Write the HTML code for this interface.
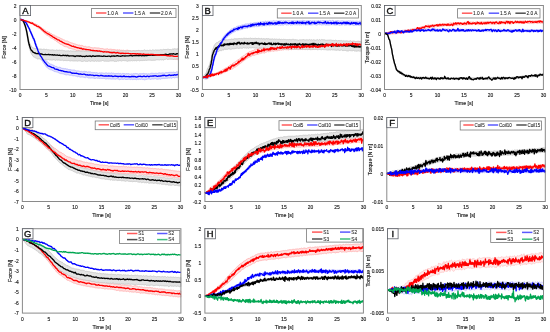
<!DOCTYPE html>
<html><head><meta charset="utf-8"><style>
html,body{margin:0;padding:0;background:#fff;}
svg{display:block;font-family:"Liberation Sans", sans-serif;will-change:transform;filter:blur(0.3px);} .t{fill:#1a1a1a;stroke:#1a1a1a;stroke-width:0.14;} .t2{fill:#1a1a1a;stroke:#1a1a1a;stroke-width:0.06;} .L{fill:#111;stroke:#111;stroke-width:0.4;}
</style></head><body>
<svg width="550" height="332" viewBox="0 0 550 332">
<rect width="550" height="332" fill="#fff"/>
<path d="M20 19.5l.5.1.5 0 .5.2.5 0 .5 0 .5.1.5.1.5.1.5 0 .5.1.5.3.5.2.5.3.5.2.5.1.5 0 .5 0 .6.3.5.2.5.3.5.1.5-.1.5.1.5.3.5.2.5.1.5.3.5.4.5.2.5.1.5.1.5.3.5.4.5.1.5.1.5.5.5.4.5.3.5.3.5.2.5.3.5.4.5.4.5.5.5.4.5.2.5.3.5.5.5.5.5.2.5.2.5.4.6.6.5.2.5-.1.5.3.5.5.5 0 .5.3.5.5.5.4.5.1.5.3.5.4.5.4.5.2.5.1.5.1.5.3.5.4.5.4.5.1.5.1.5.4.5.3.5.1.5.2.5.1.5.2.5.4.5.3.5.2.5.2.5.1.5.3.5.5.5.3.6 0 .5.3.5.4.5.2.5.1.5-.1.5 0 .5.4.5.2.5.1.5.3.5.4.5.2.5.1.5.2.5.2.5.1.5.1.5.2.5.3.5.1.5.1.5.2.5.1.5.2.5.3.5.1.5.1.5.2.5.1.5-.1.5.1.5.2.5.1.5-.1.6 0 .5.2.5.2.5.4.5.2.5 0 .5 0 .5-.1.5.2.5.3.5.3.5-.1.5-.2.5 0 .5 0 .5 0 .5.2.5.3.5.2.5 0 .5.2.5.1.5 0 .5.1.5-.1.5-.1.5 0 .5.1.5 0 .5.1.5.1.5 0 .5 0 .5 0 .5 0 .6.2.5.2.5.1.5 0 .5 0 .5-.1.5.1.5.3.5.1.5.1.5.2.5-.1.5 0 .5.1.5-.2.5-.2.5 0 .5.3.5.3.5-.1.5 0 .5 0 .5-.1.5-.1.5.2.5.1.5.1.5.2.5-.2.5-.2.5.2.5.2.5.1.5.1.5.1.6-.1.5-.2.5.2.5.2.5-.2.5-.1.5.3.5.2.5 0 .5-.1.5 0 .5.2.5-.1.5-.1.5.4.5.2.5-.3.5 0 .5.1.5-.4.5-.2.5.2.5.2.5.1.5.2.5 0 .5-.1.5.2.5.4.5 0 .5-.2.5 0 .5-.1.5-.1.5.1.6.1.5.1.5-.1.5-.2.5.2.5.1.5-.2.5-.1.5 0 .5.1.5.3.5.2.5 0 .5-.2.5 0 .5 0 .5 0 .5.2.5.1.5 0 .5-.2.5 0 .5.2.5.1.5-.2.5-.2.5.3.5.3.5 0 .5-.1.5-.3.5-.3.5 0 .5.2.5.2.6.2.5.1.5 0 .5 0 .5-.1.5 0 .5.1.5-.2.5-.3.5.3.5 0 .5-.1.5.2.5.2.5-.2.5 0 .5.2.5.2.5.3.5-.1.5-.3.5.1.5.4.5.2.5-.1.5.1.5.1.5-.2.5-.2.5-.1.5.3.5.2.5-.2.5-.1.5.1.6.2.5.2.5 0 .5.1.5 0 .5.1.5.2.5-.1.5-.2.5-.1.5 0 .5.2.5.3.5.3.5 0 .5-.3.5 0 .5.2 0 6-.5-.1-.5 0-.5-.1-.5-.2-.5-.3-.5.2-.5 0-.5-.2-.5.1-.5.1-.5-.2-.5-.3-.5 0-.5 0-.5 0-.5.1-.5-.1-.6-.1-.5.2-.5.1-.5 0-.5-.1-.5-.2-.5-.2-.5.1-.5 0-.5 0-.5 0-.5-.3-.5-.1-.5 0-.5.2-.5-.1-.5-.2-.5.2-.5.1-.5-.2-.5 0-.5-.1-.5-.2-.5-.1-.5 0-.5.3-.5 0-.5-.2-.5 0-.5-.2-.5 0-.5 0-.5-.2-.5.1-.5.3-.6.1-.5-.2-.5-.3-.5.1-.5.2-.5.1-.5-.2-.5 0-.5.2-.5-.1-.5-.2-.5-.2-.5 0-.5-.1-.5 0-.5.2-.5 0-.5-.2-.5 0-.5 0-.5-.1-.5-.2-.5-.1-.5.1-.5.4-.5.1-.5-.1-.5-.1-.5-.1-.5 0-.5.1-.5-.1-.5-.2-.5.3-.5.2-.6-.2-.5-.1-.5 0-.5-.2-.5-.1-.5 0-.5.2-.5 0-.5-.2-.5-.3-.5-.2-.5 0-.5.1-.5.3-.5.2-.5-.1-.5-.2-.5 0-.5-.1-.5-.2-.5 0-.5-.1-.5 0-.5-.1-.5-.1-.5.3-.5.1-.5-.2-.5-.3-.5.1-.5.1-.5 0-.5 0-.5-.2-.5 0-.6 0-.5-.1-.5-.1-.5.1-.5-.1-.5-.2-.5 0-.5-.1-.5-.1-.5.1-.5 0-.5 0-.5-.1-.5-.1-.5 0-.5.2-.5-.1-.5-.3-.5 0-.5.1-.5-.1-.5-.5-.5-.2-.5.3-.5 0-.5.1-.5 0-.5-.3-.5-.2-.5.3-.5.3-.5 0-.5-.4-.5-.2-.5 0-.6.1-.5 0-.5-.2-.5-.3-.5-.1-.5.1-.5.1-.5 0-.5 0-.5-.3-.5-.3-.5-.1-.5-.1-.5 0-.5 0-.5-.1-.5-.1-.5.1-.5.2-.5-.1-.5-.4-.5 0-.5.3-.5-.1-.5-.2-.5-.3-.5-.1-.5 0-.5-.1-.5-.1-.5 0-.5-.2-.5-.2-.5 0-.5-.1-.6-.1-.5.1-.5 0-.5-.3-.5-.3-.5-.2-.5-.1-.5.1-.5 0-.5-.1-.5-.3-.5-.3-.5-.3-.5-.1-.5-.2-.5-.2-.5 0-.5-.2-.5 0-.5-.2-.5-.3-.5-.2-.5 0-.5-.1-.5 0-.5-.1-.5-.4-.5-.4-.5-.4-.5-.2-.5 0-.5 0-.5-.2-.5 0-.5-.2-.6-.4-.5-.3-.5-.4-.5-.3-.5-.3-.5-.2-.5-.2-.5 0-.5-.4-.5-.5-.5-.4-.5-.6-.5-.4-.5-.1-.5-.3-.5-.4-.5-.8-.5-.4-.5 0-.5-.1-.5-.4-.5-.5-.5-.3-.5-.1-.5-.2-.5-.3-.5-.2-.5-.3-.5-.5-.5-.7-.5-.5-.5-.1-.5-.3-.5-.3-.5-.2-.6-.3-.5-.4-.5-.6-.5-.5-.5-.4-.5-.4-.5-.4-.5-.4-.5-.5-.5-.4-.5-.5-.5-.6-.5-.4-.5-.4-.5-.5-.5-.2-.5-.1-.5-.3-.5-.2-.5-.6-.5-.7-.5-.2-.5-.2-.5-.4-.5-.3-.5-.2-.5-.1-.5-.3-.5-.5-.5-.1-.5-.2-.5-.3-.5-.3-.5-.2-.5 0-.6-.1-.5-.5-.5-.5-.5-.3-.5-.1-.5 0-.5.1-.5-.2-.5-.2-.5-.2-.5-.2-.5-.2-.5-.2-.5-.2-.5-.2-.5-.1-.5-.2-.5-.1z" fill="#ffe0e0" stroke="#ffa0a0" stroke-width="0.7"/>
<path d="M20 19.5l.5-.1.5.1.5 0 .5-.1.5.1.5.1.5.2.5.3.5.5.5.6.5.4.5.7.5.7.5.5.5.7.5 1.1.5 1.2.6 1 .5.9.5 1 .5 1.3.5 1.2.5 1.2.5 1.2.5.9.5.7.5 1.2.5 1.4.5 1.4.5 1.3.5 1.5.5 1.4.5 1.3.5 1.1.5 1.3.5 1.2.5 1.1.5 1.2.5 1.1.5.7.5.6.5.7.5.7.5.7.5.8.5.7.5.7.5.8.5.6.5.5.5.4.5.3.6.4.5.7.5.7.5.3.5.1.5.4.5.5.5.3.5.2.5.1.5.1.5.3.5.3.5.2.5.1.5.2.5.5.5.4.5 0 .5 0 .5.2.5.3.5.3.5.2.5-.1.5-.1.5.1.5.1.5.2.5.5.5.1.5 0 .5.3.5 0 .5-.1.6.2.5.1.5-.1.5 0 .5.3.5.1.5-.1.5.4.5.2.5 0 .5.1.5 0 .5 0 .5.2.5.2.5-.1.5.1.5.2.5-.1.5 0 .5 0 .5.1.5.3.5.1.5.2.5.3.5-.1.5-.2.5.1.5.1.5.2.5.1.5.2.5 0 .5-.1.6 0 .5.3.5.2.5-.2.5-.4.5 0 .5.1.5.2.5 0 .5 0 .5.2.5.3.5.1.5-.3.5 0 .5 0 .5 0 .5 0 .5.3.5.2.5 0 .5 0 .5.2.5 0 .5 0 .5 0 .5 0 .5.2.5 0 .5-.2.5.1.5.2.5.3.5.1.5-.2.6-.2.5 0 .5.1.5 0 .5-.1.5 0 .5.1.5.1.5.1.5.1.5 0 .5-.1.5-.2.5-.1.5 0 .5.2.5.2.5-.2.5 0 .5.1.5 0 .5-.1.5.2.5-.1.5-.3.5.1.5.3.5 0 .5-.1.5.2.5.2.5 0 .5 0 .5 0 .5-.1.6 0 .5 0 .5-.2.5.1.5.2.5 0 .5-.2.5.1.5.4.5 0 .5-.3.5-.2.5 0 .5.2.5.1.5-.1.5.2.5.1.5-.3.5 0 .5.1.5 0 .5-.1.5 0 .5.3.5.1.5.1.5 0 .5-.2.5 0 .5.1.5 0 .5-.2.5-.1.5 0 .6 0 .5-.2.5 0 .5.1.5 0 .5.1.5.1.5.2.5.1.5-.2.5-.3.5.1.5 0 .5.1.5-.1.5-.1.5 0 .5-.1.5-.1.5.1.5.3.5.1.5-.2.5 0 .5.1.5.1.5.1.5-.2.5 0 .5.1.5 0 .5-.3.5-.2.5-.1.5 0 .6 0 .5 0 .5.1.5 0 .5 0 .5.1.5-.1.5-.2.5 0 .5.3.5 0 .5-.2.5-.2.5-.2.5-.1.5.3.5.1.5-.2.5 0 .5.1.5-.2.5 0 .5.1.5-.1.5.2.5.1.5-.4.5-.2.5 0 .5-.1.5 0 .5.3.5-.2.5-.3.5 0 .6.2.5-.1.5-.2.5.1.5.1.5 0 .5-.2.5-.1.5.2.5.1.5.2.5 0 .5-.5.5-.3.5.1.5 0 .5-.2.5-.1 0 5.7-.5.3-.5 0-.5 0-.5-.2-.5-.1-.5.4-.5.3-.5-.1-.5-.2-.5-.2-.5-.1-.5.6-.5.4-.5-.2-.5-.2-.5-.1-.5.1-.6 0-.5 0-.5 0-.5.2-.5.1-.5 0-.5 0-.5 0-.5.2-.5.1-.5-.2-.5 0-.5 0-.5.1-.5.1-.5-.1-.5.3-.5.4-.5-.1-.5-.2-.5 0-.5.1-.5.1-.5.1-.5 0-.5 0-.5-.2-.5-.2-.5-.2-.5.1-.5.2-.5.1-.5 0-.5-.1-.5.1-.6.1-.5.1-.5.2-.5-.1-.5-.2-.5-.1-.5-.1-.5.1-.5.1-.5.1-.5.2-.5.1-.5.1-.5 0-.5.2-.5-.1-.5-.2-.5.1-.5 0-.5-.3-.5-.2-.5.1-.5.2-.5 0-.5-.2-.5 0-.5.3-.5 0-.5-.2-.5.2-.5.2-.5-.2-.5-.1-.5 0-.5 0-.6-.1-.5.1-.5.2-.5 0-.5-.1-.5-.2-.5-.1-.5.3-.5.1-.5-.3-.5-.2-.5.1-.5.1-.5.1-.5.1-.5 0-.5 0-.5 0-.5-.2-.5-.3-.5 0-.5.3-.5.3-.5-.2-.5-.3-.5 0-.5.3-.5 0-.5.1-.5.2-.5-.2-.5-.3-.5-.1-.5-.2-.5 0-.6 0-.5.1-.5.2-.5 0-.5-.1-.5-.1-.5 0-.5 0-.5 0-.5 0-.5.1-.5 0-.5-.2-.5 0-.5-.1-.5-.1-.5.2-.5 0-.5-.2-.5.1-.5.1-.5.1-.5-.1-.5-.2-.5-.2-.5-.1-.5 0-.5.1-.5 0-.5-.1-.5 0-.5-.1-.5 0-.5.3-.5-.1-.6-.2-.5 0-.5.1-.5-.1-.5-.3-.5 0-.5.3-.5.2-.5 0-.5-.1-.5-.1-.5-.2-.5 0-.5-.2-.5-.1-.5.2-.5 0-.5.1-.5 0-.5-.2-.5 0-.5.1-.5-.2-.5-.3-.5-.3-.5-.1-.5.4-.5.2-.5-.1-.5-.1-.5-.2-.5-.1-.5-.2-.5.1-.5 0-.6-.1-.5.1-.5.1-.5-.2-.5-.3-.5-.2-.5.1-.5.2-.5-.1-.5-.2-.5-.4-.5-.1-.5 0-.5-.2-.5-.1-.5.1-.5-.1-.5 0-.5-.1-.5-.3-.5-.1-.5.1-.5-.1-.5 0-.5-.1-.5-.2-.5-.1-.5 0-.5-.2-.5 0-.5.4-.5-.1-.5-.3-.5-.1-.5-.2-.6-.3-.5-.1-.5-.1-.5-.1-.5 0-.5-.1-.5 0-.5-.1-.5-.2-.5-.4-.5-.2-.5-.1-.5-.3-.5-.4-.5 0-.5-.1-.5-.2-.5.2-.5-.1-.5-.4-.5-.3-.5-.2-.5-.2-.5-.4-.5-.3-.5 0-.5-.1-.5-.2-.5-.2-.5-.3-.5-.3-.5-.3-.5-.3-.5-.6-.5-.5-.6-.4-.5-.8-.5-.8-.5-.8-.5-.5-.5-.5-.5-.9-.5-.9-.5-.7-.5-.9-.5-1.2-.5-1-.5-.6-.5-1-.5-1.1-.5-.9-.5-1.1-.5-1.2-.5-1.4-.5-1.9-.5-1.5-.5-1.1-.5-1.4-.5-1.7-.5-1.5-.5-1.1-.5-1.1-.5-1.3-.5-1.3-.5-1.2-.5-1.3-.5-1.2-.5-1-.5-1.2-.5-1.2-.6-1.1-.5-1.1-.5-.9-.5-1.1-.5-1-.5-.7-.5-.5-.5-.7-.5-.7-.5-.6-.5-.5-.5-.4-.5-.1-.5-.2-.5-.1-.5-.1-.5 0-.5-.1z" fill="#e0e0ff" stroke="#a8a8ff" stroke-width="0.7"/>
<path d="M20 19.5l.5-.1.5 0 .5 0 .5.1.5.1.5.3.5.4.5.7.5 1 .5 1.3.5 1.8.5 2 .5 2.2.5 2.2.5 2.3.5 2.6.5 2.6.6 2.3.5 1.7.5 1 .5.9.5 1.2.5.8.5.4.5.1.5.3.5.4.5 0 .5.2.5.3.5-.1.5-.1.5.2.5 0 .5 0 .5.2.5.3.5.1.5-.2.5-.1.5.2.5 0 .5.1.5.2.5 0 .5-.1.5-.2.5-.1.5.3.5.3.5-.1.5-.2.6.1.5.3.5 0 .5-.1.5.2.5.1.5 0 .5 0 .5.2.5 0 .5-.2.5-.1.5.1.5.2.5 0 .5.1.5.1.5.1.5-.1.5-.3.5-.1.5.2.5.2.5 0 .5 0 .5-.1.5-.1.5.1.5.3.5 0 .5-.3.5 0 .5.2.5.3.5-.1.6 0 .5.2.5.2.5-.1.5 0 .5 0 .5 0 .5-.1.5 0 .5.1.5.2.5-.1.5-.3.5.2.5.1.5-.1.5.1.5.1.5-.1.5-.1.5.1.5.2.5.1.5-.2.5 0 .5.1.5 0 .5-.3.5-.1.5.1.5 0 .5.1.5.1.5 0 .5 0 .6 0 .5-.1.5 0 .5-.1.5 0 .5.2.5 0 .5-.1.5.1.5.1.5 0 .5 0 .5.1.5-.2.5-.1.5.1.5.3.5.1.5-.1.5-.1.5-.1.5.1.5-.1.5.1.5 0 .5-.2.5 0 .5.2.5.3.5.1.5-.4.5-.3.5-.2.5.2.5.1.6-.1.5.1.5-.2.5.1.5 0 .5 0 .5.2.5 0 .5-.3.5-.1.5.3.5-.1.5-.1.5 0 .5.1.5.1.5.1.5.1.5.2.5 0 .5-.2.5.1.5 0 .5-.2.5-.2.5.1.5.1.5.1.5-.1.5-.1.5.1.5.1.5-.2.5-.1.5 0 .6 0 .5 0 .5 0 .5.2.5.1.5-.2.5-.2.5.1.5-.1.5-.1.5-.1.5.2.5.1.5-.1.5-.1.5 0 .5.2.5.2.5-.1.5-.1.5-.1.5-.2.5 0 .5.1.5.1.5-.1.5-.1.5.3.5.1.5-.2.5 0 .5 0 .5-.1.5-.1.5.1.6.1.5 0 .5-.1.5-.2.5.1.5 0 .5-.1.5-.1.5-.1.5 0 .5.3.5.1.5-.1.5 0 .5-.2.5.1.5.2.5-.2.5-.6.5-.3.5.4.5.4.5-.1.5 0 .5 0 .5-.1.5.1.5.1.5 0 .5-.2.5-.1.5 0 .5.1.5.2.5.1.6-.5.5-.4.5.2.5.3.5.1.5-.1.5-.3.5 0 .5.1.5 0 .5 0 .5 0 .5 0 .5.1.5 0 .5-.2.5-.2.5 0 .5.1.5 0 .5.1.5-.2.5-.3.5 0 .5.1.5.1.5-.1.5.1.5 0 .5-.3.5-.1.5.2.5 0 .5-.2.5.3.6.1.5-.1.5 0 .5.2.5-.2.5-.4.5-.1.5.1.5-.3.5-.1.5.2.5 0 .5 0 .5.1.5 0 .5-.2.5-.1.5.1 0 10.2-.5-.1-.5 0-.5 0-.5 0-.5.2-.5.2-.5 0-.5-.2-.5.2-.5.1-.5-.1-.5-.1-.5 0-.5 0-.5-.1-.5 0-.5.1-.6-.1-.5 0-.5.4-.5.1-.5-.2-.5-.3-.5-.2-.5.2-.5.4-.5 0-.5.1-.5.3-.5.2-.5-.3-.5-.1-.5.1-.5 0-.5-.2-.5.2-.5.2-.5-.2-.5 0-.5 0-.5 0-.5-.1-.5 0-.5.2-.5.1-.5.2-.5.1-.5 0-.5 0-.5 0-.5.1-.5-.1-.6 0-.5.1-.5-.1-.5-.3-.5 0-.5.3-.5-.1-.5-.2-.5.1-.5.3-.5.1-.5-.2-.5-.1-.5.2-.5.1-.5-.1-.5 0-.5 0-.5.1-.5.2-.5-.1-.5-.2-.5.1-.5.2-.5.1-.5 0-.5-.2-.5-.4-.5.1-.5.5-.5.1-.5-.1-.5-.2-.5 0-.5.1-.6 0-.5-.1-.5 0-.5.2-.5 0-.5-.2-.5 0-.5.2-.5 0-.5 0-.5 0-.5.1-.5.1-.5.2-.5 0-.5-.2-.5-.2-.5-.1-.5.1-.5-.1-.5-.1-.5 0-.5-.1-.5.1-.5.4-.5.1-.5-.2-.5-.2-.5 0-.5 0-.5.1-.5.2-.5.1-.5-.2-.5.2-.6.3-.5 0-.5-.1-.5 0-.5.1-.5-.2-.5-.3-.5 0-.5 0-.5.1-.5-.1-.5-.1-.5.1-.5.2-.5 0-.5.2-.5 0-.5 0-.5-.1-.5-.1-.5.1-.5 0-.5-.1-.5.1-.5 0-.5-.1-.5-.3-.5-.2-.5-.1-.5.1-.5.4-.5.2-.5-.1-.5 0-.5.1-.6 0-.5 0-.5-.1-.5-.1-.5.3-.5 0-.5-.4-.5 0-.5.3-.5.1-.5 0-.5-.2-.5-.2-.5.1-.5 0-.5 0-.5.2-.5.2-.5-.2-.5-.3-.5 0-.5.1-.5.2-.5.2-.5-.1-.5 0-.5.2-.5-.3-.5-.3-.5 0-.5.2-.5.1-.5.1-.5.1-.5 0-.6-.1-.5-.3-.5-.1-.5-.1-.5 0-.5 0-.5.1-.5.1-.5.2-.5-.1-.5-.2-.5.1-.5-.1-.5 0-.5.1-.5 0-.5 0-.5-.1-.5-.1-.5-.1-.5.1-.5.2-.5-.1-.5-.1-.5-.1-.5-.2-.5 0-.5.1-.5 0-.5 0-.5 0-.5-.1-.5.1-.5-.1-.5 0-.6.1-.5.1-.5-.4-.5-.2-.5.2-.5-.1-.5 0-.5.2-.5-.1-.5-.3-.5-.1-.5.3-.5 0-.5-.2-.5-.1-.5.2-.5.3-.5-.2-.5-.2-.5-.2-.5-.1-.5.2-.5.1-.5 0-.5.1-.5-.3-.5 0-.5.2-.5 0-.5-.2-.5-.3-.5 0-.5.2-.5.1-.5-.3-.6-.1-.5 0-.5.2-.5.2-.5-.1-.5-.3-.5.1-.5.2-.5 0-.5 0-.5-.3-.5-.2-.5-.1-.5-.2-.5-.1-.5 0-.5.1-.5.1-.5-.2-.5-.5-.5-.3-.5-.1-.5-.3-.5-.3-.5-.2-.5-.3-.5-.4-.5-.7-.5-.8-.5-.9-.5-.8-.5-1.3-.5-1.5-.5-1.6-.5-2-.6-2.7-.5-2.8-.5-2.8-.5-2.9-.5-2.6-.5-2.2-.5-2.3-.5-2-.5-1.5-.5-1.2-.5-.9-.5-.9-.5-.7-.5-.5-.5-.4-.5-.4-.5-.3-.5-.2z" fill="#e3e3e3" stroke="#bdbdbd" stroke-width="0.7"/>
<path d="M20 19.5l.5 0 .5.2.5.2.5.2.5.3.5.4.5.7.5 1.1.5 1.4.5 1.3.5 1.5.5 1.9.5 2 .5 2.5.5 2.9.5 2.8.5 2.9.6 2.5.5 1.7.5 1.6.5 1.4.5.9.5.5.5.5.5.8.5.5.5.2.5.2.5.4.5 0 .5.2.5.4.5 0 .5.1.5-.2.5-.1.5.3.5 0 .5-.1.5.4.5.2.5-.2.5 0 .5.1.5.3.5.2.5 0 .5 0 .5 0 .5-.1.5-.1.5.2.6.1.5-.1.5 0 .5-.1.5-.1.5.3.5.1.5-.2.5.1.5.1.5 0 .5-.2.5.1.5.4.5 0 .5-.4.5.1.5.2.5.1.5.1.5-.1.5-.1.5.2.5.1.5 0 .5-.2.5 0 .5.4.5.1.5 0 .5 0 .5-.1.5-.2.5-.1.5.2.6.2.5-.2.5-.1.5.2.5.2.5 0 .5-.3.5-.1.5.4.5.3.5 0 .5-.1.5-.1.5 0 .5.1.5 0 .5-.1.5.1.5.1.5 0 .5.2.5.3.5 0 .5-.3.5-.4.5 0 .5.2.5-.1.5 0 .5.3.5.1.5-.4.5-.1.5.2.5.1.6.3.5.1.5-.1.5-.1.5.1.5.1.5 0 .5-.1.5-.3.5-.1.5.2.5.2.5 0 .5-.3.5 0 .5.1.5-.2.5 0 .5.4.5.2.5-.3.5-.3.5-.2.5.1.5.3.5.1.5-.1.5 0 .5 0 .5-.1.5-.2.5.1.5.1.5-.1.5-.1.6.1.5.1.5.1.5-.1.5 0 .5.2.5.1.5-.1.5-.3.5 0 .5.1.5 0 .5.2.5.1.5-.1.5 0 .5 0 .5-.2.5 0 .5 0 .5.1.5.2.5.1.5 0 .5-.3.5-.2.5.1.5 0 .5-.1.5 0 .5.2.5 0 .5-.1.5 0 .5-.2.6-.2.5 0 .5.1.5.2.5.1.5 0 .5.1.5.1.5-.2.5-.1.5-.2.5-.1.5.1.5 0 .5.1.5.1.5.1.5-.2.5-.1.5 0 .5 0 .5 0 .5 0 .5 0 .5 0 .5-.1.5-.1.5-.1.5 0 .5.2.5.3.5-.1.5-.3.5 0 .5.1.6-.1.5.1.5-.1.5-.2.5.1.5.1.5 0 .5-.1.5.2.5 0 .5-.3.5 0 .5.1.5.1.5.2.5-.2.5-.3.5 0 .5.3.5.2.5-.2.5-.1.5 0 .5.1.5.1.5-.2.5-.1.5 0 .5-.1.5 0 .5.1.5-.1.5-.2.5-.1.5 0 .6.3.5.1.5 0 .5 0 .5-.1.5-.1.5 0 .5-.1.5 0 .5 0 .5.1.5-.2.5-.1.5.2.5.1.5-.3.5-.2.5.1.5 0 .5-.2.5.1.5.1.5-.1.5.1.5-.1.5-.2.5-.1.5-.2.5.2.5.2.5 0 .5 0 .5 0 .5-.1.5-.3.6-.3.5.1.5.1.5-.2.5 0 .5.2.5-.2.5-.2.5.2.5.2.5 0 .5.1.5 0 .5-.2.5-.4.5 0 .5.2.5.1" fill="none" stroke="#000000" stroke-width="1.35" stroke-linejoin="round"/>
<path d="M20 19.5l.5 0 .5 0 .5 0 .5.2.5.2.5.1.5.3.5.4.5.4.5.6.5.5.5.5.5.8.5.9.5 1 .5.9.5 1 .6 1 .5 1.1.5 1.3.5 1.2.5 1.1.5 1.1.5 1.1.5 1.4.5 1.2.5.7.5 1 .5 1.5.5 1.7.5 1.5.5 1.5.5 1.3.5 1.3.5 1.3.5 1.3.5 1.2.5.9.5 1 .5 1.1.5 1 .5.5.5.6.5 1 .5 1 .5.8.5.6.5.6.5.8.5.7.5.3.5.7.6.8.5.4.5.6.5.5.5.1.5 0 .5.2.5.4.5.2.5.2.5.3.5.2.5 0 .5-.1.5.3.5.6.5.4.5.3.5 0 .5 0 .5.3.5.1.5-.1.5.4.5.4.5.2.5 0 .5 0 .5.1.5.3.5 0 .5 0 .5.1.5.2.5.3.6.1.5.1.5.1.5.1.5 0 .5 0 .5.1.5.2.5 0 .5 0 .5.1.5 0 .5 0 .5.3.5.3.5.2.5.2.5.2.5-.2.5 0 .5.2.5-.1.5 0 .5.1.5-.1.5 0 .5.3.5.1.5 0 .5.4.5 0 .5-.1.5-.1.5.1.5.2.6.2.5 0 .5-.1.5-.1.5 0 .5 0 .5.2.5.2.5.3.5 0 .5-.1.5 0 .5.2.5.2.5 0 .5-.2.5-.1.5 0 .5.2.5.1.5-.1.5 0 .5.1.5.2.5.2.5 0 .5-.1.5-.1.5 0 .5 0 .5 0 .5.1.5.1.5.1.5.2.6-.1.5-.1.5-.2.5 0 .5 0 .5 0 .5.3.5 0 .5.1.5.2.5 0 .5-.2.5-.1.5.2.5 0 .5 0 .5.1.5-.1.5-.2.5 0 .5.2.5.2.5 0 .5-.2.5-.1.5.2.5.2.5.2.5-.1.5-.1.5-.1.5-.2.5.2.5.2.5-.1.6 0 .5.2.5.2.5-.2.5-.2.5.1.5-.1.5 0 .5.2.5 0 .5 0 .5.1.5-.1.5-.4.5-.1.5.4.5.3.5-.1.5-.1.5.1.5.1.5 0 .5-.1.5-.1.5.3.5 0 .5-.1.5.2.5-.1.5-.4.5-.1.5.3.5.1.5-.3.5 0 .6.2.5 0 .5.1.5.5.5 0 .5-.3.5-.2.5-.2.5-.2.5.1.5 0 .5-.2.5.1.5.3.5 0 .5.1.5-.1.5-.2.5-.2.5 0 .5.2.5.2.5 0 .5-.1.5-.2.5-.1.5 0 .5.1.5.4.5-.1.5-.3.5-.1.5 0 .5-.1.5.1.6-.1.5-.1.5 0 .5 0 .5-.1.5-.1.5 0 .5.1.5.1.5.2.5.2.5-.1.5-.2.5-.1.5 0 .5.1.5-.1.5-.2.5.1.5-.1.5-.4.5 0 .5.1.5-.2.5 0 .5.1.5.2.5.2.5.1.5-.2.5-.1.5-.1.5-.2.5-.2.5-.2.6.2.5.3.5.1.5-.1.5-.2.5-.1.5.2.5 0 .5-.3.5-.2.5 0 .5.2.5 0 .5-.2.5 0 .5-.1.5-.2.5-.1" fill="none" stroke="#0000ff" stroke-width="1.35" stroke-linejoin="round"/>
<path d="M20 19.5l.5.1.5.1.5.1.5.2.5.1.5.1.5.2.5.2.5.1.5.2.5.1.5.1.5.1.5.2.5.3.5.2.5 0 .6.2.5.2.5.3.5.3.5.4.5 0 .5-.3.5.2.5.5.5.4.5.3.5.5.5.3.5-.1.5.3.5.6.5.3.5.1.5 0 .5.2.5.5.5.4.5.2.5.4.5.5.5.4.5.4.5.5.5.4.5.4.5.6.5.4.5.3.5.2.5.4.6.4.5.3.5.3.5.4.5.2.5.2.5.4.5.4.5.3.5.1.5.3.5.5.5.3.5.4.5.3.5.1.5.4.5.5.5.1.5.2.5.4.5.4.5.3.5 0 .5.1.5.4.5.4.5.4.5.2.5 0 .5.3.5.6.5.3.5.1.5.2.6.4.5.3.5.2.5.1.5.1.5.2.5.2.5-.1.5.3.5.2.5.1.5.3.5.3.5.2.5.2.5.3.5.2.5 0 .5-.1.5.2.5.5.5.1.5-.1.5.2.5.3.5.2.5.1.5 0 .5.1.5.1.5.2.5.3.5.1.5-.3.5 0 .6.6.5.4.5-.3.5-.1.5.2.5.1.5 0 .5.2.5.2.5 0 .5.1.5 0 .5 0 .5.1.5.1.5.1.5-.1.5.2.5.4.5 0 .5 0 .5.1.5-.1.5.1.5.2.5 0 .5-.1.5.2.5 0 .5-.2.5.1.5.3.5.2.5-.1.5-.1.6-.1.5.3.5.3.5-.1.5 0 .5.2.5.1.5.2.5.1.5-.1.5-.2.5.1.5.1.5 0 .5.1.5-.1.5 0 .5.2.5-.1.5 0 .5.4.5.2.5-.1.5-.1.5.1.5.4.5-.1.5-.4.5 0 .5.1.5 0 .5.1.5.2.5.2.5-.1.6-.4.5.1.5.2.5.2.5.2.5-.1.5 0 .5.4.5 0 .5-.3.5 0 .5 0 .5-.1.5.2.5.2.5-.1.5-.1.5.2.5-.1.5 0 .5 0 .5 0 .5 0 .5 0 .5.2.5 0 .5.1.5 0 .5.1.5 0 .5-.1.5 0 .5-.1.5.1.5.1.6-.1.5 0 .5.3.5 0 .5-.2.5-.1.5.2.5.1.5-.1.5.1.5 0 .5-.1.5.1.5.1.5 0 .5 0 .5.2.5-.1.5-.2.5.2.5.1.5 0 .5 0 .5 0 .5.1.5 0 .5 0 .5 0 .5-.1.5.2.5.1.5-.1.5 0 .5 0 .5-.2.6.1.5.1.5 0 .5.1.5.2.5.1.5-.2.5 0 .5 0 .5.1.5.4.5-.2.5-.1.5.2.5-.1.5-.1.5.3.5.1.5-.1.5 0 .5 0 .5 0 .5.1.5.1.5-.2.5 0 .5.1.5.1.5.2.5.1.5.1.5-.1.5 0 .5 0 .5.2.6.2.5-.2.5-.2.5.1.5 0 .5.1.5.1.5.1.5.2.5 0 .5 0 .5.1.5 0 .5 0 .5-.1.5-.1.5.1.5.1" fill="none" stroke="#ff0000" stroke-width="1.35" stroke-linejoin="round"/>
<rect x="20.0" y="5.5" width="158.4" height="84.0" fill="none" stroke="#8a8a8a" stroke-width="1"/>
<text x="16.4" y="7.7" font-size="4.9" text-anchor="end" class="t">2</text>
<text x="16.4" y="21.7" font-size="4.9" text-anchor="end" class="t">0</text>
<text x="16.4" y="35.7" font-size="4.9" text-anchor="end" class="t">-2</text>
<text x="16.4" y="49.7" font-size="4.9" text-anchor="end" class="t">-4</text>
<text x="16.4" y="63.7" font-size="4.9" text-anchor="end" class="t">-6</text>
<text x="16.4" y="77.7" font-size="4.9" text-anchor="end" class="t">-8</text>
<text x="16.4" y="91.7" font-size="4.9" text-anchor="end" class="t">-10</text>
<text x="20.0" y="97.1" font-size="4.9" text-anchor="middle" class="t">0</text>
<text x="46.4" y="97.1" font-size="4.9" text-anchor="middle" class="t">5</text>
<text x="72.8" y="97.1" font-size="4.9" text-anchor="middle" class="t">10</text>
<text x="99.2" y="97.1" font-size="4.9" text-anchor="middle" class="t">15</text>
<text x="125.6" y="97.1" font-size="4.9" text-anchor="middle" class="t">20</text>
<text x="152.0" y="97.1" font-size="4.9" text-anchor="middle" class="t">25</text>
<text x="178.4" y="97.1" font-size="4.9" text-anchor="middle" class="t">30</text>
<text x="99.2" y="104.9" font-size="5.3" text-anchor="middle" class="t">Time [s]</text>
<text transform="translate(6.2,47.5) rotate(-90)" font-size="5.5" text-anchor="middle" class="t">Force [N]</text>
<rect x="20.0" y="5.5" width="10.6" height="10.1" fill="#fff" stroke="#5c6068" stroke-width="0.8"/>
<text x="25.3" y="14.2" font-size="9.4" text-anchor="middle" class="L">A</text>
<rect x="91.5" y="8.6" width="84.5" height="9.0" fill="#fff" stroke="#7a7a7a" stroke-width="0.8"/>
<line x1="96.0" y1="13.0" x2="106.4" y2="13.0" stroke="#ff5a5a" stroke-width="1.5"/>
<text x="107.2" y="14.7" font-size="4.8" class="t2">1.0 A</text>
<line x1="123.0" y1="13.0" x2="133.4" y2="13.0" stroke="#5a5aff" stroke-width="1.5"/>
<text x="134.2" y="14.7" font-size="4.8" class="t2">1.5 A</text>
<line x1="149.8" y1="13.0" x2="160.2" y2="13.0" stroke="#505050" stroke-width="1.5"/>
<text x="161.0" y="14.7" font-size="4.8" class="t2">2.0 A</text>
<path d="M202.4 77.5l.3-.1.4 0 .3-.1.3-.3.4-.1.3 0 .3 0 .4 0 .3-.2.3-.1.4-.1.3-.2.3-.1.4-.1.3-.1.4-.2.3-.3.3 0 .4 0 .3 0 .3-.1.4 0 .3-.3.3-.3.4 0 .3-.1.3 0 .4.1.3-.1.3-.1.4-.2.3-.2.3-.1.4-.2.3-.2.3-.2.4-.1.3-.1.3.1.4.2.3-.1.4-.4.3-.3.3-.1.4-.3.3-.2.3-.2.4-.1.3-.1.3 0 .4-.3.3-.2.3-.1.4-.3.3-.3.3-.1.4 0 .3-.1.3-.2.4-.3.3-.2.3-.1.4-.3.3-.3.3-.2.4-.1.3 0 .3-.3.4-.3.3-.1.4-.1.3-.2.3-.1.4-.4.3-.1.3-.1.4-.3.3-.3.3-.2.4-.2.3-.3.3 0 .4-.4.3-.6.3 0 .4.3.3-.2.3-.6.4-.5.3-.1.3 0 .4-.3.3-.4.3-.3.4-.1.3-.2.3-.2.4-.1.3-.1.4-.3.3-.5.3-.3.4 0 .3-.1.3-.6.4-.5.3-.1.3.1.4 0 .3-.3.3-.3.4-.2.3-.4.3-.6.4-.4.3-.2.3-.2.4-.1.3-.3.3-.3.4-.3.3-.1.3-.1.4-.1.3-.1.4-.4.3-.5.3-.2.4-.3.3-.4.3-.1.4-.2.3-.2.3-.3.4-.2.3-.1.3-.3.4-.2.3-.2.3-.2.4-.2.3-.2.3.2.4 0 .3-.2.3-.2.4-.1.3-.1.3-.2.4-.2.3.1.3-.1.4-.3.3-.3.4-.2.3-.2.3 0 .4.1.3.1.3-.3.4-.3.3-.1.3-.1.4 0 .3-.1.3-.2.4-.1.3-.1.3 0 .4-.1.3-.2.3 0 .4.1.3.1.3-.1.4-.3.3-.3.3-.1.4.3.3.1.3-.1.4-.1.3-.3.4 0 .3 0 .3-.2.4 0 .3 0 .3 0 .4 0 .3-.3.3-.3.4-.2.3 0 .3.1.4 0 .3 0 .3 0 .4-.3.3-.1.3.2.4 0 .3-.3.3.1.4.3.3.1.3-.2.4-.1.3-.2.4-.1.3 0 .3-.1.4-.1.3-.1.3.1.4 0 .3 0 .3 0 .4-.2.3-.2.3.1.4-.2.3 0 .3-.2.4-.3.3.1.3.1.4.1.3.2.3.1.4.1.3-.1.3-.1.4-.2.3-.1.3-.2.4.1.3.2.4-.2.3-.3.3 0 .4.3.3 0 .3-.2.4-.3.3-.1.3.1.4 0 .3.1.3.1.4 0 .3-.1.3.1.4 0 .3-.2.3 0 .4.1.3.1.3-.1.4-.2.3-.1.3.1.4-.1.3 0 .3.2.4 0 .3 0 .4.2.3-.1.3-.4.4 0 .3.1.3-.3.4-.2.3.3.3.3.4.1.3-.1.3-.1.4 0 .3 0 .3-.1.4.1.3 0 .3-.1.4.2.3.1.3-.3.4-.3.3.1.3.1.4 0 .3 0 .4 0 .3.2.3 0 .4-.1.3.2.3 0 .4-.2.3-.2.3.2.4.3.3-.2.3-.2.4.3.3.1.3-.2.4-.3.3-.2.3 0 .4.2.3.1.3 0 .4-.2.3-.2.3.1.4.1.3.2.3-.1.4.1.3 0 .4-.1.3.1.3-.1.4-.2.3 0 .3.2.4 0 .3-.2.3.1.4 0 .3-.1.3.1.4 0 .3.1.3 0 .4 0 .3.2.3-.1.4-.4.3-.2.3.2.4.1.3.2.3.1.4 0 .3-.1.3-.1.4-.2.3.1.4.1.3-.1.3-.2.4 0 .3.1.3 0 .4-.1.3-.2.3.1.4-.1.3 0 .3.1.4-.2.3-.1.3.3.4.3.3.1.3-.1.4-.5.3-.2.3.2.4 0 .3-.2.3 0 .4.1.3-.2.4.1.3 0 .3 0 .4-.1.3-.2.3-.2.4 0 .3.1.3 0 .4.1.3 0 .3 0 .4-.1.3-.1.3-.1.4 0 .3.1.3 0 .4-.2.3-.1.3 0 .4.1.3.2.3 0 .4 0 .3-.2.3-.1.4 0 .3 0 .4 0 .3 0 .3.1.4.1.3-.1.3-.1.4-.1.3-.1.3-.2.4.1.3 0 .3 0 .4.1.3 0 .3-.1.4.1.3.2.3 0 .4 0 .3.3.3-.1.4-.3.3-.1.3-.1.4-.2.3.2.3.2.4-.1.3 0 .4.2.3-.1.3 0 .4.2.3-.2.3-.3.4-.1.3.1.3.2.4.1.3 0 .3-.2.4-.1.3.1.3 0 .4-.3.3 0 .3.2.4.2.3-.1.3 0 .4 0 .3-.2.3.1.4.3.3-.1.4-.2.3.1.3.2.4-.2.3-.1.3 0 .4-.1.3-.1.3 0 .4 0 .3.1.3 0 .4-.1.3.1 0 5.6-.3 0-.4-.3-.3-.1-.3.1-.4.1-.3-.1-.3-.1-.4 0-.3.1-.3.1-.4-.1-.3 0-.3.2-.4 0-.3-.2-.4 0-.3.2-.3.1-.4-.1-.3-.1-.3.1-.4 0-.3-.1-.3 0-.4-.2-.3 0-.3.1-.4.1-.3.2-.3 0-.4-.1-.3 0-.3 0-.4 0-.3 0-.3.2-.4.1-.3-.1-.3-.3-.4-.1-.3.1-.4.2-.3-.1-.3-.1-.4.2-.3.2-.3-.2-.4-.1-.3.2-.3-.1-.4-.2-.3.1-.3-.1-.4 0-.3.2-.3.2-.4-.1-.3-.2-.3-.2-.4.2-.3.1-.3 0-.4.1-.3 0-.3 0-.4.2-.3.1-.3.1-.4-.1-.3-.3-.4 0-.3.2-.3 0-.4-.1-.3.1-.3.1-.4-.1-.3-.1-.3 0-.4-.1-.3.1-.3.2-.4 0-.3.1-.3 0-.4 0-.3.1-.3 0-.4 0-.3.1-.3.1-.4-.1-.3-.2-.3.1-.4.1-.3.1-.3 0-.4 0-.3.2-.4 0-.3 0-.3 0-.4.1-.3-.1-.3.1-.4 0-.3 0-.3.2-.4.2-.3-.1-.3 0-.4.1-.3-.2-.3-.3-.4.2-.3.2-.3 0-.4.1-.3.2-.3-.1-.4-.2-.3 0-.3.2-.4-.1-.3 0-.4 0-.3-.1-.3 0-.4.1-.3.1-.3.1-.4-.2-.3 0-.3.2-.4-.1-.3-.1-.3.3-.4.1-.3-.1-.3-.2-.4-.1-.3.2-.3.2-.4.1-.3.1-.3.2-.4-.2-.3-.5-.3 0-.4.4-.3.1-.3-.3-.4-.2-.3.2-.4.4-.3 0-.3-.1-.4-.2-.3-.2-.3.1-.4.2-.3-.1-.3-.1-.4 0-.3.1-.3.3-.4.2-.3-.4-.3-.2-.4 0-.3-.1-.3-.1-.4.2-.3.4-.3.3-.4-.3-.3-.1-.3 0-.4 0-.3-.1-.3-.1-.4.1-.3.1-.4-.1-.3-.1-.3.3-.4.1-.3-.1-.3.1-.4 0-.3-.1-.3-.3-.4 0-.3.2-.3.1-.4 0-.3-.1-.3-.1-.4 0-.3 0-.3 0-.4.1-.3-.1-.3 0-.4.1-.3-.2-.3.2-.4.2-.3.1-.4 0-.3-.1-.3-.2-.4-.2-.3.1-.3.3-.4.1-.3.1-.3.3-.4-.2-.3-.3-.3 0-.4-.2-.3.2-.3.2-.4.1-.3-.1-.3-.3-.4-.2-.3.1-.3.2-.4.2-.3.1-.3 0-.4 0-.3-.1-.3 0-.4.1-.3.4-.4-.2-.3-.3-.3.1-.4.2-.3 0-.3.2-.4.2-.3 0-.3-.1-.4-.2-.3.3-.3.3-.4 0-.3-.1-.3.1-.4 0-.3-.1-.3 0-.4.2-.3.2-.3-.1-.4-.1-.3.3-.3.1-.4 0-.3-.2-.3-.1-.4 0-.3.1-.4 0-.3-.1-.3.2-.4.3-.3.1-.3 0-.4 0-.3 0-.3.1-.4 0-.3.2-.3 0-.4-.4-.3.1-.3.3-.4.2-.3 0-.3 0-.4.3-.3.2-.3.3-.4.2-.3-.1-.3-.1-.4-.1-.3 0-.4-.2-.3.2-.3.3-.4.1-.3 0-.3.1-.4.2-.3.1-.3-.1-.4 0-.3.2-.3 0-.4.1-.3.2-.3.3-.4.1-.3-.1-.3 0-.4.1-.3.2-.3 0-.4.1-.3.1-.3.3-.4 0-.3.1-.3.3-.4.2-.3-.4-.4-.1-.3 0-.3 0-.4.5-.3.4-.3-.2-.4.3-.3.5-.3 0-.4-.3-.3.2-.3.3-.4.3-.3.1-.3 0-.4 0-.3.4-.3.5-.4 0-.3.2-.3.3-.4.3-.3.4-.3.2-.4.2-.3.2-.3.2-.4.1-.3.3-.4.1-.3.1-.3.4-.4.6-.3.4-.3.2-.4.2-.3.2-.3.1-.4.2-.3.5-.3.2-.4.1-.3.4-.3.2-.4.1-.3.3-.3.4-.4.4-.3.1-.3 0-.4.3-.3.3-.3.4-.4.3-.3 0-.4.1-.3.1-.3 0-.4.3-.3.5-.3.4-.4.3-.3.1-.3 0-.4.1-.3.2-.3.1-.4.1-.3 0-.3 0-.4.3-.3.4-.3.2-.4 0-.3.3-.3.2-.4.2-.3.4-.3 0-.4-.3-.3.1-.3.3-.4.3-.3.3-.4.2-.3.2-.3.1-.4 0-.3 0-.3.1-.4.1-.3.2-.3.4-.4.4-.3 0-.3 0-.4.1-.3.1-.3.2-.4-.2-.3-.1-.3.1-.4.1-.3.3-.3.1-.4 0-.3.1-.3.1-.4.3-.3.2-.3 0-.4-.1-.3-.1-.4.1-.3.2-.3 0-.4.2-.3.3-.3.3-.4-.1-.3-.2-.3 0-.4.3-.3.2-.3.1-.4 0-.3-.2-.3 0-.4-.1-.3 0-.3.1-.4.3-.3.2-.3.2-.4.2-.3-.4-.3-.2-.4.3-.3.1-.4-.2-.3 0-.3.2-.4.2-.3.2-.3.1-.4-.1-.3 0-.3 0-.4 0-.3.1-.3 0-.4.1-.3 0z" fill="#ffe0e0" stroke="#ffa0a0" stroke-width="0.7"/>
<path d="M202.4 77.5l.3-.1.4-.2.3-.1.3-.2.4-.1.3-.2.3-.1.4-.2.3-.1.3-.2.4-.1.3-.2.3-.5.4-.3.3.1.4.1.3-.1.3-.3.4-.6.3-.5.3-.3.4-.6.3-.8.3-.7.4-.4.3-.9.3-1.3.4-1 .3-1.3.3-1.5.4-1.6.3-1.7.3-1.7.4-1.5.3-1.4.3-1.3.4-.8.3-1 .3-1.4.4-1.2.3-.7.4-.5.3-.9.3-1 .4-.9.3-.9.3-.6.4-.4.3-.7.3-.9.4-.6.3-.4.3-.5.4-.4.3-.4.3-.5.4-.5.3-.7.3-.9.4-.5.3-.2.3-.5.4-.7.3-.8.3-.4.4-.1.3-.3.3-.5.4-.6.3-.4.4-.1.3 0 .3-.3.4-.5.3-.5.3-.3.4 0 .3-.2.3-.5.4-.3.3-.3.3-.5.4-.4.3 0 .3-.1.4-.4.3-.5.3-.2.4.3.3-.1.3-.3.4-.3.3-.2.3-.2.4-.1.3-.2.3-.1.4 0 .3-.1.4-.4.3-.1.3-.2.4-.4.3-.1.3.1.4-.1.3-.1.3 0 .4-.2.3 0 .3 0 .4 0 .3-.1.3-.3.4 0 .3-.1.3-.2.4 0 .3-.1.3-.2.4 0 .3.1.3-.1.4 0 .3-.3.4-.2.3-.1.3-.2.4-.1.3 0 .3 0 .4 0 .3.2.3-.1.4-.3.3 0 .3 0 .4.1.3.2.3-.2.4-.3.3-.3.3-.2.4.1.3 0 .3 0 .4.1.3.1.3.1.4-.1.3-.2.3-.2.4 0 .3-.2.4-.1.3.1.3-.2.4-.1.3.4.3 0 .4-.4.3 0 .3.3.4-.4.3-.5.3.3.4.3.3 0 .3-.1.4 0 .3-.2.3-.3.4-.2.3.1.3 0 .4.1.3.2.3-.1.4-.2.3 0 .3.1.4-.1.3-.3.4.2.3.2.3-.1.4-.4.3-.2.3-.1.4.2.3.4.3-.2.4-.2.3 0 .3 0 .4 0 .3 0 .3 0 .4.2.3.1.3-.3.4 0 .3 0 .3-.2.4-.1.3.1.3.1.4-.1.3 0 .4 0 .3-.2.3-.3.4.1.3.2.3 0 .4.2.3.2.3-.1.4-.2.3-.1.3 0 .4-.1.3.1.3.1.4.1.3.1.3-.1.4-.2.3.2.3-.1.4-.3.3-.1.3.1.4.2.3 0 .3-.1.4-.1.3.1.4.3.3 0 .3-.3.4-.1.3.1.3.1.4.1.3.1.3-.1.4-.4.3.1.3.2.4.1.3-.1.3-.1.4-.1.3.2.3.2.4-.2.3-.3.3 0 .4.1.3.2.3.2.4.1.3-.2.3-.2.4 0 .3 0 .4-.1.3.1.3-.1.4 0 .3.1.3-.1.4 0 .3.1.3.1.4.2.3-.1.3-.2.4-.1.3.1.3.1.4-.1.3-.1.3-.1.4.1.3.3.3-.1.4 0 .3 0 .3-.2.4-.1.3.2.4.2.3-.1.3-.1.4.1.3-.1.3-.4.4-.2.3.1.3.2.4 0 .3 0 .3.1.4.2.3 0 .3.1.4.1.3-.2.3 0 .4.1.3-.3.3 0 .4.3.3.1.3 0 .4 0 .3 0 .3-.2.4-.1.3-.1.4.2.3 0 .3 0 .4.3.3.1.3-.3.4 0 .3.2.3-.1.4-.1.3.1.3 0 .4-.2.3 0 .3.1.4.1.3.2.3 0 .4-.2.3-.1.3 0 .4 0 .3 0 .3-.3.4-.1.3.1.3.3.4.2.3-.1.4-.3.3 0 .3.1.4 0 .3.1.3.1.4-.1.3-.3.3-.2.4.1.3 0 .3.2.4 0 .3-.1.3.1.4.2.3.2.3-.2.4-.3.3.2.3.1.4-.1.3 0 .3.1.4.1.3-.2.4-.1.3-.1.3-.2.4 0 .3.1.3.1.4.2.3.4.3-.2.4-.4.3-.2.3 0 .4 0 .3 0 .3.3.4.1.3.3.3.2.4-.2.3-.2.3 0 .4-.1.3-.1.3.1.4.2.3-.2.3-.3.4 0 .3.1.4.2.3.2.3.1.4 0 .3-.1.3 0 .4.1.3-.2.3-.1.4.1.3-.2.3 0 .4.2.3.2.3.1.4-.2.3-.2.3.1.4.1.3.3.3.1.4-.2.3-.2.3.1.4 0 .3-.2.3 0 .4.2.3.1.4-.2.3-.2.3 0 .4.3.3-.1.3-.2.4-.1.3.3.3.3.4-.1.3-.1.3.3.4 0 .3-.5.3-.2.4.3.3.1.3-.1.4.1.3.3.3.1.4-.1.3-.2.3 0 .4 0 .3-.1.4.1.3.1.3-.1.4.1.3.1.3.2.4 0 .3-.3.3-.2.4 0 .3.1.3.1.4-.1.3 0 0 4.2-.3-.2-.4-.1-.3.1-.3 0-.4 0-.3.2-.3-.1-.4-.1-.3 0-.3-.1-.4-.1-.3-.1-.3.1-.4.2-.3.1-.4-.2-.3 0-.3.1-.4 0-.3 0-.3.1-.4-.1-.3.1-.3.2-.4-.2-.3-.3-.3-.1-.4.1-.3-.1-.3-.3-.4.1-.3.3-.3.2-.4 0-.3-.1-.3-.1-.4-.1-.3 0-.3-.1-.4-.1-.3 0-.4 0-.3 0-.3.3-.4.3-.3-.1-.3-.1-.4-.2-.3.1-.3.2-.4-.1-.3-.3-.3-.3-.4.1-.3.3-.3.1-.4-.1-.3.1-.3 0-.4-.1-.3-.1-.3.3-.4.2-.3-.1-.3 0-.4.1-.3-.2-.3-.2-.4-.1-.3 0-.4 0-.3 0-.3.2-.4 0-.3 0-.3.1-.4-.1-.3 0-.3.1-.4-.1-.3-.2-.3-.1-.4 0-.3.2-.3-.1-.4-.1-.3.3-.3-.1-.4-.3-.3.2-.3.1-.4-.2-.3.2-.3.2-.4-.1-.3-.1-.3.1-.4 0-.3 0-.4-.1-.3.1-.3-.1-.4 0-.3 0-.3 0-.4.1-.3.1-.3 0-.4-.2-.3-.3-.3 0-.4.1-.3 0-.3.2-.4 0-.3-.1-.3.1-.4.2-.3-.1-.3-.2-.4-.1-.3-.1-.3-.1-.4 0-.3.4-.4.2-.3-.3-.3-.3-.4.1-.3.2-.3 0-.4-.1-.3.4-.3.1-.4-.2-.3-.1-.3-.1-.4-.2-.3-.3-.3.1-.4.2-.3.1-.3-.2-.4 0-.3.2-.3.1-.4-.1-.3.1-.3 0-.4 0-.3 0-.3.1-.4 0-.3-.1-.4-.1-.3 0-.3 0-.4.1-.3.2-.3 0-.4-.1-.3-.3-.3.1-.4.1-.3 0-.3.1-.4.1-.3-.1-.3-.2-.4-.1-.3 0-.3.1-.4 0-.3 0-.3-.2-.4.1-.3.2-.3.2-.4-.1-.3-.2-.3 0-.4.1-.3.1-.4 0-.3.1-.3 0-.4-.2-.3-.2-.3 0-.4.2-.3.1-.3-.1-.4-.1-.3.1-.3.1-.4-.1-.3-.1-.3 0-.4 0-.3 0-.3-.1-.4-.2-.3 0-.3.3-.4.2-.3 0-.3-.1-.4 0-.3.1-.4.1-.3.2-.3-.2-.4-.4-.3-.2-.3.1-.4.2-.3.3-.3 0-.4-.2-.3 0-.3 0-.4 0-.3.2-.3 0-.4-.4-.3-.2-.3.3-.4.1-.3-.3-.3 0-.4.3-.3.3-.3.1-.4 0-.3-.2-.3 0-.4 0-.3 0-.4-.1-.3 0-.3.2-.4.2-.3-.1-.3-.2-.4-.1-.3.1-.3.2-.4-.1-.3-.2-.3-.1-.4-.1-.3 0-.3.2-.4.1-.3.1-.3 0-.4 0-.3 0-.3.1-.4.2-.3-.1-.3-.3-.4-.2-.3.1-.3.1-.4.1-.3 0-.4.1-.3.1-.3.2-.4-.1-.3-.3-.3.2-.4.3-.3.1-.3-.3-.4-.1-.3 0-.3-.1-.4.1-.3.1-.3.2-.4.1-.3 0-.3 0-.4 0-.3-.2-.3 0-.4.2-.3 0-.3-.1-.4 0-.3.1-.4.1-.3.2-.3-.1-.4-.1-.3.1-.3 0-.4-.2-.3 0-.3.2-.4.1-.3.1-.3.3-.4.1-.3 0-.3-.1-.4-.1-.3.2-.3.1-.4 0-.3 0-.3 0-.4-.1-.3-.2-.3.1-.4.2-.3.2-.3 0-.4 0-.3-.1-.4.1-.3 0-.3 0-.4 0-.3-.1-.3.2-.4.4-.3.1-.3 0-.4.1-.3.1-.3 0-.4 0-.3-.2-.3 0-.4.2-.3.3-.3.3-.4 0-.3-.2-.3-.1-.4.1-.3.1-.3.2-.4.2-.3 0-.3 0-.4.1-.3 0-.4 0-.3.3-.3.3-.4 0-.3-.1-.3.1-.4.2-.3.3-.3 0-.4 0-.3 0-.3.1-.4 0-.3 0-.3.1-.4.3-.3.3-.3 0-.4.1-.3.1-.3-.1-.4-.1-.3.2-.3.4-.4.2-.3-.1-.4.3-.3.4-.3.2-.4.1-.3-.1-.3.1-.4.3-.3.2-.3.2-.4.3-.3.4-.3.1-.4.1-.3.3-.3.3-.4.4-.3.2-.3.2-.4.1-.3.2-.3.5-.4.5-.3.2-.3.2-.4.3-.3.2-.3.4-.4.5-.3.5-.4.3-.3.3-.3.3-.4.4-.3.6-.3.5-.4.4-.3.4-.3.5-.4.6-.3.5-.3.3-.4.3-.3.5-.3.8-.4.7-.3.8-.3.7-.4.6-.3.5-.3.6-.4.6-.3.7-.3.6-.4.6-.3 1-.3.9-.4.9-.3.9-.4 1.1-.3 1.1-.3 1-.4 1-.3 1.1-.3 1.3-.4 1.7-.3 1.7-.3 1.5-.4 1.3-.3 1.6-.3 1.7-.4 1.3-.3 1-.3.8-.4.8-.3.7-.3.6-.4.5-.3.4-.3.3-.4.2-.3.3-.3.1-.4 0-.3.2-.4 0-.3-.2-.3-.1-.4-.1-.3-.2-.3 0-.4 0-.3-.2-.3-.1-.4 0-.3-.1-.3-.1-.4-.2-.3-.1z" fill="#e0e0ff" stroke="#a8a8ff" stroke-width="0.7"/>
<path d="M202.4 77.5l.3-.3.4-.4.3-.4.3-.5.4-.4.3-.4.3-.5.4-.4.3-.4.3-.4.4-.7.3-.6.3-.9.4-1.2.3-1.3.4-.8.3-.2.3-.6.4-.8.3-.6.3-.8.4-1.1.3-1.2.3-1 .4-1 .3-1.4.3-2.2.4-2.5.3-2.4.3-1.8.4-1 .3-.7.3-.9.4-1 .3-.9.3-.6.4-.6.3-.4.3-.4.4-.5.3-.4.4-.2.3.1.3.1.4-.3.3-.4.3-.3.4-.1.3 0 .3-.4.4-.5.3-.1.3 0 .4-.2.3-.1.3-.1.4-.1.3 0 .3.1.4 0 .3-.4.3-.2.4.3.3.1.3-.1.4-.1.3 0 .3 0 .4 0 .3-.1.4-.1.3 0 .3 0 .4-.1.3.1.3.1.4-.1.3-.2.3-.1.4-.1.3.1.3-.1.4.1.3 0 .3-.3.4-.1.3 0 .3-.2.4.2.3.2.3-.1.4-.1.3.1.3 0 .4 0 .3-.4.3-.4.4.2.3.3.4-.1.3 0 .3 0 .4-.1.3 0 .3.1.4-.1.3 0 .3-.1.4-.1.3 0 .3 0 .4.1.3.1.3-.1.4-.2.3-.1.3.2.4.2.3 0 .3 0 .4-.1.3-.2.3-.1.4.1.3-.1.4 0 .3.1.3 0 .4 0 .3.1.3 0 .4-.2.3 0 .3.1.4.1.3 0 .3 0 .4-.1.3 0 .3 0 .4 0 .3 0 .3-.1.4-.2.3 0 .3.2.4.2.3-.1.3-.3.4.2.3.3.3-.1.4 0 .3 0 .4 0 .3-.1.3-.3.4-.1.3.3.3.2.4 0 .3 0 .3 0 .4 0 .3 0 .3 0 .4-.2.3.1.3.1.4 0 .3.1.3 0 .4.2.3-.1.3-.3.4-.1.3.3.3.1.4.1.3.1.3-.1.4-.1.3-.1.4 0 .3.1.3.2.4 0 .3 0 .3 0 .4-.1.3-.3.3.1.4.2.3 0 .3 0 .4 0 .3-.1.3-.1.4.2.3.2.3 0 .4.1.3 0 .3-.1.4-.1.3.1.3.1.4-.1.3-.2.4.2.3.2.3.1.4-.1.3-.1.3-.1.4-.1.3 0 .3.2.4.3.3 0 .3-.2.4 0 .3.1.3 0 .4.1.3 0 .3 0 .4-.2.3-.1.3 0 .4.1.3.1.3.2.4.1.3 0 .3-.4.4.1.3.2.4 0 .3.1.3-.1.4-.2.3.1.3 0 .4 0 .3.1.3 0 .4 0 .3-.1.3.1.4.1.3.1.3.1.4-.2.3 0 .3.1.4 0 .3-.1.3 0 .4 0 .3-.2.3 0 .4.2.3.1.3 0 .4 0 .3 0 .4-.1.3-.2.3 0 .4.2.3-.2.3 0 .4.2.3.2.3-.1.4 0 .3 0 .3 0 .4.2.3 0 .3-.2.4.1.3.1.3 0 .4.1.3.2.3.1.4-.2.3-.2.3-.1.4-.1.3.1.4.2.3-.1.3-.1.4.2.3.1.3-.3.4-.2.3.1.3-.1.4-.1.3.3.3.2.4-.3.3 0 .3.2.4 0 .3-.2.3 0 .4.2.3.1.3-.1.4-.2.3.1.3.2.4-.2.3-.1.3-.1.4-.1.3.2.4.3.3.1.3-.1.4-.1.3-.3.3.1.4.5.3.1.3-.2.4-.4.3.1.3.3.4 0 .3-.3.3.1.4.3.3 0 .3-.3.4 0 .3 0 .3-.2.4-.1.3.2.3.4.4 0 .3-.2.3-.3.4-.2.3.2.4.3.3.1.3-.2.4-.1.3-.2.3-.1.4.3.3-.1.3-.1.4.1.3.1.3 0 .4 0 .3 0 .3.2.4.2.3 0 .3 0 .4 0 .3.1.3-.1.4-.1.3.1.3-.1.4-.1.3.2.4.1.3 0 .3-.1.4-.3.3-.1.3.3.4.3.3 0 .3-.2.4-.1.3.2.3.1.4-.2.3 0 .3.2.4.1.3 0 .3.1.4-.2.3-.3.3 0 .4.3.3.1.3 0 .4.1.3.2.3 0 .4-.1.3-.1.4-.1.3 0 .3 0 .4.1.3.2.3 0 .4-.2.3-.2.3 0 .4.1.3.1.3.2.4.1.3 0 .3 0 .4-.2.3 0 .3.2.4 0 .3-.2.3.1.4.2.3.1.3-.1.4-.2.3 0 .3.1.4.1.3.1.4.1.3 0 .3 0 .4-.1.3 0 .3-.1.4-.3.3 0 .3.3.4.2.3.1.3.1.4-.1.3-.1.3 0 .4-.1.3 0 .3 0 .4.1.3 0 .3.2.4.3.3.2.3 0 .4-.3.3-.2.4-.1.3 0 .3 0 .4.1.3 0 .3-.2.4 0 .3.1.3.2.4 0 .3-.1.3.2.4.3.3.2 0 9.4-.3-.2-.4-.2-.3.1-.3.1-.4-.1-.3-.3-.3-.1-.4.1-.3-.1-.3.1-.4.1-.3.1-.3 0-.4-.1-.3.2-.4.1-.3-.3-.3 0-.4.1-.3-.1-.3 0-.4-.2-.3-.3-.3 0-.4.3-.3 0-.3-.1-.4.1-.3 0-.3-.2-.4-.1-.3.1-.3.2-.4-.1-.3-.3-.3.1-.4.3-.3.2-.3-.1-.4.1-.3 0-.4-.2-.3 0-.3 0-.4 0-.3-.1-.3-.2-.4-.1-.3-.1-.3.1-.4.2-.3.1-.3-.2-.4.1-.3.1-.3-.2-.4-.1-.3-.1-.3-.3-.4-.1-.3.2-.3.1-.4 0-.3.1-.3.2-.4-.1-.3-.2-.3-.1-.4 0-.3 0-.4-.1-.3.2-.3.1-.4 0-.3 0-.3-.1-.4-.1-.3.2-.3 0-.4-.3-.3 0-.3.1-.4-.2-.3-.2-.3.1-.4.1-.3.1-.3-.1-.4-.2-.3 0-.3.1-.4.2-.3.1-.3-.2-.4 0-.3.1-.3 0-.4 0-.3 0-.4.1-.3-.1-.3-.2-.4-.1-.3.2-.3 0-.4 0-.3-.3-.3-.2-.4.3-.3 0-.3-.3-.4.1-.3.1-.3 0-.4-.1-.3 0-.3.1-.4.1-.3.1-.3-.1-.4 0-.3-.1-.3-.1-.4-.1-.3 0-.4.1-.3.1-.3 0-.4-.1-.3.1-.3.1-.4 0-.3-.2-.3-.1-.4 0-.3-.1-.3.1-.4.1-.3.1-.3-.1-.4 0-.3 0-.3-.1-.4-.1-.3.1-.3 0-.4 0-.3.2-.3 0-.4-.1-.3.1-.3.1-.4-.2-.3 0-.4-.1-.3-.1-.3 0-.4.1-.3 0-.3.1-.4.2-.3-.1-.3-.2-.4-.1-.3 0-.3 0-.4.1-.3-.1-.3.1-.4.2-.3 0-.3-.3-.4-.1-.3.1-.3.1-.4-.2-.3.1-.3 0-.4-.1-.3.3-.3.1-.4-.2-.3-.1-.4 0-.3.2-.3 0-.4-.2-.3 0-.3.1-.4-.1-.3-.4-.3-.1-.4.3-.3.3-.3-.1-.4-.1-.3.1-.3.1-.4 0-.3-.2-.3.1-.4.2-.3-.2-.3-.2-.4.1-.3 0-.3 0-.4.2-.3-.2-.4-.1-.3.2-.3 0-.4-.2-.3.3-.3.1-.4-.3-.3-.1-.3.3-.4 0-.3-.3-.3 0-.4-.2-.3-.1-.3.2-.4 0-.3-.2-.3.2-.4.2-.3.1-.3-.2-.4-.1-.3 0-.3 0-.4.2-.3.1-.3-.1-.4 0-.3-.3-.4-.2-.3.1-.3.1-.4 0-.3.2-.3.1-.4-.2-.3 0-.3.2-.4-.1-.3-.1-.3 0-.4 0-.3 0-.3-.2-.4 0-.3.2-.3-.2-.4-.3-.3.2-.3.1-.4-.1-.3.1-.3 0-.4-.2-.3-.1-.3.1-.4 0-.3 0-.4.1-.3-.1-.3.1-.4.1-.3-.4-.3-.2-.4.1-.3.1-.3-.1-.4 0-.3.2-.3.2-.4-.1-.3-.4-.3 0-.4.3-.3 0-.3-.2-.4-.2-.3.1-.3 0-.4-.1-.3.1-.3 0-.4 0-.3.1-.4.1-.3 0-.3-.2-.4-.2-.3 0-.3.2-.4 0-.3 0-.3-.1-.4 0-.3-.2-.3-.2-.4.2-.3.3-.3.2-.4-.2-.3.1-.3 0-.4-.3-.3 0-.3 0-.4 0-.3.2-.3 0-.4-.2-.3 0-.3-.1-.4-.1-.3 0-.4.1-.3 0-.3-.2-.4-.2-.3.2-.3.3-.4 0-.3-.2-.3.1-.4 0-.3-.2-.3 0-.4.3-.3.1-.3.2-.4.1-.3-.3-.3-.2-.4 0-.3.2-.3.1-.4-.1-.3-.1-.3 0-.4-.1-.3.1-.3 0-.4-.1-.3-.2-.4-.1-.3.3-.3.4-.4-.1-.3-.1-.3.1-.4.1-.3 0-.3-.1-.4-.2-.3.2-.3.3-.4-.3-.3-.2-.3.2-.4.4-.3 0-.3-.4-.4-.1-.3 0-.3.1-.4 0-.3.2-.3.3-.4-.1-.3-.1-.4.1-.3.1-.3.1-.4 0-.3 0-.3 0-.4.1-.3-.2-.3.1-.4.3-.3.1-.3-.2-.4 0-.3.3-.3.2-.4-.3-.3-.3-.3 0-.4 0-.3 0-.3 0-.4.2-.3.3-.3-.1-.4-.1-.3.2-.3-.1-.4 0-.3.1-.4 0-.3-.2-.3.1-.4.4-.3.2-.3.1-.4-.1-.3-.1-.3.3-.4.4-.3.2-.3-.1-.4-.2-.3.1-.3.1-.4.1-.3 0-.3 0-.4.3-.3.3-.3.2-.4-.1-.3 0-.3.4-.4.4-.3.3-.3.4-.4.2-.3.2-.4.2-.3.3-.3.7-.4.6-.3.5-.3.7-.4.8-.3.6-.3 1-.4 1.3-.3 1.9-.3 2.3-.4 2.3-.3 2-.3 1.7-.4 1.5-.3.9-.3 1-.4.9-.3.6-.3.7-.4 1-.3.5-.3.6-.4.5-.3.3-.4.2-.3 0-.3.1-.4.2-.3 0-.3-.1-.4-.1-.3-.2-.3-.2-.4-.2-.3-.2-.3-.2-.4-.2-.3-.3z" fill="#e3e3e3" stroke="#bdbdbd" stroke-width="0.7"/>
<path d="M202.4 77.5l.3 0 .4-.2.3 0 .3.1.4-.1.3-.2.3 0 .4-.4.3-.1.3-.4.4-.7.3-.4.3 0 .4-1 .3.3.4-.6.3-.4.3-1.5.4 0 .3-1.9.3-.8.4-.4.3-.9.3-2 .4-1.3.3-.5.3-2.8.4-1.3.3-2.8.3-1.9.4-1.2.3-.5.3-1.4.4-.2.3-1.5.3-.4.4-.8.3.1.3-.7.4-.8.3 1.1.4-1.4.3-.1.3 0 .4.4.3-1.1.3.2.4-.5.3-.9.3 1 .4-.1.3-.7.3 0 .4-.9.3-.1.3.5.4.4.3-.6.3.3.4.3.3-.5.3.1.4.4.3-1.4.3 1 .4-1.4.3 1.1.3-.2.4-.4.3-.3.4.4.3-.2.3.2.4-.5.3.7.3-.9.4.4.3-.1.3.8.4-1.5.3.6.3.7.4-.9.3-.4.3.8.4-.3.3.5.3-.9.4.5.3.2.3.2.4-1.1.3 1.2.3-1.2.4-.3.3.3.3.5.4-.3.3.4.4 0 .3-.1.3-.3.4 1 .3-2 .3.2.4.6.3-.4.3-.6.4.8.3 0 .3-.8.4 1.6.3.2.3 0 .4-.9.3.3.3-.7.4.7.3-.5.3.6.4-.4.3.6.3-.1.4.2.3-1.4.4-.1.3 1.1.3-.5.4.4.3 0 .3-.1.4.4.3-.2.3-.1.4-.6.3 1.3.3-.8.4.4.3-.4.3.5.4-.5.3 0 .3-.1.4-.4.3.1.3.2.4 0 .3-.4.3 1.7.4-1.7.3.3.3 1.4.4-1.5.3.7.4-.1.3-.4.3-.6.4 0 .3.7.3.3.4-1.3.3 1.1.3-.4.4.8.3-.3.3-.5.4.2.3.2.3.7.4.9.3-1.4.3-.1.4.3.3-.3.3.3.4-.1.3-.2.3-.3.4.4.3.4.3-.4.4.8.3-.3.4-.5.3.9.3-1.4.4 1.2.3.3.3-1 .4.1.3.5.3.3.4-.5.3-.1.3.3.4-.3.3-.7.3.5.4.1.3-.7.3 1 .4-.6.3.8.3-1.1.4.3.3-.3.3 1.4.4 0 .3.1.4 0 .3-.2.3 0 .4-1.3.3 1 .3-.4.4.1.3-.4.3 1.3.4-.6.3-.8.3 1 .4-.3.3-.4.3.3.4-.2.3-.7.3.3.4 1.1.3-.1.3 0 .4-.8.3.3.3.4.4.3.3-.7.3-.1.4 1.1.3-.6.4-.2.3-.1.3 0 .4 1.2.3-.3.3-.7.4-.4.3 1.4.3 0 .4-.2.3-.2.3-1.3.4.3.3.9.3-.4.4.3.3-.4.3-.1.4.7.3-.5.3.2.4.1.3 0 .3.5.4.1.3-1.4.3.6.4-.2.3.7.4-.9.3.9.3 0 .4-.1.3-.7.3.4.4-.5.3.8.3.3.4-1.3.3.4.3.3.4-.2.3 1 .3-.8.4.2.3-.6.3 1.3.4-.7.3.3.3-.3.4-1.1.3.2.3.2.4.9.3-.5.4.5.3-.1.3 0 .4.3.3-.3.3-.9.4.4.3 1.2.3-1.4.4 1.3.3.1.3-1.1.4.5.3-.9.3 1.1.4-.8.3-.2.3.4.4 0 .3-.1.3.4.4-.2.3-.2.3.8.4.7.3-1.1.3-.4.4-.1.3.7.4-.4.3.2.3-1 .4.4.3 0 .3 1 .4-.6.3-1.1.3 1.5.4.4.3 0 .3-2 .4 1.5.3.3.3-.1.4-.4.3-.8.3.7.4.1.3.4.3.1.4-.5.3.6.3-1 .4.2.3.3.3.4.4-.5.3.8.4-.4.3-.7.3.5.4-.4.3-.1.3-.2.4 1.4.3-.2.3-1.3.4 1.4.3-.1.3-.6.4.4.3.9.3-1 .4.1.3.3.3-1 .4-.1.3-.1.3.7.4.5.3-.9.3-.2.4.8.3-.3.4.5.3-.4.3 0 .4.1.3.1.3-.5.4-.1.3 1.4.3.7.4-1 .3-1.3.3.8.4.6.3-1.4.3.6.4.1.3-.3.3.1.4.9.3-.7.3.1.4 1 .3-1.3.3-.5.4 1.3.3.7.3-.9.4.1.3-.8.4.2.3 1.2.3-.1.4-.3.3-.6.3-.3.4.1.3 0 .3.9.4-.7.3.1.3.6.4.1.3-.3.3.2.4-.2.3-1 .3.9.4-.1.3 0 .3.4.4-.4.3.9.3-.7.4.2.3.1.3-.3.4.5.3 0 .4 0 .3-.7.3 0 .4.1.3.4.3-1 .4.6.3-.2.3.3.4-.1.3.9.3-.2.4.3.3-1 .3.1.4.3.3 1 .3 0 .4-1.1.3.6.3.8.4-1.5.3.4.3.8.4-.3.3-.8.4 1.2.3-.2.3-.1.4-1 .3.6.3.7.4-.4.3.2.3-.5.4.9.3-.8.3.6.4-.3.3-.6" fill="none" stroke="#000000" stroke-width="1.35" stroke-linejoin="round"/>
<path d="M202.4 77.5l.3 0 .4 0 .3 0 .3.1.4-.2.3-.1.3-.1.4.3.3.2.3-.4.4-.6.3 0 .3 1 .4-.7.3-1 .4.7.3-.7.3 0 .4-.2.3-.5.3.1.4-.8.3-.8.3-.1.4-.5.3-2 .3-.3.4-1.6.3-1.1.3-2.1.4-1 .3-1.7.3-1.7.4-1.9.3-1.1.3-1.5.4-1.2.3-.2.3-1.7.4.2.3-1.2.4-2.2.3.2.3-1.5.4-.2.3-.7.3-1.7.4.3.3-.7.3 0 .4-1.7.3.3.3-1.5.4-.2.3-.8.3.6.4-1 .3.4.3-1.4.4-.5.3-.5.3-1.2.4-.2.3.3.3-1.3.4-.2.3-.5.3-.1.4-.8.3-.3.4-.1.3-.5.3-.8.4.6.3-1.4.3-.2.4-.3.3.8.3-.9.4-.6.3-.3.3.5.4-1 .3-.4.3.8.4-1.2.3.2.3 0 .4-.5.3 0 .3.5.4-1.1.3-.5.3-.5.4.7.3-.3.3.2.4-.5.3-.2.4-.2.3-.1.3.2.4-.4.3.2.3.7.4-.8.3-1.1.3 1.5.4-.8.3-.7.3.8.4-.6.3-.4.3-.1.4-.3.3.5.3.4.4-.8.3.3.3.6.4-1.6.3.6.3-.3.4-.5.3 0 .4.4.3.1.3-.5.4.2.3.3.3-.3.4.2.3-.3.3 0 .4.6.3-.7.3-.3.4.2.3-.8.3.2.4.5.3-.1.3.4.4-.9.3-.8.3 1.7.4-.5.3-1.1.3 1.1.4-.7.3-1 .3.7.4-.1.3 1 .4-1.2.3.2.3-.1.4-.1.3-.3.3.5.4.4.3-.3.3-.8.4-.1.3.5.3-.4.4 0 .3-.6.3 1.8.4-.6.3-.9.3.9.4.1.3-1.9.3.9.4.1.3.5.3-.5.4 0 .3 0 .3.9.4.2.3-1.4.4-.2.3 1.7.3-1.8.4.2.3.3.3.2.4.2.3-.3.3-.7.4.7.3-.1.3.8.4-1 .3-.7.3.1.4 1.3.3-1 .3-.8.4.7.3.3.3.6.4-1.2.3.9.3 0 .4-.7.3.2.4 1 .3-.1.3-.4.4-.3.3.4.3-.7.4 0 .3-.4.3.5.4-.1.3 1.4.3-1.5.4.7.3.1.3-.8.4.7.3-1.7.3 1.1.4.4.3-1.7.3.6.4 1.1.3-.6.3-.5.4.4.3-.1.3.6.4-.1.3-.4.4-.2.3.3.3.7.4-.5.3.1.3-.4.4-.5.3.2.3.7.4-.3.3-.5.3-.3.4.8.3-.2.3 0 .4 0 .3.3.3 0 .4.4.3-.1.3.2.4-.2.3-.6.3.2.4.2.3-.4.3.5.4.3.3-1 .4-.5.3 1.5.3-.6.4.3.3-1 .3 1.5.4-.5.3-.4.3-.1.4.2.3-.1.3-.1.4-.4.3 1.2.3-.6.4 0 .3 0 .3-1.2.4 1.4.3-.4.3 0 .4.2.3-.5.3.9.4-.8.3-.1.4 0 .3.6.3.3.4-.7.3-.5.3 1.3.4-1.1.3 1.2.3-.6.4-.4.3.1.3.5.4.2.3-.5.3.6.4.5.3-1.1.3-.5.4.1.3-.2.3.4.4-.1.3-.3.3.9.4-1.5.3.6.3 1.7.4-.5.3-.3.4 0 .3.7.3-.7.4-.2.3-.6.3.5.4-.3.3 0 .3 0 .4.4.3-.2.3.6.4-1.1.3.6.3 1 .4-.9.3.6.3-.1.4.1.3-.3.3-1 .4.5.3 0 .3-.6.4.5.3-.3.3-.3.4 1 .3-.1.4-.4.3-.1.3.2.4.1.3 0 .3.2.4-.2.3.4.3 0 .4 0 .3-.5.3 0 .4.5.3-.3.3.1.4-1.3.3-.1.3 1.6.4 0 .3.5.3-.3.4-.3.3-.1.3-.7.4 1.2.3-.8.4.6.3-.2.3.1.4.3.3-.7.3 0 .4-.2.3.2.3 1.1.4-1 .3.7.3-.1.4-.1.3.1.3-1 .4.7.3.7.3-1.2.4.3.3-.3.3.5.4-.7.3 1.4.3-1 .4-.6.3 1.7.3-.4.4-.2.3 0 .4-.5.3.1.3.5.4.1.3 0 .3-.4.4-.3.3.1.3.7.4.2.3-.9.3-.1.4.9.3-.3.3 0 .4-1 .3.5.3-.1.4.4.3-1 .3 1.5.4-.5.3.1.3-.8.4.6.3.7.3-1.5.4 1 .3.2.4-.7.3.8.3-.6.4.8.3-.4.3-.1.4.9.3-.6.3.2.4-1.2.3.3.3.7.4.1.3-.5.3.4.4-.9.3.6.3-.6.4.7.3-.4.3-.1.4.4.3.9.3-1.4.4.2.3.8.4-.7.3 1.1.3-.8.4-.1.3.2.3.7.4-.6.3 0 .3-.1.4-.9.3.3.3 1.2.4-.3.3-.2" fill="none" stroke="#0000ff" stroke-width="1.35" stroke-linejoin="round"/>
<path d="M202.4 77.5l.3-.1.4.1.3-.1.3-.4.4.2.3-.2.3.1.4-.6.3.5.3-.1.4.5.3-.6.3 0 .4-1.1.3 2 .4-2.5.3 1.7.3-.9.4-.4.3 0 .3-.1.4.6.3-.4.3.9.4-2.1.3 1 .3-.6.4.9.3-1.8.3.9.4.3.3-1.1.3 1.4.4-.6.3.4.3-.1.4-1.3.3 0 .3.3.4.4.3 0 .4-1.1.3 0 .3-.2.4 0 .3.1.3-.1.4 1.2.3-1.7.3 0 .4.4.3-1 .3.2.4.1.3.3.3-1.4.4 1.5.3-1.2.3.2.4.2.3-.2.3 0 .4-.6.3-.3.3 0 .4-.9.3 1.1.3-1.3.4-.5.3 1.8.4-1.4.3-.8.3 1.6.4-1.5.3.7.3-1.3.4.1.3-1 .3-.3.4.3.3.4.3.3.4.8.3-2.3.3 1 .4-1.2.3.1.3-1 .4-.2.3.2.3-.5.4.5.3-.6.3.9.4-.8.3-.3.3.4.4-.6.3-.5.4-.3.3-.2.3.5.4-.4.3-.5.3 0 .4-1 .3.4.3-1.4.4 1.4.3-1 .3-.2.4-.1.3-.6.3-.4.4.6.3-.9.3-.9.4.6.3-1.6.3 1.8.4-1.4.3-.1.3 1.1.4-.3.3-1.5.4 0 .3.1.3.1.4-1.3.3-.1.3.4.4-.8.3.1.3-.3.4-1.2.3-.1.3-1.2.4 1.2.3.8.3-1.6.4 1.3.3-.3.3-.8.4-.1.3-.1.3-.7.4.2.3 0 .3.3.4 0 .3-1 .3.8.4-1.1.3.2.4.3.3-.4.3-.2.4.2.3-.6.3-.2.4.2.3.6.3-.8.4 1.1.3-1.1.3-2 .4 1.4.3 1.2.3-1.1.4-.3.3-.4.3 1.2.4-.2.3-.3.3-.2.4.5.3-.5.3-1.3.4 1.1.3-.4.3-.2.4.4.3-.5.4-1.8.3 2.6.3-.4.4-.7.3-.2.3.3.4-1 .3.9.3-.4.4-.1.3-.4.3.1.4 1 .3.1.3-.6.4-.4.3-.5.3.9.4.5.3-2 .3 1.6.4-2.1.3 1.1.3.4.4-1.1.3-.2.4 1 .3.4.3-.9.4 1 .3-1.3.3 1.5.4-1 .3 0 .3.2.4-.2.3.8.3.2.4-1 .3-.5.3-.7.4.3.3.4.3-.1.4 0 .3-.1.3.3.4-1.1.3.1.3 1.3.4-.2.3-.9.3 1.1.4-1.2.3.2.4-1 .3 1.6.3-.6.4.7.3-.3.3-.4.4 0 .3.6.3-.8.4 0 .3.1.3.4.4.1.3.6.3-1.3.4.8.3-1.1.3.7.4-.3.3 1 .3-.7.4-.7.3.6.3-.1.4-.4.3 0 .3-.4.4 2.2.3-1.6.4.5.3-1.3.3 0 .4.6.3 0 .3.5.4-1 .3.9.3.6.4-1.5.3 1.1.3-1.2.4.8.3 0 .3.8.4-1.4.3.5.3.5.4-1.3.3.7.3-.6.4.1.3.9.3 0 .4 1.1.3-.7.4-.1.3-.9.3-.1.4.3.3-1.5.3 2.4.4-1.4.3-.3.3.4.4.8.3.2.3-1 .4.5.3-.3.3-.6.4.7.3-.1.3-.9.4 1.6.3-1.6.3 1 .4-.7.3.1.3.1.4.8.3-1.2.3.7.4 1 .3-1.4.4.4.3.4.3-.7.4.6.3-.7.3.8.4-.4.3-.6.3 1.4.4-.9.3-.1.3-.4.4.3.3.2.3.1.4.6.3-1.5.3.6.4.9.3-.6.3.1.4.7.3-.7.3 0 .4-.3.3 1.1.3-.5.4-1 .3.7.4-1 .3 1.3.3-.3.4-.5.3-.2.3-.8.4 1.5.3-.6.3-.1.4.6.3-.9.3 0 .4-.1.3-.4.3 2.2.4-1.6.3-.1.3.7.4-2.4.3 1.8.3 0 .4-.6.3.8.3-1.5.4 1.2.3.5.4-1.9.3.4.3.7.4.1.3-.4.3.5.4-.1.3-1 .3.8.4-.8.3-.5.3-.2.4 2 .3-.7.3 1.2.4-2 .3.6.3.4.4-.3.3.4.3-.2.4-.5.3-1.1.3.9.4 1.6.3-.6.3.3.4-1.2.3.3.4-.5.3.8.3-.2.4.2.3.8.3-1.6.4.9.3-1.3.3 1.5.4-.9.3.2.3.1.4.9.3-1 .3-.3.4-.4.3.8.3-.7.4.2.3.3.3.4.4-.8.3.8.3.6.4-1.9.3 1.7.3.4.4-1.6.3.7.4-1.2.3 1 .3-.4.4.4.3-.8.3.1.4.2.3-.2.3.1.4.2.3-.5.3.5.4.4.3-1.7.3 1.5.4-.6.3-.2.3-.1.4.2.3.1.3.6.4-.9.3 1.4.3-1.2.4.9.3.3.4-1.4.3 1.4.3.6.4-1.5.3.6.3-.5.4.2.3-.2.3-.2.4.8.3.1.3-.6.4 1 .3-.3" fill="none" stroke="#ff0000" stroke-width="1.35" stroke-linejoin="round"/>
<rect x="202.4" y="5.5" width="158.9" height="84.0" fill="none" stroke="#8a8a8a" stroke-width="1"/>
<text x="198.8" y="7.7" font-size="4.9" text-anchor="end" class="t">3</text>
<text x="198.8" y="19.7" font-size="4.9" text-anchor="end" class="t">2.5</text>
<text x="198.8" y="31.7" font-size="4.9" text-anchor="end" class="t">2</text>
<text x="198.8" y="43.7" font-size="4.9" text-anchor="end" class="t">1.5</text>
<text x="198.8" y="55.7" font-size="4.9" text-anchor="end" class="t">1</text>
<text x="198.8" y="67.7" font-size="4.9" text-anchor="end" class="t">0.5</text>
<text x="198.8" y="79.7" font-size="4.9" text-anchor="end" class="t">0</text>
<text x="198.8" y="91.7" font-size="4.9" text-anchor="end" class="t">-0.5</text>
<text x="202.4" y="97.1" font-size="4.9" text-anchor="middle" class="t">0</text>
<text x="228.9" y="97.1" font-size="4.9" text-anchor="middle" class="t">5</text>
<text x="255.4" y="97.1" font-size="4.9" text-anchor="middle" class="t">10</text>
<text x="281.9" y="97.1" font-size="4.9" text-anchor="middle" class="t">15</text>
<text x="308.3" y="97.1" font-size="4.9" text-anchor="middle" class="t">20</text>
<text x="334.8" y="97.1" font-size="4.9" text-anchor="middle" class="t">25</text>
<text x="361.3" y="97.1" font-size="4.9" text-anchor="middle" class="t">30</text>
<text x="281.9" y="104.9" font-size="5.3" text-anchor="middle" class="t">Time [s]</text>
<text transform="translate(188.5,47.5) rotate(-90)" font-size="5.5" text-anchor="middle" class="t">Force [N]</text>
<rect x="202.4" y="5.5" width="10.6" height="10.1" fill="#fff" stroke="#5c6068" stroke-width="0.8"/>
<text x="207.7" y="14.2" font-size="9.4" text-anchor="middle" class="L">B</text>
<rect x="277.3" y="8.7" width="81.1" height="9.3" fill="#fff" stroke="#7a7a7a" stroke-width="0.8"/>
<line x1="281.2" y1="13.2" x2="291.6" y2="13.2" stroke="#ff5a5a" stroke-width="1.5"/>
<text x="292.4" y="14.9" font-size="4.8" class="t2">1.0 A</text>
<line x1="308.0" y1="13.2" x2="318.4" y2="13.2" stroke="#5a5aff" stroke-width="1.5"/>
<text x="319.2" y="14.9" font-size="4.8" class="t2">1.5 A</text>
<line x1="334.0" y1="13.2" x2="344.4" y2="13.2" stroke="#505050" stroke-width="1.5"/>
<text x="345.2" y="14.9" font-size="4.8" class="t2">2.0 A</text>
<path d="M384.5 33.5l.3-.1.4-.1.3-.1.3-.1.4-.1.3-.1.3 0 .4-.1.3-.3.3-.2.4-.1.3-.1.3.2.4-.1.3-.4.4-.2.3.2.3 0 .4-.2.3 0 .3.1.4 0 .3-.1.3-.2.4-.1.3.2.3.3.4-.1.3-.3.3-.2.4-.1.3.1.3.1.4 0 .3-.1.3-.1.4 0 .3.2.3.2.4 0 .3-.4.4-.2.3 0 .3-.1.4 0 .3-.1.3 0 .4.1.3 0 .3-.1.4-.1.3-.2.3 0 .4 0 .3 0 .3 0 .4-.1.3-.1.3-.1.4-.1.3 0 .3-.1.4-.1.3.2.3.1.4-.1.3-.1.3-.1.4-.1.3 0 .4 0 .3-.1.3-.1.4 0 .3 0 .3-.1.4-.1.3-.1.3-.1.4 0 .3.1.3-.1.4-.1.3-.2.3 0 .4.1.3-.1.3-.3.4-.2.3.2.3.2.4-.2.3-.3.3-.2.4.1.3-.3.3-.3.4.1.3-.2.4-.1.3.2.3.1.4-.1.3 0 .3.1.4-.1.3-.3.3-.3.4-.3.3.1.3.1.4 0 .3-.1.3-.1.4-.2.3-.1.3.1.4 0 .3 0 .3-.2.4-.2.3-.1.3-.3.4-.1.3.2.4 0 .3-.2.3-.2.4-.1.3 0 .3-.2.4-.2.3.3.3.2.4-.1.3-.2.3 0 .4-.1.3-.3.3.1.4.3.3.1.3 0 .4-.1.3-.2.3 0 .4-.1.3-.1.3 0 .4.2.3 0 .3-.2.4-.2.3.1.4.1.3-.1.3-.1.4-.2.3-.1.3.1.4.1.3-.1.3-.3.4-.1.3.2.3-.2.4 0 .3.2.3.1.4-.1.3-.1.3 0 .4 0 .3 0 .3-.3.4-.1.3.1.3 0 .4.1.3-.1.3-.1.4 0 .3.1.4 0 .3-.2.3 0 .4.3.3.3.3-.1.4-.4.3 0 .3 0 .4-.2.3-.2.3.1.4 0 .3-.2.3-.2.4.1.3.2.3-.1.4 0 .3.1.3 0 .4-.1.3 0 .3-.2.4 0 .3 0 .4.2.3-.1.3-.2.4 0 .3.1.3 0 .4-.3.3 0 .3.3.4.4.3-.2.3-.2.4.1.3.1.3-.3.4-.1.3.2.3 0 .4-.1.3 0 .3.2.4.1.3-.2.3-.3.4-.2.3.1.3.1.4 0 .3 0 .4-.2.3-.2.3.2.4 0 .3-.1.3 0 .4-.1.3-.1.3.3.4.2.3.1.3.1.4-.4.3-.4.3 0 .4 0 .3.2.3-.1.4-.1.3.1.3 0 .4.1.3 0 .3 0 .4 0 .3-.1.3-.1.4-.1.3.3.4.4.3.1.3-.1.4-.3.3-.1.3.1.4-.1.3-.1.3 0 .4 0 .3-.1.3-.1.4 0 .3.2.3.3.4-.2.3-.2.3.1.4 0 .3-.2.3 0 .4.2.3 0 .3 0 .4 0 .3-.1.4-.2.3.2.3-.1.4-.2.3-.1.3.2.4.2.3.1.3-.1.4-.2.3 0 .3 0 .4-.1.3.1.3-.3.4-.1.3 0 .3.1.4.1.3.2.3.1.4.1.3-.3.3-.3.4 0 .3 0 .3.1.4.1.3-.1.4-.1.3.2.3.1.4 0 .3 0 .3 0 .4.1.3 0 .3 0 .4-.1.3-.1.3-.2.4 0 .3.1.3-.1.4.1.3.2.3-.1.4-.4.3-.1.3.2.4.1.3 0 .3 0 .4 0 .3 0 .3 0 .4.1.3.3.4 0 .3-.4.3-.2.4.1.3.1.3-.2.4 0 .3.1.3-.2.4 0 .3-.1.3-.1.4 0 .3.3.3.1.4-.1.3-.2.3.2.4.2.3 0 .3-.2.4 0 .3.1.3-.2.4-.1.3.2.4.2.3.1.3-.1.4-.1.3 0 .3-.1.4.1.3.3.3-.1.4-.3.3 0 .3.1.4 0 .3-.2.3-.3.4.2.3.1.3.2.4.1.3-.1.3-.1.4-.1.3.2.3.3.4-.2.3-.2.3.1.4 0 .3-.2.4-.1.3.2.3 0 .4-.1.3 0 .3 0 .4-.1.3 0 .3-.1.4.1.3.1.3-.2.4.1.3 0 .3-.1.4 0 .3.1.3.3.4.3.3-.1.3-.3.4-.1.3 0 .3 0 .4 0 .3-.1.3 0 .4.2.3 0 .4-.1.3-.2.3.1.4.1.3 0 .3-.1.4-.2.3-.1.3.3.4.1.3-.1.3 0 .4.1.3-.2.3-.1.4.1.3.1.3-.1.4.1.3-.2.3 0 .4.2.3-.1.3-.2.4.1.3.3.4 0 .3-.1.3 0 .4 0 .3-.1.3 0 .4 0 .3-.1.3 0 .4.1.3 0 .3-.1.4.1.3.2 0 2.5-.3.2-.4-.2-.3-.4-.3-.2-.4.1-.3.1-.3.1-.4.2-.3-.1-.3-.3-.4 0-.3.1-.3.1-.4 0-.3 0-.4.1-.3.1-.3.2-.4 0-.3-.2-.3-.3-.4 0-.3 0-.3-.3-.4 0-.3.2-.3.1-.4.2-.3.3-.3.1-.4-.2-.3-.1-.3.1-.4.2-.3-.1-.3-.6-.4 0-.3.2-.3 0-.4.1-.3.2-.4.1-.3-.2-.3 0-.4 0-.3-.1-.3.1-.4.1-.3-.3-.3-.3-.4.2-.3.2-.3-.1-.4-.1-.3.2-.3.1-.4-.1-.3.1-.3 0-.4-.3-.3 0-.3.2-.4 0-.3-.2-.3 0-.4.3-.3.2-.3-.2-.4 0-.3.1-.4-.2-.3 0-.3.3-.4 0-.3-.2-.3-.3-.4-.1-.3 0-.3.1-.4 0-.3 0-.3.2-.4 0-.3-.1-.3.1-.4.2-.3.1-.3.1-.4-.1-.3-.2-.3 0-.4.1-.3 0-.3.1-.4.2-.3.1-.3.2-.4-.3-.3-.4-.4 0-.3.3-.3.3-.4-.2-.3-.3-.3 0-.4.3-.3.1-.3-.2-.4-.4-.3-.1-.3.3-.4.2-.3 0-.3 0-.4-.1-.3.1-.3.1-.4 0-.3-.1-.3-.1-.4 0-.3 0-.3.2-.4 0-.3-.1-.4 0-.3.1-.3-.1-.4.1-.3.2-.3.2-.4-.1-.3-.1-.3-.1-.4 0-.3-.3-.3-.2-.4.1-.3.4-.3.3-.4 0-.3-.1-.3.1-.4-.1-.3-.1-.3-.2-.4 0-.3.2-.3.2-.4 0-.3-.1-.3-.1-.4.1-.3 0-.4.1-.3.2-.3-.2-.4-.2-.3 0-.3.1-.4 0-.3-.2-.3.1-.4.1-.3 0-.3 0-.4 0-.3-.2-.3.2-.4.2-.3-.2-.3 0-.4.2-.3-.1-.3-.2-.4 0-.3-.1-.3-.1-.4.4-.3.3-.3 0-.4-.1-.3.1-.4-.1-.3-.2-.3 0-.4.2-.3-.1-.3 0-.4-.1-.3-.1-.3.3-.4.3-.3 0-.3 0-.4 0-.3-.1-.3-.1-.4-.2-.3 0-.3.1-.4.2-.3-.1-.3-.2-.4.2-.3.1-.3-.3-.4-.2-.3.1-.4 0-.3.3-.3.3-.4-.1-.3-.1-.3-.1-.4 0-.3 0-.3.1-.4.2-.3 0-.3-.2-.4-.2-.3-.1-.3.1-.4.2-.3 0-.3 0-.4.1-.3 0-.3.1-.4.2-.3.1-.3 0-.4-.1-.3-.1-.3.1-.4 0-.3-.1-.4-.2-.3 0-.3 0-.4-.1-.3.2-.3.1-.4 0-.3-.1-.3.1-.4.1-.3-.2-.3 0-.4.2-.3-.1-.3-.2-.4.2-.3.1-.3.2-.4 0-.3-.2-.3 0-.4.2-.3 0-.3-.2-.4-.1-.3.1-.3.3-.4.2-.3 0-.4-.1-.3-.1-.3.2-.4.2-.3-.1-.3-.2-.4 0-.3 0-.3-.1-.4.1-.3.3-.3 0-.4.1-.3.2-.3.2-.4-.1-.3-.3-.3.1-.4.1-.3-.3-.3-.1-.4.3-.3.2-.3-.3-.4-.2-.3-.1-.4 0-.3.3-.3.3-.4 0-.3-.1-.3 0-.4 0-.3 0-.3.3-.4.1-.3-.1-.3 0-.4 0-.3 0-.3.1-.4.1-.3.1-.3 0-.4.1-.3-.2-.3-.1-.4 0-.3 0-.3.1-.4.2-.3.1-.3-.1-.4 0-.3 0-.4.1-.3.2-.3.2-.4.2-.3-.3-.3-.1-.4.4-.3.1-.3-.3-.4 0-.3.1-.3-.2-.4 0-.3.2-.3 0-.4 0-.3-.1-.3.1-.4.3-.3.1-.3 0-.4.1-.3-.1-.3 0-.4-.2-.3.1-.3.4-.4 0-.3 0-.4 0-.3.2-.3.4-.4 0-.3-.1-.3.3-.4.3-.3-.2-.3-.1-.4 0-.3-.1-.3 0-.4.1-.3.1-.3.3-.4.4-.3 0-.3-.1-.4 0-.3.3-.3-.1-.4-.1-.3.2-.3.5-.4.3-.3-.3-.4-.2-.3.1-.3.1-.4.2-.3.2-.3-.1-.4 0-.3.4-.3.1-.4 0-.3 0-.3 0-.4 0-.3.2-.3.2-.4.3-.3-.1-.3-.1-.4 0-.3 0-.3 0-.4.2-.3.1-.3.2-.4-.2-.3-.3-.3.1-.4.1-.3.1-.4.3-.3.1-.3-.1-.4.1-.3 0-.3-.1-.4.1-.3 0-.3.2-.4.2-.3.1-.3.1-.4-.1-.3 0-.3.4-.4.1-.3.1-.3 0-.4-.2-.3 0-.3 0-.4 0-.3.1-.3.1-.4 0-.3-.1-.3.1-.4 0-.3 0-.4.2-.3.2-.3 0-.4-.1-.3.1-.3.1-.4 0-.3.1-.3 0-.4-.2-.3-.2-.3 0-.4.2-.3.1-.3 0-.4.1-.3.2-.3-.1-.4-.1-.3 0-.3.2-.4.2-.3 0-.3 0-.4 0-.3 0-.4 0-.3-.2-.3-.3-.4 0-.3.2-.3 0-.4-.2-.3-.1-.3 0-.4 0-.3-.1-.3-.1-.4 0-.3-.1z" fill="#ffe0e0" stroke="#ffa0a0" stroke-width="0.7"/>
<path d="M384.5 33.5l.3-.1.4-.1.3-.1.3-.1.4-.1.3-.1.3-.1.4-.2.3-.1.3-.1.4 0 .3-.1.3-.1.4-.2.3-.1.4-.1.3 0 .3 0 .4-.1.3-.1.3-.1.4 0 .3-.2.3 0 .4.3.3-.1.3-.1.4-.2.3-.2.3.2.4.2.3-.1.3-.1.4 0 .3-.1.3.1.4-.1.3-.1.3.1.4.1.3-.2.4-.1.3-.1.3-.1.4.1.3-.1.3 0 .4-.1.3-.1.3.2.4.1.3.1.3-.2.4-.1.3-.1.3.1.4.2.3 0 .3-.2.4-.3.3.1.3 0 .4-.2.3-.1.3.3.4.1.3-.1.3.1.4.2.3-.1.4-.5.3-.3.3.2.4.2.3 0 .3-.2.4-.1.3.1.3 0 .4 0 .3 0 .3-.1.4-.1.3 0 .3 0 .4 0 .3 0 .3-.2.4-.1.3-.1.3.2.4.1.3 0 .3 0 .4 0 .3-.2.3-.1.4.3.3.1.4-.1.3-.2.3-.1.4-.2.3-.1.3.1.4.3.3 0 .3-.2.4 0 .3.1.3-.1.4.1.3 0 .3 0 .4-.2.3.1.3-.1.4-.2.3-.2.3 0 .4.2.3 0 .3-.1.4.2.3 0 .4-.1.3-.1.3.1.4 0 .3.1.3.2.4.2.3-.1.3-.2.4-.2.3.1.3.1.4.1.3 0 .3-.3.4 0 .3.2.3 0 .4.2.3.1.3-.2.4-.1.3-.2.3-.2.4.1.3.3.3-.1.4-.1.3.1.4.2.3 0 .3-.1.4-.3.3-.1.3.1.4.3.3.1.3-.1.4 0 .3.1.3-.1.4 0 .3.1.3.2.4 0 .3-.3.3 0 .4.2.3-.1.3 0 .4-.2.3 0 .3.3.4-.1.3-.2.3-.1.4 0 .3 0 .4.2.3.1.3-.2.4 0 .3-.1.3 0 .4-.1.3 0 .3.2.4.3.3 0 .3-.1.4-.1.3.3.3.2.4-.2.3-.3.3 0 .4 0 .3.2.3-.2.4-.1.3.3.3.1.4 0 .3.1.4-.4.3-.1.3.3.4.1.3 0 .3.2.4 0 .3-.2.3-.4.4-.1.3.1.3 0 .4 0 .3.1.3.2.4.1.3-.2.3-.2.4.1.3.1.3 0 .4.2.3.1.3-.3.4-.3.3.1.3.4.4.4.3-.1.4-.4.3-.2.3-.1.4 0 .3.4.3 0 .4-.2.3 0 .3.2.4 0 .3-.3.3 0 .4.2.3-.2.3-.1.4.2.3.2.3 0 .4-.1.3-.1.3 0 .4 0 .3 0 .3.1.4 0 .3-.2.3.1.4.3.3-.3.4-.2.3.2.3.2.4.1.3-.1.3-.2.4.1.3.1.3 0 .4-.1.3-.2.3.1.4.2.3.1.3 0 .4 0 .3.1.3.1.4.1.3-.3.3 0 .4.2.3 0 .3-.1.4-.1.3-.1.4 0 .3.2.3.1.4 0 .3 0 .3-.1.4-.3.3-.1.3 0 .4 0 .3.2.3.2.4-.1.3-.2.3-.2.4-.2.3.2.3.3.4 0 .3.1.3.1.4 0 .3-.1.3-.1.4-.1.3-.1.3-.3.4-.1.3.4.4.3.3-.1.3-.1.4-.1.3.1.3.1.4-.1.3 0 .3.2.4.1.3.1.3.1.4-.2.3-.1.3 0 .4-.2.3 0 .3.2.4-.1.3 0 .3 0 .4-.1.3 0 .3 0 .4-.2.3-.1.3.3.4.2.3-.1.4 0 .3.2.3.2.4-.1.3-.2.3-.1.4.1.3 0 .3 0 .4.1.3-.2.3-.1.4.3.3 0 .3-.2.4 0 .3.4.3 0 .4-.2.3-.1.3 0 .4 0 .3.1.3-.1.4-.2.3.1.4.1.3-.1.3-.1.4 0 .3.1.3.1.4 0 .3.1.3.1.4-.1.3-.3.3-.1.4 0 .3.1.3.2.4.1.3-.1.3-.2.4-.1.3.2.3 0 .4-.2.3 0 .3.2.4.2.3-.1.3-.2.4 0 .3.1.4 0 .3 0 .3.1.4.1.3 0 .3.2.4 0 .3-.1.3 0 .4 0 .3-.1.3 0 .4.1.3 0 .3-.1.4-.3.3-.1.3.2.4.2.3-.1.3-.2.4.1.3.2.3 0 .4 0 .3.1.3 0 .4 0 .3 0 .4-.1.3 0 .3-.1.4-.1.3.2.3.2.4-.2.3-.2.3.1.4 0 .3 0 .3 0 .4.2.3.1.3 0 .4-.1.3-.1.3 0 .4 0 .3-.1.3 0 .4.2.3.3.3 0 .4-.2.3-.1.4 0 .3-.1.3-.2.4 0 .3.1.3.1.4 0 .3.1.3 0 .4 0 .3 0 .3-.3.4-.2.3.1 0 2.4-.3-.2-.4-.1-.3 0-.3.1-.4.1-.3-.1-.3 0-.4.2-.3-.2-.3-.3-.4-.1-.3.4-.3.2-.4 0-.3-.2-.4 0-.3.2-.3.1-.4 0-.3-.1-.3-.2-.4-.2-.3.1-.3.2-.4-.1-.3-.2-.3.3-.4.3-.3-.2-.3-.2-.4-.1-.3-.1-.3.2-.4.1-.3 0-.3-.2-.4 0-.3.2-.3-.1-.4 0-.3.2-.4.2-.3 0-.3-.1-.4-.1-.3 0-.3 0-.4 0-.3.1-.3 0-.4-.1-.3-.3-.3-.2-.4.1-.3 0-.3 0-.4 0-.3 0-.3.3-.4 0-.3-.1-.3 0-.4.1-.3 0-.3-.1-.4.2-.3.2-.3-.2-.4-.3-.3.1-.4.1-.3.1-.3 0-.4-.1-.3 0-.3-.2-.4 0-.3.2-.3.1-.4-.1-.3-.3-.3.1-.4.3-.3 0-.3-.3-.4-.3-.3 0-.3 0-.4.2-.3.4-.3 0-.4-.1-.3.1-.3-.1-.4-.1-.3 0-.3 0-.4 0-.3-.2-.4-.2-.3.4-.3.3-.4 0-.3 0-.3-.1-.4-.2-.3 0-.3 0-.4 0-.3-.2-.3-.2-.4.3-.3.1-.3 0-.4-.1-.3.1-.3.1-.4 0-.3-.1-.3 0-.4 0-.3-.2-.3 0-.4.2-.3 0-.4-.3-.3.1-.3.2-.4.1-.3 0-.3-.2-.4-.2-.3.1-.3.2-.4 0-.3-.1-.3-.1-.4-.1-.3-.1-.3 0-.4.4-.3.1-.3 0-.4-.1-.3 0-.3.2-.4-.1-.3-.1-.3-.1-.4-.2-.3 0-.3.3-.4.3-.3-.1-.4 0-.3 0-.3 0-.4-.1-.3-.3-.3-.1-.4.3-.3.3-.3-.2-.4-.2-.3 0-.3.1-.4-.1-.3 0-.3.2-.4-.1-.3-.1-.3 0-.4 0-.3 0-.3.1-.4 0-.3-.1-.3.1-.4 0-.3-.1-.3-.1-.4.1-.3 0-.4-.1-.3-.1-.3 0-.4-.1-.3-.1-.3.2-.4.2-.3 0-.3 0-.4 0-.3-.1-.3.1-.4 0-.3-.1-.3-.1-.4.2-.3-.1-.3-.2-.4 0-.3.2-.3 0-.4-.2-.3.1-.3.1-.4 0-.3-.1-.4-.2-.3.1-.3.3-.4-.1-.3 0-.3 0-.4-.1-.3.1-.3 0-.4-.1-.3 0-.3-.1-.4.2-.3 0-.3 0-.4 0-.3.1-.3-.1-.4-.3-.3 0-.3.2-.4.2-.3.2-.3-.1-.4 0-.3-.1-.3-.1-.4 0-.3-.1-.4-.3-.3 0-.3.2-.4 0-.3 0-.3 0-.4.1-.3.2-.3-.1-.4-.2-.3-.1-.3.1-.4.1-.3 0-.3 0-.4 0-.3-.1-.3 0-.4 0-.3-.1-.3.1-.4.1-.3.2-.3.2-.4-.1-.3-.4-.3 0-.4.2-.3 0-.4.1-.3-.2-.3-.2-.4.1-.3 0-.3.2-.4.1-.3-.2-.3 0-.4.1-.3 0-.3-.2-.4-.1-.3.1-.3 0-.4-.1-.3.2-.3 0-.4.1-.3.1-.3-.1-.4 0-.3 0-.3-.1-.4-.1-.3-.1-.4-.1-.3-.1-.3.2-.4.3-.3-.4-.3-.2-.4.1-.3.4-.3.1-.4-.1-.3-.2-.3 0-.4.1-.3.1-.3.2-.4 0-.3-.3-.3-.1-.4-.1-.3.1-.3.2-.4-.1-.3-.1-.3 0-.4.1-.3-.2-.3 0-.4.2-.3.1-.4 0-.3-.3-.3-.1-.4.4-.3.1-.3-.3-.4-.1-.3.1-.3.2-.4.1-.3-.1-.3-.1-.4.1-.3-.1-.3-.3-.4-.1-.3.2-.3.1-.4 0-.3-.1-.3 0-.4.1-.3 0-.3.2-.4 0-.3-.2-.3-.1-.4 0-.3.1-.4 0-.3.2-.3 0-.4.1-.3.1-.3 0-.4-.1-.3.2-.3-.1-.4-.4-.3 0-.3.2-.4.1-.3 0-.3.1-.4-.1-.3-.1-.3.1-.4.2-.3-.1-.3-.2-.4 0-.3.1-.3.1-.4 0-.3 0-.4-.1-.3 0-.3-.1-.4.1-.3.2-.3 0-.4 0-.3.1-.3 0-.4 0-.3.1-.3 0-.4.2-.3 0-.3-.3-.4.2-.3 0-.3-.1-.4.1-.3.2-.3-.1-.4-.2-.3 0-.3.1-.4.1-.3 0-.3.1-.4.1-.3 0-.4-.1-.3.1-.3 0-.4.1-.3.1-.3 0-.4-.1-.3.1-.3.3-.4-.1-.3-.4-.3 0-.4.3-.3.2-.3.1-.4-.2-.3-.1-.3.1-.4.2-.3.2-.3-.1-.4-.1-.3 0-.3-.2-.4 0-.3.2-.3.1-.4.1-.3.1-.4 0-.3-.3-.3 0-.4 0-.3.1-.3.2-.4.1-.3-.2-.3-.2-.4.3-.3.4-.3.1-.4-.1-.3-.3-.3-.2-.4.4-.3.3-.3-.3-.4-.1-.3.1-.3 0-.4.1-.3.1-.3.2-.4.1-.3-.1-.4-.1-.3 0-.3 0-.4-.1-.3 0-.3 0-.4 0-.3 0-.3.1-.4-.1-.3-.1-.3 0-.4 0-.3 0z" fill="#e0e0ff" stroke="#a8a8ff" stroke-width="0.7"/>
<path d="M384.5 33.5l.3 0 .4 0 .3 0 .3 0 .4.1.3 0 .3.3.4.4.3.4.3.5.4.7.3.6.3.5.4.9.3.9.4 1.1.3 1.4.3 1.8.4 1.8.3 1.6.3 1.5.4 1.9.3 2 .3 1.8.4 1.8.3 1.5.3 1.3.4 1.4.3 1.5.3 1.4.4 1.3.3 1.4.3 1.5.4.9.3.6.3.5.4.2.3.4.3.5.4.2.3.3.4.5.3.5.3.2.4.2.3 0 .3-.1.4.1.3.7.3.5.4 0 .3-.1.3.3.4.3.3 0 .3.2.4.2.3.2.3.4.4.2.3 0 .3-.1.4.2.3.3.3.2.4-.1.3-.2.3 0 .4 0 .3.2.4.3.3 0 .3 0 .4.2.3.2.3 0 .4.2.3.2.3-.1.4-.1.3 0 .3 0 .4.1.3.2.3-.1.4-.1.3.1.3.3.4.2.3-.1.3-.1.4.2.3.1.3 0 .4-.1.3-.1.3 0 .4.1.3.2.4 0 .3 0 .3.1.4-.1.3-.1.3.1.4-.1.3-.1.3.1.4.2.3.1.3-.2.4-.2.3.2.3.2.4 0 .3-.1.3-.1.4.1.3.2.3 0 .4-.2.3-.1.3.1.4.2.3-.1.4-.1.3 0 .3 0 .4.2.3.1.3 0 .4.1.3 0 .3.1.4.3.3 0 .3-.3.4-.2.3 0 .3-.1.4-.2.3 0 .3.2.4-.1.3.1.3.1.4-.1.3-.1.3.1.4 0 .3 0 .3.2.4.1.3 0 .4-.2.3-.1.3 0 .4.2.3.1.3-.1.4 0 .3-.1.3-.1.4.3.3.1.3-.1.4 0 .3-.1.3-.2.4-.1.3.1.3.2.4.1.3.1.3.2.4-.1.3-.2.3.1.4 0 .3.1.3 0 .4-.1.3-.1.4 0 .3 0 .3-.1.4 0 .3 0 .3-.1.4.1.3.1.3.1.4.3.3 0 .3-.2.4-.1.3.1.3 0 .4-.1.3 0 .3 0 .4 0 .3.2.3-.2.4-.2.3.1.3.1.4-.1.3-.1.4.1.3.2.3.1.4-.1.3-.1.3-.2.4.1.3.3.3 0 .4-.1.3-.1.3 0 .4-.1.3 0 .3.2.4-.1.3 0 .3.2.4.2.3.1.3-.1.4-.1.3-.1.3-.1.4.2.3-.1.3-.2.4 0 .3.2.4.1.3-.2.3 0 .4.1.3-.1.3 0 .4 0 .3 0 .3 0 .4-.4.3-.1.3.4.4.2.3 0 .3-.2.4 0 .3 0 .3-.1.4 0 .3.1.3.2.4 0 .3-.2.3 0 .4 0 .3 0 .3.1.4-.1.3 0 .4.1.3 0 .3 0 .4 0 .3-.1.3-.1.4.1.3.2.3-.2.4-.2.3.1.3.2.4.1.3 0 .3.1.4 0 .3 0 .3-.1.4 0 .3 0 .3-.1.4-.2.3.1.3.2.4-.2.3 0 .4 0 .3-.2.3.1.4 0 .3.1.3.1.4-.1.3-.1.3 0 .4 0 .3.1.3-.1.4 0 .3.1.3-.2.4.1.3.2.3.1.4-.2.3-.1.3-.1.4-.1.3 0 .3.1.4 0 .3 0 .3 0 .4.2.3 0 .4-.3.3-.2.3-.1.4.2.3.2.3 0 .4.1.3 0 .3-.1.4-.1.3-.1.3.2.4.3.3 0 .3-.2.4-.3.3.1.3.1.4-.1.3-.1.3 0 .4 0 .3 0 .3.2.4.2.3 0 .3-.1.4-.3.3-.1.4.3.3.1.3-.1.4-.1.3 0 .3.1.4 0 .3-.3.3-.1.4.1.3.2.3.2.4-.1.3-.1.3-.1.4 0 .3.2.3 0 .4-.1.3-.2.3-.1.4.1.3-.1.3.1.4.4.3-.1.4-.3.3.1.3 0 .4-.1.3-.1.3.1.4.1.3-.3.3-.2.4.2.3.2.3-.3.4-.2.3 0 .3 0 .4.2.3.2.3-.1.4-.1.3-.2.3 0 .4 0 .3-.1.3.1.4.1.3 0 .3-.1.4-.1.3 0 .4 0 .3-.1.3-.1.4-.2.3 0 .3 0 .4 0 .3 0 .3.1.4 0 .3.1.3-.1.4 0 .3-.1.3-.2.4 0 .3 0 .3-.1.4-.2.3-.1.3-.1.4.4.3 0 .3-.3.4-.1.3.2.3.1.4-.2.3-.1.4.2.3 0 .3 0 .4 0 .3-.2.3-.1.4.2.3.1.3-.3.4-.6.3-.1.3.3.4 0 .3-.3.3-.1.4.1.3 0 .3-.1.4-.1.3-.2.3-.1.4.4.3.2.3-.1.4-.1.3-.1.4-.3.3-.1.3-.1.4-.1.3.1.3.2.4-.1.3-.1.3-.1.4 0 .3 0 .3.1.4.3.3-.1 0 1.3-.3-.1-.4 0-.3.1-.3.2-.4-.1-.3 0-.3.2-.4.1-.3 0-.3-.1-.4-.1-.3 0-.3.2-.4.4-.3.2-.4-.1-.3-.1-.3 0-.4-.1-.3-.1-.3.3-.4.2-.3.1-.3-.1-.4-.2-.3.1-.3.1-.4-.1-.3.1-.3 0-.4-.1-.3.2-.3.2-.4.1-.3 0-.3 0-.4.1-.3-.1-.3-.1-.4.2-.3.1-.4 0-.3.1-.3.2-.4.1-.3-.1-.3-.1-.4.1-.3.1-.3-.2-.4-.1-.3-.1-.3.2-.4.4-.3 0-.3-.1-.4-.1-.3-.1-.3.1-.4.3-.3-.1-.3-.1-.4.1-.3.1-.3-.1-.4.1-.3.2-.3 0-.4 0-.3-.1-.4-.1-.3.3-.3.4-.4-.2-.3-.2-.3 0-.4-.1-.3.2-.3.1-.4-.2-.3-.1-.3.2-.4.3-.3.2-.3 0-.4-.2-.3-.3-.3-.1-.4.2-.3.2-.3.1-.4 0-.3 0-.3 0-.4.1-.3 0-.3 0-.4.1-.3.2-.4-.1-.3-.2-.3.2-.4.1-.3-.1-.3 0-.4 0-.3-.2-.3-.2-.4.1-.3.3-.3.2-.4 0-.3-.1-.3 0-.4 0-.3-.1-.3 0-.4.3-.3.1-.3-.1-.4-.2-.3 0-.3.1-.4-.1-.3 0-.4 0-.3 0-.3.1-.4-.1-.3-.2-.3.3-.4.3-.3-.2-.3-.3-.4 0-.3.1-.3 0-.4-.1-.3-.1-.3.1-.4.1-.3.1-.3 0-.4 0-.3.1-.3.1-.4-.1-.3 0-.3-.1-.4 0-.3.1-.3.1-.4-.1-.3.1-.4 0-.3.1-.3-.1-.4-.2-.3.1-.3.1-.4.2-.3 0-.3-.1-.4.1-.3 0-.3 0-.4.1-.3-.1-.3-.3-.4-.2-.3.1-.3 0-.4-.1-.3 0-.3 0-.4-.1-.3.1-.3 0-.4 0-.3.3-.3.3-.4-.2-.3-.3-.4 0-.3.2-.3.1-.4 0-.3-.2-.3-.1-.4.1-.3.3-.3.2-.4-.2-.3-.4-.3.1-.4.2-.3-.2-.3-.1-.4 0-.3.2-.3 0-.4 0-.3 0-.3-.2-.4 0-.3.2-.3 0-.4-.3-.3-.1-.4.2-.3.1-.3 0-.4.1-.3 0-.3-.1-.4.1-.3 0-.3.1-.4-.1-.3-.1-.3.2-.4.1-.3 0-.3 0-.4-.2-.3-.1-.3.1-.4.1-.3.1-.3-.1-.4-.2-.3-.1-.3-.1-.4.1-.3.1-.3.1-.4 0-.3 0-.4-.1-.3-.1-.3 0-.4.1-.3 0-.3-.1-.4-.2-.3 0-.3.2-.4.1-.3 0-.3.1-.4.1-.3-.2-.3 0-.4.1-.3 0-.3 0-.4-.2-.3 0-.3 0-.4.1-.3.1-.3 0-.4 0-.3.2-.3-.1-.4-.1-.3.2-.4-.1-.3-.2-.3-.1-.4.2-.3.1-.3 0-.4-.2-.3-.3-.3-.1-.4.3-.3.3-.3 0-.4-.3-.3-.1-.3.3-.4.1-.3-.1-.3-.1-.4-.1-.3-.1-.3 0-.4.3-.3.2-.3-.2-.4 0-.3.3-.4-.1-.3-.3-.3-.1-.4-.2-.3-.1-.3.3-.4 0-.3.1-.3-.1-.4-.3-.3.2-.3.2-.4-.1-.3 0-.3.1-.4 0-.3-.2-.3-.1-.4 0-.3.1-.3.2-.4.1-.3-.3-.3-.1-.4.1-.3.1-.3.2-.4-.1-.3-.3-.4-.2-.3.1-.3 0-.4-.1-.3-.2-.3.1-.4.3-.3.1-.3 0-.4-.1-.3 0-.3.1-.4 0-.3 0-.3-.1-.4-.2-.3-.1-.3.1-.4.2-.3-.1-.3 0-.4.1-.3-.2-.3 0-.4.1-.3 0-.3.1-.4.3-.3-.1-.4-.3-.3 0-.3-.1-.4 0-.3.2-.3-.1-.4-.1-.3.2-.3-.2-.4-.1-.3-.1-.3.1-.4.1-.3-.2-.3-.2-.4.1-.3.3-.3.1-.4-.2-.3 0-.3.1-.4 0-.3-.1-.3-.3-.4.1-.3.1-.4-.3-.3-.3-.3.1-.4.2-.3 0-.3 0-.4-.1-.3-.4-.3 0-.4.3-.3.2-.3-.2-.4-.3-.3-.2-.3-.1-.4 0-.3.2-.3 0-.4 0-.3 0-.3-.1-.4-.2-.3-.2-.3.1-.4 0-.3-.3-.3 0-.4.1-.3-.2-.4-.2-.3-.1-.3 0-.4 0-.3-.5-.3-.4-.4.2-.3.3-.3-.1-.4-.4-.3-.1-.3.2-.4-.2-.3-.3-.3-.1-.4-.3-.3-.4-.3-.1-.4-.2-.3-.1-.3-.3-.4-.5-.3-.2-.3.1-.4-.2-.3-.5-.3-.3-.4-.3-.3-.2-.4-.3-.3-.2-.3 0-.4-.6-.3-.9-.3-.5-.4-.8-.3-1-.3-1.4-.4-1.7-.3-1.4-.3-1.4-.4-1.5-.3-1.5-.3-1.5-.4-1.7-.3-2-.3-2-.4-1.8-.3-1.6-.3-1.6-.4-1.6-.3-1.4-.3-1.4-.4-1.5-.3-1.4-.4-1-.3-.4-.3-.5-.4-.8-.3-.7-.3-.6-.4-.4-.3-.4-.3-.2-.4-.1-.3-.1-.3-.1-.4-.1-.3-.1z" fill="#e3e3e3" stroke="#bdbdbd" stroke-width="0.7"/>
<path d="M384.5 33.5l.3 0 .4-.1.3-.1.3 0 .4-.1.3.2.3.2.4-.3.3-.2.3.3.4.1.3-.3.3-.3.4.2.3 0 .4-.5.3-.4.3-.4.4-.2.3.2.3.4.4.2.3.4.3.2.4-.8.3-.7.3.5.4.6.3-.2.3-.5.4 0 .3 0 .3.3.4.4.3-.2.3.1.4.2.3-.4.3-.1.4.1.3-.3.4-.3.3.6.3.1.4-.5.3.2.3 0 .4.1.3.7.3-.5.4-.9.3.2.3.3.4-.1.3 0 .3 0 .4.3.3 0 .3-.6.4-.3.3 0 .3-.2.4-.4.3 0 .3.5.4.6.3-.2.3-1 .4-.1.3.2.4-.6.3.1.3.8.4.5.3-.3.3-.6.4-.3.3.4.3.3.4-.5.3-.3.3.1.4-.1.3-.5.3-.2.4.1.3.3.3.5.4-.1.3-.4.3-.1.4-.1.3.1.3-.1.4-.5.3-.4.3-.2.4-.7.3-.3.4.4.3.3.3.8.4.4.3-1 .3-.5.4.4.3.1.3-.3.4-.1.3.3.3-.3.4-.6.3 0 .3 0 .4-.3.3 0 .3.2.4.3.3 0 .3-.5.4-.3.3-.4.3-.6.4.2.3.2.4-.1.3.1.3 0 .4.1.3.2.3.1.4-.3.3-.4.3.9.4.3.3-.7.3-.5.4-.2.3.1.3.3.4-.2.3-.3.3-.3.4-.2.3.3.3.6.4.1.3 0 .3-.4.4-.5.3 0 .3 0 .4.1.3-.1.4-.3.3-.3.3.5.4.7.3-.6.3-.5.4.8.3.1.3-.8.4-.2.3-.2.3-.1.4.7.3.2.3-.3.4-.1.3.1.3-.1.4-.3.3-.4.3.3.4.6.3-.1.3-.1.4-.1.3-.3.3.1.4.3.3-.2.4-.1.3.3.3.4.4 0 .3-.5.3-.7.4-.1.3.9.3.2.4-.3.3 0 .3.3.4.1.3-.3.3-.2.4-.1.3-.3.3.2.4.4.3.3.3.4.4-.6.3-1.4.3-.3.4.6.3 0 .4.2.3 0 .3-1.1.4-.2.3.9.3.3.4-.1.3-.2.3-.5.4-.2.3.3.3-.2.4-.1.3.7.3.3.4-.2.3-.5.3-.2.4-.1.3.2.3.3.4 0 .3.3.3.6.4 0 .3-.7.3 0 .4.1.3-.5.4-.4.3.3.3.6.4-.1.3-.2.3.2.4.3.3-.7.3-.9.4-.2.3-.5.3-.3.4 1.4.3 1.1.3-.4.4-.8.3.3.3.7.4 0 .3-.3.3 0 .4.2.3.3.3-.1.4-.5.3-.3.3.2.4.2.3-.1.4-.4.3 0 .3 0 .4.1.3 1 .3.2.4-.7.3 0 .3-.5.4-.8.3.5.3.5.4-.3.3-.3.3.1.4.6.3.4.3-.2.4 0 .3.2.3-.6.4-.7.3.1.3 1.1.4.4.3-.2.4-.2.3-.3.3-.2.4-.2.3-.1.3.5.4.5.3-.3.3-.6.4-.4.3.4.3.7.4-.1.3-.5.3-.5.4-.2.3.5.3.4.4-.4.3-.2.3.1.4-.2.3-.4.3.1.4.4.3.2.3 0 .4.4.3.3.4-.7.3-.3.3.2.4-.1.3-.2.3.8.4.5.3-.7.3-.7.4-.1.3.1.3-.4.4.3.3.6.3 0 .4.5.3.3.3-.4.4.2.3.2.3-.8.4-.8.3-.2.3.8.4.9.3-.4.3-1 .4-.3.3.4.4.3.3 0 .3.1.4 0 .3-.2.3 0 .4.1.3.1.3.5.4.4.3-.4.3-.9.4-.4.3 0 .3-.5.4.2.3 1.1.3.3.4-.8.3-.6.3.2.4.4.3.9.3.6.4-.8.3-1 .4-.2.3.4.3 0 .4-.2.3.1.3.2.4.7.3.5.3-.4.4-.5.3 0 .3-.2.4-.2.3-.3.3-.4.4.2.3.7.3.2.4.1.3-.2.3-.8.4 0 .3.7.3.1.4.1.3.2.3-.3.4-.8.3.2.4.7.3-.3.3-.4.4.8.3.5.3-.2.4-.6.3-.5.3.4.4.9.3 0 .3-.3.4-.5.3-.5.3-.4.4.5.3.4.3-.2.4.4.3-.1.3-.7.4-.1.3.3.3 0 .4-.1.3-.2.3 0 .4-.2.3 0 .4.7.3.1.3-.5.4 0 .3 0 .3.1.4.4.3.3.3 0 .4-.3.3-.1.3-.1.4-.1.3.3.3.1.4.1.3-.4.3-.4.4.3.3.5.3 0 .4-.5.3-.4.3 0 .4.3.3-.4.4-.3.3.8.3.4.4-.9.3-.3.3.2.4.2.3.4.3-.2.4 0 .3.4.3-.1.4-.1.3-.1" fill="none" stroke="#ff0000" stroke-width="1.35" stroke-linejoin="round"/>
<path d="M384.5 33.5l.3-.1.4-.1.3-.1.3-.2.4 0 .3.1.3.3.4.2.3.1.3-.2.4-.2.3.2.3 0 .4-.4.3-.1.4.3.3-.1.3-.6.4-.1.3.3.3-.3.4-.5.3.3.3.2.4-.2.3.1.3-.4.4-.1.3.5.3-.7.4-.7.3 1 .3.7.4-.1.3.4.3-.1.4-1.5.3-1 .3.7.4.9.3-.5.4-.8.3.2.3.6.4.5.3.4.3-.3.4-.6.3-.4.3 0 .4 0 .3-.3.3.4.4 1 .3-.1.3.2.4.6.3-.6.3-.8.4-.3.3.1.3.3.4.2.3.1.3-.5.4-.5.3.2.3.3.4.3.3 0 .4-.4.3.3.3.4.4-.5.3.1.3.4.4-.5.3-1.1.3 0 .4 1.3.3.2.3-.4.4-.1.3.3.3-.2.4-.7.3-.3.3.1.4 0 .3-.4.3-.4.4.4.3.2.3-.2.4.4.3.3.3-.4.4-.4.3.3.4.1.3-.5.3 0 .4.3.3.2.3-.3.4.2.3.8.3-.5.4-1 .3 0 .3.7.4 0 .3-.3.3 0 .4-.4.3.2.3 1 .4.3.3-.6.3-.2.4.1.3-.4.3.1.4.4.3.2.4-.3.3-.2.3-.1.4-.2.3.1.3-.2.4-.4.3.3.3.5.4.1.3 0 .3.3.4 0 .3-.6.3-.2.4.5.3-.4.3-1 .4.3.3.4.3-.3.4-.3.3.2.3.7.4.4.3.2.3.2.4-.6.3.2.4.3.3-.5.3-.3.4-.1.3.6.3.8.4-.6.3-.2.3.5.4-.5.3-.4.3 0 .4-.1.3.8.3.6.4-.3.3-.5.3-.1.4-.6.3-.9.3.6.4.3.3-.4.3.5.4.3.3 0 .3.2.4.2.3-.3.4-.5.3.1.3.2.4 0 .3.1.3.6.4.6.3.2.3.2.4-.6.3-1 .3-.4.4.3.3.3.3.1.4.5.3.1.3-.4.4-.2.3-.5.3-.7.4 0 .3.1.3.1.4.9.3.4.4-.8.3.2.3.8.4-.2.3-.4.3.1.4.3.3-.4.3-1 .4-1 .3.3.3 1.3.4.7.3.3.3-.4.4-.7.3.6.3.2.4-.6.3.2.3.3.4-.9.3 0 .3.9.4-.2.3-.8.3 0 .4.9.3.7.4-.1.3 0 .3.1.4-.5.3-.2.3.3.4-.5.3-.3.3.7.4.2.3-.6.3-.6.4-.1.3.7.3.5.4-.2.3-.4.3-.1.4-.1.3 0 .3.6.4.3.3-.3.3-.4.4-.2.3-.2.3.2.4.4.3.1.4-.2.3 0 .3-.1.4.1.3-.1.3-.1.4.3.3.5.3.1.4-.1.3-.4.3.1.4.1.3-.8.3-.3.4 1 .3.5.3-.3.4.2.3.3.3-.6.4 0 .3.3.3-.7.4-.3.3.5.4.2.3.4.3-.5.4-.7.3.3.3.2.4 0 .3 0 .3-.8.4-.2.3.8.3.2.4-.6.3-.1.3 0 .4-.1.3.1.3.1.4.3.3.2.3-.4.4-.2.3 0 .3-.2.4-.2.3.3.3.5.4.8.3.7.4-.6.3-.8.3-.3.4 0 .3.3.3.4.4.5.3-.6.3-.5.4.1.3 0 .3.5.4.8.3.2.3-.2.4-.4.3-.7.3-.6.4.2.3.5.3.6.4.3.3-.5.3-.1.4.8.3.1.3-.8.4 0 .3.1.4-.2.3 0 .3.1.4-.1.3-.4.3-.8.4.4.3.8.3-.3.4.1.3.4.3-.3.4 0 .3.4.3-.1.4-.7.3-.4.3.2.4 0 .3 0 .3.6.4.5.3 0 .3-.3.4 0 .3.5.4.4.3.3.3-.8.4-.6.3.8.3.6.4-.7.3-.8.3.3.4.5.3-.4.3-.3.4-.2.3-.4.3-.1.4.1.3.4.3.7.4 0 .3-.2.3 0 .4-.6.3-.3.3.5.4.3.3-.7.3-.5.4.7.3.6.4.2.3.1.3.1.4.5.3-.1.3-1.1.4-1.3.3.3.3 1.4.4.5.3-.3.3-.4.4-.1.3.1.3 0 .4.1.3-.3.3 0 .4.2.3.4.3 0 .4-.5.3.1.3.3.4.1.3-.3.3-.2.4.5.3.5.4-.2.3-.3.3-.5.4-.6.3.1.3.3.4-.1.3 0 .3.3.4.7.3.2.3-.9.4-.2.3.6.3-.2.4-.1.3.5.3-.3.4-.5.3-.2.3 0 .4.1.3.6.3.8.4-.3.3-.9.4-.1.3.5.3.4.4-.5.3-.6.3-.2.4.2.3.9.3.3.4-.4.3-.3.3-.2.4.2.3.4" fill="none" stroke="#0000ff" stroke-width="1.35" stroke-linejoin="round"/>
<path d="M384.5 33.5l.3 0 .4 0 .3.2.3.2.4 0 .3.2.3.3.4.1.3.1.3.6.4 1.3.3 1.2.3 1.2.4.6.3.3.4 1.3.3 1.8.3 1.6.4 1.7.3 1.3.3.9.4 2 .3 2.6.3 1.6.4 1.4.3 1.8.3 1.5.4 1.4.3 1.3.3 1.4.4.8.3.8.3 1.3.4 1.3.3 1.2.3.9.4.5.3.2.3.1.4.7.3.6.4-.2.3-.3.3.1.4.5.3.7.3.6.4-.6.3-.3.3.9.4.6.3-.2.3-.3.4.2.3.7.3.5.4-.3.3 0 .3.4.4.4.3 0 .3.2.4 1 .3-.2.3-.8.4-.1.3.4.3.5.4.3.3 0 .4-.3.3-.7.3 0 .4.4.3.6.3 0 .4-.5.3.5.3.8.4-.1.3-.5.3.3.4.2.3.2.3.2.4-.6.3-.1.3.5.4 0 .3.2.3.7.4.3.3-.2.3-.3.4-.7.3.1.3.6.4.1.3.2.4-.2.3-.5.3.2.4.1.3.2.3.5.4-.1.3-.7.3-.2.4.2.3.5.3.7.4-.6.3-.7.3 0 .4-.2.3.1.3-.2.4.3.3.6.3-.4.4-.2.3.2.3-.8.4.1.3.9.4-.1.3.1.3.3.4-.2.3 0 .3 0 .4.2.3.5.3-.1.4-.2.3-.2.3-.6.4-.5.3.3.3 1 .4.5.3-1 .3-1 .4.4.3.8.3.1.4.1.3.4.3-.4.4-.7.3.1.3.1.4.4.3.9.4.2.3-.7.3-.8.4 0 .3.1.3-.2.4.2.3.6.3 0 .4-.3.3.3.3.4.4-.8.3-.7.3.4.4.3.3-.2.3-.3.4.1.3.7.3.1.4-.5.3.1.3-.1.4-.9.3-1.1.3.6.4 1.5.3-.1.4-.1.3.4.3.1.4 0 .3-.3.3-.4.4-.2.3.7.3.5.4-.1.3-.1.3.1.4.3.3-.3.3-.4.4 0 .3-.2.3 0 .4.2.3.1.3 0 .4-.1.3-.3.3 0 .4.7.3.3.4-.1.3-.3.3-.3.4 0 .3-.2.3.1.4.2.3.2.3.1.4-.4.3-.2.3.7.4.5.3-.1.3-.6.4-.8.3.1.3 0 .4-.5.3.5.3.1.4-.6.3.2.3.8.4.4.3-.2.3-.8.4-.3.3.4.4.2.3-.1.3.3.4.5.3.1.3-.6.4-.5.3.2.3.7.4.5.3-.4.3-.8.4-.4.3-.6.3-.6.4.3.3.9.3 1.1.4.1.3-.6.3.2.4.6.3.5.3 0 .4-.1.3-.1.3.2.4.1.3-.4.4-.3.3-.1.3 0 .4.1.3-.5.3 0 .4.6.3-.3.3-.6.4-.4.3 0 .3.1.4.3.3.4.3-.5.4-.1.3.9.3-.4.4-1.1.3.5.3.7.4-.4.3-.1.3-.4.4-.6.3.6.4 1.2.3.4.3-.6.4-.2.3.2.3.1.4-.3.3-.4.3.2.4.5.3-.4.3-.4.4.5.3.2.3-.6.4-.5.3 0 .3-.6.4-.2.3 1 .3.6.4 0 .3.1.3.2.4.4.3.3.3.5.4.2.3-.6.4-.1.3-.2.3-.9.4-.3.3 0 .3-.1.4.9.3.2.3-1.1.4 0 .3 1 .3-.1.4-.8.3.1.3-.2.4-.7.3.3.3.4.4.3.3 0 .3-.1.4 0 .3.1.3.5.4.3.3-.3.3-.9.4-.4.3.6.4.8.3-.2.3-1 .4-.4.3.2.3.2.4 0 .3.6.3.5.4-.2.3-.4.3-.5.4.3.3.1.3 0 .4.5.3-.3.3-.6.4.3.3.1.3-.4.4-.2.3.1.3.1.4.1.3.2.4.3.3-.1.3.1.4.1.3-.1.3-.2.4-.1.3.4.3.5.4.4.3-.5.3-1.1.4 0 .3.5.3.4.4-.5.3-.9.3-.3.4-.2.3 0 .3.1.4.5.3.6.3-.5.4-.4.3.5.3-.1.4-.3.3.3.4-.4.3-.4.3.6.4.9.3.7.3-.8.4-1.1.3-.4.3.1.4.6.3.2.3-.2.4-.3.3-.7.3-.3.4.2.3-.3.3.2.4.5.3-.2.3.3.4.8.3.4.3-.9.4-1.3.3 0 .3.4.4-.3.3-.1.4.3.3.3.3-.4.4-.8.3.1.3.2.4.1.3.4.3-.1.4-.1.3.2.3.1.4-.2.3-.8.3.1.4 1.2.3-.6.3-.8.4.6.3.3.3.8.4.5.3-.8.3-.9.4-.2.3.3.4.1.3 0 .3-.6.4-.8.3.3.3.4.4 0 .3-.1.3.2.4.4.3-.2.3-.6.4-.3.3.5" fill="none" stroke="#000000" stroke-width="1.35" stroke-linejoin="round"/>
<rect x="384.5" y="5.5" width="158.9" height="84.0" fill="none" stroke="#8a8a8a" stroke-width="1"/>
<text x="380.9" y="7.7" font-size="4.9" text-anchor="end" class="t">0.02</text>
<text x="380.9" y="21.7" font-size="4.9" text-anchor="end" class="t">0.01</text>
<text x="380.9" y="35.7" font-size="4.9" text-anchor="end" class="t">0</text>
<text x="380.9" y="49.7" font-size="4.9" text-anchor="end" class="t">-0.01</text>
<text x="380.9" y="63.7" font-size="4.9" text-anchor="end" class="t">-0.02</text>
<text x="380.9" y="77.7" font-size="4.9" text-anchor="end" class="t">-0.03</text>
<text x="380.9" y="91.7" font-size="4.9" text-anchor="end" class="t">-0.04</text>
<text x="384.5" y="97.1" font-size="4.9" text-anchor="middle" class="t">0</text>
<text x="411.0" y="97.1" font-size="4.9" text-anchor="middle" class="t">5</text>
<text x="437.5" y="97.1" font-size="4.9" text-anchor="middle" class="t">10</text>
<text x="463.9" y="97.1" font-size="4.9" text-anchor="middle" class="t">15</text>
<text x="490.4" y="97.1" font-size="4.9" text-anchor="middle" class="t">20</text>
<text x="516.9" y="97.1" font-size="4.9" text-anchor="middle" class="t">25</text>
<text x="543.4" y="97.1" font-size="4.9" text-anchor="middle" class="t">30</text>
<text x="463.9" y="104.9" font-size="5.3" text-anchor="middle" class="t">Time [s]</text>
<text transform="translate(369.0,47.5) rotate(-90)" font-size="5.5" text-anchor="middle" class="t">Torque [N m]</text>
<rect x="384.5" y="5.5" width="10.6" height="10.1" fill="#fff" stroke="#5c6068" stroke-width="0.8"/>
<text x="389.8" y="14.2" font-size="9.4" text-anchor="middle" class="L">C</text>
<rect x="457.6" y="8.7" width="82.4" height="9.3" fill="#fff" stroke="#7a7a7a" stroke-width="0.8"/>
<line x1="461.9" y1="13.2" x2="472.3" y2="13.2" stroke="#ff5a5a" stroke-width="1.5"/>
<text x="473.1" y="14.9" font-size="4.8" class="t2">1.0 A</text>
<line x1="488.7" y1="13.2" x2="499.1" y2="13.2" stroke="#5a5aff" stroke-width="1.5"/>
<text x="499.9" y="14.9" font-size="4.8" class="t2">1.5 A</text>
<line x1="515.4" y1="13.2" x2="525.8" y2="13.2" stroke="#505050" stroke-width="1.5"/>
<text x="526.6" y="14.9" font-size="4.8" class="t2">2.0 A</text>
<path d="M22.3 128.1l.5-.2.5-.1.5-.1.5-.2.5-.2.5-.1.5 0 .5-.1.5-.2.5-.4.5.1.5.4.5.5.5.4.5.2.5.3.5.4.5.3.5.2.6.3.5.6.5.3.5.1.5.5.5.4.5.3.5.4.5.4.5.5.5.5.5.5.5.4.5.3.5.5.5.5.5.1.5.2.5.6.5.7.5.5.5.3.5.3.5.4.5.6.5.5.5.4.5.5.5.5.5.4.5.5.5.4.5.4.5.4.5.6.5.5.5.6.5.3.5.1.5.2.6.7.5.7.5.2.5.2.5.7.5.3.5 0 .5.4.5.5.5.4.5.4.5.4.5.4.5.4.5.4.5.3.5.1.5 0 .5.3.5.5.5.6.5.2.5-.1.5.5.5.5.5.4.5.3.5.4.5.4.5.1.5.2.5.3.5.2.5 0 .5.1.5.1.5.3.5.4.5.3.6.3.5.2.5 0 .5.1.5.2.5 0 .5.4.5.3.5.2.5 0 .5.1.5.2.5.4.5.2.5-.1.5-.1.5.1.5.1.5.2.5.1.5.1.5.4.5.2.5.1.5 0 .5.1.5.3.5 0 .5-.2.5.1.5.1.5.2.5.3.5 0 .5 0 .5.1.5.1.5 0 .5-.2.6.4.5.2.5.1.5 0 .5.1.5.3.5.3.5 0 .5 0 .5 0 .5 0 .5.2.5.1.5 0 .5-.1.5.2.5.3.5.1.5-.1.5 0 .5.2.5-.1.5-.2.5.2.5.3.5-.1.5-.2.5.2.5.2.5 0 .5 0 .5.1.5.1.5.3.5.2.5 0 .5 0 .5-.2.5-.2.5.1.6.1.5-.2.5.1.5.2.5 0 .5 0 .5.3.5-.1.5.1.5 0 .5 0 .5.1.5.2.5 0 .5-.1.5 0 .5 0 .5 0 .5 0 .5-.1.5 0 .5.2.5-.2.5-.4.5 0 .5.4.5.4.5 0 .5-.3.5-.1.5.3.5.3.5.1.5-.3.5-.1.5.2.5.2.5-.2.5-.1.6.1.5.1.5.1.5.2.5-.1.5-.2.5 0 .5 0 .5.2.5 0 .5-.2.5 0 .5 0 .5.1.5.2.5-.1.5.1.5.1.5-.2.5 0 .5.2.5.1.5.1.5 0 .5.1.5-.1.5-.1.5.2.5.1.5.2.5-.1.5-.3.5-.1.5.3.5.2.5 0 .5 0 .5.1.5.1.6.1.5.1.5-.1.5-.1.5.2.5.2.5-.1.5-.1.5-.1.5.1.5.3.5 0 .5.1.5 0 .5 0 .5-.2.5.1.5.4.5 0 .5-.2.5-.1.5-.1.5.2.5.1.5.2.5.3.5-.1.5-.1.5.1.5.2.5.1.5-.2.5-.1.5.3.5 0 .5 0 .5.2.5.1.5 0 .5 0 .6.1.5.3.5-.1.5-.1.5.3.5.2.5 0 .5 0 .5 0 .5.2.5 0 .5.1.5.2.5 0 .5-.1.5 0 .5.1.5.2.5.3.5 0 0 6.4-.5 0-.5-.1-.5-.1-.5.1-.5 0-.5-.2-.5-.2-.5-.2-.5.1-.5 0-.5 0-.5 0-.5 0-.5-.2-.5-.1-.5.1-.5 0-.5-.2-.5-.2-.6 0-.5-.2-.5-.2-.5.2-.5-.1-.5.2-.5.2-.5-.3-.5-.4-.5-.1-.5 0-.5-.2-.5 0-.5.1-.5.1-.5-.1-.5-.2-.5-.2-.5 0-.5 0-.5.1-.5-.3-.5-.2-.5.1-.5 0-.5.1-.5 0-.5-.2-.5-.1-.5-.2-.5.1-.5.1-.5.2-.5.1-.5-.3-.5-.5-.5-.1-.5.2-.5 0-.5-.1-.6.1-.5.1-.5-.1-.5-.2-.5-.1-.5.1-.5 0-.5.1-.5.2-.5-.1-.5-.1-.5 0-.5-.3-.5-.3-.5 0-.5.2-.5 0-.5-.1-.5-.1-.5 0-.5-.1-.5 0-.5.1-.5-.1-.5-.1-.5-.2-.5-.1-.5-.1-.5.1-.5-.2-.5-.1-.5.2-.5.2-.5-.1-.5-.1-.5-.1-.5-.1-.5 0-.5.1-.6-.1-.5 0-.5.3-.5.1-.5-.1-.5 0-.5 0-.5-.1-.5.1-.5.1-.5-.1-.5-.3-.5 0-.5.2-.5-.2-.5-.1-.5 0-.5.2-.5 0-.5-.2-.5-.2-.5.1-.5.1-.5.1-.5 0-.5 0-.5-.3-.5-.2-.5-.1-.5.1-.5 0-.5.1-.5 0-.5 0-.5 0-.5 0-.5-.1-.5 0-.5-.1-.6-.1-.5 0-.5.1-.5.1-.5-.2-.5-.2-.5-.1-.5-.1-.5.1-.5-.1-.5-.1-.5 0-.5 0-.5.1-.5.1-.5-.1-.5-.1-.5 0-.5-.2-.5-.1-.5 0-.5 0-.5-.2-.5-.3-.5-.1-.5.3-.5.2-.5-.3-.5-.3-.5-.2-.5.1-.5-.1-.5-.3-.5-.1-.5-.1-.5.1-.5 0-.5-.4-.5-.3-.5-.3-.6-.2-.5 0-.5.1-.5 0-.5.1-.5 0-.5-.3-.5-.2-.5.2-.5-.2-.5-.1-.5 0-.5 0-.5-.3-.5-.2-.5-.2-.5-.2-.5 0-.5 0-.5-.1-.5-.2-.5-.1-.5-.1-.5 0-.5-.1-.5 0-.5-.2-.5-.4-.5-.4-.5-.2-.5.2-.5-.1-.5-.3-.5 0-.5-.1-.5-.5-.5-.3-.5-.1-.5 0-.6-.1-.5-.2-.5-.3-.5-.5-.5 0-.5.1-.5-.4-.5-.4-.5-.4-.5-.2-.5-.2-.5-.2-.5-.2-.5-.3-.5-.1-.5-.4-.5-.3-.5-.4-.5-.4-.5-.2-.5-.3-.5-.3-.5-.4-.5-.4-.5-.1-.5-.5-.5-.6-.5-.2-.5-.2-.5-.4-.5-.5-.5-.4-.5-.3-.5-.4-.5-.4-.5-.4-.5-.7-.5-.4-.5-.1-.6-.2-.5-.3-.5-.3-.5-.4-.5-.6-.5-.4-.5-.3-.5-.5-.5-.4-.5-.4-.5-.3-.5-.5-.5-.7-.5-.5-.5-.3-.5-.6-.5-.7-.5-.6-.5-.4-.5-.4-.5-.4-.5-.4-.5-.6-.5-.6-.5-.2-.5-.2-.5-.5-.5-.4-.5-.3-.5-.4-.5-.3-.5-.4-.5-.6-.5-.3-.5-.3-.5-.5-.5-.4-.5-.3-.5-.2-.5-.3-.6-.4-.5-.3-.5-.4-.5-.2-.5-.4-.5-.4-.5-.3-.5-.3-.5-.6-.5-.5-.5-.3-.5-.4-.5-.4-.5-.6-.5-.6-.5-.5-.5-.4-.5-.5-.5-.5-.5-.5z" fill="#ffe0e0" stroke="#ffa0a0" stroke-width="0.7"/>
<path d="M22.3 128.1l.5-.1.5-.1.5-.1.5-.2.5-.1.5 0 .5-.1.5-.1.5-.2.5-.2.5.2.5.4.5.4.5.3.5.1.5.4.5.3.5.1.5.2.6.3.5.1.5.5.5.5.5.1.5.2.5.6.5.7.5.4.5 0 .5.3.5.4.5.4.5.4.5.5.5.6.5.3.5.2.5.6.5.6.5.5.5.3.5.5.5.3.5.2.5.7.5.4.5-.1.5.4.5.8.5.6.5.6.5.5.5.5.5.6.5.6.5.6.5.7.5.7.5.7.6.7.5.5.5.7.5.8.5.6.5.4.5.7.5.7.5.7.5.5.5.3.5.4.5.5.5.4.5.4.5.4.5.7.5.8.5.3.5.2.5.5.5.6.5.3.5.3.5.4.5.5.5.5.5.4.5.2.5.1.5.1.5.2.5.4.5.2.5.4.5.3.5.2.5.2.5.2.6.5.5.3.5.1.5.1.5.3.5.2.5.2.5.1.5.1.5.2.5.1.5.2.5.4.5.2.5.2.5.1.5.1.5.2.5.1.5.3.5.2.5-.1.5-.1.5.4.5.4.5-.1.5 0 .5.3.5.1.5 0 .5-.1.5 0 .5.2.5.1.5.1.5.1.5.3.5.4.5.2.6 0 .5-.1.5 0 .5.3.5.3.5.1.5 0 .5.1.5 0 .5 0 .5.1.5.2.5 0 .5.2.5.2.5.1.5 0 .5-.1.5.1.5.2.5.2.5.1.5.2.5.2.5-.1.5-.1.5 0 .5.1.5.2.5.2.5 0 .5-.1.5-.1.5 0 .5.3.5.3.5 0 .5-.1.5-.1.5 0 .6.2.5.2.5.1.5-.1.5 0 .5 0 .5.1.5.2.5.1.5 0 .5-.1.5 0 .5.1.5.2.5.1.5 0 .5-.1.5-.1.5 0 .5.2.5.2.5 0 .5 0 .5-.1.5-.2.5 0 .5.4.5.3.5-.1.5.1.5-.1.5-.1.5 0 .5-.1.5.1.5.3.5-.1.5-.1.5.1.6 0 .5-.1.5.1.5 0 .5-.1.5.1.5.3.5-.1.5-.3.5 0 .5.4.5.4.5.3.5.1.5-.1.5-.2.5 0 .5.1.5-.1.5-.1.5 0 .5.2.5.3.5-.1.5-.3.5 0 .5.3.5.3.5 0 .5-.1.5-.3.5 0 .5.3.5 0 .5 0 .5 0 .5.2.5.1.5-.1.6-.1.5.1.5.2.5.2.5-.1.5-.2.5.2.5.1.5.1.5 0 .5-.1.5.1.5.1.5-.1.5.1.5.1.5-.1.5 0 .5.2.5.2.5 0 .5 0 .5.1.5.3.5.1.5-.2.5-.2.5 0 .5.4.5.2.5-.1.5.1.5.2.5 0 .5-.1.5.1.5 0 .5-.1.5.2.5 0 .6 0 .5.3.5.1.5-.2.5.2.5.2.5-.1.5 0 .5.1.5.1.5-.1.5-.1.5 0 .5.2.5.1.5-.2.5.1.5.3.5-.1.5 0 0 6.7-.5-.1-.5 0-.5.1-.5-.1-.5-.2-.5 0-.5-.1-.5-.2-.5.1-.5.1-.5 0-.5 0-.5-.2-.5-.4-.5-.2-.5.1-.5.4-.5.1-.5 0-.6-.1-.5-.1-.5 0-.5.1-.5-.1-.5-.1-.5-.4-.5 0-.5.1-.5.1-.5-.1-.5-.2-.5-.3-.5-.1-.5.2-.5 0-.5 0-.5 0-.5-.1-.5-.3-.5-.3-.5.1-.5.2-.5-.2-.5-.1-.5.1-.5 0-.5-.2-.5-.1-.5-.1-.5-.2-.5 0-.5.1-.5.2-.5 0-.5-.1-.5-.2-.5 0-.5 0-.5 0-.6-.1-.5.1-.5.2-.5-.1-.5-.2-.5-.3-.5-.2-.5.1-.5.2-.5-.1-.5-.1-.5 0-.5.1-.5-.2-.5-.3-.5 0-.5.3-.5.2-.5-.1-.5-.4-.5-.2-.5.2-.5 0-.5-.1-.5 0-.5 0-.5-.1-.5-.5-.5-.2-.5.2-.5.1-.5-.2-.5.1-.5 0-.5 0-.5.1-.5.1-.5-.2-.5-.1-.6.1-.5-.1-.5-.1-.5.1-.5 0-.5-.3-.5-.3-.5.1-.5.1-.5 0-.5.2-.5.1-.5-.2-.5-.2-.5-.1-.5-.1-.5 0-.5 0-.5 0-.5.2-.5-.3-.5-.3-.5.1-.5 0-.5 0-.5 0-.5.1-.5 0-.5-.2-.5-.1-.5-.1-.5 0-.5.1-.5 0-.5-.1-.5.1-.5.1-.5-.2-.5-.3-.6-.1-.5.3-.5.1-.5-.4-.5-.1-.5 0-.5-.1-.5-.1-.5-.1-.5 0-.5 0-.5.1-.5-.1-.5-.2-.5-.1-.5-.1-.5-.2-.5.1-.5 0-.5 0-.5-.1-.5-.1-.5-.2-.5-.2-.5-.2-.5 0-.5-.2-.5-.2-.5.1-.5 0-.5-.1-.5 0-.5-.3-.5-.2-.5 0-.5-.1-.5-.1-.5.2-.5 0-.5-.4-.6-.2-.5.1-.5-.1-.5-.3-.5-.2-.5.1-.5-.1-.5-.3-.5-.2-.5.1-.5 0-.5-.3-.5-.2-.5-.2-.5-.1-.5.2-.5.1-.5-.4-.5-.4-.5-.2-.5-.2-.5-.3-.5 0-.5.1-.5-.3-.5-.4-.5 0-.5.1-.5 0-.5-.1-.5-.3-.5-.4-.5-.4-.5-.1-.5.2-.5-.4-.5-.5-.5-.3-.5-.2-.6-.2-.5-.1-.5-.3-.5-.2-.5-.2-.5-.2-.5 0-.5-.2-.5-.6-.5-.4-.5-.3-.5-.4-.5-.4-.5-.4-.5-.1-.5-.3-.5-.7-.5-.6-.5-.3-.5-.3-.5-.3-.5-.6-.5-.3-.5-.2-.5-.4-.5-.6-.5-.6-.5-.4-.5-.5-.5-.7-.5-.8-.5-.5-.5-.2-.5-.5-.5-.5-.5-.5-.5-.9-.5-.8-.5-.6-.6-.8-.5-.9-.5-.8-.5-.6-.5-.7-.5-.5-.5-.4-.5-.5-.5-.4-.5-.6-.5-.7-.5-.6-.5-.2-.5-.4-.5-.4-.5-.5-.5-.5-.5-.5-.5-.1-.5-.1-.5-.6-.5-.8-.5-.7-.5-.4-.5-.3-.5-.5-.5-.3-.5-.2-.5-.4-.5-.4-.5-.3-.5-.2-.5-.5-.5-.6-.5-.3-.5-.1-.5-.3-.5-.2-.5-.4-.5-.6-.6-.4-.5-.3-.5-.2-.5-.1-.5-.3-.5-.3-.5 0-.5-.2-.5 0-.5-.5-.5-1-.5-.7-.5-.5-.5-.5-.5-.5-.5-.6-.5-.5-.5-.5-.5-.5-.5-.5z" fill="#e3e3e3" stroke="#bdbdbd" stroke-width="0.7"/>
<path d="M22.3 128.1l.5.2.5.2.5.2.5.2.5.1.5.1.5.3.5.3.5.4.5.3.5 0 .5.1.5.3.5.5.5.6.5.3.5.2.5.2.5.3.6.3.5.1.5.3.5.3.5.3.5.3.5.3.5.4.5.4.5.3.5.5.5.3.5.3.5.3.5.6.5.5.5.4.5.4.5.6.5.7.5.2.5.3.5.5.5.5.5.4.5.4.5.2.5.3.5.6.5.6.5.5.5.6.5.5.5.4.5.7.5.7.5.6.5.6.5.8.5.8.6.5.5.6.5.7.5.5.5.5.5.7.5.8.5.5.5.2.5.4.5.7.5.7.5.5.5.7.5.5.5.4.5.3.5.2.5.4.5.6.5.6.5.5.5.4.5.4.5.2.5 0 .5.4.5.6.5.3.5.2.5.5.5.3.5.2.5.4.5.2.5.2.5.3.5.3.5 0 .6.1.5.1.5.4.5.4.5.1.5.3.5.2.5.3.5.3.5.1.5.1.5.4.5.3.5 0 .5-.1.5.2.5.4.5.3.5.1.5-.1.5 0 .5.4.5.1.5-.1.5 0 .5.3.5.4.5.3.5-.2.5 0 .5 0 .5 0 .5.3.5.4.5 0 .5-.1.5.1.5.4.5.2.6 0 .5 0 .5.2.5.1.5 0 .5.1.5-.2.5.1.5.3.5.1.5.1.5.3.5.3.5 0 .5.1.5.1.5-.1.5-.1.5.2.5.2.5 0 .5 0 .5.1.5-.1.5.1.5.3.5.2.5-.1.5-.1.5.2.5.3.5.1.5.1.5.1.5.1.5-.1.5-.1.5 0 .5-.2.5-.2.6.4.5.4.5-.3.5-.2.5.4.5.4.5 0 .5-.1.5 0 .5.1.5.2.5 0 .5 0 .5.1.5.1.5-.1.5 0 .5 0 .5 0 .5.1.5 0 .5-.2.5-.2.5.3.5.3.5-.1.5 0 .5.1.5.1.5 0 .5-.1.5 0 .5.2.5 0 .5 0 .5.1.5.2.5.1.5-.1.6-.1.5 0 .5.1.5.2.5.1.5-.1.5-.2.5 0 .5 0 .5.2.5.3.5-.1.5 0 .5.1.5-.1.5.2.5.2.5-.1.5-.1.5 0 .5.1.5-.1.5-.2.5.2.5.2.5-.1.5-.1.5.1.5.2.5.3.5.2.5-.3.5-.2.5.1.5.2.5.3.5.2.5.1.5.1.6.1.5-.3.5-.1.5-.1.5.1.5.2.5.2.5.1.5-.2.5-.1.5.3.5.3.5 0 .5-.3.5-.1.5.1.5 0 .5-.1.5.3.5.4.5-.2.5-.2.5.2.5.2.5.3.5.1.5-.1.5-.1.5 0 .5-.1.5.1.5.3.5.1.5 0 .5-.1.5 0 .5 0 .5-.1.5.2.5.3.6.1.5.1.5 0 .5 0 .5-.2.5-.1.5.2.5.4.5 0 .5 0 .5-.1.5.2.5.3.5 0 .5.1.5-.1.5-.3.5-.1.5.1.5.1" fill="none" stroke="#000000" stroke-width="1.35" stroke-linejoin="round"/>
<path d="M22.3 128.1l.5.2.5.3.5.3.5.3.5.3.5.4.5.4.5.2.5.1.5.1.5.3.5.5.5.3.5.2.5.3.5.4.5.2.5.5.5.5.6.1.5.3.5.5.5.6.5.2.5.1.5.6.5.8.5.5.5.2.5 0 .5.2.5.6.5.6.5.6.5.6.5.3.5.3.5.4.5.3.5.2.5.6.5.7.5.4.5.4.5.6.5.3.5.3.5.6.5.4.5.3.5.7.5.4.5.5.5.3.5.1.5.4.5.8.5.5.5.3.6.2.5.5.5.7.5.4.5-.1.5.3.5.6.5.5.5.3.5.7.5.4.5.1.5.3.5.5.5.1.5.2.5.4.5.4.5.4.5.4.5.3.5.5.5.2.5.1.5.4.5.7.5.2.5-.3.5.3.5.5.5.3.5.3.5.4.5.1.5.1.5.1.5.3.5.5.5.4.6.1.5 0 .5.1.5 0 .5-.1.5.4.5.4.5.1.5.2.5.1.5-.1.5.3.5.5.5.2.5-.1.5-.2.5.1.5.4.5.2.5.2.5.2.5.1.5-.3.5-.1.5.4.5.2.5.2.5.1.5-.2.5-.2.5.1.5 0 .5 0 .5.3.5.2.5.2.5.1.5.3.5.3.6.1.5-.1.5.1.5.2.5.1.5-.2.5-.1.5.3.5.4.5.2.5.1.5-.1.5-.3.5 0 .5.3.5.1.5.1.5.3.5.3.5 0 .5 0 .5 0 .5-.3.5-.2.5.4.5.2.5-.1.5-.1.5.4.5.3.5-.3.5-.4.5-.2.5.3.5.3.5-.2.5-.1.5.4.5.4.5.1.6-.1.5.2.5.3.5-.2.5-.3.5-.1.5-.1.5.1.5.2.5 0 .5-.2.5 0 .5.4.5.4.5-.1.5 0 .5.1.5.1.5 0 .5 0 .5-.1.5-.3.5.1.5.3.5-.1.5 0 .5 0 .5-.1.5.1.5.1.5 0 .5-.1.5-.1.5 0 .5.2.5.1.5.2.5.1.5-.2.6-.1.5.2.5.1.5.1.5-.1.5 0 .5.1.5-.1.5-.2.5.1.5.3.5.2.5-.2.5-.1.5-.2.5-.1.5.5.5.3.5-.2.5-.3.5.1.5 0 .5-.1.5.2.5.1.5-.1.5-.2.5 0 .5.1.5 0 .5.4.5.4.5-.1.5.1.5.2.5-.1.5-.4.5-.1.5.2.6.1.5.1.5.3.5-.1.5-.2.5.1.5.2.5.2.5.1.5-.1.5-.1.5-.1.5.1.5.1.5.2.5.1.5-.1.5-.1.5-.1.5 0 .5.1.5.1.5.2.5.1.5.1.5.3.5.2.5-.4.5-.3.5.3.5.4.5.2.5-.2.5 0 .5.3.5.2.5-.1.5 0 .5.3.5.2.6-.3.5-.2.5.2.5.2.5 0 .5.2.5.3.5.1.5-.3.5-.2.5-.1.5-.1.5.1.5.4.5.5.5.4.5 0 .5-.1.5-.1.5-.2" fill="none" stroke="#ff0000" stroke-width="1.35" stroke-linejoin="round"/>
<path d="M22.3 128.1l.5.2.5.1.5.1.5.1.5.2.5.2.5.2.5 0 .5.1.5.4.5.2.5 0 .5.1.5.1.5.3.5.2.5 0 .5.1.5.2.6-.2.5.1.5.3.5 0 .5-.1.5.3.5.2.5 0 .5.2.5.5.5.3.5 0 .5 0 .5.3.5.2.5.1.5.2.5.2.5-.2.5 0 .5.3.5.4.5 0 .5-.2.5 0 .5.1.5.2.5.5.5.3.5.1.5.5.5.2.5.1.5.2.5.1.5.1.5.4.5.2.5 0 .5.4.6.5.5.3.5.2.5.3.5.3.5.2.5.4.5.4.5.3.5.3.5.5.5.4.5.2.5.4.5.6.5.2.5-.1.5.5.5.4.5.1.5.3.5.4.5.2.5.5.5.4.5 0 .5.2.5.4.5.7.5.8.5.2.5-.2.5.3.5.8.5.6.5 0 .5.2.5.4.5.3.6.2.5.4.5.5.5.3.5.3.5.1.5.2.5.5.5.5.5.1.5.1.5.6.5.6.5.3.5-.1.5-.2.5.3.5.8.5.4.5-.3.5.1.5.4.5.1.5.2.5.3.5.4.5.3.5.2.5.1.5.1.5 0 .5-.2.5.3.5.6.5.2.5.3.5.3.5.3.5.1.6.1.5-.2.5-.1.5.1.5.1.5.1.5.2.5.3.5.2.5-.1.5-.1.5.3.5.5.5.2.5 0 .5-.2.5.2.5.5.5.3.5.2.5-.1.5-.3.5 0 .5.3.5.1.5 0 .5 0 .5-.1.5-.1.5.1.5.1.5.1.5.2.5.2.5.2.5-.1.5 0 .5-.1.5 0 .5 0 .6.1.5.1.5.1.5-.1.5 0 .5.1.5-.1.5 0 .5.1.5.1.5 0 .5-.1.5-.1.5.2.5.4.5-.1.5-.2.5-.1.5.2.5.2.5-.1.5.1.5.1.5-.2.5.2.5.3.5 0 .5 0 .5 0 .5 0 .5-.1.5 0 .5 0 .5-.1.5.1.5-.1.5-.1.5.4.5.4.6-.2.5-.2.5 0 .5-.1.5 0 .5-.1.5-.2.5.1.5.1.5-.1.5-.1.5-.1.5.3.5.6.5.1.5-.1.5-.1.5-.3.5-.2.5.3.5.2.5-.1.5.1.5 0 .5-.3.5-.1.5.2.5.1.5.1.5.4.5 0 .5-.2.5.1.5.1.5 0 .5 0 .5-.2.5.2.5.3.6-.2.5-.3.5.2.5.2.5-.2.5-.1.5.1.5-.2.5 0 .5 0 .5 0 .5.3.5-.1.5-.2.5.1.5-.2.5-.2.5.2.5.3.5.2.5-.1.5 0 .5 0 .5 0 .5.2.5-.1.5 0 .5-.1.5-.3.5.2.5.3.5 0 .5-.2.5 0 .5 0 .5 0 .5-.1.5 0 .5 0 .5.2.6-.2.5-.2.5.1.5.2.5-.1.5 0 .5.5.5.3.5-.5.5-.2.5.1.5-.2.5-.3.5.1.5.4.5.2.5.1.5-.3.5.3.5.3" fill="none" stroke="#0000ff" stroke-width="1.35" stroke-linejoin="round"/>
<rect x="22.3" y="117.6" width="158.3" height="83.9" fill="none" stroke="#8a8a8a" stroke-width="1"/>
<text x="18.7" y="119.8" font-size="4.9" text-anchor="end" class="t">1</text>
<text x="18.7" y="130.3" font-size="4.9" text-anchor="end" class="t">0</text>
<text x="18.7" y="140.8" font-size="4.9" text-anchor="end" class="t">-1</text>
<text x="18.7" y="151.3" font-size="4.9" text-anchor="end" class="t">-2</text>
<text x="18.7" y="161.8" font-size="4.9" text-anchor="end" class="t">-3</text>
<text x="18.7" y="172.2" font-size="4.9" text-anchor="end" class="t">-4</text>
<text x="18.7" y="182.7" font-size="4.9" text-anchor="end" class="t">-5</text>
<text x="18.7" y="193.2" font-size="4.9" text-anchor="end" class="t">-6</text>
<text x="18.7" y="203.7" font-size="4.9" text-anchor="end" class="t">-7</text>
<text x="22.3" y="209.1" font-size="4.9" text-anchor="middle" class="t">0</text>
<text x="48.7" y="209.1" font-size="4.9" text-anchor="middle" class="t">5</text>
<text x="75.1" y="209.1" font-size="4.9" text-anchor="middle" class="t">10</text>
<text x="101.4" y="209.1" font-size="4.9" text-anchor="middle" class="t">15</text>
<text x="127.8" y="209.1" font-size="4.9" text-anchor="middle" class="t">20</text>
<text x="154.2" y="209.1" font-size="4.9" text-anchor="middle" class="t">25</text>
<text x="180.6" y="209.1" font-size="4.9" text-anchor="middle" class="t">30</text>
<text x="101.5" y="216.9" font-size="5.3" text-anchor="middle" class="t">Time [s]</text>
<text transform="translate(12.0,159.6) rotate(-90)" font-size="5.5" text-anchor="middle" class="t">Force [N]</text>
<rect x="22.3" y="117.6" width="10.6" height="10.1" fill="#fff" stroke="#5c6068" stroke-width="0.8"/>
<text x="27.6" y="126.3" font-size="9.4" text-anchor="middle" class="L">D</text>
<rect x="95.2" y="121.0" width="82.0" height="8.7" fill="#fff" stroke="#7a7a7a" stroke-width="0.8"/>
<line x1="98.6" y1="124.8" x2="109.0" y2="124.8" stroke="#ff5a5a" stroke-width="1.5"/>
<text x="109.8" y="126.5" font-size="4.5" class="t2">Coil5</text>
<line x1="123.7" y1="124.8" x2="134.1" y2="124.8" stroke="#5a5aff" stroke-width="1.5"/>
<text x="134.9" y="126.5" font-size="4.5" class="t2">Coil10</text>
<line x1="152.2" y1="124.8" x2="162.6" y2="124.8" stroke="#505050" stroke-width="1.5"/>
<text x="163.4" y="126.5" font-size="4.5" class="t2">Coil15</text>
<path d="M204.9 193.1l.3-.3.4-.3.3-.3.3-.4.4-.3.3-.3.3-.3.4-.3.3-.2.3-.3.4-.3.3-.5.3-.5.4-.5.3-.5.4-.2.3-.1.3-.3.4-.2.3-.1.3-.2.4-.3.3-.2.3 0 .4-.1.3-.5.3-.4.4-.1.3.1.3-.2.4-.7.3-.6.3-.2.4 0 .3-.4.3-.3.4-.1.3-.4.3-.7.4-.5.3-.1.3-.1.4-.4.3-.6.3-.4.4-.3.3-.4.4-.2.3-.2.3-.5.4-.5.3-.2.3-.2.4-.3.3-.5.3-.6.4-.2.3-.2.3-.5.4-.4.3-.3.3-.2.4-.4.3-.5.3-.2.4-.1.3-.4.3-.5.4-.3.3 0 .3 0 .4-.6.3-.6.3-.2.4-.4.3-.5.3-.2.4-.1.3 0 .4-.1.3-.3.3-.4.4-.5.3-.3.3-.2.4-.2.3-.5.3-.2.4-.1.3-.3.3-.5.4-.3.3-.2.3-.3.4-.2.3-.4.3-.5.4-.5.3-.4.3-.1.4-.1.3-.4.3-.5.4-.4.3-.3.3-.1.4 0 .3-.3.3-.5.4-.5.3-.6.4-.5.3-.2.3-.2.4-.2.3-.4.3-.4.4 0 .3-.1.3-.6.4-.2.3-.3.3-.4.4-.4.3-.1.3-.1.4-.1.3-.2.3-.4.4-.3.3-.1.3-.3.4-.2.3-.1.3-.3.4-.2.3-.2.3-.3.4 0 .3 0 .3-.2.4.1.3.1.4-.2.3-.3.3-.3.4-.3.3-.2.3-.1.4-.1.3-.1.3-.1.4-.1.3-.2.3-.1.4 0 .3-.2.3-.3.4.1.3.1.3-.2.4-.3.3-.1.3-.2.4-.3.3.2.3.1.4-.1.3-.3.3-.2.4.1.3 0 .3-.1.4 0 .3-.2.4-.2.3-.2.3-.1.4 0 .3-.1.3-.2.4-.3.3 0 .3.1.4-.1.3-.2.3 0 .4.2.3 0 .3-.3.4-.1.3-.2.3-.2.4-.1.3.1.3 0 .4 0 .3 0 .3-.1.4-.3.3-.2.3 0 .4-.1.3 0 .3.2.4-.1.3-.2.4-.2.3-.2.3-.1.4-.2.3 0 .3.2.4 0 .3 0 .3-.1.4-.2.3.1.3.1.4-.1.3-.4.3.1.4.1.3-.1.3-.2.4-.2.3 0 .3 0 .4 0 .3-.1.3-.2.4 0 .3.1.3.1.4 0 .3-.1.4.1.3 0 .3 0 .4-.1.3-.1.3-.1.4-.1.3-.1.3.2.4 0 .3-.2.3.1.4-.1.3 0 .3.1.4.1.3 0 .3 0 .4 0 .3-.1.3-.1.4 0 .3-.3.3-.1.4.2.3.2.3-.1.4 0 .3.1.3-.2.4-.1.3.2.4 0 .3-.2.3-.1.4-.1.3.2.3.4.4-.1.3-.2.3-.1.4-.2.3.1.3-.1.4-.1.3.1.3.1.4 0 .3-.1.3-.1.4-.2.3 0 .3-.1.4.1.3.4.3.1.4-.4.3-.2.3.3.4.1.3-.2.3.1.4-.1.3-.3.4 0 .3.1.3-.1.4.1.3.2.3.1.4.2.3 0 .3-.1.4-.1.3-.1.3-.1.4-.2.3-.1.3-.1.4-.1.3.2.3.4.4-.2.3-.2.3-.2.4-.2.3.1.3.1.4.1.3 0 .3-.2.4 0 .3.2.3.1.4-.2.3 0 .4.1.3.1.3-.2.4-.3.3-.3.3 0 .4.3.3.3.3 0 .4-.1.3-.1.3-.1.4 0 .3-.1.3-.2.4 0 .3.1.3-.2.4.1.3.1.3 0 .4 0 .3 0 .3-.2.4-.1.3-.1.3-.1.4.3.3.2.3-.1.4-.1.3 0 .4-.2.3 0 .3 0 .4-.1.3 0 .3-.1.4 0 .3 0 .3-.2.4.1.3.2.3-.1.4-.1.3 0 .3 0 .4-.1.3 0 .3 0 .4-.1.3 0 .3.1.4-.1.3-.1.3 0 .4.1.3 0 .3-.2.4-.2.3 0 .3 0 .4-.1.3-.2.4-.2.3 0 .3.3.4.1.3-.1.3-.2.4.1.3.3.3.2.4-.1.3-.4.3-.3.4 0 .3.1.3.2.4.1.3-.3.3-.4.4 0 .3.1.3.2.4.1.3-.2.3-.3.4.1.3.1.3-.2.4-.1.3.2.3 0 .4 0 .3-.1.4-.1.3-.1.3 0 .4 0 .3-.2.3.1.4.1.3 0 .3-.2.4-.2.3-.1.3.1.4.1.3-.1.3-.2.4-.1.3.2.3 0 .4.1.3.1.3 0 .4-.2.3-.4.3-.3.4.1.3 0 .3 0 .4.1.3-.1.3.2.4.3.3.1.4-.1.3-.2.3-.3.4-.2.3.1.3-.1.4 0 .3-.2.3-.1.4.2.3.1.3 0 .4-.3.3-.2 0 4.6-.3.1-.4-.1-.3 0-.3.2-.4.1-.3-.1-.3 0-.4 0-.3.1-.3.1-.4.2-.3.2-.3 0-.4-.2-.3 0-.4.2-.3 0-.3-.1-.4 0-.3.2-.3-.1-.4-.2-.3.2-.3.2-.4 0-.3 0-.3-.1-.4.1-.3.1-.3 0-.4 0-.3-.1-.3.3-.4.3-.3-.1-.3-.1-.4.2-.3.1-.3 0-.4 0-.3-.2-.3-.1-.4.1-.3.1-.3.2-.4.1-.3-.1-.4 0-.3.2-.3 0-.4-.1-.3.1-.3.1-.4.1-.3 0-.3-.2-.4-.2-.3.3-.3.5-.4-.2-.3-.3-.3.2-.4.2-.3-.2-.3-.1-.4.4-.3.5-.3-.1-.4-.2-.3 0-.3-.2-.4-.1-.3.1-.3.2-.4.1-.3-.1-.3-.1-.4.2-.3.1-.4-.2-.3-.2-.3 0-.4.1-.3.1-.3.3-.4.1-.3 0-.3.2-.4.2-.3-.1-.3-.1-.4-.2-.3 0-.3.2-.4-.1-.3.1-.3.1-.4-.1-.3 0-.3.3-.4 0-.3-.3-.3-.2-.4 0-.3.2-.3.3-.4 0-.3 0-.3-.1-.4-.1-.3.2-.4.2-.3-.1-.3 0-.4.1-.3-.1-.3.1-.4.2-.3 0-.3 0-.4 0-.3-.2-.3.1-.4.1-.3.1-.3 0-.4 0-.3 0-.3 0-.4.1-.3.1-.3 0-.4-.1-.3 0-.3.1-.4.3-.3.4-.3-.2-.4-.2-.3 0-.3-.1-.4.1-.3 0-.4 0-.3.1-.3.1-.4 0-.3-.3-.3-.1-.4 0-.3 0-.3.1-.4.3-.3.3-.3-.2-.4-.3-.3.2-.3.2-.4 0-.3-.1-.3 0-.4.1-.3 0-.3-.1-.4-.2-.3-.1-.3.1-.4.1-.3.1-.3.1-.4 0-.3.1-.3 0-.4-.1-.3.2-.4.1-.3 0-.3 0-.4 0-.3 0-.3-.2-.4 0-.3 0-.3 0-.4 0-.3 0-.3.2-.4.3-.3-.1-.3-.2-.4.1-.3-.1-.3-.2-.4.3-.3.3-.3-.2-.4-.3-.3.1-.3.1-.4-.1-.3 0-.3.1-.4.1-.3.1-.3-.1-.4.2-.3.1-.4-.3-.3-.2-.3.1-.4-.1-.3.1-.3.3-.4 0-.3.1-.3 0-.4.1-.3 0-.3 0-.4-.1-.3 0-.3.1-.4 0-.3 0-.3.1-.4-.1-.3.1-.3.1-.4 0-.3 0-.3-.1-.4 0-.3.1-.3 0-.4-.1-.3-.2-.3 0-.4.4-.3.2-.4-.2-.3-.1-.3.4-.4.5-.3.1-.3-.1-.4-.1-.3-.4-.3-.3-.4.3-.3.4-.3-.1-.4 0-.3.2-.3 0-.4-.1-.3.2-.3.4-.4-.1-.3-.2-.3.2-.4.1-.3 0-.3-.1-.4-.1-.3 0-.3.2-.4.1-.3-.1-.4 0-.3.1-.3.1-.4.4-.3.2-.3 0-.4 0-.3.2-.3.1-.4-.2-.3-.1-.3.2-.4.5-.3.2-.3-.1-.4 0-.3-.1-.3 0-.4.2-.3 0-.3 0-.4.3-.3.3-.3.2-.4.1-.3-.1-.3-.2-.4.2-.3.2-.3 0-.4 0-.3.1-.4.2-.3.2-.3-.2-.4-.1-.3.3-.3.2-.4 0-.3.2-.3.1-.4.1-.3.3-.3 0-.4-.1-.3.2-.3.3-.4 0-.3.2-.3.2-.4 0-.3.1-.3.1-.4 0-.3.2-.3.2-.4.3-.3.3-.3-.1-.4 0-.3.2-.3.2-.4.1-.3 0-.4.3-.3.3-.3.1-.4 0-.3.2-.3.1-.4.2-.3.4-.3.3-.4.2-.3.2-.3.1-.4-.2-.3 0-.3.4-.4.5-.3.3-.3.1-.4.4-.3.4-.3.1-.4.1-.3.2-.3.4-.4.3-.3.3-.3.2-.4.3-.3.4-.3.6-.4.4-.3 0-.4.2-.3.5-.3.4-.4.5-.3.1-.3.1-.4.4-.3.5-.3.4-.4.4-.3.3-.3.2-.4.3-.3.3-.3.4-.4.7-.3.5-.3.1-.4 0-.3.4-.3.4-.4.2-.3.1-.3.1-.4.3-.3.4-.3.4-.4.2-.3.3-.3.2-.4.1-.3.4-.4.5-.3.2-.3.3-.4.4-.3.2-.3.3-.4.4-.3.3-.3.1-.4.4-.3.5-.3.2-.4.2-.3.4-.3.4-.4.4-.3.2-.3.2-.4.2-.3.4-.3.7-.4.3-.3.2-.3.3-.4.6-.3.4-.3.1-.4.2-.3.4-.3.5-.4.4-.3.2-.4.4-.3.3-.3.3-.4.2-.3.5-.3.7-.4.3-.3.1-.3.4-.4.5-.3.2-.3.3-.4.1-.3.2-.3.4-.4.4-.3.1-.3.2-.4.3-.3.2-.3.3-.4.4-.3.3-.3.4-.4.3-.3 0-.3 0-.4.4-.3.3-.3-.1-.4.2-.3.2-.4.2-.3 0-.3 0-.4.1-.3.1-.3 0-.4 0-.3 0-.3.1-.4.1-.3 0-.3 0-.4.1-.3 0z" fill="#ffe0e0" stroke="#ffa0a0" stroke-width="0.7"/>
<path d="M204.9 193.1l.3-.2.4-.1.3-.2.3-.2.4-.1.3-.1.3-.2.4-.2.3-.2.3-.3.4-.1.3-.3.3-.5.4-.3.3.1.4 0 .3-.5.3-.6.4-.2.3 0 .3-.2.4-.3.3-.2.3-.2.4-.2.3-.5.3-.2.4-.1.3-.4.3-.4.4 0 .3 0 .3-.3.4-.4.3-.5.3-.3.4-.1.3-.4.3-.6.4-.4.3-.1.3-.1.4-.5.3-.7.3-.4.4-.2.3-.2.4-.2.3-.5.3-.5.4-.4.3-.4.3 0 .4-.4.3-.5.3-.5.4-.4.3-.1.3-.6.4-.6.3-.2.3-.2.4-.2.3-.3.3-.3.4-.3.3-.4.3-.5.4-.2.3-.1.3-.4.4-.5.3-.4.3-.4.4-.4.3-.2.3.1.4-.3.3-.6.4-.5.3-.3.3-.3.4-.3.3-.2.3-.4.4-.7.3-.4.3-.2.4-.2.3-.1.3-.4.4-.5.3-.4.3-.3.4-.3.3-.3.3-.3.4-.5.3-.5.3-.3.4-.4.3-.5.3-.3.4-.3.3-.4.3-.3.4-.3.3-.7.3-.5.4-.4.3-.2.4-.3.3-.5.3-.2.4-.3.3-.5.3-.4.4-.4.3-.3.3-.3.4-.2.3-.4.3-.4.4-.1.3-.1.3-.3.4-.7.3-.6.3-.2.4-.1.3-.4.3-.3.4 0 .3-.3.3-.5.4-.3.3-.2.3-.1.4-.2.3-.4.3 0 .4-.2.3-.4.4 0 .3-.1.3-.4.4-.4.3-.3.3-.2.4-.2.3-.1.3-.1.4-.4.3-.2.3-.1.4 0 .3-.2.3-.3.4 0 .3-.2.3-.3.4-.4.3-.3.3-.2.4-.1.3-.1.3-.3.4-.2.3 0 .3 0 .4.1.3 0 .3-.3.4-.3.3-.3.4-.2.3 0 .3.1.4-.2.3-.2.3 0 .4-.2.3-.3.3-.1.4-.2.3-.2.3.1.4.3.3-.2.3-.6.4-.2.3 0 .3-.1.4-.1.3-.3.3-.1.4-.2.3-.1.3 0 .4-.1.3-.2.3-.1.4-.2.3-.2.3 0 .4-.1.3 0 .4-.1.3-.1.3-.1.4-.1.3-.2.3-.2.4 0 .3.1.3 0 .4-.2.3-.3.3-.3.4 0 .3 0 .3.1.4-.1.3-.1.3 0 .4-.1.3-.1.3 0 .4.1.3 0 .3 0 .4 0 .3-.1.3-.3.4-.1.3 0 .4-.1.3 0 .3-.2.4 0 .3.2.3.1.4 0 .3-.1.3-.2.4 0 .3-.1.3 0 .4 0 .3-.1.3-.2.4 0 .3.2.3 0 .4 0 .3 0 .3-.1.4 0 .3.1.3-.2.4-.1.3.2.3.2.4 0 .3-.1.3-.1.4.1.3-.1.4 0 .3 0 .3-.3.4 0 .3 0 .3-.1.4 0 .3.2.3 0 .4-.2.3 0 .3.1.4-.1.3-.1.3-.1.4-.1.3-.1.3.1.4-.1.3 0 .3.2.4 0 .3-.2.3 0 .4 0 .3-.2.3 0 .4 0 .3.1.3 0 .4-.2.3 0 .4.1.3 0 .3.1.4 0 .3-.1.3 0 .4.1.3-.2.3-.2.4-.1.3 0 .3.1.4-.1.3 0 .3.2.4.1.3-.1.3-.3.4-.2.3.2.3 0 .4 0 .3.2.3-.1.4-.1.3 0 .3 0 .4 0 .3 0 .3-.2.4-.2.3 0 .4.1.3.1.3-.1.4-.3.3-.2.3.1.4.4.3 0 .3-.2.4.1.3.2.3-.1.4-.2.3-.1.3 0 .4-.2.3 0 .3.2.4 0 .3-.3.3-.2.4-.1.3.1.3 0 .4 0 .3-.1.3.1.4 0 .3-.2.3 0 .4.1.3-.1.4-.1.3 0 .3-.1.4 0 .3.1.3.1.4-.4.3-.3.3-.1.4 0 .3.2.3-.1.4-.1.3 0 .3 0 .4.2.3.1.3-.1.4-.3.3 0 .3.1.4 0 .3-.1.3 0 .4-.2.3-.2.3.3.4-.1.3-.5.3-.1.4.2.3.1.4 0 .3 0 .3 0 .4-.1.3 0 .3 0 .4-.1.3 0 .3-.1.4-.1.3-.2.3-.3.4.2.3.3.3-.1.4-.3.3.1.3.1.4.1.3-.3.3-.1.4 0 .3-.3.3-.2.4.1.3.2.3.3.4.1.3 0 .3-.2.4-.3.3 0 .4 0 .3 0 .3-.2.4 0 .3.2.3.1.4-.2.3-.1.3 0 .4-.3.3 0 .3 0 .4 0 .3.1.3 0 .4 0 .3.1.3 0 .4 0 .3-.1.3-.2.4-.2.3 0 .3.1.4 0 .3-.1.3-.1.4-.1.3-.1.3 0 .4.1.3.2.4-.3.3-.2.3.1.4.2.3 0 .3 0 .4-.1.3-.1.3-.1.4-.1.3.1.3-.1.4-.2.3 0 0 7.8-.3 0-.4-.3-.3 0-.3.2-.4.3-.3.1-.3-.2-.4-.3-.3.2-.3.4-.4.2-.3-.3-.3-.1-.4 0-.3-.1-.4 0-.3.2-.3.1-.4-.3-.3 0-.3.4-.4.1-.3 0-.3-.1-.4 0-.3.3-.3.1-.4-.1-.3 0-.3.4-.4.2-.3-.2-.3-.2-.4-.1-.3.1-.3.2-.4.2-.3-.2-.3-.2-.4.1-.3.2-.3-.1-.4-.1-.3.1-.3 0-.4.1-.3.1-.4-.1-.3 0-.3 0-.4.3-.3-.1-.3-.2-.4.1-.3.2-.3.2-.4 0-.3-.3-.3-.2-.4.3-.3.3-.3-.1-.4-.1-.3.2-.3.1-.4 0-.3-.1-.3-.1-.4-.2-.3.1-.3.3-.4.1-.3-.2-.3.3-.4.4-.3-.1-.3-.2-.4 0-.3.2-.4.1-.3.1-.3-.1-.4-.1-.3.1-.3.3-.4-.1-.3-.1-.3.1-.4.1-.3 0-.3.1-.4.2-.3.1-.3 0-.4.1-.3 0-.3 0-.4.1-.3 0-.3-.2-.4.2-.3.2-.3 0-.4 0-.3 0-.3-.2-.4-.1-.3.2-.3.2-.4 0-.3.2-.4 0-.3.1-.3 0-.4-.2-.3-.1-.3.1-.4.2-.3.2-.3 0-.4.1-.3-.1-.3-.2-.4.1-.3.1-.3.1-.4.1-.3 0-.3 0-.4-.1-.3-.1-.3.5-.4.3-.3-.3-.3-.3-.4 0-.3-.1-.3.1-.4.2-.3 0-.3.1-.4.1-.3-.2-.4 0-.3.2-.3.2-.4 0-.3.1-.3 0-.4 0-.3-.2-.3.1-.4.3-.3 0-.3-.3-.4-.1-.3.1-.3 0-.4-.3-.3 0-.3.1-.4.3-.3.3-.3-.1-.4-.2-.3 0-.3 0-.4.1-.3.4-.3.1-.4-.2-.3-.2-.3.1-.4.2-.3 0-.4 0-.3.1-.3 0-.4 0-.3-.1-.3-.1-.4.2-.3.1-.3.1-.4.1-.3.1-.3 0-.4-.1-.3 0-.3 0-.4 0-.3.1-.3 0-.4-.4-.3.4-.3.4-.4-.3-.3-.2-.3.1-.4.2-.3 0-.3-.1-.4.2-.3.2-.3-.1-.4 0-.3-.1-.4-.2-.3-.1-.3.1-.4.2-.3 0-.3.2-.4.1-.3-.1-.3-.1-.4-.1-.3 0-.3 0-.4.1-.3.3-.3 0-.4-.1-.3.2-.3.1-.4-.1-.3-.3-.3.1-.4.2-.3.2-.3 0-.4-.2-.3-.2-.3 0-.4.4-.3.3-.3 0-.4-.1-.3-.1-.4 0-.3.1-.3.1-.4 0-.3-.1-.3 0-.4.1-.3.2-.3.2-.4.2-.3-.1-.3-.1-.4-.2-.3 0-.3.2-.4.2-.3.2-.3.1-.4.1-.3.2-.3 0-.4 0-.3 0-.3.2-.4.1-.3.2-.3.3-.4-.1-.3-.2-.4.1-.3.1-.3.1-.4.2-.3.2-.3.1-.4.3-.3.2-.3 0-.4.4-.3.3-.3-.2-.4-.2-.3.2-.3.2-.4.3-.3.2-.3.1-.4 0-.3.1-.3.1-.4 0-.3.1-.3.3-.4.1-.3.1-.3.3-.4.3-.3.3-.3-.1-.4-.2-.3.3-.4.3-.3 0-.3.1-.4.3-.3.2-.3.1-.4.3-.3 0-.3.1-.4.2-.3.1-.3.1-.4.3-.3.4-.3.2-.4-.1-.3.1-.3.2-.4.3-.3.1-.3 0-.4.4-.3.4-.3.1-.4.1-.3.2-.3.2-.4.2-.3.4-.3.3-.4 0-.3-.1-.4.2-.3.6-.3.6-.4.3-.3.3-.3.4-.4 0-.3-.1-.3.3-.4.5-.3.3-.3.3-.4.3-.3.3-.3.4-.4.4-.3 0-.3 0-.4.2-.3.4-.3.4-.4.6-.3.5-.3.3-.4.4-.3.3-.3.1-.4.3-.3.5-.3.4-.4.3-.3.5-.4.5-.3.5-.3.3-.4.1-.3.2-.3.5-.4.5-.3.5-.3.4-.4.2-.3.6-.3.6-.4.1-.3.3-.3.5-.4.2-.3.1-.3.4-.4.6-.3.4-.3.3-.4.3-.3.2-.3.5-.4.5-.3.3-.3.4-.4.3-.3.3-.3.3-.4.4-.3.2-.4.5-.3.3-.3.2-.4.3-.3.4-.3.5-.4.2-.3.1-.3.4-.4.4-.3.2-.3.3-.4.4-.3.4-.3.3-.4.2-.3.2-.3.4-.4.4-.3.2-.3.1-.4.1-.3.1-.3.4-.4.5-.3.3-.3.1-.4.1-.3.2-.3.2-.4.3-.3.3-.4.3-.3.2-.3 0-.4.2-.3.4-.3.4-.4.2-.3 0-.3.1-.4.2-.3.3-.3.3-.4.2-.3.1-.3-.1-.4 0-.3.2-.3.4-.4.2-.3 0-.3.2-.4.3-.3.2-.3 0-.4 0-.3-.2-.3.2-.4.4-.3.2-.3.1-.4.2-.3.1-.4.1-.3-.1-.3.1-.4.2-.3.1-.3.1-.4.1-.3.1-.3.1-.4 0-.3.1-.3 0-.4.1-.3 0z" fill="#e3e3e3" stroke="#bdbdbd" stroke-width="0.7"/>
<path d="M204.9 193.1l.3-.1.4 0 .3-.3.3.1.4 0 .3-.8.3.7.4-.8.3 1.3.3-.8.4-.9.3.3.3-.1.4-.1.3.8.4-.9.3.9.3-1.1.4-.9.3-1.4.3-.2.4 1.5.3.2.3.5.4-2 .3.4.3-1 .4.2.3-1.9.3 2.6.4-1.5.3.3.3.3.4-.3.3-1.7.3 2.3.4-.9.3-.5.3-1.2.4-1.1.3-.3.3 1 .4.1.3-1.1.3 2 .4-1.6.3.3.4-.3.3-2.1.3 1.6.4-.8.3-1.9.3 1.5.4.1.3-.4.3-.3.4-2.5.3.8.3-.6.4.2.3-.2.3.6.4-.6.3-1.8.3 1.3.4.3.3-1.4.3-2 .4.5.3.1.3-1.7.4 1.1.3-1.4.3 1.5.4-.4.3-1 .3-1.4.4 1.1.3-1.2.4-.4.3 1.3.3-2 .4-.9.3 1.6.3.5.4-.5.3-1.1.3.9.4-2.6.3 1.9.3-.4.4-2.5.3.3.3-1.9.4-.1.3 1.1.3-1.9.4.8.3-.1.3-.7.4.4.3.5.3-2 .4.4.3.1.3-2.2.4-.6.3-2 .3 2.2.4.2.3-.9.4 1.1.3-.9.3-1 .4-1.2.3-1.1.3.5.4 0 .3-.8.3-.6.4-.4.3.6.3-2.5.4 1 .3 0 .3.3.4-.3.3-1.1.3-.6.4-.8.3 1.8.3-.8.4-.6.3-1.1.3-.6.4 1.8.3-1.3.3.2.4.9.3-3.3.3.5.4.8.3 0 .4-1.8.3.7.3-.7.4-.2.3.6.3-.4.4.7.3-.7.3.6.4-2.3.3.9.3-1.9.4-.4.3.1.3 1.7.4-.7.3-1.8.3 2.5.4-.5.3-1.2.3-.2.4 0 .3-1.2.3 3.1.4-2.7.3.1.3-.3.4-.5.3-.3.3 1 .4-1.6.3 0 .4.1.3 1.3.3-1.7.4-.2.3 1.1.3-1.4.4.6.3.9.3-.5.4-.5.3 1.2.3-1.9.4-.3.3-1.2.3 1.5.4.4.3-1.3.3 2.2.4-.9.3-.2.3-2.1.4 1.2.3 0 .3-2.3.4 1.7.3-.3.3-1.5.4 1.9.3 1.3.3-1.3.4-1.6.3.4.4 1.2.3-1.9.3 1 .4-.4.3 0 .3 1.3.4-3 .3 2.3.3-.9.4-.4.3-1.5.3 1.7.4-.7.3-2.3.3 1.3.4.1.3.1.3.3.4-.2.3 2.1.3-.5.4-1.1.3 1.3.3.6.4-1.5.3-1.7.3 1.5.4.9.3-2.2.4.9.3.8.3.2.4-.4.3-.4.3-.5.4-.4.3 1.4.3-.1.4-1.3.3-.3.3 1.8.4-.3.3-1.6.3-.8.4 1.5.3.6.3.1.4-.1.3-2.2.3 1.4.4-.4.3-.3.3 3 .4-2.4.3.2.3-.5.4.9.3.4.3-1.4.4.2.3-.4.4-.5.3.7.3.5.4-.3.3-.3.3-1.5.4 2 .3-.2.3 1.2.4-2 .3-.7.3-.5.4 1.1.3.5.3.3.4-1.7.3.9.3 1.4.4-.9.3-.4.3 0 .4-1.1.3.1.3.8.4 1.5.3-.1.3-1.2.4.7.3-.2.3.6.4-1.7.3.9.4.6.3-2.1.3 1.1.4.3.3.1.3 0 .4.1.3.3.3.4.4-1 .3 1.6.3-2.4.4.2.3.5.3-1 .4-.7.3.1.3 2.2.4-1.6.3-.7.3 2.9.4-1.4.3-.2.3-1 .4 1.1.3-.8.3.7.4-.3.3-.2.3.4.4-1.1.3.4.4-.3.3 1 .3.3.4 0 .3-2.5.3 3.3.4-1.8.3.1.3 0 .4 0 .3 1.1.3-1 .4.1.3.6.3.3.4-2.2.3-.2.3-.6.4-.1.3 2 .3-.2.4-.2.3.3.3 0 .4.7.3.4.3-2.2.4 2 .3-.4.3-1.8.4.9.3-.6.4-1.2.3 1.5.3-1.5.4 1.5.3-1 .3.6.4.9.3-.6.3-.9.4.9.3.4.3.2.4-1.7.3 1.7.3-1.2.4-.4.3 1.5.3-.5.4 0 .3-.5.3-1.8.4 2 .3 0 .3-.6.4 1.6.3-1.5.3 1.4.4-.5.3-1.7.3-.2.4.4.3.2.4.7.3-1.2.3-.5.4 2.8.3-1.9.3.2.4 1.3.3-1.5.3-2.3.4 2.5.3-1 .3 1.4.4-2.5.3 1.7.3.5.4.5.3-.4.3-.1.4-.8.3-.1.3-.9.4 1.7.3.5.3-.9.4-1.3.3-.5.3.7.4 1.9.3-1.3.3-1.1.4.5.3 1.1.4-1.4.3.1.3-.1.4-.3.3 2.5.3-2.5.4.9.3.8.3-1.2.4-.3.3.2.3.1.4-.2.3-.3.3.1.4.4.3 1.4.3-2 .4 1.1.3-.9.3-.7.4-.2.3 1.2.3-1.4.4 1.5.3-.8.3 1.8.4-2.4.3 1.8.3.3.4-.6.3-1.2.4.7.3-.2.3-.3.4 1 .3-1 .3.3.4.7.3-1.1.3-.2.4.4.3-.6.3-1.7.4 1.6.3.3" fill="none" stroke="#000000" stroke-width="1.35" stroke-linejoin="round"/>
<path d="M204.9 193.1l.3-.3.4.1.3-.3.3.1.4-.3.3.3.3-.8.4-.4.3.3.3-.3.4-.6.3-.2.3.5.4-.2.3-1.2.4-.1.3-1.5.3 2.9.4-2 .3 1.2.3-1.1.4 1.2.3-.6.3-1.4.4.8.3-2.4.3 1.7.4-2.7.3 1.4.3.4.4-1.1.3-.7.3-.7.4.1.3 1 .3-.5.4-1.3.3-1.2.3 1.4.4-2.3.3.5.3-.5.4 1 .3-.8.3-.2.4-.5.3-1.2.4.7.3.5.3-1.7.4.2.3-1 .3.7.4-.7.3-.2.3-.8.4.8.3-2.2.3-.3.4-.6.3.8.3-1.4.4-.4.3.9.3.1.4-.8.3-3.2.3 1.2.4-.4.3-.4.3.4.4 1.7.3-2.2.3-.7.4 1 .3-.8.3-.3.4-1 .3.4.4.1.3-2.4.3-.1.4 2.2.3-.5.3-1.5.4-.8.3.5.3-1.2.4.5.3 1.5.3-1.7.4.6.3-1.5.3.2.4.6.3-2.7.3.6.4-.2.3.1.3.8.4-1.1.3-2.3.3.8.4-.9.3-.4.3 2.3.4-3.1.3.8.3-1.2.4 1.1.3-.8.4-.5.3-.6.3.8.4-2.2.3-.1.3-.7.4 1.9.3-1.7.3-1 .4.3.3 2.4.3-2.6.4.6.3-.6.3-.6.4-.8.3.1.3-.2.4-1.9.3 4.1.3-1.7.4-.9.3-.5.3-.7.4 1.4.3-1.2.3.5.4-1.9.3 1.4.3 1.3.4-2.2.3.8.4-.8.3.8.3-.2.4-1 .3-.7.3.6.4-.3.3-.8.3.9.4-.2.3-1.3.3.6.4 2.6.3-2 .3-.8.4 2.1.3-2.8.3-1.9.4.4.3.2.3 1.5.4.6.3-3 .3 2.9.4-2.2.3 1.2.3.1.4-.1.3-.5.3.1.4-1.3.3 1.2.4.6.3-.2.3 1.5.4-1.5.3-.4.3.8.4-1.4.3-1.5.3-.9.4 3.1.3-.7.3.1.4-1.1.3.5.3 1.3.4-1.5.3-1.4.3.5.4 1.6.3-2.3.3-1.4.4.1.3.8.3 1.9.4-.8.3-.8.3-.6.4 1 .3-.1.3-.5.4.3.3-.6.4 2.3.3-3.9.3 2.2.4-1.1.3 1.5.3-.9.4.5.3 0 .3-.3.4.6.3-2.2.3 2.1.4-1.1.3.5.3 1 .4-.4.3.7.3-3.9.4 1.2.3 1.7.3-2 .4.9.3 1.6.3-.8.4-1.6.3 1.2.3.1.4-.5.3-.2.4.2.3-1.5.3 1.4.4-1 .3 1.2.3 0 .4-1.2.3 1.3.3-.2.4-.4.3.7.3-1 .4 0 .3.3.3-.2.4 1.1.3-3.2.3 1.9.4-1.6.3 1.3.3.7.4-.3.3.9.3-.6.4-2.8.3 1.4.3 2.4.4 0 .3-1.4.3-1.5.4 3.4.3-3.9.4 2.1.3-.3.3.2.4-1.2.3.6.3 1.3.4-1.4.3-.8.3 1.2.4.1.3-.3.3-.6.4 1.2.3-.6.3-1 .4 1.3.3-.3.3.2.4-1.7.3.8.3 1.1.4.4.3-.5.3-.2.4.5.3.2.3.7.4-1.1.3-1 .3.9.4-2.2.3 1.8.4-.4.3.3.3.5.4-.4.3-1.4.3 1 .4-.4.3.7.3.3.4-1.2.3 1.5.3.5.4-1.4.3.8.3-2 .4.9.3 1.3.3-2.5.4 1.1.3-.3.3 1.8.4 0 .3-1.6.3.6.4-2.5.3 3.1.3-.4.4.8.3-3.3.3 2.4.4-.6.3-2.1.4 1.7.3.5.3.8.4-.5.3-.7.3.8.4-.5.3-.5.3-.4.4 1.1.3 0 .3 1.5.4-2.1.3 1.8.3-1.2.4.8.3-1.9.3 0 .4.4.3 1.1.3-.7.4.5.3-.4.3.6.4-.8.3-.6.3.9.4-.4.3 1.4.3-1.7.4.2.3-.4.4 1.3.3-.3.3-.2.4-1.8.3-.2.3 1.5.4.4.3.7.3-3 .4 1.4.3-1.4.3.7.4.6.3 1 .3-1.3.4-.2.3.3.3 1.4.4 1 .3-3.6.3 1.1.4-.2.3 1.5.3-.7.4.9.3-2.3.3.9.4-.5.3-.6.3.8.4-.9.3 3 .4-1.6.3-1.4.3.4.4 2 .3-2 .3 1 .4-.1.3.4.3-.4.4-.8.3-.4.3-1.1.4 1.6.3.1.3-.5.4.2.3-1 .3 3 .4-2.5.3-.5.3.4.4.3.3.8.3-2.9.4 2.7.3-1.1.3.4.4 1 .3-.3.3-1.3.4.5.3 1.7.4-.5.3-.4.3-.9.4.9.3-.6.3-.9.4-.4.3 1.3.3-.1.4.7.3-1.6.3 1.7.4-1.7.3 1.5.3-.7.4-1.1.3-.3.3.7.4-.2.3 1.1.3-1.5.4-.8.3 1.3.3 1.7.4-.3.3-2.1.3.3.4.5.3-.9.3.3.4 0 .3-.8.4.4.3 0 .3.7.4-1.4.3 1.2.3-1.1.4.2.3-.4.3 4.6.4-2.5.3 0 .3-.5.4-1 .3.3" fill="none" stroke="#ff0000" stroke-width="1.35" stroke-linejoin="round"/>
<path d="M204.9 193.1l.3-.1.4-.1.3-.3.3.3.4.5.3-.4.3.1.4.3.3-1 .3 1.9.4-2.1.3.8.3 1.7.4-2.2.3.2.4-.7.3.7.3-2.2.4 1.2.3 2.1.3-1.4.4-.5.3.5.3 0 .4-.3.3.3.3-2.1.4 1.9.3-1.2.3 1.3.4-.8.3-1 .3.8.4-1 .3 1.8.3-1.1.4.7.3-1.8.3 2.3.4-1.8.3 1.4.3-.6.4-1.9.3 1.2.3-.9.4.7.3.8.4-.8.3.2.3-2.2.4 1.1.3 0 .3.5.4-1.7.3.9.3-.3.4-1.9.3.3.3 1.2.4-1.7.3-.2.3 1.8.4-.7.3-.7.3.1.4-.6.3-.3.3-.1.4.5.3.7.3-1.9.4.2.3-.4.3-1.1.4 1.1.3.3.3-1.8.4 1.3.3-1.5.4 1.3.3-.2.3-1.7.4-1.7.3 1.2.3-1.2.4-.2.3.7.3 1.2.4-1.6.3-.4.3-1.7.4.8.3-1 .3 1.5.4-1.2.3.1.3-.3.4-.4.3.7.3-.8.4-1 .3.1.3 0 .4.4.3-1.5.3.9.4-2.2.3-.1.3-1.4.4 1.7.3-2.1.4-.3.3 1.3.3-1.6.4-.5.3 1.1.3-1.3.4.6.3-1.5.3.6.4 0 .3-1.2.3 1.2.4-2.3.3-.1.3-.1.4.6.3-1.5.3-.4.4.3.3.6.3-1.8.4-1 .3.7.3.4.4-1.3.3.3.3-2.1.4 1.5.3-.2.3.2.4-.6.3.1.4-1.8.3 1.2.3-2.3.4.7.3 1.3.3-.5.4-2.7.3 1.9.3-1.1.4-.6.3.7.3-.3.4.9.3-2.8.3.7.4.1.3-1.8.3 2.5.4.3.3-2.4.3.7.4-.8.3.3.3-1 .4 1.1.3-2 .3 2.1.4-1.1.3 1.7.3-3.9.4 1.2.3-1.2.4.9.3.4.3-1.4.4-.6.3-.4.3 1.7.4.8.3-.2.3-1.2.4-1 .3.4.3-1.1.4-.2.3 2.3.3-1.3.4.4.3-.6.3 1.3.4 0 .3-2.1.3.3.4-.4.3 1.7.3-.2.4-1.4.3 2.2.3-2.1.4-1.2.3-.8.3 1.6.4.3.3-.9.4.8.3.7.3-1.2.4.7.3.7.3-1.1.4-1.1.3.9.3 0 .4 1.4.3-2.3.3-1.1.4 1.6.3 0 .3-.7.4.8.3-.2.3.8.4-1.9.3.1.3.6.4-.5.3 1.6.3-.7.4-.5.3 1.3.3-.9.4.4.3-.2.4-.9.3 0 .3.1.4-1 .3.7.3 1 .4-.5.3-1.1.3 2.9.4-3 .3 1.4.3.1.4.5.3-2 .3.8.4-.2.3 1.2.3-.7.4 0 .3.1.3 1.3.4-1.2.3.2.3-1.7.4 1.5.3-1.8.3 2 .4-.7.3-1 .3-.2.4.9.3.2.4-.6.3.2.3 0 .4-.2.3.3.3.4.4.9.3-.6.3-1.1.4 2 .3-.4.3-1.4.4 1.2.3-1.4.3-.2.4 0 .3 2.1.3-1.3.4.1.3-.2.3-.5.4.8.3.2.3 1.1.4-2.5.3 2.1.3-.7.4-2.2.3 2.4.3.6.4-.5.3-.8.4 0 .3-2 .3 2.1.4-.2.3-1 .3 1 .4-.7.3 2.6.3-3.2.4.3.3-1.1.3 1.5.4.5.3-.1.3-.6.4 1.3.3-.6.3.9.4-1.2.3-1.5.3 1.4.4-.8.3 1.7.3-1.3.4.3.3.2.3-1.4.4 1 .3 1.1.3-1.3.4.4.3.3.4-.8.3.3.3.7.4-.8.3.4.3-.2.4-.8.3-.3.3 3 .4-.6.3-1.4.3 1 .4.1.3-.1.3-1.2.4-1 .3.1.3.9.4 1.4.3.2.3-1.6.4-.1.3 1.3.3.8.4-2.7.3 1.2.3-.3.4-.4.3 0 .3 0 .4.2.3-1.3.4 1.3.3.7.3 0 .4 0 .3-.4.3-.2.4 1.6.3-1.9.3.2.4 1 .3-1.1.3-1.2.4.6.3.1.3.3.4-.3.3 1.3.3-.3.4-.2.3-.8.3 1.2.4 0 .3 1 .3-2.5.4.5.3 1.3.3-2.2.4 1.1.3 0 .3-.2.4-.9.3.9.4-1.4.3 2.4.3-1.5.4.5.3-.2.3.2.4-.1.3.3.3-.7.4.3.3-1 .3 0 .4.2.3-.2.3-.4.4.7.3 1.1.3-.2.4-.8.3.7.3 0 .4 2.1.3-3.9.3 1.7.4-1.5.3 2.3.3-1.3.4.6.3-.3.3.5.4-3.3.3 1.6.4 1.1.3-1.3.3 1.6.4.6.3-2.2.3.7.4.9.3 1.1.3-.7.4-.3.3-1.5.3.8.4.1.3-.7.3.9.4-.6.3-.2.3 2.3.4-2.1.3 1.8.3-2 .4.3.3-1.1.3.6.4 1.9.3-1.4.3-1.9.4 3.1.3-2.1.3.4.4.3.3-1.7.4 3.1.3-.3.3-1.4.4.6.3-.6.3-.3.4.3.3-1.1.3.9.4-.2.3 2.2.3-3 .4 2.4.3-.5" fill="none" stroke="#0000ff" stroke-width="1.35" stroke-linejoin="round"/>
<rect x="204.9" y="117.6" width="158.5" height="83.9" fill="none" stroke="#8a8a8a" stroke-width="1"/>
<text x="201.3" y="119.8" font-size="4.9" text-anchor="end" class="t">1.8</text>
<text x="201.3" y="128.2" font-size="4.9" text-anchor="end" class="t">1.6</text>
<text x="201.3" y="136.6" font-size="4.9" text-anchor="end" class="t">1.4</text>
<text x="201.3" y="145.0" font-size="4.9" text-anchor="end" class="t">1.2</text>
<text x="201.3" y="153.4" font-size="4.9" text-anchor="end" class="t">1</text>
<text x="201.3" y="161.8" font-size="4.9" text-anchor="end" class="t">0.8</text>
<text x="201.3" y="170.1" font-size="4.9" text-anchor="end" class="t">0.6</text>
<text x="201.3" y="178.5" font-size="4.9" text-anchor="end" class="t">0.4</text>
<text x="201.3" y="186.9" font-size="4.9" text-anchor="end" class="t">0.2</text>
<text x="201.3" y="195.3" font-size="4.9" text-anchor="end" class="t">0</text>
<text x="201.3" y="203.7" font-size="4.9" text-anchor="end" class="t">-0.2</text>
<text x="204.9" y="209.1" font-size="4.9" text-anchor="middle" class="t">0</text>
<text x="231.3" y="209.1" font-size="4.9" text-anchor="middle" class="t">5</text>
<text x="257.7" y="209.1" font-size="4.9" text-anchor="middle" class="t">10</text>
<text x="284.1" y="209.1" font-size="4.9" text-anchor="middle" class="t">15</text>
<text x="310.6" y="209.1" font-size="4.9" text-anchor="middle" class="t">20</text>
<text x="337.0" y="209.1" font-size="4.9" text-anchor="middle" class="t">25</text>
<text x="363.4" y="209.1" font-size="4.9" text-anchor="middle" class="t">30</text>
<text x="284.1" y="216.9" font-size="5.3" text-anchor="middle" class="t">Time [s]</text>
<text transform="translate(190.1,159.6) rotate(-90)" font-size="5.5" text-anchor="middle" class="t">Force [N]</text>
<rect x="204.9" y="117.6" width="10.6" height="10.1" fill="#fff" stroke="#5c6068" stroke-width="0.8"/>
<text x="210.2" y="126.3" font-size="9.4" text-anchor="middle" class="L">E</text>
<rect x="279.0" y="120.7" width="81.2" height="9.5" fill="#fff" stroke="#7a7a7a" stroke-width="0.8"/>
<line x1="281.7" y1="125.0" x2="292.1" y2="125.0" stroke="#ff5a5a" stroke-width="1.5"/>
<text x="292.9" y="126.7" font-size="4.5" class="t2">Coil5</text>
<line x1="307.1" y1="125.0" x2="317.5" y2="125.0" stroke="#5a5aff" stroke-width="1.5"/>
<text x="318.3" y="126.7" font-size="4.5" class="t2">Coil10</text>
<line x1="334.2" y1="125.0" x2="344.6" y2="125.0" stroke="#505050" stroke-width="1.5"/>
<text x="345.4" y="126.7" font-size="4.5" class="t2">Coil15</text>
<path d="M386.8 173.5l.3 0 .4.1.3 0 .3 0 .4 0 .3 0 .3 0 .4-.1.3 0 .3.1.4-.1.3-.1.3-.1.4 0 .3.1.4-.1.3.1.3-.1.4.1.3.2.3 0 .4.1.3 0 .3-.1.4-.1.3.2.3.1.4-.3.3-.2.3-.1.4-.1.3 0 .3.2.4.1.3-.1.3-.1.4-.1.3 0 .3-.1.4-.1.3-.1.3-.1.4-.1.3.1.3 0 .4-.1.3-.1.4-.1.3.1.3.1.4-.2.3-.2.3 0 .4.1.3 0 .3-.2.4-.2.3-.1.3.1.4 0 .3.1.3.1.4-.1.3-.2.3 0 .4-.1.3-.1.3.2.4 0 .3-.2.3 0 .4 0 .3.1.3-.1.4-.5.3-.1.3.5.4 0 .3-.4.4-.2.3 0 .3.1.4.3.3-.2.3-.3.4.1.3 0 .3-.1.4-.2.3-.3.3.1.4.3.3.2.3.1.4-.1.3-.2.3-.1.4 0 .3 0 .3 0 .4-.1.3-.1.3 0 .4.1.3.1.3-.1.4-.1.3-.1.3 0 .4.1.3-.2.4-.1.3.1.3 0 .4-.2.3-.1.3-.1.4 0 .3.1.3.1.4-.2.3-.3.3.2.4.2.3-.1.3-.1.4.1.3-.1.3-.2.4.1.3.1.3-.2.4-.2.3-.1.3.2.4.3.3-.2.3-.1.4.2.3 0 .3-.2.4-.2.3-.2.4.1.3.1.3 0 .4-.1.3.1.3.2.4-.1.3-.2.3 0 .4.2.3-.1.3-.2.4-.1.3 0 .3 0 .4 0 .3 0 .3 0 .4-.2.3 0 .3.1.4.1.3 0 .3-.1.4.1.3.1.3-.3.4-.1.3 0 .3.1.4.1.3-.1.4-.1.3-.2.3-.1.4.1.3 0 .3-.1.4.2.3.2.3-.2.4-.3.3-.1.3.1.4.2.3 0 .3-.1.4-.1.3 0 .3 0 .4.2.3.2.3 0 .4-.2.3 0 .3.3.4.2.3-.4.3-.3.4 0 .3.1.3.1.4.1.3-.1.4-.2.3 0 .3-.1.4.2.3.2.3-.2.4 0 .3.1.3-.2.4-.1.3 0 .3-.1.4 0 .3 0 .3.1.4.2.3 0 .3-.1.4 0 .3 0 .3.2.4 0 .3-.2.3-.2.4.1.3-.1.3-.1.4.2.3-.1.3-.1.4.1.3 0 .4-.2.3.1.3 0 .4 0 .3.1.3.2.4-.2.3-.2.3 0 .4.2.3-.1.3-.2.4.1.3 0 .3 0 .4 0 .3.1.3 0 .4 0 .3-.1.3 0 .4-.2.3-.1.3.1.4.3.3-.1.3-.1.4.3.3.1.4-.2.3.1.3-.1.4.1.3.1.3-.3.4-.3.3 0 .3 0 .4.1.3 0 .3.1.4.1.3-.1.3-.1.4.1.3.1.3.3.4 0 .3-.3.3-.2.4-.1.3.1.3 0 .4-.1.3-.1.3.3.4.2.3-.1.3-.1.4-.1.3-.1.4.1.3-.1.3 0 .4.1.3.1.3 0 .4-.1.3-.2.3 0 .4.1.3-.1.3 0 .4 0 .3-.1.3.1.4-.1.3-.4.3.1.4.3.3.2.3 0 .4-.1.3-.1.3-.1.4 0 .3.2.3.2.4-.2.3 0 .3.1.4-.3.3-.1.4.2.3 0 .3-.2.4-.1.3.1.3.1.4-.1.3-.2.3 0 .4.3.3 0 .3-.1.4 0 .3-.2.3 0 .4.3.3 0 .3-.3.4-.1.3-.1.3-.1.4 0 .3.2.3.3.4 0 .3-.2.3-.2.4.1.3.1.3.2.4.1.3-.3.4-.1.3 0 .3-.3.4-.1.3.2.3 0 .4-.1.3-.1.3-.1.4 0 .3.2.3.3.4 0 .3 0 .3 0 .4-.2.3-.3.3 0 .4.1.3 0 .3.2.4.2.3 0 .3 0 .4 0 .3-.3.3 0 .4-.1.3-.2.3-.1.4-.1.3 0 .4-.2.3.1.3.3.4.2.3-.1.3 0 .4 0 .3 0 .3-.1.4-.2.3-.1.3-.1.4-.2.3.2.3.4.4 0 .3-.3.3 0 .4.2.3.2.3 0 .4 0 .3-.2.3-.2.4-.3.3 0 .3.1.4 0 .3-.2.3.1.4.2.3-.2.4-.1.3 0 .3.2.4.3.3-.1.3-.2.4 0 .3 0 .3.1.4-.2.3-.1.3-.1.4-.2.3 0 .3 0 .4.1.3.1.3 0 .4.1.3-.1.3-.2.4 0 .3 0 .3 0 .4-.1.3 0 .3-.1.4.1.3.1.3.1.4-.2.3-.2.4 0 .3 0 .3 0 .4-.1.3.1.3-.1.4.1.3.1.3-.2.4 0 .3.1.3-.1.4-.2.3-.1 0 3.2-.3.1-.4.2-.3 0-.3 0-.4 0-.3.1-.3-.1-.4-.2-.3.1-.3.3-.4-.1-.3-.2-.3 0-.4.2-.3 0-.4.1-.3-.2-.3-.2-.4.2-.3.2-.3.2-.4 0-.3-.2-.3.2-.4.1-.3-.1-.3.1-.4-.1-.3-.3-.3.1-.4.4-.3.2-.3 0-.4-.1-.3-.3-.3-.2-.4.2-.3.2-.3.2-.4 0-.3 0-.3-.2-.4-.2-.3.2-.3.2-.4-.2-.3-.2-.4.3-.3.2-.3-.1-.4-.1-.3 0-.3 0-.4.2-.3.1-.3.1-.4.1-.3 0-.3-.3-.4-.1-.3.1-.3-.1-.4 0-.3.1-.3.1-.4.2-.3 0-.3-.1-.4 0-.3-.1-.3.1-.4.2-.3-.1-.3-.2-.4-.1-.3.2-.3.2-.4-.1-.3.2-.4.1-.3.1-.3.1-.4-.2-.3-.2-.3.1-.4.1-.3-.1-.3-.1-.4.1-.3.2-.3-.1-.4-.1-.3.2-.3 0-.4-.1-.3.1-.3.1-.4-.2-.3 0-.3.2-.4.1-.3.1-.3-.1-.4-.2-.3-.1-.3 0-.4 0-.3 0-.3 0-.4.2-.3.3-.4.1-.3-.3-.3-.1-.4-.1-.3.1-.3.3-.4-.1-.3 0-.3.1-.4 0-.3-.1-.3-.1-.4.1-.3.3-.3 0-.4-.3-.3-.1-.3.1-.4.1-.3 0-.3.2-.4.1-.3-.2-.3.1-.4.1-.3-.2-.3 0-.4 0-.3-.1-.3-.1-.4.2-.3.2-.4-.1-.3 0-.3.1-.4-.1-.3.1-.3 0-.4-.1-.3.2-.3.1-.4-.1-.3 0-.3.1-.4-.1-.3-.3-.3 0-.4.1-.3.1-.3.2-.4 0-.3.1-.3.1-.4-.1-.3-.2-.3 0-.4.1-.3-.1-.3.2-.4.1-.3-.1-.3 0-.4 0-.3-.3-.4-.1-.3.3-.3.3-.4 0-.3-.2-.3 0-.4.1-.3.1-.3-.1-.4.2-.3 0-.3-.2-.4-.1-.3.2-.3.1-.4 0-.3 0-.3 0-.4-.1-.3-.2-.3-.3-.4 0-.3.4-.3.1-.4 0-.3-.1-.3 0-.4.1-.3.1-.3 0-.4 0-.3.2-.4.2-.3-.1-.3-.1-.4-.1-.3-.1-.3-.2-.4 0-.3 0-.3 0-.4 0-.3.1-.3.1-.4.1-.3 0-.3.3-.4.2-.3-.2-.3-.3-.4 0-.3 0-.3 0-.4-.1-.3-.1-.3 0-.4.2-.3.3-.3 0-.4-.3-.3 0-.4.1-.3 0-.3-.1-.4.1-.3.1-.3.1-.4.1-.3.1-.3-.1-.4-.2-.3-.2-.3 0-.4.1-.3-.2-.3 0-.4.3-.3 0-.3-.1-.4-.1-.3 0-.3.3-.4 0-.3.1-.3-.3-.4-.2-.3.1-.3.2-.4 0-.3-.1-.3.2-.4.2-.3.1-.4-.1-.3-.1-.3-.2-.4.1-.3.2-.3-.1-.4-.3-.3 0-.3-.1-.4 0-.3.2-.3.1-.4.1-.3.2-.3-.1-.4 0-.3.2-.3.2-.4-.1-.3-.4-.3-.1-.4.1-.3.1-.3 0-.4.1-.3-.1-.3-.1-.4.3-.3.1-.3-.1-.4-.1-.3-.1-.4-.1-.3.1-.3.3-.4.1-.3.1-.3-.1-.4 0-.3.2-.3-.1-.4-.4-.3-.1-.3.2-.4.3-.3.2-.3 0-.4-.2-.3-.3-.3-.1-.4.2-.3.2-.3.1-.4 0-.3-.2-.3.1-.4.2-.3.3-.3.1-.4-.4-.3-.2-.3 0-.4.3-.3.2-.4-.2-.3-.4-.3 0-.4.2-.3-.2-.3.2-.4.3-.3.1-.3.1-.4 0-.3-.1-.3.2-.4.2-.3.1-.3-.2-.4-.4-.3.1-.3 0-.4-.1-.3 0-.3.2-.4.2-.3-.1-.3-.1-.4.3-.3.2-.3 0-.4.1-.3-.1-.3 0-.4.2-.3.2-.4-.1-.3-.2-.3-.1-.4-.1-.3 0-.3.2-.4 0-.3.1-.3.2-.4-.1-.3 0-.3.1-.4 0-.3 0-.3.1-.4-.1-.3-.2-.3-.1-.4.3-.3.1-.3.1-.4.1-.3.3-.3-.1-.4-.4-.3-.1-.3.4-.4.5-.3 0-.3-.1-.4 0-.3 0-.4.2-.3.1-.3-.2-.4 0-.3 0-.3.1-.4.1-.3 0-.3-.1-.4.1-.3.3-.3.1-.4-.1-.3-.1-.3.1-.4 0-.3.2-.3 0-.4-.1-.3.2-.3.1-.4-.1-.3-.1-.3.2-.4.3-.3-.1-.3-.1-.4.2-.3.2-.3 0-.4 0-.3 0-.4 0-.3-.1-.3.1-.4.2-.3-.1-.3-.1-.4 0-.3.1-.3 0-.4.1-.3.3-.3 0-.4-.1-.3 0-.3 0-.4 0-.3 0-.3-.2-.4.1-.3.5-.3.2-.4-.1-.3 0-.3-.1-.4-.2-.3-.1-.3 0-.4.1-.3-.1-.3-.1-.4-.2-.3 0-.4.1-.3-.2-.3-.2-.4-.2-.3-.3-.3-.3-.4 0-.3-.1-.3-.3-.4-.2-.3-.1-.3-.2-.4-.2-.3-.3z" fill="#ffe0e0" stroke="#ffa0a0" stroke-width="0.7"/>
<path d="M386.8 173.5l.3-.1.4-.1.3-.1.3-.1.4 0 .3-.1.3-.1.4-.2.3-.2.3-.1.4 0 .3-.1.3-.1.4-.2.3-.1.4.1.3 0 .3-.4.4-.2.3.2.3 0 .4 0 .3.1.3.2.4.1.3-.2.3-.5.4-.1.3.3.3-.1.4-.1.3 0 .3.1.4 0 .3-.2.3 0 .4.3.3-.1.3-.4.4 0 .3.3.3.3.4.1.3-.2.3-.2.4-.1.3-.1.4.1.3.1.3 0 .4 0 .3-.2.3-.2.4.1.3.1.3-.2.4-.2.3.1.3.1.4 0 .3-.2.3-.1.4 0 .3 0 .3 0 .4 0 .3-.2.3-.1.4-.1.3.2.3 0 .4-.1.3-.2.3-.1.4.1.3.1.3.1.4-.2.3-.2.4.2.3.1.3-.2.4-.1.3 0 .3-.1.4-.1.3-.1.3 0 .4.1.3.1.3 0 .4.1.3-.1.3 0 .4-.1.3 0 .3-.1.4-.2.3-.3.3 0 .4.1.3.1.3 0 .4.1.3 0 .3-.2.4 0 .3.2.3.1.4 0 .3 0 .4 0 .3-.3.3-.3.4 0 .3.1.3.2.4-.1.3-.2.3.2.4.1.3-.1.3-.2.4 0 .3-.1.3 0 .4 0 .3.1.3.1.4.2.3 0 .3 0 .4 0 .3-.1.3-.1.4 0 .3.1.3-.1.4 0 .3-.1.3.1.4.1.3-.1.4-.1.3 0 .3-.1.4 0 .3.3.3.1.4-.1.3-.1.3 0 .4-.1.3 0 .3-.1.4 0 .3.1.3 0 .4 0 .3.1.3.2.4-.1.3-.2.3.1.4 0 .3-.2.3.1.4.2.3 0 .3-.1.4 0 .3.1.3.1.4 0 .3 0 .4.1.3-.1.3 0 .4 0 .3-.1.3-.1.4.1.3.1.3-.1.4-.2.3.1.3.2.4 0 .3-.1.3-.2.4.1.3.1.3-.2.4-.1.3.3.3.1.4-.2.3.1.3.4.4 0 .3-.3.3-.3.4.2.3.5.3.2.4-.2.3-.2.4-.2.3-.2.3 0 .4 0 .3.2.3.2.4-.2.3-.2.3.2.4.3.3.1.3-.1.4-.2.3 0 .3-.1.4-.1.3-.1.3-.1.4.1.3.3.3 0 .4.1.3.1.3 0 .4-.1.3-.2.3-.1.4.1.3.1.3 0 .4.2.3.1.4-.3.3-.1.3.3.4.3.3-.1.3-.2.4-.2.3-.1.3.1.4 0 .3-.1.3.1.4.3.3.2.3-.2.4-.1.3.3.3 0 .4-.2.3.1.3 0 .4 0 .3 0 .3 0 .4-.2.3-.3.3.1.4.2.3 0 .4-.1.3-.2.3.1.4.2.3.2.3-.2.4-.1.3.2.3.3.4 0 .3-.3.3-.1.4 0 .3.2.3.2.4-.3.3-.4.3.1.4.5.3 0 .3-.1.4-.1.3 0 .3-.1.4 0 .3.3.3.1.4-.4.3-.3.3 0 .4.1.3.2.4.1.3.1.3-.2.4-.2.3 0 .3 0 .4.2.3.1.3.1.4 0 .3 0 .3.2.4.2.3-.4.3-.4.4-.1.3.3.3.1.4 0 .3-.1.3 0 .4-.1.3.2.3.3.4-.2.3-.3.3.1.4.3.3 0 .3.1.4-.2.3-.2.4 0 .3 0 .3 0 .4.2.3 0 .3-.1.4-.1.3-.1.3.1.4.1.3-.1.3-.1.4.2.3.2.3 0 .4 0 .3 0 .3-.2.4-.1.3-.2.3.1.4.3.3.2.3 0 .4-.2.3-.3.3 0 .4 0 .3-.1.3.1.4.2.3-.1.4 0 .3.2.3 0 .4-.3.3 0 .3.1.4 0 .3-.2.3.1.4.1.3-.3.3 0 .4.3.3.1.3 0 .4-.1.3 0 .3-.1.4-.1.3.1.3 0 .4.1.3-.1.3-.1.4.1.3.2.3-.1.4-.2.3-.1.3 0 .4.3.3.3.4 0 .3-.4.3-.1.4.3.3 0 .3-.2.4 0 .3.1.3 0 .4-.1.3 0 .3-.1.4 0 .3 0 .3-.1.4-.1.3.2.3.3.4 0 .3-.1.3 0 .4 0 .3-.1.3 0 .4.2.3 0 .3-.3.4-.2.3.1.3.2.4 0 .3 0 .4.1.3 0 .3-.1.4.1.3.2.3-.2.4-.1.3.3.3.1.4-.3.3-.2.3 0 .4.1.3.1.3-.2.4-.1.3.1.3 0 .4.1.3.1.3-.1.4-.3.3.2.3.3.4.1.3 0 .3 0 .4-.1.3-.4.3-.1.4.1.3.1.4-.1.3 0 .3.2.4.2.3-.2.3-.2.4-.1.3.1.3.1.4.1.3 0 .3-.2.4-.1.3.2 0 2.9-.3.2-.4.2-.3-.1-.3-.2-.4 0-.3.1-.3-.2-.4 0-.3.1-.3-.2-.4-.2-.3.3-.3.1-.4-.1-.3-.2-.4 0-.3 0-.3.1-.4.2-.3 0-.3-.1-.4.3-.3 0-.3-.3-.4.1-.3.2-.3-.1-.4-.1-.3.1-.3.1-.4-.1-.3 0-.3.1-.4-.1-.3.1-.3-.1-.4-.2-.3-.2-.3.2-.4.4-.3.1-.3-.3-.4 0-.3.2-.3-.3-.4-.1-.3 0-.4.1-.3.1-.3.4-.4 0-.3-.2-.3 0-.4.1-.3.1-.3-.2-.4-.1-.3-.1-.3.2-.4.1-.3-.2-.3-.1-.4.1-.3 0-.3-.1-.4-.1-.3-.1-.3.1-.4.3-.3 0-.3-.3-.4-.1-.3.2-.3.1-.4.1-.3-.1-.3-.2-.4 0-.3.1-.4-.1-.3 0-.3 0-.4.1-.3 0-.3 0-.4 0-.3.1-.3-.1-.4-.1-.3.3-.3.2-.4-.4-.3-.2-.3.1-.4.1-.3.2-.3-.1-.4-.2-.3.1-.3.4-.4.3-.3-.1-.3-.2-.4 0-.3-.1-.3-.1-.4.2-.3-.1-.3-.2-.4.1-.3 0-.4 0-.3.2-.3-.1-.4-.2-.3-.2-.3-.1-.4 0-.3.2-.3.3-.4 0-.3-.2-.3-.1-.4.3-.3.2-.3-.1-.4-.2-.3-.2-.3-.1-.4 0-.3.1-.3.2-.4.1-.3-.2-.3-.1-.4.1-.3 0-.3-.2-.4.1-.3-.1-.3.1-.4.2-.3 0-.4-.1-.3-.1-.3 0-.4.2-.3.1-.3.1-.4-.1-.3.1-.3-.2-.4-.2-.3.1-.3 0-.4 0-.3.1-.3.1-.4 0-.3-.3-.3-.1-.4.2-.3.1-.3-.1-.4-.1-.3 0-.3.2-.4 0-.3 0-.3-.1-.4 0-.3.3-.3-.2-.4-.2-.3.1-.4-.1-.3-.2-.3-.1-.4.1-.3.1-.3.3-.4.4-.3-.1-.3-.2-.4-.3-.3-.1-.3.3-.4.4-.3-.2-.3-.3-.4-.1-.3 0-.3.3-.4.2-.3 0-.3-.1-.4-.3-.3 0-.3 0-.4 0-.3.2-.3 0-.4.1-.3-.1-.3-.2-.4 0-.3-.1-.4 0-.3.1-.3 0-.4 0-.3.1-.3 0-.4-.1-.3 0-.3 0-.4-.1-.3.1-.3.1-.4-.1-.3-.2-.3.1-.4.2-.3-.1-.3-.1-.4 0-.3 0-.3.1-.4.2-.3.1-.3-.2-.4 0-.3 0-.3 0-.4-.2-.3 0-.4 0-.3.2-.3 0-.4-.2-.3 0-.3 0-.4.1-.3.1-.3 0-.4-.1-.3-.1-.3.1-.4 0-.3 0-.3-.1-.4-.2-.3-.1-.3.2-.4.2-.3-.1-.3 0-.4.2-.3.1-.3-.3-.4-.3-.3-.2-.3 0-.4.1-.3.2-.3.2-.4 0-.3-.2-.4 0-.3.2-.3-.1-.4-.4-.3-.1-.3.2-.4.4-.3.1-.3-.3-.4-.1-.3.3-.3.1-.4-.1-.3-.1-.3 0-.4-.1-.3-.2-.3-.2-.4 0-.3.3-.3.2-.4-.2-.3-.3-.3-.2-.4.1-.3.2-.3 0-.4-.1-.3 0-.3-.1-.4 0-.3.1-.4.1-.3 0-.3.2-.4 0-.3-.1-.3-.1-.4.1-.3 0-.3-.1-.4-.1-.3.2-.3.3-.4 0-.3.1-.3-.2-.4 0-.3-.1-.3-.3-.4.1-.3 0-.3-.2-.4-.1-.3.1-.3.2-.4 0-.3.1-.3.3-.4.2-.3-.2-.3-.3-.4-.1-.3.3-.4.1-.3-.1-.3 0-.4.1-.3-.2-.3-.2-.4.1-.3 0-.3 0-.4-.1-.3.2-.3.3-.4 0-.3-.1-.3-.1-.4 0-.3-.1-.3-.1-.4 0-.3.4-.3.2-.4-.4-.3-.2-.3.2-.4 0-.3-.2-.3 0-.4.1-.3.1-.3.2-.4-.1-.3-.2-.4 0-.3.4-.3.1-.4-.2-.3-.1-.3-.2-.4.1-.3.3-.3.1-.4 0-.3-.2-.3-.3-.4 0-.3.3-.3.1-.4-.1-.3.1-.3 0-.4-.2-.3-.1-.3-.1-.4.1-.3.4-.3.2-.4-.1-.3.1-.3-.1-.4-.1-.3.3-.3.1-.4 0-.3 0-.4 0-.3-.2-.3.2-.4.3-.3.2-.3 0-.4-.1-.3 0-.3.1-.4 0-.3.1-.3-.1-.4 0-.3.2-.3.1-.4.1-.3.1-.3.1-.4-.1-.3 0-.3 0-.4-.2-.3 0-.3.1-.4.2-.3 0-.3-.1-.4.1-.3.2-.3 0-.4-.1-.3-.1-.4 0-.3.3-.3.3-.4-.2-.3-.2-.3.1-.4.1-.3 0-.3 0-.4-.2-.3.1-.3.2-.4-.2-.3-.2-.3.1-.4.3-.3.1-.3-.2-.4-.1-.3.1-.3.3-.4.1-.3-.1-.3-.2-.4 0-.3 0-.3.1-.4.3-.3.2-.3-.2-.4-.3-.3-.1-.4-.2-.3 0-.3 0-.4 0-.3.1-.3 0-.4-.1-.3-.2-.3-.1-.4-.1-.3-.2-.3-.1-.4-.1-.3-.1z" fill="#e0e0ff" stroke="#a8a8ff" stroke-width="0.7"/>
<path d="M386.8 173.5l.3-.1.4-.2.3-.2.3-.1.4-.2.3-.2.3-.1.4-.3.3-.3.3 0 .4.1.3 0 .3-.1.4-.3.3-.4.4-.1.3-.1.3-.2.4.1.3.2.3.1.4-.1.3-.4.3-.1.4.2.3 0 .3-.2.4 0 .3.2.3-.1.4-.3.3-.2.3 0 .4-.2.3.1.3.3.4-.1.3-.3.3 0 .4 0 .3-.3.3-.1.4.1.3-.1.3-.3.4 0 .3 0 .4.1.3.1.3-.3.4-.3.3-.1.3.1.4-.1.3.1.3.1.4-.1.3-.1.3-.3.4-.4.3-.2.3 0 .4.1.3 0 .3-.1.4-.2.3-.2.3-.1.4.1.3-.1.3-.3.4-.5.3 0 .3.3.4 0 .3-.3.3.1.4 0 .3 0 .4-.1.3-.2.3-.4.4-.2.3.2.3 0 .4-.1.3-.2.3-.2.4-.4.3-.3.3-.1.4-.1.3 0 .3.1.4.1.3-.2.3-.3.4-.1.3-.1.3-.4.4 0 .3.3.3-.1.4-.3.3-.3.3-.2.4-.2.3 0 .3.1.4-.3.3-.5.4 0 .3-.2.3-.3.4-.2.3-.2.3 0 .4 0 .3-.3.3-.2.4.1.3.1.3-.2.4-.3.3-.2.3 0 .4 0 .3-.2.3 0 .4 0 .3-.1.3 0 .4-.3.3-.3.3.1.4-.3.3-.2.3.1.4.2.3 0 .3-.2.4 0 .3-.1.4-.2.3-.2.3-.1.4 0 .3 0 .3-.1.4-.1.3-.2.3-.1.4-.2.3-.2.3-.2.4.1.3 0 .3.1.4.1.3-.2.3-.3.4-.2.3 0 .3 0 .4 0 .3 0 .3.1.4.1.3-.2.3-.4.4-.2.3-.1.3.1.4 0 .3-.1.4-.1.3-.1.3-.2.4-.2.3 0 .3.2.4 0 .3-.1.3.1.4-.1.3-.2.3.1.4 0 .3-.3.3-.5.4 0 .3.2.3.1.4-.3.3 0 .3.2.4-.1.3-.3.3 0 .4-.1.3-.1.3.1.4 0 .3-.3.3-.2.4 0 .3-.1.4-.2.3 0 .3.1.4.1.3-.1.3-.1.4 0 .3-.1.3.1.4.1.3-.1.3-.3.4 0 .3.1.3-.1.4-.2.3-.1.3.1.4.2.3-.1.3-.2.4-.1.3-.1.3-.3.4 0 .3.3.3 0 .4-.5.3-.2.3.3.4.1.3-.2.4-.1.3-.2.3-.1.4.1.3.1.3.1.4.1.3-.2.3-.2.4.1.3-.1.3-.1.4 0 .3 0 .3-.3.4-.1.3.2.3.2.4-.1.3-.1.3 0 .4-.1.3.2.3 0 .4-.1.3-.2.3 0 .4.1.3.2.4 0 .3-.4.3-.1.4.1.3.2.3.1.4-.1.3-.3.3-.1.4 0 .3 0 .3.3.4.2.3-.3.3.1.4.1.3-.1.3-.1.4.2.3 0 .3-.2.4-.2.3 0 .3.1.4.3.3-.1.3-.1.4 0 .3 0 .3-.1.4-.3.3 0 .4.4.3.1.3-.1.4 0 .3 0 .3-.1.4-.1.3 0 .3-.1.4.1.3.3.3 0 .4-.1.3-.1.3.1.4 0 .3-.1.3 0 .4-.2.3-.2.3-.1.4 0 .3.1.3.2.4 0 .3-.1.3 0 .4.2.3.1.3-.1.4-.2.3.2.4.1.3-.2.3 0 .4 0 .3-.1.3 0 .4-.1.3.1.3 0 .4-.1.3-.2.3 0 .4 0 .3-.1.3 0 .4.1.3 0 .3-.1.4 0 .3.2.3.1.4 0 .3-.2.3-.2.4.2.3.1.3-.3.4-.3.3.1.3 0 .4.3.3.3.4-.1.3-.2.3 0 .4 0 .3.2.3.2.4-.3.3-.1.3 0 .4-.1.3-.2.3 0 .4.1.3.1.3.1.4-.1.3-.3.3-.4.4.1.3.4.3-.1.4-.3.3.1.3.1.4.1.3 0 .3-.4.4 0 .3.4.3.2.4-.2.3-.3.4-.2.3 0 .3.1.4 0 .3.2.3.1.4-.1.3-.1.3.1.4-.2.3-.1.3-.3.4.1.3.4.3-.1.4-.3.3-.1.3.1.4 0 .3 0 .3 0 .4-.1.3 0 .3 0 .4-.2.3-.2.3.3.4 0 .3-.2.3-.2.4-.1.3.3.4.1.3-.2.3.2.4 0 .3-.3.3-.3.4.2.3.2.3 0 .4-.2.3-.1.3 0 .4-.2.3 0 .3.1.4.2.3-.1.3-.2.4.2.3.1.3-.2.4-.1.3 0 .3 0 .4-.1.3 0 .3.2.4-.1.3-.3.3.1.4.1.3-.2.4-.3.3.1.3.1.4-.3.3-.1.3.1.4.1.3 0 .3-.3.4.1.3.3.3-.1.4-.2.3-.1 0 4.1-.3.1-.4.1-.3 0-.3.1-.4.2-.3.1-.3 0-.4.1-.3 0-.3-.1-.4-.1-.3 0-.3.3-.4.1-.3 0-.4-.1-.3-.1-.3 0-.4.2-.3 0-.3.1-.4 0-.3 0-.3.1-.4 0-.3.3-.3.1-.4-.3-.3-.1-.3.1-.4-.1-.3.2-.3.2-.4.1-.3-.1-.3-.2-.4.1-.3.3-.3.1-.4-.1-.3-.1-.3-.2-.4.1-.3.3-.3-.1-.4-.3-.3-.1-.4.2-.3.2-.3.2-.4.2-.3.1-.3.1-.4.1-.3-.2-.3-.3-.4-.1-.3 0-.3 0-.4.1-.3.2-.3.2-.4-.1-.3 0-.3.1-.4 0-.3 0-.3.1-.4 0-.3 0-.3-.1-.4-.3-.3.1-.3.3-.4.1-.3-.1-.3.1-.4.1-.3 0-.4.1-.3.1-.3 0-.4-.1-.3.1-.3.2-.4 0-.3.1-.3 0-.4-.1-.3 0-.3.2-.4 0-.3 0-.3-.1-.4 0-.3 0-.3.3-.4.1-.3-.1-.3-.1-.4-.1-.3 0-.3 0-.4 0-.3 0-.3.1-.4.1-.3-.2-.3.1-.4.2-.3 0-.4 0-.3.1-.3-.1-.4-.2-.3-.1-.3.2-.4.2-.3-.1-.3 0-.4 0-.3.1-.3 0-.4 0-.3.2-.3-.2-.4-.1-.3.1-.3.2-.4 0-.3-.1-.3.1-.4 0-.3 0-.3-.1-.4-.2-.3.1-.3.1-.4 0-.3.1-.3 0-.4-.2-.3 0-.4.1-.3.1-.3 0-.4 0-.3.1-.3.3-.4.1-.3-.3-.3-.3-.4 0-.3.1-.3-.1-.4.1-.3.2-.3-.2-.4 0-.3.2-.3 0-.4 0-.3 0-.3.1-.4-.2-.3-.3-.3.1-.4.5-.3.3-.3 0-.4-.3-.3.1-.3 0-.4-.1-.3 0-.4 0-.3-.3-.3-.2-.4.2-.3.3-.3.2-.4-.2-.3 0-.3.2-.4-.2-.3-.2-.3.1-.4-.1-.3-.1-.3.1-.4.2-.3.1-.3-.2-.4-.1-.3-.1-.3 0-.4 0-.3.1-.3.2-.4.2-.3-.1-.3-.1-.4-.1-.3-.1-.3.2-.4.2-.3 0-.4 0-.3.2-.3-.1-.4 0-.3 0-.3-.2-.4 0-.3.3-.3-.1-.4-.1-.3.1-.3 0-.4 0-.3.1-.3 0-.4-.1-.3 0-.3.1-.4.2-.3.1-.3 0-.4 0-.3 0-.3 0-.4-.1-.3 0-.3.2-.4.1-.3-.2-.4.1-.3.2-.3-.1-.4-.1-.3.1-.3.2-.4.2-.3.2-.3-.1-.4 0-.3.2-.3-.1-.4-.2-.3.1-.3.2-.4 0-.3-.1-.3.3-.4.3-.3 0-.3-.1-.4 0-.3.1-.3-.1-.4 0-.3.2-.3.2-.4.1-.3-.1-.3.1-.4.4-.3.1-.4-.4-.3 0-.3.2-.4.2-.3.2-.3-.1-.4-.1-.3-.1-.3.2-.4.1-.3 0-.3.1-.4.2-.3.2-.3.1-.4-.1-.3-.2-.3 0-.4.1-.3.3-.3.3-.4.1-.3.1-.3-.1-.4 0-.3 0-.3.2-.4.1-.3-.1-.3.3-.4.1-.3-.2-.4-.1-.3.2-.3.3-.4-.1-.3-.2-.3.2-.4.1-.3 0-.3.2-.4.3-.3.1-.3-.2-.4.1-.3.3-.3.1-.4-.1-.3.1-.3.2-.4 0-.3 0-.3.2-.4.2-.3.2-.3 0-.4-.1-.3-.1-.3.2-.4.2-.3 0-.3 0-.4-.1-.3.2-.4.4-.3.2-.3 0-.4-.1-.3.3-.3.2-.4-.1-.3-.1-.3.2-.4.3-.3-.1-.3.1-.4.4-.3.3-.3 0-.4-.3-.3.1-.3.4-.4.2-.3.1-.3-.1-.4.1-.3.3-.3.1-.4 0-.3.3-.3.3-.4.2-.3 0-.3-.2-.4-.1-.3.1-.4.2-.3.4-.3.3-.4.3-.3 0-.3-.1-.4.2-.3.3-.3.4-.4.1-.3-.1-.3.2-.4.1-.3.2-.3.2-.4 0-.3 0-.3 0-.4.1-.3.1-.3.3-.4.5-.3.2-.3-.1-.4 0-.3 0-.3.2-.4.1-.3 0-.3-.1-.4 0-.3.1-.4.3-.3.2-.3 0-.4-.1-.3.1-.3.4-.4.3-.3.1-.3 0-.4-.1-.3.2-.3.2-.4 0-.3.2-.3.2-.4 0-.3 0-.3.1-.4 0-.3.2-.3 0-.4 0-.3 0-.3 0-.4.1-.3.2-.3-.1-.4-.1-.3.3-.3.5-.4.1-.3-.1-.4.1-.3.1-.3.2-.4.1-.3.1-.3 0-.4-.1-.3 0-.3-.1-.4 0-.3.3-.3.1-.4 0-.3 0-.3-.2-.4-.1-.3.2-.3.3-.4.2-.3-.1-.3-.1-.4.3-.3.1-.3 0-.4.1-.3 0-.3 0-.4.1-.3 0-.3 0-.4-.2-.3-.2-.4 0-.3.1-.3 0-.4-.2-.3-.3-.3-.1-.4 0-.3-.1-.3 0-.4-.2-.3-.3-.3-.1-.4-.1-.3-.2z" fill="#e3e3e3" stroke="#bdbdbd" stroke-width="0.7"/>
<path d="M386.8 173.5l.3 0 .4.1.3-.3.3.8.4-.3.3-.5.3.4.4.6.3.9.3-2.4.4 1.4.3-.4.3-.7.4 1.3.3-.6.4.6.3-1.8.3.6.4.4.3-.5.3 0 .4-.9.3.9.3 0 .4-.3.3 0 .3.7.4-1.5.3 1.4.3-1 .4.2.3-.3.3 1.1.4-.2.3-.9.3-.6.4 2.5.3-1.5.3-2 .4 1.2.3-.2.3.9.4-1.1.3-.7.3 2.3.4-3.8.3.6.4.9.3-.1.3.4.4 0 .3 1 .3-2.8.4 4.9.3-2.7.3-1.6.4.1.3 0 .3-2 .4 2.8.3-1.7.3.5.4-.7.3.4.3.6.4-1.5.3 3 .3-3.2.4.8.3.4.3.6.4-.5.3-.3.3.4.4-.3.3-1.5.3 1.6.4-1.5.3-.7.4 1.1.3-.6.3.8.4-.1.3-1.1.3.9.4-.5.3-1.8.3 3.3.4-1.8.3-.3.3 1 .4-2.6.3.7.3 1.6.4-3.3.3 1.1.3 2.6.4-1.3.3-1.9.3 1 .4.6.3-1.8.3.8.4.2.3-.5.3 1.5.4-1.7.3-.4.3.2.4-.8.3-.6.4.5.3-.6.3 2.6.4.2.3-2.9.3-2.8.4 2.6.3 1 .3-1.6.4 1.4.3-.2.3-1.5.4.3.3-.9.3.5.4-.9.3.5.3 2.2.4-2.1.3 1.4.3-.9.4-2.1.3 1.4.3-.4.4-1 .3.8.3 1.7.4-.1.3-1.9.3-.4.4.7.3.3.4 1 .3-2.2.3-.5.4.9.3-2.2.3 2 .4.5.3-2.6.3 3 .4-1.8.3.4.3-.2.4.1.3 0 .3-.7.4-1.6.3 3.1.3-1.2.4.7.3-.4.3 1 .4-1.5.3-.6.3 3.5.4-1.4.3-.8.3.3.4.2.3-4 .3 1.7.4.7.3.4.4-1.4.3.8.3-1.4.4.7.3-1.9.3 1.6.4 2.2.3-3.2.3 2 .4-2.2.3.2.3 3.7.4-3.6.3.7.3-.4.4-2.6.3 2.7.3.9.4-2.2.3-.1.3.4.4 1.4.3-1.6.3 1.9.4-.2.3-2.8.3.4.4 1.4.3-1 .3 1.8.4.4.3-2.1.4 1.8.3-.4.3-.8.4 1.1.3-1.6.3.8.4-1.2.3-.3.3 2.6.4.1.3-1.7.3 1 .4-1.7.3-.4.3 1.3.4 1 .3-1.7.3.1.4-.2.3-1 .3-1.2.4 2.1.3-1.6.3 3.2.4-1.7.3.5.3.1.4-2.1.3-.1.3 2.7.4-1.1.3-.4.4.7.3-3.2.3 3.4.4-1 .3.2.3.3.4 1.4.3-1.5.3-.9.4-.9.3 3.8.3-5.1.4 1.9.3-.1.3-.8.4.2.3.5.3-1.3.4.9.3.7.3-2.1.4 1.6.3.2.3-.3.4 0 .3 0 .3-.4.4-.3.3 1.6.4-.7.3.1.3 1.7.4-.4.3-1.7.3 2.4.4-1.9.3 1.2.3-3.2.4 3.9.3-2.1.3-.7.4-.1.3-1.8.3 1.3.4.5.3 2.5.3-1.6.4-.5.3 1.7.3-.9.4-1.1.3-.3.3-.9.4 1.7.3-2.2.3 3.2.4-2.7.3 1.9.3 1.1.4-2.1.3.8.4 2.2.3-2.6.3 1.6.4-.1.3-3 .3 2.3.4-1.7.3 1.6.3.1.4 1 .3-1.4.3.2.4.3.3 2.1.3-2.1.4 1.7.3-2.8.3-.4.4 1.8.3-1.6.3 1.1.4-.3.3 2.4.3-.5.4.6.3-1.6.3-1 .4 0 .3 2.3.3-3.4.4.6.3-.5.4 2.3.3-1.3.3 1.1.4.4.3 1.7.3-2.2.4-3.6.3.3.3 2.1.4 1.8.3-2.6.3.6.4-1.2.3.8.3 1 .4-.4.3.2.3.8.4-1.2.3-.6.3-2.3.4 1.8.3 2.6.3-2.8.4.7.3-.4.3.9.4.7.3-1.5.3-.2.4 1.7.3-2.4.4 2 .3-1.2.3.6.4 1.1.3-.1.3.3.4-1.9.3.8.3-.9.4-.3.3.7.3.7.4-.3.3-.1.3-1.1.4 1.1.3.4.3 1.6.4-2.5.3 1.5.3-1 .4 3.2.3-2.4.3 1.1.4-1.1.3-1.9.3 0 .4 1 .3-1.2.3 1.5.4-1.2.3.5.4-1.5.3 3.8.3-3.4.4 1.1.3-.8.3 1.1.4 1.2.3-.6.3-2.8.4 2.2.3.8.3.3.4-2.1.3-.1.3-1.3.4 4.4.3-2.8.3-.2.4-.3.3.8.3.7.4.1.3-1.6.3-.7.4 2.2.3-1.7.3 2.8.4-1.4.3-1.2.3 2 .4-3.5.3 2 .4.1.3.2.3-1.6.4 1.2.3.5.3.3.4-1.2.3-1.5.3 2.1.4-2 .3 1.3.3-.1.4 3.1.3-3.2.3-1.4.4 1 .3 1.4.3-1.4.4 2.4.3-1.9.3 1.3.4-.3.3-2.2.3 1.5.4-1.3.3 1.1.3-.7.4.8.3-1.2.3.6.4-1.1.3 0 .4 2 .3-1.6.3-1 .4 0 .3 1.2.3 1.4.4-1.5.3.7.3-.8.4-.3.3.8.3-.6.4 2.3.3-1.8" fill="none" stroke="#000000" stroke-width="1.35" stroke-linejoin="round"/>
<path d="M386.8 173.5l.3.2.4.2.3.1.3.4.4-.5.3.4.3-.3.4-.4.3.4.3.5.4-.6.3.5.3 1.1.4-.3.3.1.4-.2.3-.5.3-1.6.4 2.9.3-2.5.3 1.7.4-.3.3.3.3.1.4-.6.3 1.2.3-2.2.4 2.1.3-2.5.3 2.8.4-1.7.3.8.3 1.1.4-3.7.3 1.8.3.9.4.3.3.4.3-.8.4-.2.3-.4.3.1.4-.3.3.9.3-.9.4.5.3.9.4-.5.3-1.5.3.2.4.8.3-1.4.3-1.3.4.8.3 1.5.3-.8.4-.1.3 1 .3-1.8.4 3.2.3-2.2.3-.4.4 2.3.3-3.2.3.6.4.3.3-.9.3.6.4.9.3-.5.3-.2.4 1 .3.8.3-.4.4-3.7.3 3.5.3-.7.4-.4.3-1.4.4.5.3.2.3-1.3.4 2.6.3-.3.3-1 .4-1 .3 2.3.3-.8.4.4.3-1.5.3 2.8.4-2.6.3 2.1.3-4 .4 2.3.3-.3.3-2.6.4 1.8.3-.6.3-.2.4.6.3-.5.3 1.5.4.1.3-.2.3-1.1.4.3.3 2.1.3-2.1.4.3.3-.6.4 1.1.3.4.3-.2.4-.4.3.3.3-1 .4.8.3-1.6.3 1.1.4.7.3-1.9.3 1.8.4-.5.3-1.6.3-.5.4 0 .3.6.3 1.3.4-.1.3 1 .3 1 .4-2.8.3-1.6.3.6.4-.6.3 1.3.3.1.4 1.8.3-2.8.3 1.3.4-.1.3.1.4-.4.3 2.6.3-2.3.4.2.3.7.3-.5.4 1.5.3-3 .3 1 .4-.4.3.5.3.9.4-1.5.3-1.4.3 2 .4-1.1.3 1.6.3-.4.4 1.9.3-1.6.3-1.4.4 1.2.3.7.3-1 .4-.2.3-.2.3-.2.4-.5.3 2.1.3-.8.4-1.9.3 2.5.4-1.1.3.2.3-.1.4 1.1.3-3.5.3 2.2.4.6.3-.7.3-1.5.4.3.3 1.5.3 1.2.4-3.4.3 1.4.3.9.4-.1.3.3.3.6.4-.4.3-2.3.3 1.2.4-.8.3 1.1.3 1.5.4-.5.3 1.3.3-1 .4-.3.3 0 .3-1.7.4.5.3.7.4.2.3-.2.3-1.5.4-.2.3-.1.3 3 .4-1.9.3.9.3-.9.4-.1.3-.1.3-.2.4.5.3.7.3-2.1.4 1.3.3-.3.3-.2.4 1.1.3 1 .3-3 .4 1.5.3.9.3-.2.4-2.5.3 2.1.3-.9.4 0 .3 1.2.3-1.8.4 1.2.3.6.4-1.5.3-.3.3 3.1.4-3.1.3 2.3.3-2 .4.8.3-.7.3.7.4 0 .3-1.3.3.9.4 1.1.3-1.7.3-1.5.4 2.5.3-1.1.3 1.2.4-.8.3-.4.3.6.4.6.3-.1.3-1.6.4-.1.3.1.3 2.4.4-1 .3-1.1.4.6.3 1.6.3-2.4.4.7.3 1.1.3 0 .4-.1.3-1.6.3.9.4-2.4.3 2 .3-.2.4 0 .3 1.8.3-1.4.4-.1.3.9.3 1.1.4-2.6.3 1.5.3-1 .4-1.3.3 1 .3.9.4-.6.3-.2.3.4.4-.2.3 0 .3-.8.4 1.6.3-2.9.4 2.5.3-1 .3 1.6.4-2 .3-1.2.3 2.8.4.6.3-2.9.3 2.2.4-.1.3-1.3.3 1.6.4-1.5.3 1.9.3.2.4-1.7.3.1.3.4.4-2 .3 1.3.3.6.4 2.2.3-1 .3-1 .4-1.1.3 1.2.3-.3.4-1.4.3 1 .3-1.1.4.9.3-2.8.4 4.7.3-2 .3-.5.4.4.3-1.1.3 1.5.4 1.5.3-1.1.3-.6.4.2.3.2.3-.5.4-.2.3.6.3.2.4-.8.3.8.3-1.5.4-.6.3-.1.3 2.2.4-1.1.3.7.3-.7.4.3.3.6.3-1.6.4.7.3 2.1.3.5.4-1.8.3 0 .4-.8.3-.5.3 1.9.4.4.3-.8.3.1.4-1.3.3 1.9.3-.9.4-.9.3 1.7.3-1.9.4-.2.3 1.1.3-1.2.4 0 .3 1.6.3-.4.4-.7.3 1.1.3-.5.4.6.3 0 .3 0 .4-1.9.3 2 .3-.9.4.4.3-.4.3.7.4-1 .3-.3.4 1 .3-.9.3-.8.4.9.3-.1.3-.1.4.1.3-.5.3 0 .4 3.5.3-3.8.3 1.2.4-.1.3-.9.3.1.4-.5.3-.2.3 2.8.4-2.7.3.2.3 1.8.4-2.3.3 2.7.3-1.5.4 1.4.3-2.2.3.1.4 1.5.3-1.2.3-.4.4 1.6.3-1 .4-.8.3.8.3.5.4-.7.3 2.5.3-1.8.4-.6.3.2.3.7.4-1.4.3.2.3.3.4-.4.3-.1.3-2.5.4 2.2.3.5.3 1.1.4-1.9.3.9.3-.4.4.4.3 1.7.3-.3.4.2.3-2.8.3.2.4 1.5.3-1.8.3 2 .4 2.4.3-4.5.4 2.1.3-.9.3.4.4-.7.3-1.6.3 1.2.4-.4.3-.4.3 1.1.4.4.3-1.2.3 1.5.4-.5.3.4" fill="none" stroke="#ff0000" stroke-width="1.35" stroke-linejoin="round"/>
<path d="M386.8 173.5l.3 0 .4-.1.3-.1.3-.3.4.5.3-.3.3-.1.4.2.3.1.3-1.4.4 2 .3-2.1.3 3 .4-1 .3-1 .4 1.8.3-1.4.3.7.4-.6.3 1 .3-.1.4-2 .3.3.3.9.4-.5.3-2.1.3 4.3.4-4.3.3.1.3.8.4 1.8.3 1.2.3-2 .4-.2.3.5.3-.5.4.4.3-1.2.3 1.5.4 0 .3-2.9.3 2.3.4.3.3.3.3-1.4.4-.5.3.4.4 1.4.3-1.4.3.1.4 1.8.3-1.9.3-.2.4.8.3.3.3.8.4-2 .3-.7.3 1.4.4.7.3-2.1.3.9.4.8.3-.1.3-.2.4-.4.3-.6.3-.2.4 2.1.3-2.3.3 2.3.4-2.6.3 4.2.3-4.7.4 3.3.3-2.6.3.8.4 0 .3-.6.4 2.8.3-2.2.3-1.4.4 1.9.3 0 .3-1.9.4 1.7.3-.5.3.7.4-.1.3-.8.3-.4.4 1.3.3-.6.3-1.8.4.9.3 0 .3.2.4 2.6.3-2.7.3.8.4 1.2.3-1.2.3-.1.4.9.3-1.1.3-.1.4.5.3-.3.3-1.1.4-.5.3 1 .4 1.5.3-1.6.3 1.4.4-.8.3-.7.3-2.4.4 2.9.3-.5.3-1.4.4 2.1.3-.5.3.4.4-1 .3.8.3-.7.4 1.5.3-.9.3-1.6.4 1.6.3-.1.3-.3.4-1.2.3 2.5.3-1.8.4 2.3.3-2.3.3.7.4-.1.3.2.3 2.5.4-3.1.3 2.5.4-1.4.3-1.3.3 1.9.4-.4.3.1.3-2.3.4 1.9.3-.9.3.2.4 0 .3.2.3 1.6.4-1.3.3-2.2.3 3.1.4-1.1.3 0 .3-1.9.4 2.2.3-.9.3 1.5.4-.5.3.3.3-1.2.4-1.4.3 2.8.3-.6.4-.7.3-.2.3-.4.4-.8.3.6.4 1.1.3 1.7.3-1.2.4 1.2.3-2.6.3 2.2.4-1.6.3 1.9.3-.3.4-1.2.3.1.3 1.1.4-2 .3-1.3.3 2.9.4 1.4.3-4.1.3 2.2.4-1.4.3.9.3-.7.4 1.9.3-1.5.3.4.4-.9.3 1.8.3-1.2.4.1.3.3.3-1.3.4 1.4.3-1.6.4 1.4.3 0 .3-.1.4.2.3-.5.3 1.2.4-.5.3-.5.3.3.4-.5.3.6.3-.2.4-1.5.3 3.5.3-2.1.4-.2.3 1 .3-2.4.4 1.7.3.7.3-.6.4.4.3-.6.3.1.4.4.3.2.3-1.3.4 1.4.3 0 .3-.9.4.1.3.7.4 1 .3-.1.3-1.9.4.3.3 0 .3.9.4-.5.3.5.3.9.4-1 .3.2.3-.1.4-1.1.3.6.3-.1.4-.2.3 2 .3-1 .4-3.2.3 1.9.3.7.4.1.3-.9.3.5.4 0 .3-.1.3 1.1.4-.7.3-.5.4.3.3.3.3-1.1.4.5.3 1.2.3.4.4-3.4.3 4.8.3-3 .4 1.4.3-2.2.3 2.1.4-.7.3-.1.3-.2.4.1.3 1 .3-1.5.4.5.3-.2.3-1.2.4 1.7.3-.1.3-.5.4-.9.3 1.1.3.2.4.1.3.1.3-1.3.4 2.2.3-.2.4 0 .3-.3.3.8.4-.6.3.4.3-.8.4-.1.3.4.3-1.3.4.5.3.4.3-.8.4-1.8.3 1.8.3-.1.4 1.6.3-2.8.3 1.1.4 2.4.3-4 .3 2.1.4-.3.3-1.1.3 1.7.4-.9.3-1.8.3 2.1.4-.7.3 2.4.3-1.1.4-1.1.3 1.3.4 1.7.3-3.2.3.3.4.9.3.1.3.2.4-1.7.3 1.6.3-1.3.4.4.3 1.7.3-1.6.4 1.3.3-1 .3.5.4 0 .3.5.3.1.4-1.5.3 2.4.3-1 .4.3.3.1.3-1.5.4.4.3.2.3.2.4 1.4.3.1.3 1.6.4-1.6.3-.1.4-1.8.3-.7.3.8.4-.3.3-.7.3.7.4.7.3-.4.3.9.4-.3.3-.2.3.9.4-1.4.3.2.3 1.3.4-.5.3-2.4.3 1.6.4 1.4.3-1 .3.7.4-2.7.3 1.9.3-2.4.4 2.7.3-1.9.3 2.6.4-2.1.3.8.3.2.4-.3.3-1.6.4 2.3.3-1.2.3 2.9.4-2.7.3.5.3-.6.4 2.1.3-.2.3-.9.4.4.3-1.9.3-.1.4 2.3.3-2.2.3.6.4-1.3.3 1.2.3.8.4-.5.3-1.5.3 2.3.4-.6.3-2.7.3 1.4.4.8.3-.2.3.7.4.9.3-1.2.3 0 .4 1.5.3.2.4-1.9.3 1.9.3-3.4.4 3.4.3-1.1.3-1.4.4.4.3.6.3 1.2.4-.5.3-.5.3-.7.4.5.3-1.4.3.8.4-.4.3.5.3.8.4-.8.3-1.5.3 2.9.4-1.1.3.4.3-1.1.4.4.3 0 .3 1.7.4-2.7.3 2.2.3-1 .4.8.3-1.4.4-1 .3 2.6.3-1.3.4.8.3.2.3-2.4.4 1.2.3.3.3.8.4 0 .3.2.3-1 .4 1.6.3-1.3" fill="none" stroke="#0000ff" stroke-width="1.35" stroke-linejoin="round"/>
<rect x="386.8" y="117.6" width="158.5" height="83.9" fill="none" stroke="#8a8a8a" stroke-width="1"/>
<text x="383.2" y="119.8" font-size="4.9" text-anchor="end" class="t">0.02</text>
<text x="383.2" y="147.8" font-size="4.9" text-anchor="end" class="t">0.01</text>
<text x="383.2" y="175.7" font-size="4.9" text-anchor="end" class="t">0</text>
<text x="383.2" y="203.7" font-size="4.9" text-anchor="end" class="t">-0.01</text>
<text x="386.8" y="209.1" font-size="4.9" text-anchor="middle" class="t">0</text>
<text x="413.2" y="209.1" font-size="4.9" text-anchor="middle" class="t">5</text>
<text x="439.6" y="209.1" font-size="4.9" text-anchor="middle" class="t">10</text>
<text x="466.0" y="209.1" font-size="4.9" text-anchor="middle" class="t">15</text>
<text x="492.5" y="209.1" font-size="4.9" text-anchor="middle" class="t">20</text>
<text x="518.9" y="209.1" font-size="4.9" text-anchor="middle" class="t">25</text>
<text x="545.3" y="209.1" font-size="4.9" text-anchor="middle" class="t">30</text>
<text x="466.0" y="216.9" font-size="5.3" text-anchor="middle" class="t">Time [s]</text>
<text transform="translate(371.5,159.6) rotate(-90)" font-size="5.5" text-anchor="middle" class="t">Torque [N m]</text>
<rect x="386.8" y="117.6" width="10.6" height="10.1" fill="#fff" stroke="#5c6068" stroke-width="0.8"/>
<text x="392.1" y="126.3" font-size="9.4" text-anchor="middle" class="L">F</text>
<rect x="460.2" y="121.0" width="81.2" height="9.0" fill="#fff" stroke="#7a7a7a" stroke-width="0.8"/>
<line x1="463.3" y1="125.0" x2="473.7" y2="125.0" stroke="#ff5a5a" stroke-width="1.5"/>
<text x="474.5" y="126.7" font-size="4.5" class="t2">Coil5</text>
<line x1="487.8" y1="125.0" x2="498.2" y2="125.0" stroke="#5a5aff" stroke-width="1.5"/>
<text x="499.0" y="126.7" font-size="4.5" class="t2">Coil10</text>
<line x1="516.3" y1="125.0" x2="526.7" y2="125.0" stroke="#505050" stroke-width="1.5"/>
<text x="527.5" y="126.7" font-size="4.5" class="t2">Coil15</text>
<path d="M22.4 239.2l.5-.1.5-.1.5-.2.5-.1.5 0 .5-.1.5-.2.5-.1.5 0 .5.1.5.2.5.2.5 0 .5.2.5.4.5.6.5.2.5.1.5.1.5-.1.5.4.5.7.5.3.5.2.5.5.5.6.5.4.5.1.5.3.5.6.5.5.6.4.5.4.5.4.5.3.5.5.5.5.5.5.5.5.5.5.5.2.5.6.5 1 .5.5.5.5.5.7.5.7.5.7.5.4.5.5.5.5.5.5.5.5.5.8.5.5.5.5.5.6.5.9.5.6.5.4.5.7.5.9.5.6.5.7.5.6.5.5.5.5.5.4.5.5.5.7.5.4.5.3.5.5.5.5.5.5.5.4.5.6.5.5.5.2.5.3.5.2.5.3.5.4.5.5.5.4.5.2.5.3.5.5.5.4.5.3.5 0 .5.2.5.5.5.3.6-.1.5.1.5.4.5.4.5.2.5.1.5.3.5.4.5.2.5 0 .5.1.5.2.5.3.5.3.5.1.5 0 .5.1.5.1.5.1.5.1.5.2.5.2.5.2.5.1.5.1.5 0 .5.1.5.2.5 0 .5-.1.5.2.5.1.5-.1.5-.1.5.2.5.2.5.2.5.3.5.2.5-.1.5-.2.5 0 .5 0 .5 0 .5.1.5.3.5.3.5.1.5 0 .5 0 .5.1.5 0 .5 0 .5.2.5.1.5-.1.5.1.5.4.5.1.5-.3.5-.1.5.2.5.4.5.1.6-.2.5-.2.5.2.5.2.5.1.5-.1.5-.1.5.1.5.3.5.2.5.1.5-.1.5.1.5 0 .5.2.5.4.5 0 .5-.1.5.1.5-.2.5-.2.5 0 .5.2.5.4.5.3.5 0 .5 0 .5-.1.5-.1.5.1.5.1.5 0 .5 0 .5.1.5.1.5 0 .5.1.5.1.5.2.5.2.5 0 .5-.2.5 0 .5.1.5.1.5 0 .5-.1.5.2.5.1.5 0 .5 0 .5-.1.5 0 .5.1.5.2.5.2.5 0 .5 0 .5 0 .5.3.5.3.5 0 .5 0 .6-.2.5-.3.5 0 .5 0 .5 0 .5.1.5.1.5.2.5.3.5.3.5 0 .5-.2.5-.1.5.3.5.3.5-.2.5.2.5.1.5.1.5.3.5-.2.5-.2.5.2.5.2.5 0 .5-.1.5-.1.5 0 .5.2.5.1.5-.1.5-.2.5 0 .5.1.5.1.5.2.5.1.5-.1.5.1.5.4.5.1.5-.1.5 0 .5 0 .5.2.5.2.5 0 .5-.1.5-.1.5.4.5.2.5-.2.5-.1.5.1.5.2.5-.1.5-.1.5.1.5.1.5.1.5.1.5-.1.5.1.6.4.5.1.5.1.5-.1.5 0 .5.2.5-.1.5 0 .5 0 .5.1.5 0 .5 0 .5 0 .5.2.5.1.5-.1.5-.2.5.1.5.4.5 0 .5 0 .5.1.5.2.5.1.5 0 .5-.1.5 0 .5-.1.5-.1.5.2.5.1.5 0 0 6.3-.5-.2-.5-.2-.5 0-.5.1-.5.1-.5 0-.5-.2-.5-.1-.5-.2-.5-.1-.5.3-.5-.1-.5-.3-.5.3-.5 0-.5-.3-.5-.1-.5-.1-.5-.1-.5.1-.5.1-.5-.1-.5-.1-.5-.1-.5-.2-.5-.1-.5-.1-.5 0-.5.1-.5.1-.5-.1-.6-.1-.5 0-.5-.2-.5-.1-.5.1-.5.2-.5-.1-.5-.4-.5-.1-.5 0-.5 0-.5-.1-.5-.3-.5.2-.5.2-.5 0-.5-.3-.5-.3-.5.3-.5.2-.5-.3-.5-.2-.5-.2-.5 0-.5.1-.5-.1-.5-.1-.5-.1-.5-.4-.5.1-.5.2-.5 0-.5 0-.5-.1-.5-.1-.5 0-.5-.1-.5-.2-.5-.1-.5 0-.5-.2-.5-.1-.5 0-.5.1-.5 0-.5.1-.5 0-.5-.2-.5.3-.5 0-.5-.3-.5-.3-.5-.1-.5 0-.5-.1-.5.1-.5.1-.5-.1-.5-.3-.5-.3-.5 0-.5.1-.5.2-.6-.1-.5-.1-.5 0-.5 0-.5-.1-.5-.2-.5 0-.5.3-.5 0-.5-.5-.5-.4-.5.1-.5 0-.5.2-.5.2-.5-.4-.5-.2-.5.1-.5.1-.5 0-.5 0-.5-.2-.5 0-.5-.1-.5-.1-.5 0-.5.2-.5 0-.5-.3-.5-.4-.5 0-.5.1-.5 0-.5.1-.5-.1-.5-.4-.5-.1-.5-.1-.5-.1-.5-.1-.5-.1-.5-.1-.5-.1-.5-.1-.5 0-.5.1-.5-.2-.5-.1-.5 0-.5.1-.5.1-.5-.1-.5-.2-.5-.2-.5 0-.5.2-.5 0-.5.1-.5-.2-.5-.2-.5-.1-.5 0-.5 0-.6-.1-.5-.3-.5-.1-.5.1-.5 0-.5 0-.5 0-.5.1-.5-.2-.5-.2-.5 0-.5 0-.5 0-.5 0-.5-.2-.5-.4-.5 0-.5.1-.5-.1-.5-.3-.5 0-.5-.1-.5.1-.5.2-.5-.3-.5-.4-.5-.1-.5.2-.5-.1-.5-.2-.5 0-.5-.1-.5-.1-.5-.2-.5-.1-.5.1-.5-.1-.5-.1-.5-.3-.5-.2-.5.1-.5 0-.5-.3-.5-.2-.5 0-.5-.1-.5-.1-.5 0-.5-.2-.5-.2-.5-.1-.5-.3-.5-.3-.5 0-.5-.1-.5-.3-.5.1-.5-.2-.5-.4-.5-.3-.5-.2-.5-.3-.5-.3-.5-.3-.6-.1-.5-.3-.5-.3-.5 0-.5-.1-.5-.3-.5-.4-.5-.3-.5-.5-.5-.6-.5-.3-.5-.4-.5-.2-.5-.3-.5-.3-.5-.4-.5-.4-.5-.5-.5-.4-.5-.2-.5 0-.5-.5-.5-.7-.5-.5-.5-.4-.5-.3-.5-.4-.5-.8-.5-.9-.5-.5-.5-.4-.5-.5-.5-.9-.5-.6-.5-.6-.5-.7-.5-.7-.5-.4-.5-.7-.5-.8-.5-.6-.5-.8-.5-.6-.5-.5-.5-.4-.5-.5-.5-.9-.5-.7-.5-.5-.5-.5-.5-.6-.5-.4-.5-.6-.5-.7-.5-.4-.5-.4-.5-.5-.5-.5-.5-.5-.5-.3-.5-.3-.5-.5-.5-.7-.6-.6-.5-.3-.5-.3-.5-.5-.5-.3-.5-.4-.5-.6-.5-.5-.5-.2-.5-.1-.5-.2-.5-.3-.5-.6-.5-.3-.5-.2-.5-.4-.5-.4-.5 0-.5.1-.5-.3-.5-.5-.5-.2-.5-.5-.5-.7-.5-.6-.5-.4-.5-.3-.5-.5-.5-.5-.5-.4-.5-.5-.5-.4z" fill="#ffe0e0" stroke="#ffa0a0" stroke-width="0.7"/>
<path d="M22.4 239.2l.5-.2.5-.3.5-.3.5-.3.5-.2.5-.2.5-.1.5-.2.5-.2.5-.2.5.1.5.2.5 0 .5.1.5.4.5.3.5.2.5.4.5.2.5.2.5.3.5.3.5.3.5.2.5.3.5.5.5.6.5.4.5 0 .5.1.5.3.6.4.5.4.5.4.5.4.5.5.5.5.5.6.5.4.5.3.5.3.5.2.5.3.5.4.5.5.5.4.5.4.5.6.5.5.5.2.5.3.5.1.5.3.5.7.5.7.5.4.5.3.5.7.5.8.5.6.5.3.5.5.5.7.5.6.5.4.5.3.5.4.5.4.5.5.5.5.5.3.5.4.5.5.5.3.5.2.5.2.5.2.5.4.5.2.5.1.5.4.5.6.5.5.5.1.5.3.5.4.5.2.5.3.5.5.5 0 .5-.1.5.5.5.4.5.2.6.2.5.4.5.4.5.2.5.2.5.1.5.1.5 0 .5.1.5.4.5.1.5 0 .5.2.5-.1.5 0 .5.2.5.1.5 0 .5 0 .5.2.5.4.5.2.5 0 .5.1.5 0 .5 0 .5.1.5.1.5 0 .5.3.5.5.5.2.5 0 .5-.1.5 0 .5.2.5.2.5-.1.5-.1.5.3.5.3.5 0 .5 0 .5.1.5.1.5.1.5.2.5 0 .5.1.5 0 .5-.1.5.1.5.3.5.1.5 0 .5 0 .5.2.5.2.5-.1.5-.4.5.1.5.5.5.1.5 0 .6 0 .5.1.5-.1.5-.1.5.2.5.2.5 0 .5-.2.5.2.5.1.5 0 .5 0 .5.1.5.2.5 0 .5-.1.5 0 .5 0 .5-.2.5.1.5.2.5-.1.5 0 .5.2.5.2.5-.2.5-.1.5.2.5.3.5 0 .5-.3.5-.2.5 0 .5.1.5.2.5 0 .5-.1.5.1.5.1.5 0 .5.3.5.1.5-.3.5-.2.5.1.5.3.5-.1.5-.2.5.3.5.2.5-.2.5-.1.5 0 .5.1.5.2.5.2.5 0 .5-.1.5-.2.5-.1.5.2.5.3.5 0 .6-.1.5-.1.5-.2.5-.1.5.2.5.2.5-.1.5-.1.5-.1.5.3.5.3.5-.1.5 0 .5 0 .5-.1.5 0 .5.2.5.3.5-.2.5-.4.5.1.5.4.5.1.5-.2.5-.2.5 0 .5.1.5.2.5.2.5.1.5 0 .5-.1.5 0 .5-.3.5 0 .5.3.5.2.5.1.5-.2.5-.3.5 0 .5.2.5.3.5 0 .5.1.5.2.5-.1.5-.1.5-.1.5 0 .5.1.5 0 .5 0 .5.1.5.2.5-.1.5-.1.5-.2.5 0 .5.3.5 0 .5-.2.5-.1.6.1.5.3.5.4.5-.1.5-.5.5 0 .5.4.5.2.5 0 .5-.1.5-.2.5.1.5.1.5-.1.5.1.5.1.5-.2.5 0 .5.3.5-.1.5-.1.5.1.5.1.5.1.5 0 .5-.1.5 0 .5.1.5.2.5.1.5-.2.5-.2 0 9.2-.5 0-.5.1-.5 0-.5-.2-.5-.2-.5-.1-.5-.1-.5.2-.5.1-.5-.2-.5-.1-.5-.1-.5.1-.5.2-.5 0-.5-.1-.5-.1-.5 0-.5.1-.5-.2-.5-.2-.5.1-.5.6-.5.3-.5-.3-.5-.5-.5-.1-.5.1-.5-.1-.5.1-.5-.1-.6 0-.5.1-.5-.2-.5 0-.5 0-.5-.2-.5.1-.5-.1-.5-.2-.5.2-.5.2-.5 0-.5-.3-.5-.1-.5 0-.5-.1-.5-.1-.5 0-.5.1-.5.1-.5.1-.5.1-.5 0-.5.1-.5-.2-.5-.4-.5-.1-.5.1-.5 0-.5.2-.5.1-.5 0-.5 0-.5-.1-.5 0-.5 0-.5.1-.5-.2-.5-.4-.5-.1-.5.1-.5.2-.5 0-.5-.4-.5-.1-.5.2-.5.1-.5-.1-.5-.1-.5 0-.5 0-.5-.1-.5-.1-.5.1-.5.1-.5-.1-.5-.2-.5 0-.5.2-.5.2-.5 0-.5-.2-.5-.1-.6-.1-.5 0-.5-.1-.5-.1-.5.1-.5.1-.5.1-.5-.1-.5-.2-.5-.2-.5.1-.5.1-.5 0-.5.1-.5-.1-.5 0-.5.2-.5 0-.5 0-.5-.3-.5-.2-.5.1-.5-.1-.5-.1-.5.2-.5.3-.5-.2-.5-.4-.5.1-.5.2-.5 0-.5-.3-.5-.1-.5.1-.5-.1-.5-.1-.5.1-.5.1-.5-.2-.5-.3-.5 0-.5-.1-.5.2-.5.3-.5-.1-.5-.2-.5-.1-.5.2-.5 0-.5-.1-.5 0-.5 0-.5-.2-.5-.3-.5.1-.5.3-.5-.1-.5-.3-.5-.1-.5.1-.5.2-.5-.1-.5-.3-.6 0-.5.1-.5-.1-.5.1-.5.2-.5-.3-.5-.4-.5-.1-.5.2-.5.2-.5 0-.5-.1-.5-.1-.5-.3-.5-.2-.5-.1-.5-.2-.5 0-.5.2-.5.1-.5-.2-.5-.4-.5-.2-.5-.2-.5-.1-.5-.2-.5.1-.5 0-.5-.1-.5.1-.5 0-.5-.3-.5-.1-.5 0-.5-.2-.5-.1-.5 0-.5 0-.5-.2-.5-.1-.5 0-.5-.3-.5-.2-.5.2-.5.1-.5-.3-.5-.3-.5 0-.5-.2-.5-.5-.5-.1-.5-.1-.5 0-.5-.1-.5-.2-.5-.2-.5-.1-.5-.3-.5-.1-.5-.1-.5-.3-.5-.2-.5-.1-.5-.2-.6-.3-.5-.1-.5-.1-.5-.4-.5-.4-.5-.3-.5-.4-.5-.1-.5.1-.5-.3-.5-.5-.5-.2-.5-.4-.5-.5-.5-.3-.5 0-.5-.2-.5-.4-.5-.5-.5-.3-.5-.3-.5-.4-.5-.3-.5-.4-.5-.2-.5-.1-.5-.6-.5-.9-.5-.4-.5-.2-.5-.6-.5-.8-.5-.5-.5-.2-.5-.6-.5-.7-.5-.4-.5-.3-.5-.4-.5-.6-.5-.5-.5-.5-.5-.6-.5-.7-.5-.4-.5-.4-.5-.5-.5-.3-.5-.2-.5-.2-.5-.4-.5-.6-.5-.3-.5-.3-.5-.5-.5-.5-.5-.6-.5-.4-.5-.3-.5 0-.5 0-.5-.5-.5-.6-.6-.5-.5-.5-.5-.2-.5-.2-.5-.5-.5-.5-.5-.3-.5-.2-.5-.4-.5-.3-.5-.2-.5-.4-.5-.4-.5-.3-.5-.1-.5 0-.5-.3-.5-.5-.5-.3-.5-.2-.5-.1-.5-.4-.5-.6-.5-.6-.5-.6-.5-.6-.5-.6-.5-.6-.5-.7-.5-.6-.5-.6-.5-.6z" fill="#e3e3e3" stroke="#bdbdbd" stroke-width="0.7"/>
<path d="M22.4 239.2l.5.2.5.1.5.2.5.1.5.1.5.3.5.2.5.3.5.2.5.1.5.3.5.2.5.3.5.6.5.1.5-.3.5.2.5.6.5.3.5.3.5.5.5.2.5.1.5.4.5.3.5.2.5.3.5.4.5.7.5.6.5.3.6.4.5.4.5.4.5.4.5.4.5.4.5.6.5.7.5.7.5.5.5.4.5.7.5.6.5.5.5.7.5.8.5.7.5.4.5.2.5.2.5.9.5.7.5.6.5.8.5.7.5.5.5.4.5.6.5.9.5.9.5.6.5.5.5.4.5.6.5.9.5.5.5.2.5.6.5 1 .5.4.5.4.5.7.5.5.5.1.5 0 .5.3.5.8.5.7.5 0 .5.1.5.5.5 0 .5.1.5.4.5.3.5.6.5.8.5.6.5.4.5-.1.5-.1.5.4.5.4.6-.1.5 0 .5.4.5.3.5.3.5.4.5.4.5.3.5.2.5 0 .5 0 .5-.1.5.1.5.1.5.3.5.4.5.2.5.4.5.3.5-.2.5-.2.5-.1.5.2.5.2.5 0 .5.2.5.2.5 0 .5 0 .5.4.5.2.5 0 .5.4.5.2.5-.3.5-.2.5 0 .5 0 .5 0 .5.2.5.2.5.1.5.3.5.2.5-.1.5.1.5 0 .5 0 .5 0 .5 0 .5.2.5.4.5.2.5-.1.5.2.5.1.5-.2.5-.3.5.3.5.4.5 0 .5-.1.5 0 .5.1.6.1.5.2.5 0 .5 0 .5.2.5.2.5-.1.5 0 .5-.2.5 0 .5.2.5.3.5 0 .5 0 .5-.1.5-.1.5.4.5.3.5-.1.5 0 .5.3.5-.1.5-.1.5 0 .5.3.5.2.5 0 .5.1.5-.2.5-.3.5.2.5.1.5.2.5.2.5-.1.5-.1.5.1.5 0 .5 0 .5.1.5.2.5.1.5 0 .5.1.5-.1.5.2.5.4.5 0 .5-.2.5.1.5-.1.5-.3.5.1.5.2.5.4.5.4.5 0 .5 0 .5 0 .5 0 .5-.2.5-.3.5.1.6.2.5-.1.5.1.5.2.5.4.5.1.5-.1.5-.1.5 0 .5 0 .5.1.5.1.5.1.5 0 .5.1.5.1.5 0 .5-.2.5 0 .5 0 .5.3.5.3.5-.1.5.2.5.3.5 0 .5-.2.5-.1.5.3.5.3.5-.1.5.1.5 0 .5-.2.5.3.5 0 .5-.2.5.3.5.3.5-.2.5.1.5.1.5-.1.5-.3.5 0 .5.1.5.2.5.1.5-.1.5-.1.5.3.5.6.5.2.5-.1.5 0 .5-.1.5-.3.5.1.5.2.5-.1.5-.3.5.2.5.2.6 0 .5.4.5.3.5-.1.5-.2.5 0 .5.2.5-.1.5 0 .5.1.5 0 .5 0 .5.3.5.5.5-.1.5-.3.5-.1.5.1.5.3.5.2.5 0 .5-.1.5 0 .5 0 .5-.1.5.2.5.3.5-.4.5-.4.5.5.5.6.5-.1" fill="none" stroke="#ff0000" stroke-width="1.35" stroke-linejoin="round"/>
<path d="M22.4 239.2l.5.2.5.2.5.2.5.1.5.1.5.1.5.1.5.4.5.4.5.3.5 0 .5-.2.5.3.5.8.5.6.5.3.5 0 .5-.1.5.5.5.3.5.1.5.1.5.3.5.5.5.5.5.4.5.3.5.1.5.4.5.3.5.1.6.4.5.7.5.4.5.2.5.3.5.3.5.3.5.4.5.6.5.4.5.4.5.3.5.2.5.3.5.3.5.6.5.6.5.4.5.5.5.7.5.4.5.1.5.4.5.2.5.5.5.7.5.5.5.4.5.6.5.6.5.5.5.5.5.9.5.5.5.4.5.4.5.4.5.3.5.3.5.4.5.6.5.3.5.3.5.4.5.6.5.3.5.1.5.1.5.3.5.4.5.6.5.4.5.1.5.2.5.4.5.3.5.2.5-.1.5.1.5.5.5.2.5.2.5.5.6.1.5-.1.5.3.5.4.5.2.5-.1.5.2.5.5.5.3.5-.4.5-.3.5.5.5.7.5.5.5.2.5-.1.5-.1.5.2.5.1.5 0 .5.3.5.2.5-.3.5 0 .5.3.5.1.5-.1.5.2.5.4.5.4.5 0 .5.1.5-.1.5-.5.5-.1.5.3.5.1.5.2.5.1.5.1.5-.1.5 0 .5.3.5.5.5.1.5.1.5.1.5 0 .5.2.5.2.5 0 .5-.2.5-.2.5.2.5.3.5.3.5-.1.5 0 .5.2.5.2.5 0 .5 0 .5-.2.5 0 .6.4.5 0 .5-.2.5 0 .5.1.5.3.5 0 .5-.1.5 0 .5 0 .5.1.5 0 .5 0 .5.2.5.1.5.1.5.1.5-.3.5-.3.5.2.5.2.5.2.5.1.5 0 .5-.1.5-.1.5 0 .5.2.5-.1.5-.3.5 0 .5.4.5.4.5-.2.5-.4.5.2.5.3.5.1.5-.1.5-.1.5 0 .5-.2.5-.3.5.2.5.3.5.4.5 0 .5-.3.5.1.5-.1.5-.3.5-.1.5.4.5.2.5-.3.5-.2.5.2.5.2.5 0 .5 0 .5.1.5.2.5 0 .6-.1.5.2.5-.2.5-.1.5.1.5 0 .5-.2.5.2.5.3.5.1.5.3.5.1.5-.2.5.1.5.2.5-.4.5-.2.5-.1.5-.1.5.1.5.3.5.1.5.1.5 0 .5-.1.5 0 .5 0 .5-.1.5.1.5.2.5.1.5.1.5.3.5-.2.5-.3.5-.1.5.2.5.2.5.1.5-.3.5.1.5.3.5.3.5-.1.5-.4.5-.1.5.2.5.2.5.1.5-.3.5 0 .5.3.5.1.5-.3.5 0 .5.2.5.1.5-.1.5-.2.5-.2.5 0 .5.4.5.2.6-.4.5.2.5.3.5-.2.5-.1.5.2.5.1.5.1.5-.1.5-.1.5.1.5.2.5.1.5 0 .5.1.5.1.5 0 .5-.1.5-.1.5 0 .5.1.5.1.5 0 .5.1.5 0 .5-.1.5.1.5 0 .5-.2.5.1.5.3.5-.2" fill="none" stroke="#000000" stroke-width="1.35" stroke-linejoin="round"/>
<path d="M22.4 239.2l.5.2.5.1.5.1.5 0 .5 0 .5-.1.5.1.5.1.5.3.5.1.5 0 .5-.1.5-.1.5 0 .5.3.5.4.5 0 .5 0 .5-.1.5.2.5.2.5 0 .5.3.5.1.5-.5.5-.1.5.4.5.1.5 0 .5.2.5.3.6-.1.5-.1.5.6.5.5.5-.1.5-.2.5-.2.5.1.5.6.5.6.5-.2.5-.4.5.4.5.4.5.4.5.1.5 0 .5.2.5.7.5.3.5.3.5.3.5 0 .5.2.5.4.5 0 .5.1.5.8.5.7.5.2.5.2.5 0 .5.2.5.8.5.4.5.2.5.6.5 1 .5.8.5.6.5.5.5.5.5.1.5.5.5.8.5.6.5.4.5.3.5.4.5.5.5.3.5 0 .5 0 .5.2.5.6.5.8.5.5.5.3.5.4.5.6.5.4.5.1.5.2.6 0 .5-.2.5.1.5.7.5.8.5.3.5-.1.5.1.5-.1.5 0 .5.5.5.2.5.2.5.4.5.1.5.1.5.1.5 0 .5.3.5.2.5-.1.5.1.5.6.5 0 .5-.2.5 0 .5.1.5.3.5.2.5-.1.5.4.5.2.5 0 .5 0 .5 0 .5-.1.5.2.5.4.5.1.5 0 .5.2.5.2.5 0 .5-.1.5.2.5.1.5.1.5.5.5.2.5-.3.5 0 .5 0 .5.1.5.2.5.2.5-.2.5 0 .5.3.5.2.5.1.5-.2.5-.1.5-.1.5-.1.6.5.5.4.5-.1.5 0 .5 0 .5-.1.5-.1.5-.1.5 0 .5.1.5.1.5-.1.5-.1.5.2.5-.1.5-.2.5 0 .5.3.5.3.5.1.5 0 .5-.2.5-.3.5 0 .5.2.5.1.5.2.5.3.5 0 .5-.3.5-.2.5 0 .5.1.5-.1.5-.1.5.2.5.3.5.1.5-.1.5-.1.5-.1.5-.2.5.2.5.1.5-.3.5.2.5.4.5.1.5-.2.5 0 .5 0 .5-.1.5-.3.5-.1.5.2.5.1.5-.2.5-.3.5.1.5.2.5.1.5.4.5.3.6-.3.5-.1.5-.2.5-.2.5.1.5.1.5-.1.5 0 .5 0 .5-.1.5.1.5.3.5.2.5.1.5 0 .5 0 .5-.1.5 0 .5 0 .5.1.5 0 .5.1.5 0 .5-.3.5-.2.5.2.5.2.5 0 .5.1.5.1.5-.2.5 0 .5.3.5-.1.5-.1.5.2.5-.1.5-.3.5 0 .5.1.5 0 .5 0 .5.1.5.1.5 0 .5.4.5.2.5-.1.5-.3.5-.3.5-.1.5.1.5.1.5.2.5.1.5.1.5 0 .5.1.5-.2.5-.4.5.1.5.4.5.1.6 0 .5 0 .5.1.5-.1.5-.1.5.1.5.2.5.1.5-.1.5-.2.5-.1.5.1.5-.1.5-.2.5 0 .5.2.5.4.5.3.5-.5.5-.4.5.4.5.4.5.2.5-.1.5-.4.5 0 .5.2.5.1.5 0 .5.1.5-.1.5-.2" fill="none" stroke="#0000ff" stroke-width="1.35" stroke-linejoin="round"/>
<path d="M22.4 239.2l.5.1.5.1.5.2.5.1.5.1.5.3.5.2.5-.1.5.1.5.3.5.6.5.2.5.1.5-.1.5-.2.5-.2.5 0 .5.3.5.4.5.2.5.2.5.3.5.2.5 0 .5.4.5.5.5 0 .5-.2.5.4.5.5.5.1.6.4.5 0 .5-.2.5.4.5.2.5-.1.5.3.5.5.5.2.5.1.5.2.5.5.5.5.5.2.5.2.5.3.5.2.5 0 .5.1.5.2.5.2.5 0 .5-.2.5.3.5.3.5-.2.5.4.5.6.5 0 .5.1.5.3.5 0 .5 0 .5.2.5.2.5.1.5.4.5.4.5.1.5.1.5 0 .5 0 .5-.1.5-.1.5.1.5 0 .5-.1.5.3.5.2.5-.1.5-.4.5-.1.5.5.5 0 .5-.3.5.3.5.2.5.1.5.1.5.1.5 0 .5-.1.5.1.6 0 .5-.1.5.2.5.1.5-.2.5-.1.5.1.5.2.5 0 .5 0 .5.2.5.1.5.1.5 0 .5-.1.5.2.5.2.5-.3.5-.2.5.1.5.1.5-.2.5-.1.5-.2.5 0 .5.1.5.1.5.3.5.2.5-.2.5-.1.5.3.5 0 .5-.2.5.1.5 0 .5 0 .5.2.5.1.5-.1.5 0 .5.3.5.2.5-.1.5-.2.5.2.5.1.5.1.5-.1.5-.2.5-.1.5.1.5.2.5.2.5-.3.5 0 .5.3.5-.3.5-.2.5 0 .5 0 .5.3.5.2.5-.2.6-.1.5-.2.5-.1.5.1.5-.1.5.1.5.3.5.1.5-.1.5.3.5.1.5-.2.5-.2.5 0 .5-.2.5 0 .5.3.5.1.5-.3.5-.1.5 0 .5-.1.5-.1.5.1.5.3.5.1.5.1.5.2.5-.2.5-.2.5-.2.5.1.5.2.5-.1.5-.4.5.1.5.2.5.1.5.2.5 0 .5-.1.5.1.5.1.5-.2.5-.1.5.1.5 0 .5 0 .5.2.5.1.5 0 .5-.2.5-.2.5.1.5 0 .5-.1.5 0 .5-.1.5.1.5.3.5.3.5-.2.5-.1.6 0 .5-.1.5.2.5.2.5 0 .5 0 .5-.1.5-.4.5-.1.5 0 .5.2.5.3.5.1.5-.2.5-.2.5.1.5.2.5.3.5-.2.5-.2.5 0 .5-.1.5-.1.5.2.5.1.5-.2.5 0 .5.1.5-.2.5-.2.5 0 .5.2.5.1.5.3.5 0 .5-.2.5-.1.5.2.5-.1.5-.2.5.3.5.4.5-.3.5-.2.5.4.5 0 .5-.1.5 0 .5-.3.5-.2.5.2.5.3.5.3.5.2.5-.2.5-.3.5-.4.5 0 .5.2.5.2.5-.4.5-.1.5.5.6.2.5-.3.5.2.5.3.5-.2.5-.4.5 0 .5.2.5.2.5-.2.5-.2.5.2.5 0 .5-.3.5-.1.5.2.5.1.5-.1.5-.3.5.1.5.4.5.1.5-.1.5.3.5.2.5-.2.5-.3.5.1.5.1.5.1.5 0 .5-.1" fill="none" stroke="#00a651" stroke-width="1.35" stroke-linejoin="round"/>
<rect x="22.4" y="228.7" width="158.5" height="84.4" fill="none" stroke="#8a8a8a" stroke-width="1"/>
<text x="18.8" y="230.9" font-size="4.9" text-anchor="end" class="t">1</text>
<text x="18.8" y="241.4" font-size="4.9" text-anchor="end" class="t">0</text>
<text x="18.8" y="252.0" font-size="4.9" text-anchor="end" class="t">-1</text>
<text x="18.8" y="262.6" font-size="4.9" text-anchor="end" class="t">-2</text>
<text x="18.8" y="273.1" font-size="4.9" text-anchor="end" class="t">-3</text>
<text x="18.8" y="283.6" font-size="4.9" text-anchor="end" class="t">-4</text>
<text x="18.8" y="294.2" font-size="4.9" text-anchor="end" class="t">-5</text>
<text x="18.8" y="304.8" font-size="4.9" text-anchor="end" class="t">-6</text>
<text x="18.8" y="315.3" font-size="4.9" text-anchor="end" class="t">-7</text>
<text x="22.4" y="320.7" font-size="4.9" text-anchor="middle" class="t">0</text>
<text x="48.8" y="320.7" font-size="4.9" text-anchor="middle" class="t">5</text>
<text x="75.2" y="320.7" font-size="4.9" text-anchor="middle" class="t">10</text>
<text x="101.7" y="320.7" font-size="4.9" text-anchor="middle" class="t">15</text>
<text x="128.1" y="320.7" font-size="4.9" text-anchor="middle" class="t">20</text>
<text x="154.5" y="320.7" font-size="4.9" text-anchor="middle" class="t">25</text>
<text x="180.9" y="320.7" font-size="4.9" text-anchor="middle" class="t">30</text>
<text x="101.7" y="328.5" font-size="5.3" text-anchor="middle" class="t">Time [s]</text>
<text transform="translate(12.1,270.9) rotate(-90)" font-size="5.5" text-anchor="middle" class="t">Force [N]</text>
<rect x="22.4" y="228.7" width="10.6" height="10.1" fill="#fff" stroke="#5c6068" stroke-width="0.8"/>
<text x="27.7" y="237.4" font-size="9.4" text-anchor="middle" class="L">G</text>
<rect x="119.5" y="230.4" width="60.3" height="13.1" fill="#fff" stroke="#7a7a7a" stroke-width="0.8"/>
<line x1="127.0" y1="233.5" x2="137.4" y2="233.5" stroke="#ff5a5a" stroke-width="1.5"/>
<text x="138.2" y="235.2" font-size="4.8" class="t2">S1</text>
<line x1="157.1" y1="233.5" x2="167.5" y2="233.5" stroke="#5a5aff" stroke-width="1.5"/>
<text x="168.3" y="235.2" font-size="4.8" class="t2">S2</text>
<line x1="127.0" y1="239.6" x2="137.4" y2="239.6" stroke="#505050" stroke-width="1.5"/>
<text x="138.2" y="241.3" font-size="4.8" class="t2">S3</text>
<line x1="157.1" y1="239.6" x2="167.5" y2="239.6" stroke="#3fbf7f" stroke-width="1.5"/>
<text x="168.3" y="241.3" font-size="4.8" class="t2">S4</text>
<path d="M204.9 296.2l.3-.2.4-.2.3-.2.3-.2.4-.2.3-.1.3-.3.4-.2.3-.3.3-.3.4-.1.3-.3.3-.3.4-.1.3-.1.4-.2.3-.1.3-.3.4-.4.3-.2.3-.4.4-.3.3-.1.3-.2.4-.3.3-.3.3-.3.4-.1.3-.1.3-.6.4-.5.3 0 .3-.2.4-.5.3-.3.3-.3.4-.2.3-.2.3-.4.4-.3.3-.3.3-.3.4-.3.3-.1.3-.3.4-.3.3-.3.4-.4.3-.5.3-.3.4-.3.3-.3.3-.3.4-.4.3-.4.3-.1.4-.3.3-.2.3-.4.4-.8.3-.6.3-.3.4-.3.3-.2.3-.4.4-.5.3-.3.3-.6.4-.5.3-.2.3-.1.4-.3.3-.2.3-.3.4-.6.3-.6.3-.5.4-.1.3-.2.4-.3.3-.5.3-.6.4-.2.3-.2.3-.4.4-.6.3-.4.3-.1.4-.3.3-.4.3-.3.4-.2.3-.3.3-.4.4-.5.3-.5.3-.2.4-.2.3-.2.3-.3.4-.3.3-.5.3-.4.4-.1.3-.2.3-.5.4-.3.3 0 .3-.1.4-.3.3-.4.4-.2.3 0 .3-.4.4-.6.3-.2.3 0 .4-.2.3-.4.3-.2.4-.1.3-.1.3-.3.4-.4.3-.4.3-.2.4 0 .3-.2.3-.3.4 0 .3-.1.3-.1.4.1.3-.2.3-.3.4-.4.3-.3.3-.2.4.1.3-.1.3-.3.4-.3.3 0 .4 0 .3 0 .3-.2.4-.2.3-.1.3-.3.4-.5.3-.2.3-.1.4 0 .3-.1.3-.3.4-.2.3-.1.3-.1.4-.1.3-.1.3-.1.4 0 .3 0 .3.1.4 0 .3-.5.3-.4.4.1.3.2.3 0 .4 0 .3 0 .3-.2.4-.1.3.2.4 0 .3-.2.3.2.4.2.3-.4.3-.4.4 0 .3.1.3.3.4 0 .3-.3.3-.3.4-.1.3.1.3 0 .4-.1.3.2.3.2.4-.1.3-.4.3-.2.4.1.3-.1.3-.2.4.1.3.2.3.3.4 0 .3-.2.3-.2.4.1.3 0 .4-.1.3-.1.3-.2.4-.1.3 0 .3 0 .4-.1.3 0 .3 0 .4 0 .3.2.3 0 .4-.1.3 0 .3.1.4-.1.3-.2.3-.2.4.1.3 0 .3-.3.4.1.3.1.3.1.4-.3.3-.4.3-.1.4.2.3.1.4-.1.3.1.3 0 .4-.2.3-.1.3.2.4.1.3-.1.3-.3.4-.3.3.2.3 0 .4-.2.3-.1.3.1.4 0 .3-.3.3-.2.4 0 .3.2.3.2.4 0 .3-.2.3 0 .4-.1.3-.2.3-.1.4 0 .3 0 .3 0 .4 0 .3.1.4 0 .3-.2.3-.1.4.1.3-.1.3-.1.4.2.3 0 .3-.3.4-.3.3.2.3.3.4-.1.3-.2.3-.2.4 0 .3.1.3-.1.4-.2.3-.2.3 0 .4.2.3.1.3 0 .4-.1.3-.2.3 0 .4 0 .3-.2.3.1.4 0 .3.1.4.1.3 0 .3 0 .4.1.3-.2.3-.3.4 0 .3.1.3-.3.4-.2.3.2.3-.2.4-.1.3 0 .3-.1.4 0 .3.2.3.2.4 0 .3-.2.3-.1.4 0 .3.2.3 0 .4-.2.3-.1.3-.1.4 0 .3-.1.3 0 .4-.2.3-.1.4.2.3.1.3-.2.4-.1.3.1.3.1.4 0 .3 0 .3 0 .4-.2.3-.3.3 0 .4.2.3.1.3-.2.4-.2.3-.1.3.1.4.1.3-.2.3-.2.4.1.3.3.3 0 .4-.1.3-.1.3-.1.4-.2.3 0 .3.1.4 0 .3 0 .4 0 .3.1.3-.1.4-.3.3 0 .3.2.4-.1.3-.1.3-.1.4-.1.3 0 .3 0 .4-.1.3.2.3.2.4-.3.3-.1.3 0 .4-.1.3.1.3-.1.4-.3.3 0 .3.1.4.1.3 0 .3-.2.4-.2.3.1.3.2.4 0 .3 0 .4 0 .3 0 .3-.1.4 0 .3 0 .3-.2.4-.4.3-.1.3.3.4.2.3.1.3 0 .4.1.3-.2.3-.1.4-.1.3-.2.3-.1.4 0 .3 0 .3.5.4.2.3-.3.3-.4.4-.1.3.1.3 0 .4-.2.3 0 .3.2.4 0 .3 0 .4-.2.3 0 .3.4.4 0 .3-.3.3-.2.4.1.3.2.3.1.4 0 .3 0 .3-.1.4.1.3-.2.3-.1.4.1.3 0 .3 0 .4 0 .3-.2.3 0 .4.1.3-.1.3.1.4 0 .3-.2.3-.2.4.2.3.2.3.1.4-.1.3-.2.4.2.3.1.3-.2.4-.4.3-.1.3.2.4.1.3 0 .3-.1.4 0 .3 0 .3-.2.4 0 .3.3 0 7.4-.3.2-.4 0-.3-.1-.3.1-.4 0-.3-.1-.3-.2-.4 0-.3 0-.3-.1-.4-.1-.3-.1-.3 0-.4.1-.3.1-.4.4-.3.2-.3-.2-.4-.1-.3.2-.3-.1-.4-.3-.3 0-.3 0-.4.1-.3.3-.3 0-.4 0-.3-.2-.3-.1-.4.2-.3 0-.3-.1-.4.2-.3.1-.3-.1-.4-.1-.3 0-.3 0-.4.3-.3 0-.3-.3-.4 0-.3.1-.3-.1-.4-.1-.3.3-.4.2-.3-.1-.3.2-.4.2-.3-.1-.3-.1-.4-.1-.3 0-.3 0-.4-.1-.3-.2-.3.2-.4.1-.3 0-.3.2-.4-.2-.3 0-.3.2-.4-.1-.3-.1-.3-.2-.4-.2-.3.1-.3.3-.4.1-.3.2-.3.3-.4 0-.3-.1-.3 0-.4.1-.3-.1-.4 0-.3.3-.3.2-.4 0-.3-.1-.3-.1-.4-.1-.3 0-.3 0-.4-.1-.3-.1-.3 0-.4 0-.3.1-.3.3-.4.2-.3-.1-.3-.2-.4.1-.3 0-.3-.1-.4 0-.3.1-.3 0-.4.1-.3.2-.3 0-.4-.1-.3 0-.3.2-.4.3-.3.2-.4-.2-.3-.3-.3.2-.4.1-.3-.3-.3.1-.4.4-.3-.1-.3-.2-.4.1-.3 0-.3.1-.4.1-.3.2-.3 0-.4-.1-.3 0-.3.2-.4 0-.3 0-.3.1-.4 0-.3.1-.3.2-.4.2-.3-.1-.3-.2-.4-.1-.3.1-.3.3-.4.1-.3-.1-.4 0-.3-.1-.3-.1-.4-.1-.3.2-.3.3-.4 0-.3 0-.3-.1-.4-.1-.3.2-.3 0-.4-.1-.3-.1-.3.1-.4.2-.3 0-.3.1-.4-.3-.3-.1-.3.2-.4 0-.3.1-.3.2-.4.2-.3-.1-.3-.1-.4-.1-.3.2-.3.3-.4-.1-.3-.2-.4 0-.3.1-.3-.1-.4 0-.3.3-.3.3-.4.2-.3-.2-.3 0-.4 0-.3-.1-.3-.1-.4.1-.3.2-.3.3-.4-.1-.3 0-.3.1-.4 0-.3-.1-.3 0-.4 0-.3.2-.3.1-.4-.1-.3 0-.3-.1-.4 0-.3 0-.3 0-.4.3-.3.2-.4 0-.3.1-.3 0-.4-.1-.3 0-.3 0-.4.1-.3.1-.3.1-.4 0-.3.1-.3.2-.4-.2-.3-.1-.3 0-.4.1-.3-.1-.3 0-.4.1-.3.1-.3.2-.4.2-.3 0-.3 0-.4.1-.3.3-.3 0-.4-.4-.3-.2-.3 0-.4 0-.3.1-.4.2-.3 0-.3.1-.4.2-.3-.2-.3.1-.4.3-.3.1-.3-.1-.4-.1-.3-.1-.3.2-.4.5-.3.4-.3-.1-.4-.2-.3-.2-.3-.2-.4.1-.3-.1-.3 0-.4.1-.3.1-.3.3-.4.2-.3 0-.3 0-.4.1-.3.1-.4-.1-.3-.1-.3 0-.4.1-.3.2-.3-.2-.4-.2-.3.2-.3.1-.4.1-.3-.1-.3-.1-.4.2-.3.3-.3-.1-.4-.2-.3 0-.3.3-.4.2-.3.1-.3.2-.4 0-.3-.1-.3-.1-.4 0-.3.1-.3-.1-.4-.1-.3.1-.3.1-.4 0-.3.1-.4 0-.3 0-.3.2-.4.1-.3 0-.3-.2-.4.1-.3.4-.3.3-.4-.3-.3-.1-.3.2-.4.2-.3.2-.3.2-.4-.1-.3-.1-.3.2-.4 0-.3 0-.3.3-.4.4-.3.2-.3.2-.4.3-.3.3-.3-.2-.4-.1-.3.2-.3.2-.4.3-.3.3-.4.2-.3.2-.3.3-.4.3-.3.1-.3 0-.4.1-.3.2-.3.1-.4.1-.3.1-.3.2-.4.5-.3.3-.3 0-.4-.1-.3 0-.3.2-.4.2-.3.2-.3.3-.4.2-.3.3-.3.3-.4.3-.3.4-.3.3-.4.1-.3-.1-.3 0-.4.4-.3.4-.4.2-.3.4-.3.6-.4.3-.3 0-.3.2-.4.3-.3.2-.3.3-.4.5-.3.4-.3.1-.4.4-.3.4-.3.3-.4 0-.3.3-.3.6-.4.4-.3.2-.3.4-.4.3-.3.1-.3 0-.4.3-.3.6-.3.6-.4.6-.3.4-.3.1-.4.2-.3.5-.4.3-.3.1-.3.2-.4.4-.3.1-.3.1-.4.5-.3.7-.3.5-.4.3-.3.1-.3-.1-.4.3-.3.4-.3.3-.4.4-.3.2-.3.1-.4.3-.3.4-.3.2-.4.3-.3.3-.3.4-.4.2-.3.1-.3.2-.4.2-.3.1-.3.1-.4.1-.3.3-.4.6-.3.2-.3.1-.4.3-.3.4-.3.3-.4.1-.3.2-.3.3-.4.4-.3.2-.3.1-.4.1-.3.1-.3 0-.4.2-.3.3-.3.3-.4.1-.3.1-.3.2-.4.1-.3.2-.3.3-.4.1-.3.1-.3 0-.4-.2-.3.1-.3.4-.4.3-.3 0-.4.1-.3.3-.3.2-.4.1-.3.1-.3.1-.4.1-.3.3-.3.1-.4.1-.3.1-.3.2-.4 0-.3.1z" fill="#ffe0e0" stroke="#ffa0a0" stroke-width="0.7"/>
<path d="M204.9 296.2l.3-.1.4 0 .3-.1.3-.1.4-.1.3-.2.3-.1.4.1.3-.1.3-.3.4-.2.3-.1.3-.1.4-.1.3 0 .4 0 .3-.2.3-.4.4-.1.3.3.3.2.4-.1.3-.1.3-.1.4 0 .3-.2.3-.2.4-.1.3.1.3-.1.4.1.3.1.3-.1.4-.2.3-.1.3 0 .4-.2.3-.2.3 0 .4 0 .3-.2.3-.3.4 0 .3-.1.3-.1.4 0 .3.3.4-.2.3-.6.3-.1.4-.2.3-.2.3 0 .4 0 .3-.2.3-.1.4-.1.3-.1.3-.1.4-.3.3-.2.3-.1.4.1.3-.1.3-.4.4-.1.3-.2.3-.2.4-.1.3-.1.3-.3.4-.1.3-.1.3-.1.4-.2.3-.2.3-.1.4-.1.3-.1.4-.2.3-.3.3-.2.4-.3.3-.1.3-.2.4-.1.3 0 .3-.3.4-.1.3.2.3-.1.4-.3.3-.4.3-.3.4-.1.3-.2.3-.3.4 0 .3.1.3-.1.4-.2.3-.2.3-.2.4-.2.3-.3.3-.2.4-.2.3-.3.3-.1.4.1.3-.1.4-.3.3-.3.3-.3.4-.4.3-.2.3.1.4-.3.3-.6.3-.4.4-.2.3-.3.3-.2.4-.3.3-.2.3-.3.4-.2.3 0 .3-.2.4-.5.3-.4.3-.2.4.1.3 0 .3-.1.4-.4.3-.4.3-.1.4 0 .3-.1.3-.2.4-.3.3-.1.4-.1.3-.1.3 0 .4-.1.3-.1.3 0 .4-.2.3-.2.3 0 .4-.3.3-.3.3 0 .4.2.3 0 .3-.2.4-.2.3-.2.3 0 .4-.1.3-.2.3.1.4 0 .3-.2.3 0 .4.3.3.2.3-.1.4-.2.3-.3.3 0 .4.1.3-.2.4-.3.3.1.3-.1.4-.2.3.1.3.2.4 0 .3.1.3.2.4-.1.3-.4.3-.1.4.2.3.2.3-.2.4 0 .3 0 .3-.1.4-.1.3 0 .3-.1.4 0 .3.1.3 0 .4-.1.3 0 .3.1.4 0 .3.1.3.1.4-.3.3-.3.4-.1.3-.2.3 0 .4.2.3.1.3 0 .4 0 .3-.2.3-.2.4.1.3 0 .3.2.4.2.3-.1.3-.1.4-.2.3-.3.3 0 .4.2.3 0 .3-.1.4-.2.3-.1.3.2.4-.1.3-.1.3.2.4.1.3-.2.4-.1.3-.1.3 0 .4.1.3.1.3-.2.4-.2.3-.1.3.2.4 0 .3-.2.3-.1.4.2.3 0 .3-.1.4.1.3-.1.3-.1.4-.1.3.2.3-.1.4-.2.3-.2.3-.2.4 0 .3.3.3.2.4 0 .3-.1.3-.1.4 0 .3-.1.4 0 .3 0 .3.2.4.2.3 0 .3-.1.4-.2.3-.4.3.1.4.3.3-.1.3-.1.4.2.3.1.3-.2.4.1.3 0 .3.1.4.1.3-.1.3.1.4-.1.3-.3.3-.1.4.1.3.1.3-.1.4 0 .3.1.3-.1.4-.2.3 0 .4-.1.3.1.3.3.4.1.3-.1.3.2.4-.2.3-.5.3-.1.4.2.3.2.3-.2.4 0 .3.3.3 0 .4-.2.3-.1.3 0 .4 0 .3-.1.3 0 .4 0 .3-.2.3.3.4.4.3-.1.3-.3.4.2.3.2.3-.1.4-.1.3.1.4-.1.3-.2.3-.1.4.2.3.2.3.1.4-.2.3-.1.3-.1.4 0 .3 0 .3-.1.4.2.3.1.3 0 .4.1.3 0 .3-.1.4.2.3 0 .3-.3.4-.1.3.1.3.1.4 0 .3-.1.3 0 .4-.2.3-.2.3.1.4.2.3-.1.4.1.3.4.3.1.4-.2.3-.2.3.1.4.1.3-.1.3 0 .4.1.3.1.3-.3.4-.1.3.1.3-.1.4-.1.3.2.3-.1.4 0 .3.1.3-.1.4 0 .3 0 .3.1.4.2.3 0 .3.1.4 0 .3 0 .3 0 .4-.1.3-.1.4.1.3-.1.3 0 .4.3.3.1.3-.5.4-.2.3.1.3.1.4 0 .3.1.3.1.4.2.3-.3.3-.1.4.3.3.1.3-.2.4-.1.3-.1.3-.2.4.2.3.1.3-.2.4 0 .3.3.3.4.4-.1.3-.2.3 0 .4 0 .3-.1.4-.1.3 0 .3.1.4.1.3-.1.3.1.4 0 .3-.2.3-.2.4.3.3.4.3-.3.4-.2.3.1.3-.1.4-.1.3.3.3.2.4-.1.3-.1.3-.1.4-.2.3.1.3.3.4 0 .3-.2.3 0 .4 0 .3-.1.3-.1.4.1.3.1.4.2.3.1.3-.2.4-.1.3.1.3.2.4 0 .3 0 .3 0 .4-.2.3-.3.3-.1.4.3.3.3 0 2-.3 0-.4.3-.3 0-.3-.1-.4-.1-.3 0-.3 0-.4.2-.3 0-.3-.1-.4-.2-.3 0-.3.2-.4 0-.3-.2-.4 0-.3 0-.3.1-.4.1-.3 0-.3.2-.4 0-.3-.2-.3 0-.4.2-.3-.2-.3-.3-.4.1-.3.1-.3.1-.4-.1-.3-.1-.3.1-.4.2-.3-.1-.3 0-.4-.1-.3.1-.3.1-.4-.1-.3-.1-.3 0-.4.1-.3-.1-.3 0-.4 0-.3-.1-.4-.1-.3.1-.3 0-.4.1-.3.1-.3.1-.4 0-.3-.2-.3 0-.4.1-.3-.2-.3-.2-.4.2-.3.2-.3 0-.4 0-.3-.1-.3 0-.4.1-.3 0-.3-.2-.4-.1-.3-.1-.3-.1-.4-.1-.3.1-.3.1-.4-.1-.3.4-.3.1-.4-.3-.3.1-.4.3-.3 0-.3-.2-.4-.2-.3.2-.3.2-.4-.2-.3-.2-.3.1-.4-.1-.3-.1-.3.2-.4.1-.3 0-.3.1-.4 0-.3-.2-.3.1-.4-.1-.3-.3-.3-.1-.4.1-.3 0-.3-.2-.4.1-.3.3-.3 0-.4-.2-.3-.1-.3.3-.4.3-.3.1-.4-.1-.3-.2-.3-.1-.4 0-.3.1-.3.1-.4 0-.3-.2-.3-.1-.4 0-.3.1-.3 0-.4-.1-.3 0-.3.1-.4 0-.3-.1-.3-.1-.4.2-.3.4-.3.1-.4-.3-.3-.1-.3-.1-.4 0-.3.1-.3-.1-.4-.1-.3.1-.3.1-.4 0-.3 0-.4 0-.3 0-.3 0-.4-.1-.3-.1-.3.1-.4.2-.3.1-.3.1-.4-.3-.3-.3-.3.1-.4.2-.3-.1-.3-.2-.4.1-.3 0-.3.1-.4.1-.3.1-.3.2-.4-.1-.3 0-.3-.1-.4-.1-.3 0-.3.1-.4 0-.3.1-.3.2-.4-.1-.3-.2-.4-.2-.3.1-.3.1-.4.1-.3.1-.3-.1-.4-.1-.3.2-.3 0-.4-.2-.3.1-.3.2-.4-.1-.3 0-.3-.1-.4 0-.3.3-.3-.2-.4-.4-.3-.1-.3.2-.4.2-.3.1-.3 0-.4 0-.3-.2-.3-.1-.4.1-.3.4-.3-.1-.4 0-.3.3-.4-.1-.3-.3-.3 0-.4 0-.3.2-.3.2-.4-.1-.3-.1-.3-.2-.4-.1-.3.2-.3.4-.4.2-.3.1-.3-.1-.4-.3-.3-.3-.3-.1-.4.1-.3.2-.3.4-.4.1-.3.1-.3.1-.4-.3-.3 0-.3.3-.4.1-.3-.2-.3 0-.4.2-.3.1-.4-.2-.3-.2-.3 0-.4.1-.3.1-.3 0-.4 0-.3.2-.3.1-.4-.3-.3-.1-.3.3-.4.1-.3 0-.3.3-.4.2-.3.2-.3-.2-.4-.4-.3-.2-.3 0-.4.1-.3.3-.3 0-.4 0-.3.3-.3.1-.4-.4-.3-.1-.4.3-.3.2-.3-.1-.4 0-.3.1-.3-.1-.4-.2-.3 0-.3.2-.4.2-.3-.1-.3 0-.4 0-.3 0-.3-.1-.4 0-.3.3-.3 0-.4-.1-.3 0-.3-.1-.4 0-.3.1-.3.1-.4 0-.3.2-.3.3-.4.1-.3-.2-.3 0-.4.1-.3 0-.4.1-.3 0-.3-.1-.4 0-.3-.1-.3 0-.4.3-.3.2-.3-.2-.4-.1-.3.2-.3.1-.4-.2-.3 0-.3-.2-.4.2-.3.4-.3.2-.4-.2-.3.2-.3.5-.4.3-.3-.1-.3-.1-.4.1-.3.2-.3.1-.4.2-.3.3-.3.2-.4 0-.3 0-.4-.1-.3.1-.3.1-.4.2-.3.2-.3.3-.4.2-.3.3-.3.3-.4.1-.3.1-.3.2-.4.3-.3.5-.3.2-.4 0-.3.2-.3.4-.4.4-.3.2-.3 0-.4.3-.3.4-.3.5-.4.3-.3 0-.3-.1-.4.2-.3.2-.3.2-.4.4-.3.6-.4.2-.3 0-.3.2-.4 0-.3 0-.3.3-.4.1-.3.3-.3.3-.4.1-.3 0-.3.3-.4.3-.3.1-.3 0-.4.2-.3.2-.3.1-.4.2-.3.3-.3.3-.4 0-.3.1-.3.2-.4.3-.3.3-.3.1-.4.1-.3.2-.3.1-.4-.1-.3.1-.4.2-.3 0-.3.4-.4.4-.3 0-.3.1-.4.3-.3.4-.3 0-.4 0-.3.1-.3.2-.4.2-.3.1-.3-.1-.4.3-.3.1-.3 0-.4.2-.3.3-.3.2-.4-.2-.3 0-.3.4-.4.2-.3 0-.3.3-.4.1-.3-.1-.3 0-.4.3-.3.3-.4-.1-.3.2-.3.2-.4-.2-.3.1-.3.3-.4.1-.3 0-.3.2-.4.1-.3 0-.3 0-.4.1-.3-.1-.3.1-.4.4-.3.1-.3-.2-.4.2-.3.3-.3 0-.4-.1-.3.2-.3.2-.4 0-.3.2-.3 0-.4-.2-.3.1-.3 0-.4 0-.3-.1-.4-.1-.3-.1-.3-.1-.4 0-.3-.1-.3.1-.4.2-.3-.1-.3-.1-.4-.1-.3-.1-.3 0-.4-.1-.3-.1z" fill="#e0e0ff" stroke="#a8a8ff" stroke-width="0.7"/>
<path d="M204.9 296.2l.3-.1.4-.1.3 0 .3 0 .4-.2.3-.1.3-.1.4 0 .3-.1.3 0 .4-.2.3-.2.3 0 .4-.2.3-.2.4 0 .3 0 .3-.1.4 0 .3-.2.3-.1.4 0 .3.1.3 0 .4 0 .3-.3.3-.3.4.1.3.2.3-.2.4-.2.3.3.3.1.4-.2.3 0 .3.1.4-.2.3-.3.3-.1.4-.1.3-.3.3.1.4.1.3 0 .3-.1.4-.3.3 0 .4-.1.3-.2.3-.1.4.1.3.1.3-.2.4-.3.3-.4.3 0 .4.3.3.1.3-.2.4-.2.3-.2.3-.2.4 0 .3 0 .3 0 .4 0 .3-.4.3-.4.4 0 .3 0 .3-.1.4-.3.3-.2.3 0 .4-.1.3 0 .3.1.4-.2.3-.2.4-.1.3 0 .3-.1.4-.1.3-.1.3-.4.4-.2.3-.1.3-.1.4-.2.3-.2.3-.1.4-.1.3-.1.3-.2.4-.3.3-.2.3-.2.4 0 .3 0 .3 0 .4-.2.3-.3.3-.1.4-.2.3-.4.3 0 .4.2.3 0 .3-.1.4-.3.3-.1.4-.1.3-.3.3-.1.4-.1.3-.1.3-.2.4-.1.3.1.3-.4.4-.1.3.1.3.1.4.1.3-.2.3-.2.4 0 .3-.3.3-.4.4-.2.3.2.3.2.4-.2.3-.2.3.1.4-.1.3-.3.3-.2.4-.1.3 0 .3.1.4-.1.3-.2.4-.3.3-.1.3-.2.4-.1.3.2.3 0 .4-.3.3-.4.3.1.4.1.3-.4.3-.2.4 0 .3-.1.3.1.4.1.3-.3.3-.2.4-.1.3.1.3.1.4-.2.3-.3.3-.1.4.2.3.1.3-.3.4 0 .3.1.3 0 .4 0 .3-.2.4-.1.3-.1.3 0 .4.1.3-.2.3-.4.4-.1.3 0 .3.2.4.1.3 0 .3.1.4-.2.3-.2.3 0 .4-.3.3-.1.3.3.4.1.3 0 .3 0 .4-.1.3-.2.3-.1.4 0 .3 0 .3.1.4-.1.3.1.3 0 .4-.1.3-.3.4-.1.3.2.3.2.4.1.3-.2.3-.2.4 0 .3 0 .3-.1.4 0 .3 0 .3-.2.4.1.3.3.3-.1.4-.4.3-.1.3 0 .4.2.3.2.3-.1.4.1.3 0 .3-.2.4-.1.3 0 .3.1.4.1.3.2.4.1.3-.2.3-.2.4-.2.3 0 .3.2.4 0 .3 0 .3-.1.4 0 .3.2.3-.1.4-.1.3-.1.3-.2.4 0 .3.2.3-.1.4-.1.3.3.3.1.4.2.3-.2.3-.3.4.1.3.1.3-.2.4.1.3.1.3-.1.4-.2.3-.3.4.1.3.3.3.1.4-.2.3.1.3.1.4-.2.3-.3.3.2.4.3.3-.2.3-.1.4.1.3.1.3-.2.4-.1.3.1.3.1.4 0 .3-.1.3-.1.4-.1.3 0 .3.2.4.1.3-.1.3-.1.4.2.3 0 .3-.1.4.1.3.2.4-.1.3-.2.3-.1.4 0 .3.2.3.3.4 0 .3-.3.3 0 .4 0 .3-.2.3 0 .4 0 .3.1.3.1.4-.2.3-.2.3.1.4.3.3.1.3-.1.4-.1.3 0 .3.1.4 0 .3.1.3 0 .4.1.3-.1.3-.2.4-.1.3.1.4 0 .3 0 .3-.1.4.2.3-.1.3-.3.4-.1.3.4.3.2.4-.1.3-.1.3 0 .4-.2.3.1.3.2.4-.2.3-.2.3 0 .4.2.3 0 .3-.2.4 0 .3 0 .3.1.4.3.3-.1.3-.4.4-.1.3.2.3 0 .4-.1.3.1.4.3.3 0 .3-.1.4-.2.3-.1.3 0 .4.2.3-.1.3-.1.4.1.3 0 .3 0 .4.2.3 0 .3 0 .4-.1.3 0 .3-.1.4-.1.3.1.3.1.4-.2.3-.2.3.2.4.2.3-.1.3-.2.4.1.3.2.3-.2.4-.3.3 0 .4.1.3-.1.3.1.4.2.3 0 .3 0 .4.1.3.1.3.2.4 0 .3-.2.3-.2.4 0 .3-.2.3 0 .4 0 .3.1.3.1.4 0 .3 0 .3-.1.4-.1.3-.1.3 0 .4.1.3 0 .3.1.4.1.3 0 .3-.1.4-.2.3-.3.4.1.3.2.3 0 .4 0 .3 0 .3.1.4 0 .3.1.3 0 .4-.3.3-.3.3 0 .4 0 .3.1.3.5.4 0 .3-.3.3.2.4.2.3-.2.3-.1.4 0 .3 0 .3 0 .4-.1.3-.1.3 0 .4-.1.3.1.3 0 .4-.2.3 0 .4.2.3.2.3-.1.4-.2.3-.2.3-.1.4.2.3 0 .3 0 .4.3.3 0 .3 0 .4-.3.3-.3 0 2.3-.3.1-.4 0-.3-.1-.3 0-.4.1-.3 0-.3 0-.4.1-.3.2-.3-.1-.4 0-.3.1-.3-.1-.4-.2-.3-.1-.4.1-.3 0-.3-.1-.4.2-.3.1-.3-.2-.4-.1-.3.1-.3 0-.4 0-.3 0-.3-.1-.4.1-.3.2-.3 0-.4-.3-.3-.2-.3.3-.4.4-.3 0-.3 0-.4.2-.3 0-.3 0-.4-.3-.3-.2-.3.2-.4-.1-.3-.3-.3.1-.4.2-.3.2-.4-.1-.3-.1-.3.3-.4.1-.3-.2-.3-.1-.4.1-.3.1-.3-.2-.4-.1-.3.2-.3.3-.4.1-.3-.2-.3-.3-.4.1-.3.1-.3.1-.4-.1-.3.1-.3 0-.4-.2-.3 0-.3.3-.4.3-.3-.1-.3-.1-.4-.2-.3-.3-.3.1-.4.2-.3.3-.4 0-.3-.1-.3 0-.4 0-.3-.2-.3-.3-.4 0-.3.1-.3.1-.4.1-.3.1-.3.1-.4-.1-.3 0-.3.1-.4 0-.3-.3-.3.1-.4.3-.3 0-.3-.1-.4.1-.3.1-.3-.2-.4 0-.3.1-.3-.1-.4-.2-.3-.1-.3 0-.4.3-.3.2-.4 0-.3-.2-.3-.2-.4.1-.3.1-.3 0-.4.3-.3.2-.3 0-.4-.1-.3-.1-.3-.1-.4-.4-.3-.2-.3 0-.4 0-.3-.1-.3.1-.4.4-.3.2-.3 0-.4.1-.3 0-.3 0-.4-.2-.3-.1-.3 0-.4-.1-.3-.1-.3.3-.4.3-.3 0-.4-.1-.3-.3-.3.1-.4.1-.3 0-.3.1-.4-.1-.3 0-.3-.1-.4-.1-.3.1-.3 0-.4.1-.3.3-.3-.1-.4-.1-.3-.2-.3-.1-.4.1-.3.3-.3.2-.4-.2-.3-.1-.3 0-.4.1-.3-.2-.3-.1-.4 0-.3.1-.3.2-.4.1-.3-.1-.4 0-.3.2-.3 0-.4-.2-.3 0-.3-.3-.4-.2-.3.2-.3.2-.4 0-.3 0-.3 0-.4-.3-.3 0-.3.4-.4 0-.3-.3-.3 0-.4.1-.3.3-.3.3-.4-.2-.3-.4-.3.1-.4.1-.3 0-.3.2-.4-.2-.3 0-.3.3-.4 0-.3-.4-.4-.1-.3.2-.3.2-.4.1-.3.1-.3.1-.4-.3-.3-.2-.3.2-.4 0-.3-.2-.3 0-.4.1-.3.2-.3-.1-.4-.2-.3-.1-.3.1-.4.3-.3 0-.3-.1-.4-.1-.3 0-.3.3-.4.2-.3-.2-.3-.3-.4.1-.3 0-.3-.1-.4.1-.3 0-.4 0-.3.1-.3.3-.4 0-.3-.3-.3.1-.4.1-.3.1-.3.2-.4-.1-.3-.1-.3-.2-.4-.1-.3 0-.3.2-.4.1-.3.1-.3 0-.4-.3-.3 0-.3.3-.4.1-.3-.1-.3.1-.4 0-.3.1-.3.1-.4 0-.3 0-.4-.1-.3 0-.3-.1-.4.1-.3.1-.3.2-.4.1-.3.1-.3-.2-.4-.1-.3.1-.3.1-.4-.1-.3-.2-.3.1-.4.1-.3.1-.3 0-.4 0-.3.1-.3-.1-.4-.2-.3.2-.3.3-.4.2-.3 0-.3-.2-.4.1-.3.3-.3 0-.4-.1-.3 0-.4.1-.3 0-.3 0-.4 0-.3.1-.3.1-.4.1-.3-.2-.3 0-.4.2-.3.3-.3.1-.4.1-.3.3-.3.1-.4-.3-.3.1-.3.2-.4 0-.3.2-.3.3-.4.1-.3-.1-.3 0-.4.1-.3 0-.3.2-.4.1-.3.1-.3.5-.4.1-.3-.3-.4 0-.3.4-.3.3-.4.1-.3 0-.3.3-.4.2-.3-.1-.3-.1-.4 0-.3.1-.3.1-.4 0-.3.2-.3.1-.4.2-.3.2-.3.1-.4.1-.3.1-.3.2-.4.1-.3-.1-.3 0-.4.3-.3 0-.3-.1-.4.1-.3.2-.3 0-.4 0-.3.1-.4 0-.3.3-.3.4-.4.3-.3 0-.3 0-.4.2-.3.2-.3.3-.4.1-.3.2-.3.3-.4.1-.3-.1-.3.2-.4.3-.3.2-.3.1-.4 0-.3.3-.3.2-.4-.1-.3 0-.3.3-.4.2-.3.1-.3.1-.4.1-.3-.2-.3.2-.4.3-.3 0-.4.1-.3.2-.3.1-.4.2-.3.2-.3.2-.4.1-.3-.1-.3-.1-.4.2-.3.3-.3.2-.4 0-.3-.2-.3.3-.4.2-.3 0-.3.1-.4.2-.3 0-.3 0-.4.2-.3.2-.3.2-.4 0-.3 0-.3.1-.4 0-.3.1-.3.5-.4.2-.3-.3-.4-.1-.3.2-.3.1-.4 0-.3.1-.3.3-.4.3-.3-.1-.3-.1-.4.1-.3.2-.3-.1-.4-.1-.3.1-.3 0-.4.1-.3 0-.3 0-.4.1-.3.2-.3.1-.4-.1-.3.1-.3.1-.4.2-.3.1-.3-.1-.4-.2-.3.1-.3.1-.4-.1-.3 0-.4.1-.3-.1-.3.1-.4-.1-.3-.1-.3-.1-.4.1-.3.1-.3-.1-.4 0-.3-.1-.3 0-.4 0-.3-.1z" fill="#e3e3e3" stroke="#bdbdbd" stroke-width="0.7"/>
<path d="M204.9 296.2l.3-.1.4-.2.3-.4.3.2.4-.6.3.4.3-.2.4-.1.3-.1.3-.4.4-.5.3-.1.3.7.4-1.2.3 0 .4-.5.3-.1.3 0 .4.1.3-.5.3-.3.4-.3.3.2.3-1.1.4.7.3.5.3-1.5.4.3.3 1.5.3-2.5.4-.6.3.5.3 1.1.4-.1.3-2.2.3.8.4-.6.3-.6.3-1.1.4 1.6.3-1.4.3.4.4-.4.3.8.3-.7.4-1.7.3.3.4.5.3-1.7.3.3.4 0 .3-1.4.3 0 .4-.6.3.9.3-.8.4.6.3-.8.3 0 .4-.7.3.2.3-.9.4-.8.3 1 .3-.5.4.4.3-1.7.3-.6.4-.9.3-1.8.3 1.2.4.7.3-1.1.3-1.4.4 1.6.3-1.1.3-.2.4-.4.3-.1.4 0 .3-1.7.3.6.4-.5.3.7.3-1.6.4 1.2.3-.9.3.3.4-1.7.3.5.3-.6.4-1.4.3.4.3-.4.4-.7.3-.2.3-.7.4.3.3.1.3-.9.4-.8.3 1.2.3-1.1.4-.1.3-.4.3-.5.4.4.3-.9.3 0 .4-1.1.3-.4.4.6.3 1.1.3-1.3.4.9.3-1.2.3-.2.4-.8.3.1.3.9.4-.6.3-1.3.3-.1.4.9.3-1.3.3.6.4-1.3.3.8.3.3.4-.6.3-.5.3-.3.4-.3.3-.1.3.5.4-.1.3-.7.3-1.1.4.3.3.3.3-.3.4-1 .3 1 .4 1 .3-2.5.3.6.4.8.3-1.4.3-.1.4.2.3 0 .3-.7.4.7.3-1.9.3 1.4.4-.3.3-.4.3.2.4-.4.3.7.3-1.2.4.2.3-.9.3.1.4.4.3-.8.3.3.4-.3.3.4.3.4.4.4.3-1.8.3 1 .4.6.3.3.4-.1.3-1.7.3.5.4.6.3.2.3-.4.4-.1.3 0 .3-.7.4.6.3.3.3-.7.4.9.3-2.5.3 1.5.4 1.2.3-.5.3.3.4-.8.3-.8.3.3.4 1.2.3-2 .3.5.4-.5.3.7.3 0 .4.6.3-.9.3 1.5.4-.7.3-.7.4-.4.3-.3.3.9.4 1.1.3-1.3.3-.6.4.6.3-.4.3-.2.4-.7.3 1.1.3.9.4-.2.3-.2.3-.5.4.1.3.3.3-.7.4.1.3-.4.3.9.4-1.3.3.9.3.1.4-.1.3-.1.3-.8.4-.1.3.1.4 0 .3-.5.3.3.4-.1.3-.3.3.8.4-.7.3.5.3.7.4.1.3-1 .3.5.4-.5.3 1.2.3-.4.4-.4.3-.8.3-.1.4.4.3-.4.3-.1.4.5.3-1.2.3-.5.4.5.3-.1.3.6.4-.5.3.4.3-1.2.4 2.1.3-.7.4-.8.3.7.3.5.4-.3.3-.6.3.4.4.1.3-1.3.3-.1.4.4.3.9.3.3.4-.8.3.8.3-.4.4-.7.3-.4.3 0 .4.4.3.8.3-.4.4-1.3.3 0 .3 1.2.4-.4.3-.7.3.9.4.4.3-.4.3-.4.4.7.3-1.1.4-.1.3-.3.3 1.7.4.1.3-1.3.3.3.4-.1.3.3.3.1.4-.3.3-.5.3-.3.4-.3.3-1 .3 1.4.4-.4.3.5.3-.1.4-.6.3.3.3.5.4-.2.3-.7.3.1.4.7.3-.2.3 0 .4-.3.3.5.3-.4.4 1.4.3-1.8.4-.2.3 1.4.3-1.1.4-.4.3.7.3-1.7.4 1.6.3-.3.3.1.4-.6.3 1.2.3-.6.4-.3.3.2.3-.7.4.4.3-.9.3.2.4.8.3-.1.3.3.4-.9.3.3.3-.4.4.6.3.2.3.2.4-.4.3-.8.3.6.4-.8.3-.6.4 1.2.3-.1.3.4.4 0 .3-1.3.3.2.4.5.3 0 .3.2.4-1.1.3.6.3.5.4.7.3-1.9.3 1.7.4-1.2.3-.7.3 1.6.4-1.4.3-.1.3 1.1.4.1.3-.6.3-.5.4-.5.3 1 .3-1.5.4.5.3 1.5.3-.3.4.3.3-.5.4-.9.3.9.3-1.4.4 1.5.3.4.3-1.5.4 1.2.3-.6.3-.1.4-1.1.3 1 .3.6.4-1.5.3.7.3-.2.4-.5.3 1.6.3-.7.4 0 .3.6.3-1.1.4 2.4.3-2.3.3-.4.4 1.1.3-.2.3-.8.4 0 .3 1 .3-.3.4 0 .3.3.4-.9.3 1.1.3-.7.4.4.3-1 .3.9.4-.2.3 1.3.3-1.6.4 1 .3-.6.3.6.4-.9.3.2.3-1.6.4.5.3 1.4.3-.4.4.2.3-.6.3.6.4-.7.3.2.3.7.4-.1.3-.9.3.3.4.1.3-.3.3.1.4-.6.3.9.4-.9.3 0 .3 1.3.4.4.3 0 .3-.9.4-.6.3.8.3.5.4-.9.3-.3.3-.8.4 0 .3 2" fill="none" stroke="#ff0000" stroke-width="1.35" stroke-linejoin="round"/>
<path d="M204.9 296.2l.3 0 .4-.1.3.1.3-.1.4 0 .3.2.3-.7.4.9.3-1 .3.4.4.6.3-.2.3-.9.4 1.7.3-1 .4-1.1.3.7.3-.7.4.9.3-1.4.3 1.4.4-1.9.3 2.3.3-.8.4.9.3-1.8.3-1.1.4.5.3.8.3 1.7.4-1.1.3.5.3-1.8.4.2.3.1.3 1.1.4-1.5.3.1.3 1.5.4-2.1.3.6.3-1.2.4.8.3.7.3.2.4-2.2.3-1 .4 2.3.3.8.3-2 .4.7.3-.4.3-1.8.4-.6.3 2 .3.3.4-1.7.3.8.3-.5.4-.3.3-.4.3 1.9.4-1.1.3-.4.3-.3.4.5.3-.8.3.3.4-.9.3.8.3-.7.4.5.3-1.9.3.5.4-.5.3 2 .3-1.9.4.3.3-1.5.4.4.3-.7.3 1.1.4-.9.3 1.9.3-2.1.4 1.3.3-1.1.3.4.4-1.3.3.5.3-.2.4-.7.3.9.3-1.8.4.9.3-.2.3.1.4-1.2.3 1.3.3-1.4.4.1.3-.5.3.3.4.4.3 1.9.3-4.6.4 2.6.3-.2.3.3.4-1.1.3-.1.4.9.3-1.5.3-.2.4-.4.3.2.3.8.4-2.4.3 1.4.3-3.1.4 2 .3-1 .3 1.1.4-.6.3-.3.3-.4.4-.5.3-2.1.3 1.6.4-1.6.3 1.7.3-1.6.4.4.3-.7.3.3.4-.1.3.1.3-1.6.4 2.1.3-2.2.3.6.4-2.2.3 2.3.4.4.3 0 .3-.6.4-.2.3-1 .3.1.4 0 .3.2.3-1.1.4.5.3.6.3-.4.4-.3.3-.7.3.8.4-.1.3.9.3-1.2.4.7.3-1.9.3 2.4.4-2.5.3.9.3-.2.4-.2.3.1.3-.2.4.5.3.1.3.6.4.1.3.4.4-1.1.3-1 .3 2.4.4-1.4.3-2.5.3 2.6.4-.7.3-.5.3 0 .4.5.3-.7.3.8.4-.3.3 0 .3.5.4-.2.3 1 .3-.9.4-1.1.3.7.3 1.3.4 0 .3-2 .3 1.2.4-1 .3.2.3-1.1.4-.1.3 1.1.3.4.4.2.3-1.2.4.5.3.3.3-.3.4-2.1.3 1.4.3.9.4.3.3-1.2.3 1.5.4-3.2.3 3.3.3-1.6.4.5.3-.7.3-.3.4.7.3.3.3-1 .4 1.5.3-1 .3.3.4-.6.3 0 .3.4.4-1.1.3 1.6.3-1.6.4 1.4.3-1.3.4.7.3-.4.3 1.5.4.3.3-1.7.3.7.4-.2.3.3.3.3.4.6.3-1.5.3-1.5.4 2 .3-.9.3.1.4 1.1.3.3.3-1.2.4.9.3-.7.3.3.4-.8.3 1.2.3-1.6.4.5.3.7.3-1.6.4 1.1.3 0 .3.3.4.7.3-3.1.4 2.5.3-.5.3.6.4-.3.3-1.1.3 0 .4-.3.3 1.8.3-1.5.4.7.3-.5.3-1.4.4 1.3.3.2.3 1.3.4-1.4.3-.7.3.4.4 1.1.3-.2.3 0 .4.1.3-1.2.3 1.4.4-.5.3-1.9.3 1.1.4 1.6.3-1.5.3.1.4.3.3.1.4-.1.3.5.3-1.1.4-.6.3 1.2.3-.1.4.9.3.9.3-1.3.4.3.3.7.3-.7.4-.1.3-1.3.3.4.4-.3.3.3.3 1.1.4-.3.3-.5.3-1.8.4 2.2.3 0 .3-1.4.4 1 .3-.3.3.8.4-2.2.3.6.3 2.1.4-1.9.3.2.4.2.3.6.3.9.4-1.2.3.8.3-.3.4-.8.3 1.7.3-.5.4-1.1.3.2.3-.7.4-.6.3 1.3.3 1 .4-3.2.3 1.8.3 2.2.4-.4.3-2 .3.2.4 1.7.3-2 .3.8.4-.6.3 1.1.3-.2.4 1.3.3-2.3.3-.5.4 1 .3.5.4-.5.3 2.3.3-2.4.4.2.3.9.3.7.4-1.3.3.4.3-1.5.4.2.3 1 .3.4.4-.1.3-.1.3.3.4-.7.3-.3.3.1.4-.8.3.5.3-.1.4 1.1.3 1.6.3-1.4.4 1 .3-2.3.3.4.4.2.3 1.1.3.7.4-.9.3-.4.4-.2.3-.6.3.9.4-.1.3-.3.3-.7.4.8.3-.2.3-.6.4 1.6.3-1 .3.6.4-1.4.3.5.3-.2.4-.3.3 1 .3-.3.4-.8.3.5.3.5.4 0 .3 1.5.3-3.4.4 2.6.3-.1.3-.2.4-1 .3 0 .3-1 .4 2 .3-.8.4 0 .3 1.8.3-2.1.4.7.3.6.3-.6.4.4.3-.1.3 0 .4-1.2.3 0 .3 1.9.4-.5.3-.5.3-.4.4 1.7.3-1.5.3-.4.4 1.6.3-1.7.3.5.4.4.3-1 .3 1.2.4 0 .3.2.3-.6.4 1.4.3-1.2.3-.4.4.7.3-.7.4-1.5.3 2.9.3-2.4.4-.1.3 1.8.3-.8.4 1.4.3 0 .3 0 .4-1 .3.4.3-1.2.4 1.6.3-.7" fill="none" stroke="#0000ff" stroke-width="1.35" stroke-linejoin="round"/>
<path d="M204.9 296.2l.3 0 .4-.1.3-.3.3.3.4.2.3.1.3-.6.4 1.1.3-.1.3-1 .4 0 .3.6.3-.8.4.3.3.7.4 0 .3-1.4.3 0 .4-.1.3.4.3 0 .4-.4.3.9.3-.7.4-.1.3-1.6.3.4.4.5.3.8.3-1 .4 1.9.3-1.2.3 0 .4-.2.3.3.3.2.4-1.2.3 1.6.3-1.9.4.9.3-.6.3-.1.4.6.3-.4.3 1 .4-1.8.3.8.4-.1.3 1.2.3-.5.4-.8.3.7.3-.8.4-1.4.3.8.3.6.4-1.5.3 1.6.3-1 .4-.9.3.7.3-1.7.4.6.3-.4.3 1.2.4-1.4.3-.5.3 1.4.4-.8.3-.3.3 0 .4 1.2.3-.8.3-.8.4 2.7.3-2 .3 1 .4-.8.3.2.4-2 .3.2.3.8.4-.7.3 0 .3.7.4-2.8.3 1.4.3 1.4.4-1.8.3.3.3.1.4-.2.3-.1.3-1.2.4.9.3-.9.3 1.6.4-1.9.3.5.3-.5.4 1 .3-1 .3.3.4-1.1.3 0 .3-.6.4.5.3-.2.3-.8.4-.3.3 1 .4-.3.3-.6.3-.3.4-.2.3.8.3-.6.4-.2.3 0 .3 0 .4 0 .3.2.3-1.5.4 1.1.3-.9.3.6.4 1.2.3-2.6.3.4.4.5.3-1.5.3 3.6.4-2.5.3 1.7.3-1.4.4.9.3-.4.3-1 .4.5.3-1 .3 0 .4 1.5.3-2 .4-.1.3 2.6.3-2.4.4.4.3.9.3-1.8.4-.1.3 1.8.3-1.6.4.1.3-.6.3.6.4-1.8.3 1.3.3.6.4-.2.3-1.2.3.8.4 1.1.3-1.7.3.4.4-.9.3-1.1.3 1.9.4-1.4.3.1.3.6.4-.1.3-.2.3 1 .4-.9.3-.1.4-.9.3 1.5.3-1.8.4-.8.3 1.1.3 1.2.4-.4.3.7.3-.7.4-.1.3-.1.3-.8.4.1.3 0 .3.5.4-1 .3.4.3.5.4-.3.3-.2.3.1.4-.9.3-.1.3.4.4 1.4.3-.2.3-.4.4.2.3.1.3-2.5.4 1.4.3 1.1.4.7.3-1.2.3 1.2.4-.5.3-.8.3-1 .4 0 .3.8.3.2.4-.3.3.6.3-.1.4-.4.3.3.3-.2.4-1.7.3.5.3 1.2.4.4.3-.6.3-.3.4.4.3.2.3-.3.4-1.7.3 1.8.3.3.4-.5.3 1.7.4-2.9.3-.3.3 4.1.4-3.5.3-1.2.3 1.5.4 1.1.3-1.2.3.2.4.9.3 1 .3-1 .4-.3.3-.7.3 1 .4 1.6.3-3.1.3 0 .4.6.3.8.3-.1.4-.6.3-.3.3 1.5.4-.7.3.7.3-1.3.4 1.1.3-1.6.3 2.3.4-2 .3.1.4.6.3-.5.3-.3.4.8.3-.9.3 2.1.4-2.1.3 1.2.3-1.3.4-.8.3-.5.3 1.9.4-1.2.3 1.3.3-.8.4.6.3 0 .3 1.5.4-1.6.3-1 .3-.7.4 2.6.3-.7.3 1.1.4-2.5.3 1.2.3-.6.4 1.1.3-.7.3 1.4.4-1.4.3.1.4-.3.3.9.3.5.4-.5.3-.9.3-.4.4.1.3.9.3-.5.4.2.3 1 .3-.5.4-.2.3-.6.3.3.4-.1.3.3.3-.2.4.3.3-.7.3 1.5.4-.7.3-.1.3.5.4-1.6.3-.1.3-.2.4.6.3 1 .3-.3.4 1.1.3-2.4.4 1.5.3-1.4.3 0 .4 0 .3 2 .3-.9.4.9.3-.9.3.5.4-.1.3 0 .3-.4.4.7.3-.6.3-.1.4-.1.3-.5.3-.7.4.6.3 2 .3-1.3.4-1 .3.6.3 1 .4.7.3-3 .3.2.4-.4.3 1.2.3-.2.4 1.6.3-.4.4-1 .3 2.3.3-2.3.4.7.3.4.3-1.5.4.9.3.2.3-.4.4.7.3-.7.3-.4.4 1.2.3-1.1.3.8.4-.8.3.8.3-.3.4-1.1.3 1.3.3-.7.4 1.8.3-1.9.3 1.1.4-2.5.3 1.4.3-1 .4 1.4.3-.7.3 1.8.4-.6.3.7.4-2 .3-1 .3 1.7.4 1.2.3-.9.3 1.3.4-1.8.3-.3.3.9.4.5.3-1.2.3-.2.4-.1.3 2.2.3-3.3.4 2.6.3-1.1.3 1.4.4-.6.3-1.6.3 1.1.4-.6.3 0 .3-.7.4 2.1.3-2.6.3 1.8.4 1.4.3-1.2.3.8.4-.5.3.3.4-1.8.3.8.3.3.4-.2.3-1 .3 0 .4.8.3.3.3-.1.4-1.6.3.9.3 0 .4.7.3-1 .3.8.4-1.1.3.6.3.9.4.1.3-1.7.3 1.1.4-.6.3 2 .3-1.1.4-.3.3 1.4.3-3.9.4 1.7.3 1.2.3-.6.4.4.3-.8.4.2.3.5.3.7.4.8.3-2.7.3 1.3.4-2.1.3 1.3.3.7.4-1 .3.9.3-.4.4 1.5.3-1.3" fill="none" stroke="#000000" stroke-width="1.35" stroke-linejoin="round"/>
<path d="M204.9 296.2l.3-.1.4.3.3.2.3.1.4-.4.3.2.3-.1.4.7.3-.1.3-.3.4.4.3.5.3-.6.4-.9.3.7.4-.2.3-.9.3-.3.4 1.7.3-.9.3 1.2.4-.9.3 1.3.3.1.4-.3.3-1.3.3-.6.4 3.4.3-1.7.3 1.7.4-1.8.3-.7.3.9.4-.9.3 1 .3 1.4.4-.6.3 1.8.3-2.2.4 0 .3-1 .3 0 .4 1 .3-.9.3.5.4 0 .3-.6.4 2.8.3-3.4.3 1.7.4.7.3.2.3-1.2.4-.5.3 2.8.3-.1.4-1.6.3-.1.3.1.4-.9.3 1 .3 1 .4-.2.3-1.3.3 1.5.4-1.3.3-.5.3 1.7.4.3.3.8.3-1.8.4 1.6.3-.4.3-.1.4-.5.3.2.3.6.4-.1.3-1.2.4.5.3.5.3.9.4-.4.3-.4.3-.1.4 1.5.3-1.6.3-.2.4.3.3.7.3-.3.4-.4.3.1.3.8.4 0 .3-.1.3-1 .4.8.3 1 .3-1.5.4 2 .3-1.2.3.6.4-1.6.3 2 .3-1 .4.3.3.2.3.8.4-1.4.3.6.4-.3.3-1.4.3.4.4-.2.3 1 .3.4.4.2.3.4.3-.6.4-1.2.3 2.5.3-1.3.4-.6.3-.8.3 1.8.4-1.7.3 2.2.3-.8.4-1.6.3 1.1.3 1.9.4-3.1.3 1.2.3-1.3.4 1.8.3 1.4.3-1.5.4-.1.3-.1.3 0 .4 0 .3.8.4.4.3-2.8.3-.2.4 3 .3 0 .3-2 .4.9.3.6.3.3.4-.5.3.2.3-.4.4.8.3-.7.3-.1.4-.1.3-.3.3 1.2.4-.3.3 0 .3-.5.4.9.3-.4.3-1.1.4-1.1.3 1.6.3.3.4 1.8.3-.5.3-.5.4 1.3.3-2.4.4.7.3.5.3-.7.4-.1.3.5.3-.5.4 1.1.3-2.5.3 2 .4 1 .3-1.9.3-.2.4 1 .3-.3.3.4.4-.8.3.6.3.4.4-2.4.3 1.8.3.5.4-1.4.3-.1.3 1.8.4-1.3.3.8.3.4.4 0 .3-1.9.3 1.5.4-.7.3-1.2.4 2 .3.3.3-.9.4.8.3-.2.3-.1.4-1.7.3 2 .3-1.6.4-.1.3.6.3 1.6.4-.5.3.7.3-1.4.4.7.3-.8.3-.1.4.8.3-.4.3-1.4.4 1.9.3-.9.3 2 .4-1.5.3.2.3-1.5.4 2.1.3-.3.4-1.3.3.5.3-.8.4 2.6.3-2.5.3 1.9.4-1.8.3 2.8.3-.6.4-.6.3-.8.3-.4.4 1 .3-.2.3-1.2.4 1.8.3-.5.3-.7.4.2.3.5.3.1.4-.4.3 0 .3-1.5.4 2.9.3-1.5.3-.8.4 1.4.3-1.8.3 1.1.4-2.1.3 2 .4-.6.3.8.3.9.4.1.3-1.3.3 1.5.4.3.3-.6.3-1.8.4.5.3 1.3.3-2.1.4 2 .3-.7.3 1.8.4-1.8.3.5.3-.9.4-.7.3 1.1.3-.7.4 1.3.3 0 .3-.4.4-.4.3.2.3-.5.4.3.3.3.3.2.4-.6.3.4.4-1 .3 1 .3 1.4.4-1.3.3-.4.3-.1.4-.8.3 1.3.3.3.4-.4.3-.6.3.5.4-.4.3 1.3.3-1.3.4 1.1.3-1.2.3-.3.4.8.3 0 .3-.5.4 1.2.3-1.9.3 1 .4.2.3-.7.3.9.4-1.4.3 0 .3 1.3.4 0 .3.8.4-.6.3-.2.3 0 .4.2.3-1.4.3 1.5.4-.6.3.6.3-1.6.4 1.9.3.3.3-.7.4 1.5.3-3 .3.7.4.4.3.5.3-.4.4.3.3.2.3-1 .4 1.5.3 0 .3-1.5.4-.2.3.2.3-.3.4.9.3-.2.3.5.4-1.4.3.9.4.1.3.2.3.1.4 0 .3-.3.3-1 .4.8.3 1.5.3-.6.4-.2.3-1.8.3 1.7.4.2.3-.8.3-1.1.4 2.3.3-1.6.3.6.4.6.3.1.3-.2.4-2.4.3 1.6.3-.6.4.8.3-.6.3 2 .4-2.6.3 2.1.3-1 .4.5.3-.6.4-.1.3-.4.3 1.8.4-1 .3-.3.3.5.4-.1.3-.5.3.5.4.2.3 1 .3-2.3.4-.8.3 1.3.3 1.9.4-1.1.3-.5.3-.2.4-.9.3 2.3.3-.3.4.5.3-2.1.3 1.9.4-.4.3-.2.3-1.4.4.9.3-.6.3.6.4-1.4.3.4.4.6.3-1.3.3 1.8.4.4.3-1 .3.2.4.1.3.9.3-.2.4.2.3-.4.3-.2.4.4.3.4.3.9.4-1.1.3-1.2.3 0 .4-.3.3.9.3.2.4-1.1.3.3.3.7.4.5.3-.9.3 1.8.4-1.3.3-.1.3-1.2.4 1.6.3-1.1.4.2.3-1.3.3 2.3.4.7.3-1.5.3-.4.4.3.3-.4.3.9.4-.1.3-.6.3-.8.4.6.3.2" fill="none" stroke="#00a651" stroke-width="1.35" stroke-linejoin="round"/>
<rect x="204.9" y="228.7" width="158.5" height="84.4" fill="none" stroke="#8a8a8a" stroke-width="1"/>
<text x="201.3" y="230.9" font-size="4.9" text-anchor="end" class="t">2</text>
<text x="201.3" y="247.8" font-size="4.9" text-anchor="end" class="t">1.5</text>
<text x="201.3" y="264.7" font-size="4.9" text-anchor="end" class="t">1</text>
<text x="201.3" y="281.5" font-size="4.9" text-anchor="end" class="t">0.5</text>
<text x="201.3" y="298.4" font-size="4.9" text-anchor="end" class="t">0</text>
<text x="201.3" y="315.3" font-size="4.9" text-anchor="end" class="t">-0.5</text>
<text x="204.9" y="320.7" font-size="4.9" text-anchor="middle" class="t">0</text>
<text x="231.3" y="320.7" font-size="4.9" text-anchor="middle" class="t">5</text>
<text x="257.7" y="320.7" font-size="4.9" text-anchor="middle" class="t">10</text>
<text x="284.1" y="320.7" font-size="4.9" text-anchor="middle" class="t">15</text>
<text x="310.6" y="320.7" font-size="4.9" text-anchor="middle" class="t">20</text>
<text x="337.0" y="320.7" font-size="4.9" text-anchor="middle" class="t">25</text>
<text x="363.4" y="320.7" font-size="4.9" text-anchor="middle" class="t">30</text>
<text x="284.1" y="328.5" font-size="5.3" text-anchor="middle" class="t">Time [s]</text>
<text transform="translate(190.3,270.9) rotate(-90)" font-size="5.5" text-anchor="middle" class="t">Force [N]</text>
<rect x="204.9" y="228.7" width="10.6" height="10.1" fill="#fff" stroke="#5c6068" stroke-width="0.8"/>
<text x="210.2" y="237.4" font-size="9.4" text-anchor="middle" class="L">H</text>
<rect x="306.6" y="228.7" width="56.2" height="13.4" fill="#fff" stroke="#7a7a7a" stroke-width="0.8"/>
<line x1="312.0" y1="232.1" x2="322.4" y2="232.1" stroke="#ff5a5a" stroke-width="1.5"/>
<text x="323.2" y="233.8" font-size="4.8" class="t2">S1</text>
<line x1="340.0" y1="232.1" x2="350.4" y2="232.1" stroke="#5a5aff" stroke-width="1.5"/>
<text x="351.2" y="233.8" font-size="4.8" class="t2">S2</text>
<line x1="312.0" y1="239.0" x2="322.4" y2="239.0" stroke="#505050" stroke-width="1.5"/>
<text x="323.2" y="240.7" font-size="4.8" class="t2">S3</text>
<line x1="340.0" y1="239.0" x2="350.4" y2="239.0" stroke="#3fbf7f" stroke-width="1.5"/>
<text x="351.2" y="240.7" font-size="4.8" class="t2">S4</text>
<path d="M387.5 289.9l.3 0 .4-.1.3-.2.3 0 .4 0 .3-.1.3.1.4.2.3-.5.3-.7.4 0 .3.3.3-.1.4.2.3 0 .3-.3.4.1.3.3.3-.2.4-.5.3-.1.3 0 .4-.1.3.8.4.7.3-.5.3-.7.4-.6.3-.3.3.1.4.1.3.1.3.1.4.1.3 0 .3-.2.4-.4.3.3.3.4.4-.4.3-.7.3-.4.4-.4.3-.2.3-.3.4 0 .3.1.3 0 .4.2.3-.7.3-.6.4.4.3-.8.3-1.1.4-.2.3-.1.3-.1.4 0 .3.1.3-.6.4-1.1.3-.8.3.1.4.5.3-.1.3-.2.4-.2.3-.4.3 0 .4-.3.3-.2.4 0 .3-.4.3 0 .4.4.3 0 .3-.9.4-.6.3-.4.3-.2.4.1.3-.4.3-.5.4-.3.3-.9.3-.1.4.9.3-.2.3-1.4.4.2.3.4.3-.6.4-.3.3.2.3-.2.4-1 .3-.8.3.2.4.2.3-.5.3-.5.4-.2.3-.2.3-.1.4.2.3.1.3-.5.4-1.1.3-.4.3.4.4.1.3.2.3 0 .4-.9.3-.7.3.4.4.8.3.4.4-.6.3-1.3.3-.3.4.4.3-.5.3-.3.4.4.3.1.3-.1.4-.1.3.1.3-.5.4-1.2.3-.2.3.7.4.7.3-.1.3-1.2.4-.3.3.5.3.1.4-.5.3-.2.3.1.4-.2.3-.3.3-.2.4.2.3.4.3-.1.4.4.3.1.3-.8.4-1.4.3-1.3.3 0 .4.8.3-.2.3-.3.4.4.3.1.3-.1.4.6.3.7.3-.3.4-1.2.3-.8.4.5.3.2.3-1.3.4-.8.3 1.1.3 1.4.4-.6.3-1.1.3.1.4.2.3-.8.3-.6.4.2.3.2.3.3.4 1 .3.4.3-1 .4-1.3.3-.3.3.5.4 0 .3-.1.3 0 .4-.6.3-.3.3.1.4.3.3.5.3.7.4.4.3.1.3-.6.4-.7.3-.2.3.3.4 0 .3-.1.3.9.4.2.3-.7.3-.5.4-.3.3.1.3-.1.4.1.3.2.4-.6.3-.2.3.2.4-.2.3.1.3.4.4.1.3 0 .3-.1.4-.1.3-.5.3-1.1.4.3.3 1.3.3-.3.4-1.1.3.3.3.2.4-.1.3.7.3.5.4-.1.3-.7.3-.8.4-.1.3-.2.3-.1.4.7.3-.1.3-.3.4.8.3-.3.3-.3.4 0 .3-.9.3.1.4.8.3.5.3.1.4-.4.3.2.3.2.4-1 .3-.5.4.8.3.1.3-.4.4.2.3.4.3.1.4.1.3.2.3 0 .4 0 .3-.4.3-.3.4-.3.3-.3.3-.1.4.2.3-.1.3-.7.4 0 .3.1.3-.1.4.8.3.4.3-.5.4-.1.3-.1.3-.2.4-.2.3.2.3.1.4-.5.3 0 .3.1.4-.4.3.4.3.4.4-.5.3.1.3.5.4-.2.3-.5.3.2.4 0 .3-.5.3.2.4.2.3-.4.4-.1.3.4.3 0 .4-.1.3.7.3.2.4 0 .3.3.3 0 .4-.1.3-.4.3-.3.4.4.3.4.3-.3.4-.5.3-.3.3-.3.4-.2.3.3.3.4.4.2.3-.1.3.4.4.1.3-.4.3-.1.4-.4.3-.4.3.1.4.3.3.5.3-.1.4-.7.3.1.3.6.4-.2.3-.8.3-.2.4.4.3-.1.3 0 .4.5.3 0 .3-.2.4 0 .3.1.4-.2.3-.1.3.3.4.1.3-.7.3-.8.4.3.3.3.3.2.4.8.3-.4.3-.4.4.7.3-.2.3-1 .4-.2.3.4.3-.4.4 0 .3.7.3.3.4.1.3-.3.3-.7.4-.1.3.7.3.6.4-.3.3-.9.3-.6.4.5.3.7.3.1.4-.4.3-.4.3.8.4.4.3-.9.3-.9.4.1.3.5.3 0 .4-.1.3.4.3-.7.4-.4.3.4.4-.4.3 0 .3.1.4-1.2.3-.1.3 1.6.4.7.3-.5.3-.4.4-.6.3-1 .3-.1.4 1.3.3.7.3-.4.4.2.3.1.3-.4.4.1.3-.3.3-1 .4.4.3 1.1.3-.1.4-.6.3-.5.3.1.4 1.1.3-.3.3-1.1.4-.1.3.2.3.5.4-.3.3-1.1.3 0 .4.5.3.7.3.5.4-.7.3-.7.3.6.4.4.3-.4.3-.3.4-.6.3-.4.4.5.3.7.3 0 .4-.2.3-.3.3.1.4.6.3.2.3-.9.4-1.2.3.2.3 1 .4-.2.3-.8.3-.4.4-.1.3.3.3.5.4.3.3.1.3-.1.4.6.3.3 0 8.5-.3.2-.4-.8-.3-.3-.3.1-.4-.4-.3.4-.3.3-.4-.1-.3.7-.3.2-.4-.6-.3-.5-.3.4-.4.5-.3 0-.3-.2-.4-.1-.3.2-.3.2-.4-.1-.3-.2-.3-.1-.4-.1-.3.3-.4.7-.3.6-.3 0-.4-.5-.3.1-.3-.3-.4-.6-.3.5-.3.5-.4.3-.3.6-.3-.5-.4-.6-.3.2-.3.1-.4.1-.3-.1-.3-.2-.4-.1-.3.1-.3.3-.4-.2-.3 0-.3.4-.4-.3-.3.3-.3 1-.4-.8-.3-.9-.3.5-.4.8-.3-.1-.3-.9-.4.1-.3.5-.3.2-.4 0-.3.3-.3.1-.4-.7-.3-.9-.3.1-.4 1.2-.3 1.2-.3-.2-.4-.9-.3 0-.4.1-.3-.6-.3-.1-.4.3-.3.1-.3.1-.4 0-.3-.2-.3.3-.4.3-.3-.1-.3-.4-.4.2-.3.5-.3.4-.4-.1-.3-.7-.3.3-.4.6-.3-.5-.3 0-.4.3-.3-.1-.3.1-.4.2-.3.2-.3.3-.4.2-.3-.3-.3-.7-.4-.8-.3 0-.3.8-.4.5-.3-.2-.3 0-.4.8-.3.4-.3 0-.4-.6-.3-.6-.3-.1-.4-.3-.3.1-.3.6-.4-.3-.3-.6-.4.8-.3.5-.3-.4-.4-.1-.3.6-.3-.1-.4-1.1-.3-.4-.3.4-.4.6-.3.9-.3.6-.4-.9-.3-1-.3 0-.4.4-.3.6-.3-.2-.4.2-.3.1-.3-.9-.4.6-.3 1.4-.3.4-.4-.6-.3-.4-.3 0-.4.1-.3.3-.3-.4-.4-.8-.3-.6-.3.3-.4.6-.3.6-.3.4-.4-.1-.3-.3-.3-.1-.4-.1-.3-.3-.3 0-.4-.1-.3.7-.3.6-.4-.6-.3-.7-.4-.2-.3.4-.3.7-.4.3-.3 0-.3-.2-.4-.6-.3.4-.3.8-.4-.4-.3-.8-.3-.7-.4-.7-.3.5-.3 1.1-.4-.3-.3-.7-.3.9-.4.7-.3-.6-.3.2-.4.6-.3 0-.3-.1-.4-.1-.3.1-.3 0-.4-.2-.3-.5-.3-.4-.4.2-.3.7-.3.5-.4-.6-.3-.2-.3.4-.4-.2-.3-.3-.3.3-.4.6-.3 0-.3-.4-.4-.1-.3.4-.3.3-.4 0-.3.3-.4-.1-.3-.7-.3.1-.4.5-.3.2-.3-.5-.4-.8-.3 0-.3.7-.4.5-.3-.5-.3-.4-.4.1-.3 0-.3 0-.4.2-.3.4-.3.3-.4-.4-.3-.3-.3.2-.4.2-.3.6-.3.9-.4-.1-.3-.6-.3-.3-.4-.3-.3.3-.3.1-.4.2-.3.8-.3.3-.4-.9-.3-.7-.3.2-.4.7-.3 0-.3-.4-.4.1-.3.2-.3.5-.4-.1-.3-.4-.4.1-.3-.1-.3.1-.4.2-.3-.3-.3-.3-.4.3-.3.1-.3.2-.4.9-.3.2-.3.1-.4.4-.3.1-.3-.4-.4-.5-.3-.6-.3-.2-.4.4-.3-.4-.3-.8-.4.5-.3 1.5-.3.6-.4-.5-.3-.3-.3-.2-.4 0-.3.2-.3-.4-.4-.1-.3.9-.3.9-.4-.4-.3-.7-.3-.2-.4.4-.3.4-.3.1-.4-.1-.3-.2-.3.3-.4.9-.3-.2-.3-.5-.4.5-.3-.1-.4-.3-.3.5-.3-.1-.4-.1-.3.6-.3.3-.4-.5-.3-.1-.3 1.3-.4 1.1-.3-.8-.3-.9-.4.9-.3 1.1-.3-.3-.4-.7-.3-.5-.3.1-.4.8-.3.4-.3-.2-.4-.1-.3.2-.3.3-.4-.1-.3-.1-.3.2-.4.6-.3.2-.3-.3-.4.3-.3 0-.3-.2-.4.2-.3.6-.3.3-.4-.1-.3-.1-.3.3-.4.7-.3.6-.3.4-.4 0-.3-.7-.3 0-.4.8-.3.3-.4 0-.3-.1-.3 0-.4.5-.3.5-.3 0-.4.1-.3.1-.3-.1-.4-.3-.3.3-.3.9-.4.7-.3-.4-.3-.8-.4.1-.3.7-.3.2-.4.1-.3 1.1-.3.8-.4 0-.3.1-.3-.2-.4-.6-.3 0-.3.7-.4 1.2-.3 1.1-.3.2-.4-.7-.3-.3-.3.5-.4.2-.3.4-.3.4-.4.3-.3.2-.3-.5-.4.1-.3 1.2-.3 1.4-.4.4-.3-.3-.3 1-.4.7-.3-.5-.4-.7-.3-.4-.3.2-.4.2-.3 0-.3.4-.4.3-.3.2-.3.1-.4.1-.3.1-.3.2-.4.5-.3.7-.3.2-.4 0-.3-.1-.3-.1-.4-.3-.3.2-.3.4-.4-.4-.3-.2-.3.3-.4.2-.3-.1-.3 0-.4.7-.3-.2-.3-.8-.4.2-.3.3-.3.8-.4 1-.3-.5-.3-.8-.4.2-.3-.2-.3-.5-.4.2-.3-.5-.3-.5-.4.2-.3-.8-.3-.8-.4.8-.3 1-.4.3-.3-.4-.3-.9-.4 0-.3.7-.3-.1-.4-.4-.3 0-.3.3-.4.3-.3-.2-.3-.3-.4-.3-.3.1-.3-.2-.4-.8-.3-.4-.3.1-.4 0-.3 0-.3 0-.4 0-.3-.2z" fill="#ffeaea" stroke="#ffc4c4" stroke-width="0.7"/>
<path d="M387.5 289.9l.3-.1.4-.1.3-.3.3-.1.4.2.3.1.3.2.4-.2.3-.5.3 0 .4-.1.3-.5.3.1.4.3.3-.1.3-.4.4 0 .3-.1.3-.3.4-.6.3-.3.3.6.4.1.3-.5.4.1.3.7.3.1.4-.2.3-.4.3-.3.4.6.3-.2.3-.7.4-.1.3 0 .3-.2.4-.2.3-.1.3-.2.4.2.3.3.3-.4.4-.2.3.4.3.2.4-.5.3-.3.3.5.4.5.3-.2.3-.2.4.3.3 0 .3-.9.4-.1.3.8.3.5.4 0 .3-.8.3-.9.4.1.3.4.3.2.4 0 .3-.3.3 0 .4.2.3.1.3 0 .4.4.3.9.4.1.3-1 .3-.6.4.2.3 0 .3-.1.4.2.3-.2.3-.5.4.1.3.6.3.5.4-.2.3.3.3 0 .4-.5.3.2.3 0 .4-.1.3-.1.3-.4.4-.6.3-.2.3.4.4.3.3.4.3-.1.4-.6.3 0 .3-.3.4.1.3.7.3-.1.4-.1.3.1.3.1.4.2.3 0 .3-.6.4-.3.3.7.3.5.4-.4.3-.5.3.1.4.5.3.6.4.4.3-.1.3-.6.4-.4.3.3.3-.2.4-.6.3-.1.3 0 .4 0 .3-.4.3-.4.4-.4.3 0 .3 1.2.4 1.1.3.3.3-.1.4-.6.3-.8.3-.2.4.3.3-.2.3-.6.4-.5.3.3.3.6.4-.1.3-.1.3.6.4.4.3-.5.3-.4.4.7.3.1.3-.1.4-.3.3-.5.3-.4.4-.6.3.2.3.4.4.1.3.1.3-.7.4-1 .3.1.4.5.3.3.3-.2.4-.4.3.1.3 1.1.4.9.3-.3.3-.8.4-.1.3.2.3.1.4-.3.3-.4.3 0 .4-.2.3-.2.3.6.4.5.3-.5.3-.8.4.6.3 1 .3-.1.4-.5.3-.4.3.1.4.5.3.3.3-.1.4-.6.3-.7.3.3.4.1.3-1 .3.3.4.8.3-.3.3-.2.4.3.3.5.3.1.4.1.3-.1.3-.6.4-.6.3-.2.4-.1.3.6.3.3.4-.7.3-.5.3-.2.4.4.3.8.3.2.4-.6.3-.6.3.8.4 1.2.3-.3.3-1.2.4-.4.3.5.3 0 .4-.1.3.5.3.4.4-.3.3-.3.3 0 .4.2.3-.3.3-1 .4-.3.3.3.3-.1.4.2.3.9.3.5.4-.2.3-.4.3-.1.4-.3.3-.3.3-.2.4-.1.3.4.3 0 .4-.1.3-.1.4-.5.3-.1.3.6.4-.1.3-.6.3.1.4-.2.3.4.3.8.4-.3.3 0 .3.5.4-.7.3-.6.3.9.4.4.3-.2.3 0 .4-.2.3-.1.3.7.4.2.3-.8.3.1.4.4.3-.4.3.2.4.4.3-.3.3-.4.4 0 .3.6.3.2.4-.3.3-.2.3-.3.4-.4.3 0 .3-.1.4.4.3.5.3.2.4.1.3-.4.3-1 .4 0 .3 1 .4.3.3-.9.3-.8.4.4.3.8.3.1.4-.3.3-.3.3-.2.4.4.3.7.3.1.4-.4.3-.2.3.3.4.3.3-.7.3-.5.4.1.3-.1.3.1.4.5.3-.1.3-.1.4.8.3.1.3-.6.4-.4.3.5.3.6.4-.2.3-.7.3-.8.4.1.3.4.3.1.4-.1.3-.3.3.4.4.8.3 0 .3-.8.4-.6.3.1.3.7.4.3.3-.7.4-.2.3.5.3 0 .4-.3.3.1.3-.2.4 0 .3.2.3.1.4.2.3.7.3.3.4-.2.3-.5.3-.4.4 0 .3-.1.3.1.4-.2.3-.5.3.2.4.3.3-.6.3-.4.4.6.3.8.3.4.4-.4.3-.2.3.1.4-.2.3-.2.3.1.4.2.3.2.3-.2.4.2.3.5.3-.5.4-.7.3.4.3.2.4-.4.3-.2.3.1.4-.1.3 0 .4.7.3.3.3-.2.4 0 .3.2.3.3.4.1.3 0 .3.1.4-.3.3-.7.3-.8.4.1.3.7.3.3.4.1.3 0 .3 0 .4.3.3-.3.3-.3.4.4.3.3.3-.7.4-.6.3.4.3 0 .4-.3.3 0 .3.3.4.4.3 0 .3.1.4 0 .3-.3.3-.2.4-.4.3 0 .3.4.4.1.3.2.3.4.4 0 .3-.2.3-.7.4-.3.3.4.4.6.3.3.3 0 .4-.8.3-.5.3.1.4.7.3.5.3-.6.4-.4.3 0 .3-.1.4.5.3.3.3-.3.4-.3.3 0 .3.4.4.3.3-.5.3-.2.4.5.3.1 0 6.3-.3.5-.4.7-.3.1-.3-1-.4-.8-.3.3-.3.3-.4.4-.3-.1-.3-.5-.4.1-.3.2-.3.1-.4.4-.3.3-.3-.2-.4-.6-.3-.5-.3 0-.4.4-.3.3-.3-.1-.4 0-.3.1-.4-.1-.3.1-.3-.3-.4-.5-.3-.4-.3.5-.4.6-.3-.7-.3-.2-.4.8-.3.2-.3.3-.4.7-.3-.3-.3-.7-.4.4-.3.2-.3-.7-.4-.6-.3-.1-.3.6-.4 1.5-.3.2-.3-.7-.4-.2-.3-.5-.3-.8-.4.1-.3.4-.3.2-.4 0-.3.2-.3-.3-.4-.7-.3-.2-.3.6-.4.5-.3.4-.3-.2-.4-.5-.3.4-.3 0-.4-.2-.3-.2-.3-.2-.4.5-.3.3-.4-.2-.3.4-.3.2-.4-.5-.3-.4-.3.4-.4.4-.3.1-.3.3-.4-.2-.3-1.1-.3-.4-.4.5-.3.5-.3-.1-.4-.7-.3-.4-.3.4-.4.7-.3.2-.3-.9-.4-1-.3.1-.3.5-.4.1-.3 0-.3.7-.4.2-.3-.7-.3-.1-.4.7-.3.8-.3.2-.4-.4-.3-.2-.3-.2-.4-.4-.3.2-.3.4-.4-.5-.3-.8-.3.6-.4 1.1-.3-.2-.3-.1-.4.2-.3-.7-.4-.6-.3-.1-.3.4-.4.1-.3-.5-.3.1-.4.3-.3 0-.3.1-.4.6-.3-.1-.3-.2-.4-.1-.3-.2-.3-.4-.4.1-.3 0-.3-.1-.4.4-.3.1-.3.1-.4 0-.3.1-.3.1-.4-.3-.3 0-.3.4-.4.3-.3-.9-.3-.8-.4-.1-.3 0-.3.1-.4.4-.3.3-.3-.1-.4 0-.3 0-.3.4-.4.6-.3.1-.3-.1-.4-.3-.3 0-.3 0-.4-.7-.3-.3-.4.4-.3.3-.3.1-.4-.3-.3 0-.3.3-.4-.1-.3-.3-.3.2-.4.3-.3.3-.3.1-.4-.3-.3-.4-.3-.4-.4.1-.3.4-.3.6-.4.4-.3-.5-.3-.5-.4-.1-.3.6-.3.3-.4-.5-.3-.4-.3.1-.4-.9-.3-.6-.3.7-.4.6-.3.4-.3-.3-.4-.5-.3 0-.3-.1-.4.1-.3-.1-.3 0-.4.7-.3.7-.3.3-.4-.5-.3-.5-.3-.1-.4.2-.3.3-.4-.2-.3 0-.3.1-.4.2-.3.5-.3-.1-.4-.1-.3.3-.3-.2-.4-.5-.3.1-.3-.2-.4-.6-.3 0-.3.2-.4.2-.3.6-.3.2-.4-.1-.3.2-.3.6-.4-.3-.3-.8-.3.1-.4.3-.3-.4-.3-.4-.4-.3-.3-.3-.3.3-.4.8-.3.3-.3-.1-.4.7-.3.7-.3-.2-.4-.4-.3.1-.3-.4-.4-.7-.3.2-.3 0-.4 0-.3.7-.4.1-.3-.7-.3 0-.4.6-.3-.1-.3-.2-.4.1-.3.4-.3.3-.4-.3-.3.1-.3-.1-.4-.8-.3-.3-.3 1-.4.7-.3-.2-.3.3-.4.1-.3-1-.3-.7-.4 0-.3.5-.3.8-.4.6-.3-.2-.3-.7-.4-.3-.3.1-.3.1-.4.5-.3.3-.3.6-.4.3-.3-.6-.3-.7-.4 0-.3 0-.3.2-.4.3-.3 0-.3-.4-.4-.6-.3-.1-.3.3-.4.2-.3.3-.4.7-.3-.1-.3-.1-.4.5-.3.3-.3-.3-.4-.6-.3-.1-.3-.1-.4-.5-.3.1-.3.1-.4 0-.3.8-.3.3-.4-.2-.3-.5-.3-.8-.4.2-.3.4-.3.4-.4.7-.3.3-.3-.3-.4-.1-.3-.1-.3.1-.4-.1-.3-.4-.3 0-.4.1-.3.2-.3.1-.4-.1-.3.2-.3-.4-.4-.3-.3.5-.3.5-.4.4-.3 0-.3 0-.4 0-.3-.7-.3.1-.4.6-.3 0-.4-.4-.3 0-.3.2-.4-.7-.3-.7-.3.2-.4 0-.3.3-.3.8-.4.7-.3-.3-.3-.4-.4.3-.3.4-.3-.5-.4-.4-.3.3-.3.3-.4.2-.3-.1-.3-.3-.4 0-.3.1-.3-.5-.4-.5-.3.4-.3.9-.4.3-.3-.4-.3-.3-.4-.3-.3-.2-.3-.1-.4-.3-.3-.5-.3 0-.4-.1-.3-.1-.3 1.2-.4.7-.3-.8-.3-.1-.4.9-.3.8-.3.5-.4.1-.3-1.1-.4-.4-.3.6-.3.3-.4-.2-.3.3-.3 0-.4-.6-.3 0-.3 0-.4-.3-.3-.2-.3 0-.4.5-.3-.3-.3.1-.4.1-.3-.4-.3.1-.4.3-.3.5-.3.2-.4-.6-.3-.7-.3 0-.4-.1-.3 0-.3.7-.4-.3-.3-1-.3-.3-.4.4-.3.3-.3.4-.4.1-.3-.6-.3-.5-.4-.2-.3-.2-.3-.2-.4.3-.3.5-.3.7-.4-.1-.3-1-.3-.6-.4.5-.3 0-.4-.2-.3.3-.3-.2-.4-.2-.3 0-.3.1-.4-.1-.3-.3-.3-.1-.4-.2-.3-.1-.3.1-.4 0-.3-.3-.3-.1-.4 0-.3-.4-.3 0-.4 0-.3 0-.3-.1-.4-.2-.3-.1z" fill="#ececff" stroke="#cacaff" stroke-width="0.7"/>
<path d="M387.5 289.9l.3.1.4.1.3-.4.3.6.4-.3.3 0 .3.8.4-1 .3-.7.3.6.4-.7.3-.8.3 1.8.4.7.3-3.4.3 3 .4.3.3-.1.3-2 .4 1.4.3.1.3.9.4-2.4.3 2.3.4.9.3-4.6.3 3.5.4-2.4.3 1.9.3-.7.4 2.7.3-1.7.3 1 .4-2.6.3 2.1.3 1.3.4-3 .3 1.8.3-.3.4-.8.3-1.8.3 2 .4-.9.3 1.1.3.1.4.9.3-3.4.3 2.2.4-.4.3-1 .3.5.4-.8.3.5.3-.5.4-1.6.3.8.3.6.4-2.3.3.4.3 2.2.4-1.6.3-1.5.3-.1.4 2.6.3-1.5.3-3.5.4 3.2.3-2.1.3.8.4-2.3.3 1.7.4-.9.3-.9.3 2.7.4 2 .3-2.9.3-.8.4-2.3.3 1.1.3-.8.4-1.9.3 3.1.3-1.1.4-1.2.3-1.4.3 2.5.4 1 .3-2.1.3-1.1.4 1.3.3-2.5.3-1.9.4 5.2.3-.3.3-3.1.4.3.3 2 .3-4.1.4 1.5.3.8.3 1 .4-3.8.3-.2.3 1.2.4-1.3.3 2.8.3-3.4.4 1.1.3-.2.3-.7.4-2.2.3 4 .3-1.7.4.5.3-.3.3-1.8.4.1.3-.2.4 2.1.3-2.5.3-2.6.4 2.6.3-1 .3 2.4.4-2.4.3 1.4.3-.8.4.2.3-1.7.3.5.4.4.3.6.3-.2.4-2.3.3 1 .3 1.7.4-.5.3-1.9.3-.1.4 2.8.3-1.3.3-3.5.4 5.2.3-2.1.3-.7.4-1.2.3-1 .3.5.4-.3.3-.6.3-1.4.4 4.7.3-.2.3-1.2.4-.7.3-1.2.3.1.4.4.3-1.3.3 1.6.4-.6.3-.5.3.6.4-.3.3 1.1.4-1.8.3-1.1.3 1.7.4 1.3.3.6.3-1.4.4-3.1.3.6.3-1.2.4 2.2.3-.5.3-1.2.4 3.5.3-1 .3-1.9.4 1.7.3-4.1.3 3.4.4-.5.3 2.9.3-1.3.4-1.1.3-1.3.3-.2.4 1 .3-.8.3-.7.4 2.7.3-2.6.3-1.8.4 2.9.3-1.3.3.9.4.9.3-3 .3-.9.4 1.1.3 2.4.3 1.4.4-.3.3-2.9.3.5.4.6.3-1.7.3 1 .4-.3.3 1.8.4-2.2.3 3.2.3-1.5.4-1 .3-2.5.3 2.5.4-.2.3 1.8.3-1.5.4 2.6.3-3.3.3-2.2.4 3.1.3-2.8.3 2.1.4-1.2.3 2.6.3-2.9.4 2.3.3-3.6.3 3.8.4-3 .3 2 .3 1.1.4-2.3.3.5.3 2 .4-1.7.3-.1.3 1.7.4-1.1.3-.9.3.6.4-3.6.3-.7.3 2.3.4 2.1.3-2 .3.4.4 1.2.3.5.3-.1.4-1.7.3 1.5.4-1 .3.4.3 1.5.4 1.9.3-6.1.3 1.5.4-1.3.3.6.3 3.4.4 1.9.3-2.3.3-2.3.4-1.5.3-.5.3 4.4.4-.3.3-1.8.3 2.2.4-.9.3.7.3-2.2.4 2.5.3-4 .3 2.5.4 1.6.3-2.6.3 1 .4-.2.3-.8.3-.6.4-.4.3 1.2.3 3.6.4-4 .3 0 .3 2.1.4-5.2.3 2.1.3.7.4.9.3-1 .3.4.4-.6.3.2.3.8.4-1.8.3 4.1.4-5.3.3 4.1.3-.1.4-1.1.3.8.3-3 .4 3.4.3-1.2.3.6.4.5.3-.3.3 1 .4-1.4.3 1.3.3-3.4.4 2.9.3-3.9.3 1.6.4-3.5.3 4.2.3 2.3.4-4.9.3 1.4.3.5.4-.6.3 3.3.3-3.9.4 5 .3-1.4.3-2.3.4 2.8.3-2 .3-1.1.4.8.3 1.4.3-1.6.4-.3.3 0 .3-.9.4 1.9.3-.6.3-1.6.4.8.3.3.3-1.9.4 2.4.3-1.3.4 1.7.3-1.8.3 1.3.4-.5.3.2.3.3.4 1.1.3-.6.3-1.5.4-.8.3 4 .3-3.2.4-.2.3-1.3.3 1.3.4-2.2.3 2.1.3 1.2.4-1.2.3 3.5.3-2.1.4 1.4.3-3.9.3-.3.4.2.3 2.3.3-2.9.4 2.4.3-.9.3 2 .4-2.5.3.3.3 1.9.4-3.9.3 3.1.3-.4.4-.7.3.2.3 1.7.4 0 .3.2.3-.1.4-2.5.3 1.8.3-.9.4 2.9.3-2 .4-.7.3-2 .3 2.3.4-.3.3-.8.3-2.3.4 2.6.3 2.1.3-2.3.4 0 .3.4.3.9.4-1.5.3.5.3-3.8.4 2 .3-.8.3 3.1.4-1.6.3 1 .3-4.2.4 1.2.3 2 .3.7.4 1.8.3-.9.3-2.8.4-.5.3-.7.3 4.5.4-1.1.3-1.3.3 1.8.4-1.3.3-1.8.3 3.8.4-5.3.3 3.9.3-1.1.4-1.1.3 1.8.3-2.5.4 4.1.3-2.6.3-3 .4 2.3.3 1 .4-1.3.3-.3.3.7.4.7.3 1.1.3-.7.4-.1.3-.5.3 1.4.4-1.3.3-1.8.3 3.3.4-1.6.3-1.2.3 1.9.4-.4.3-1.2.3-1.6.4 2 .3-.4.3-.6.4-.2.3.7" fill="none" stroke="#ff0000" stroke-width="1.35" stroke-linejoin="round"/>
<path d="M387.5 289.9l.3 0 .4-.1.3-.1.3.3.4.3.3-.4.3-.8.4 1.1.3-.7.3 1.3.4-1.2.3 1.1.3-2.2.4 3.5.3-3.2.3.3.4 1.3.3 2.8.3-3.4.4.4.3-3.4.3 4.4.4-1.7.3 1.4.4 1.4.3-4.7.3 1.8.4 2.2.3.3.3-1.5.4-1.9.3.3.3 0 .4 1.4.3.4.3-.5.4 0 .3.3.3-1.6.4 1.1.3-2.8.3 1.6.4 2.3.3-.4.3 1.1.4-4 .3 3.3.3-2.6.4 2.4.3-3.7.3 1.7.4.6.3-1.9.3.9.4 4.2.3-1.3.3-.9.4-1.1.3-.1.3 0 .4 4.2.3-2.8.3.3.4-1.6.3.7.3.7.4-1.3.3.8.3-.4.4-.1.3-.6.4 1.6.3-.8.3 1.3.4-.8.3-1.8.3 1.8.4 0 .3 1.1.3-1.3.4.3.3 1.3.3-.5.4-1.7.3 2.5.3-2.6.4.1.3 1.6.3-1.4.4-2.3.3 2.2.3.3.4 1.8.3-2.8.3-.9.4 3.3.3-1.3.3 1 .4-1.4.3 0 .3.1.4-.2.3-.9.3 1.7.4-2.1.3-.4.3 1.3.4 3 .3-6.6.3 2.2.4-1.5.3 3.3.3-1.1.4-1.7.3 3.5.3-2.8.4 4.8.3-2.4.4.2.3-1.4.3 1.6.4-.8.3-2.3.3 1.3.4-.8.3.8.3-.3.4.2.3.4.3-1.3.4 2.6.3-4 .3 1.4.4-1.1.3 3.2.3-1.6.4 1 .3-1.5.3 1.7.4 0 .3-.2.3 1.2.4-.1.3-2.3.3-1.8.4.7.3 2.9.3-1.8.4 1.5.3-3.1.3 2.7.4-1 .3 0 .3-.4.4.2.3 1.5.3.9.4-1.2.3.8.3-.4.4-2 .3-.4.3 2.3.4.3.3 1.8.4-2.4.3-1.4.3.6.4 1.6.3-1.8.3.3.4-4.6.3 2.3.3 5.5.4-4.1.3.1.3-.4.4 1 .3-1.1.3-.5.4.4.3.4.3 2.2.4-1.3.3-.3.3.2.4 1.3.3-.5.3-.7.4-1.9.3-.2.3 2.5.4-.7.3 2.3.3-3.1.4 1.3.3-1.2.3 0 .4.1.3 0 .3.1.4-2 .3 1 .3.6.4 1.9.3-1 .3-1.7.4 2.4.3-.6.3-2.2.4 2.8.3-4.5.4 2.8.3 2.1.3-3.5.4 1.2.3 2.3.3-2.2.4.4.3.3.3 1.9.4-4.1.3-.5.3 4.5.4-2.3.3-2.1.3 1.7.4 1.4.3-1.5.3 1.6.4-2.6.3 1.2.3-3.4.4 2.7.3-1.1.3 3.9.4-1.5.3.4.3-1 .4-1.6.3.2.3.4.4-.1.3.1.3 3.1.4-3.9.3.3.3-.6.4 2.5.3-1.6.3-.7.4 4.1.3-2.5.3.4.4.7.3-.3.4-1.1.3 0 .3.4.4-.1.3-1.5.3 1.9.4-1.4.3 2.1.3 1.1.4-1.5.3.6.3-.8.4-1 .3-3.9.3 1.2.4 2 .3.1.3 2.3.4-2.5.3.1.3-.4.4-.4.3 1.9.3 2.9.4-4.2.3.9.3 1.3.4-1.6.3-.6.3 1.6.4-.5.3 0 .3-1.8.4 1.8.3-.1.3-.2.4 1.2.3-1.3.3-1.4.4 2 .3-1.7.3.3.4.8.3-2.2.3 3.9.4-2.2.3 1.6.4-1.1.3 1.2.3-2.8.4 2.1.3 1.4.3-3.6.4 3.3.3-.6.3-1 .4 1.9.3-1.4.3-1.8.4 2.3.3-1.7.3 1.4.4-1.3.3-1.5.3 1.6.4 1.6.3-2.9.3 4.1.4-1.9.3.9.3-.4.4.6.3-1.8.3-1.2.4.4.3 1.9.3-1.4.4 1.3.3-.4.3 1.4.4-2.5.3-1.5.3 4 .4-1.4.3-2.7.3 2 .4 3.7.3-5.1.3 3.6.4-2 .3-2.1.3 2.5.4.3.3 1.2.4-2.5.3 3.1.3-1.6.4-2.8.3 2.8.3-1.9.4.6.3.6.3.8.4.6.3-1.9.3 2.3.4-2.3.3.3.3.3.4-1.9.3-.9.3 4 .4-1.1.3 1.5.3.1.4-3.8.3 3.2.3-.9.4-2.7.3 3.4.3 1 .4.2.3-.5.3-.4.4-3 .3 3.2.3-1.1.4-2.3.3 7.2.3-5 .4.8.3-.9.3.7.4-1.9.3.9.3-.3.4 0 .3-.6.3 5.2.4-5 .3 1.2.4 2.4.3-3.9.3 4.4.4-4.7.3 2 .3-.6.4-1.2.3 1 .3-1 .4.7.3 0 .3.1.4-1.8.3 1.9.3-.1.4 1.8.3-1.5.3-.1.4 1 .3-2.4.3.9.4 2.1.3-1.7.3.1.4.8.3-.5.3-1.2.4.7.3 1.4.3-1 .4-1.4.3.1.3 1.6.4-.3.3-.3.3 1.7.4-4 .3.8.3 4.3.4-4.7.3 1.6.3-.2.4.4.3 1.5.3-.7.4-1.3.3 1.4.4.6.3-1.8.3 1.1.4-1.4.3 2 .3-.4.4 1 .3-4.1.3 1.6.4 2.5.3-1 .3-1.8.4.5.3 1.4.3-1 .4 1.5.3-1.4.3 1.5.4-.2.3-1 .3.4.4.2.3-.4" fill="none" stroke="#0000ff" stroke-width="1.35" stroke-linejoin="round"/>
<path d="M387.5 289.9l.3.1.4 0 .3.1.3.2.4 0 .3.4.3 0 .4.7.3-.9.3.5.4-.3.3-.7.3-.5.4 3.2.3-1.1.3.1.4.2.3 1.4.3.1.4 0 .3.2.3 2.9.4-4.2.3-.4.4-3.6.3.6.3 5.8.4.7.3-3.6.3-.8.4.8.3-4 .3 2.2.4.1.3 3.1.3-4.1.4 1.9.3.5.3.4.4-2.3.3-.5.3-2.3.4 4.9.3 0 .3-2.6.4 1 .3-2.5.3 1.7.4 1.3.3-1.8.3.7.4 1.5.3-.8.3-1.9.4 3.3.3.2.3-1.2.4-.7.3.1.3.2.4-3.3.3 3.5.3-2.9.4 1.5.3-.5.3.8.4 1.9.3-1.9.3-1 .4 1.1.3-.9.4-2.7.3-.2.3 1.8.4 3.8.3-3.5.3 1.4.4.9.3-4 .3 4 .4-.8.3-.5.3.6.4-4.6.3 3.3.3-2.6.4 2.8.3-.8.3-.4.4 1.5.3-3.6.3 2.7.4 3.2.3-1.8.3-3 .4 2 .3-.9.3 1 .4-2.6.3 2.5.3-.8.4-1.8.3 2.8.3 1 .4-.4.3-5.7.3 4.5.4 0 .3-.9.3 0 .4.9.3.3.3-2.1.4 1.4.3-.8.3-.8.4 1.7.3-1.4.4-1.9.3 1.9.3-1.9.4 4 .3-1.8.3 1.9.4-4.6.3 5.4.3-1.7.4-2.5.3 4.8.3-4.2.4-.6.3 1.4.3.9.4.6.3 2.2.3-4.8.4-1.5.3 3.2.3-2.4.4-.1.3 1.9.3 2.1.4-3.3.3.1.3.8.4-.2.3 2.1.3-1.6.4-2 .3 5.5.3-4.5.4-1.6.3 3.4.3-.9.4.9.3-1.1.3.1.4.2.3 1.1.3-4.7.4 3.5.3-.2.3 3.3.4-4.4.3 2.9.4-.4.3-2.5.3 1.9.4.4.3.6.3-.5.4-1.5.3.9.3-1.8.4-.4.3.6.3-.4.4-.2.3 3.7.3-5.1.4 3.2.3 0 .3-2.4.4 3.8.3-3.5.3 1.8.4-2.9.3.4.3.8.4 1.7.3 1.9.3-4.2.4 3.1.3-2.2.3 2 .4 0 .3-.8.3.2.4-3.4.3 3.9.3.8.4-2.1.3 1.5.3-.1.4.6.3-3 .3.4.4 1.9.3 0 .3 1 .4-2.6.3.4.4-1.1.3.7.3 2.5.4-2.1.3.8.3-.9.4-.4.3.4.3 0 .4-1.5.3.3.3.9.4 1.1.3-1 .3-2.2.4 6.4.3-3.6.3-1 .4.7.3-.2.3.1.4.8.3-.2.3-.5.4 1.5.3-3.1.3 4.5.4-2.7.3-1.9.3-1.5.4 3.4.3.7.3-1.7.4.2.3-.2.3 1.5.4-.5.3-2.7.3 2.9.4-.5.3.6.3-2 .4 2.5.3.9.4-5.4.3 4.7.3-1.5.4 0 .3-.3.3-.2.4.9.3-.9.3-3.2.4 4.8.3-.8.3.8.4-3.8.3 3.5.3-1.8.4 2.3.3-.8.3 1.8.4-.5.3-.1.3-4.9.4 5.2.3-.9.3-1.1.4 2 .3-1.6.3.3.4.2.3-1.6.3 1.2.4-2.5.3 3.4.3-1.4.4.8.3-2 .3.2.4 1.6.3 1.7.3-4.4.4-.1.3 1.3.3 2.7.4-1.5.3 1.8.3-2.3.4-1 .3 1 .4 1 .3-2.3.3 2 .4-.3.3-.3.3 1.1.4-3 .3.9.3 2 .4-.5.3.6.3.4.4 1.7.3-1.7.3.9.4-2.1.3 1.3.3-.8.4-1.3.3.6.3-.3.4-.4.3.1.3 3.8.4-4.4.3 1.2.3-3.3.4 2.4.3 1.4.3 1.3.4-3.6.3 2.1.3-.9.4 1 .3-1.4.3 1.2.4.5.3-.5.3 2.6.4-1.6.3 0 .3-3.8.4 4.7.3-.9.3 1.4.4-3 .3 1.5.4 2.9.3-3.2.3-.1.4.5.3 1.1.3-2.6.4 1.2.3-2.5.3-.6.4 1.4.3-.1.3-1.2.4.5.3.6.3 1.9.4.1.3.9.3-1.4.4-1.1.3-.5.3 2.6.4-1 .3 1 .3-2.1.4-.5.3 1.2.3 4.7.4-3.9.3-.3.3.3.4-1.7.3 4.3.3-4.7.4 1.3.3.3.3-1.7.4 1.1.3-.4.3 1.8.4-1.2.3 1.9.3.4.4-4.6.3 3.9.3-.6.4-1.1.3 2.4.4-1.1.3-1.8.3-.8.4 2.1.3 1.1.3-2.1.4 4.3.3-6 .3 3.5.4-1.5.3 2.9.3-1 .4-.4.3-1.3.3-.3.4 3 .3-2.9.3.8.4-1.2.3 1.1.3-3 .4 6.6.3-1.2.3-4 .4.2.3 1.8.3.8.4 0 .3-2.7.3 2.4.4-.7.3-.8.3 2.9.4-1.2.3.3.3-.4.4-.6.3 3.3.3-3.5.4-2.3.3 2.4.3-1.8.4 3.8.3.6.3-2.8.4 1.5.3-1.3.4 2.4.3.4.3-1.7.4-.6.3-1.1.3-1.7.4 1.9.3.8.3.1.4 1.4.3-.3.3-.4.4 1.6.3-4.1.3 3.5.4-2.7.3 2.2.3 1.1.4.7.3-2.6.3-.3.4 2 .3-.4" fill="none" stroke="#000000" stroke-width="1.35" stroke-linejoin="round"/>
<path d="M387.5 289.9l.3.1.4-.3.3.1.3 0 .4 1.2.3-1.6.3 1.4.4-.8.3.7.3-.8.4.4.3.1.3-.4.4.7.3-.3.3 1.2.4.8.3-2.6.3-.2.4.9.3-2.9.3 2.7.4-1.1.3-.5.4-1 .3 1.9.3 1 .4-1.4.3-.6.3.5.4.6.3-1.4.3.8.4-.7.3 1.3.3 2.6.4-2.2.3 2.6.3-3.8.4-.6.3 1.2.3.5.4.4.3 0 .3-1 .4 1.7.3-1.3.3 1.1.4-.4.3-.3.3 0 .4-1.3.3 1.7.3.1.4-1.5.3 4.3.3-3.4.4-2 .3-.4.3 1 .4-1.9.3 3.7.3-2.1.4 2 .3-2.4.3 2.2.4 1.2.3-.7.3-3.2.4 2.5.3-.6.4 2.2.3-1 .3 2 .4-2.3.3-1.7.3.3.4 2.9.3-3 .3 1.7.4 2.8.3-3 .3-1.2.4 2.5.3-.6.3-2.1.4 2.8.3-.8.3.8.4-1.9.3 2.6.3-2.3.4 2.5.3-3.2.3 2.1.4.1.3-2.2.3-.8.4 1.7.3-.1.3.3.4.8.3 3.4.3-2.8.4 2.1.3-1.7.3 1.1.4-.7.3-.6.3.7.4 2.4.3-5.3.3 2.7.4.6.3-2.5.3 2.6.4-.5.3 1.6.4-.8.3-.9.3.5.4-3.3.3 5.9.3-2.4.4-2.3.3.7.3 1.1.4-.5.3 1.2.3-1.2.4 1.7.3-1.3.3.6.4-1.8.3.9.3 1 .4-1.1.3 1 .3-.1.4-1.7.3 3.7.3-3.3.4 4.3.3-.9.3-.6.4-.8.3-1.2.3 3.6.4.5.3-3.7.3 3.5.4-.9.3-.3.3-.5.4-1 .3.3.3.4.4 1.6.3-3.6.3 2.1.4-1.8.3 1.7.3-.5.4-.6.3 1.9.4.1.3-2.7.3.8.4 1.7.3-1.4.3 1.2.4-4.3.3 3.4.3.1.4.9.3 2.7.3-3.5.4.2.3 2.3.3-2.2.4 2.5.3-1.2.3-3.5.4 2.7.3 2 .3-1.9.4.2.3-.2.3 0 .4 1.6.3-1 .3-.4.4 3 .3-5.3.3 1.1.4.5.3-.1.3-1.8.4 6.1.3-3.8.3.9.4-.8.3-1.6.3 4.9.4-3.3.3.3.3-.2.4.5.3 1.6.3-2.1.4-4.6.3 3.8.4-.5.3 2.3.3-1.4.4 1.3.3-.4.3-1 .4 1.8.3-1.4.3-1.3.4-.4.3.7.3-2.2.4 3.6.3.4.3-2 .4-1.6.3 1.7.3 2.9.4-1.6.3.4.3.3.4-.4.3-.2.3 1.2.4-.1.3-1.8.3 0 .4.9.3.6.3.3.4-.9.3-.1.3-1.3.4 3.3.3-1.7.3 1.1.4-1.5.3-1 .3.7.4 0 .3 1.5.3-1.2.4 2 .3-.7.4 2.8.3-5.9.3 4.3.4-2.7.3.7.3.5.4 1.2.3-1.5.3-.7.4 3 .3-3.3.3 2.3.4-1.6.3 2 .3-1.7.4-1.1.3-.5.3.7.4 1.9.3 1 .3-1.8.4.3.3-2.5.3 1.8.4 1.8.3 0 .3-3.2.4 1.1.3-.2.3 1.2.4-1.3.3 1 .3 1.8.4-1.6.3-.7.3.7.4-2.2.3 1.9.3.3.4 2.1.3-3.6.3 2.8.4-.7.3 1.8.3-.4.4-1.4.3-1 .4 2.6.3.3.3-2.8.4 2.8.3-2.3.3 1.2.4-2.7.3 2.2.3-.7.4-.1.3-.9.3.2.4 1.5.3-1.2.3-2.1.4 1 .3 3.4.3-1.8.4-.3.3 2.4.3-4.8.4 1.1.3 2.4.3.7.4-1.1.3-2.1.3 3 .4-1.1.3-1.5.3-1.8.4 3.1.3-1.1.3-.3.4.2.3.6.3-.2.4.9.3 1.8.3-5 .4 1.7.3 1.4.3.1.4.6.3-1 .3 0 .4.8.3 1 .4-.6.3-1.4.3 1.6.4-.5.3-1.6.3 2.3.4-.1.3-2.5.3 2.8.4-1.8.3 3.2.3-4.2.4 1.4.3-.2.3-1.2.4.7.3 1 .3-.8.4.9.3-1.1.3 1.2.4-.1.3-1.8.3-2.3.4 4.3.3-2 .3-5 .4 7.8.3-1.7.3 1.4.4.3.3 3.2.3-3.9.4.9.3.5.3.6.4-2.6.3.4.3.8.4-3.1.3 2.9.3 1.3.4-1.9.3 1.1.3-2.5.4 2.4.3-3.6.4 1.9.3 2.1.3-2.7.4 1.9.3-2.4.3 1.7.4 0 .3-.6.3-.8.4.7.3-.9.3.2.4-.4.3 1.2.3 2.1.4 1.8.3-2.6.3-.2.4-1.8.3.2.3 2.2.4.4.3-2.7.3.5.4 2.3.3.1.3-.4.4-2 .3 0 .3.7.4-3.4.3 3.8.3.8.4-1.1.3.3.3-1.9.4 2 .3-.1.3-1.3.4 1.1.3-2 .3.6.4 1.1.3-1.1.3-.3.4-.2.3 2.1.4 1 .3.3.3-1.7.4-.3.3.3.3 1.2.4-2.6.3 1.3.3.2.4-.6.3 2.2.3-1.5.4-.9.3 2.6.3-3.6.4 1.1.3.2.3-.9.4 2.7.3-3.3.3 1.8.4-1.5.3.9" fill="none" stroke="#00a651" stroke-width="1.35" stroke-linejoin="round"/>
<rect x="387.5" y="228.7" width="156.0" height="84.4" fill="none" stroke="#8a8a8a" stroke-width="1"/>
<text x="383.9" y="230.9" font-size="4.9" text-anchor="end" class="t">0.015</text>
<text x="383.9" y="273.1" font-size="4.9" text-anchor="end" class="t">0.005</text>
<text x="383.9" y="315.3" font-size="4.9" text-anchor="end" class="t">-0.005</text>
<text x="387.5" y="320.7" font-size="4.9" text-anchor="middle" class="t">0</text>
<text x="413.5" y="320.7" font-size="4.9" text-anchor="middle" class="t">5</text>
<text x="439.5" y="320.7" font-size="4.9" text-anchor="middle" class="t">10</text>
<text x="465.5" y="320.7" font-size="4.9" text-anchor="middle" class="t">15</text>
<text x="491.5" y="320.7" font-size="4.9" text-anchor="middle" class="t">20</text>
<text x="517.5" y="320.7" font-size="4.9" text-anchor="middle" class="t">25</text>
<text x="543.5" y="320.7" font-size="4.9" text-anchor="middle" class="t">30</text>
<text x="465.5" y="328.5" font-size="5.3" text-anchor="middle" class="t">Time [s]</text>
<text transform="translate(369.8,270.9) rotate(-90)" font-size="5.5" text-anchor="middle" class="t">Torque [N m]</text>
<rect x="387.5" y="228.7" width="10.6" height="10.1" fill="#fff" stroke="#5c6068" stroke-width="0.8"/>
<text x="392.8" y="237.4" font-size="9.4" text-anchor="middle" class="L">I</text>
<rect x="490.7" y="228.7" width="52.5" height="13.9" fill="#fff" stroke="#7a7a7a" stroke-width="0.8"/>
<line x1="496.1" y1="232.4" x2="506.5" y2="232.4" stroke="#ff5a5a" stroke-width="1.5"/>
<text x="507.3" y="234.1" font-size="4.8" class="t2">S1</text>
<line x1="522.0" y1="232.4" x2="532.4" y2="232.4" stroke="#5a5aff" stroke-width="1.5"/>
<text x="533.2" y="234.1" font-size="4.8" class="t2">S2</text>
<line x1="496.1" y1="239.2" x2="506.5" y2="239.2" stroke="#505050" stroke-width="1.5"/>
<text x="507.3" y="240.9" font-size="4.8" class="t2">S3</text>
<line x1="522.0" y1="239.2" x2="532.4" y2="239.2" stroke="#3fbf7f" stroke-width="1.5"/>
<text x="533.2" y="240.9" font-size="4.8" class="t2">S4</text>
</svg></body></html>
